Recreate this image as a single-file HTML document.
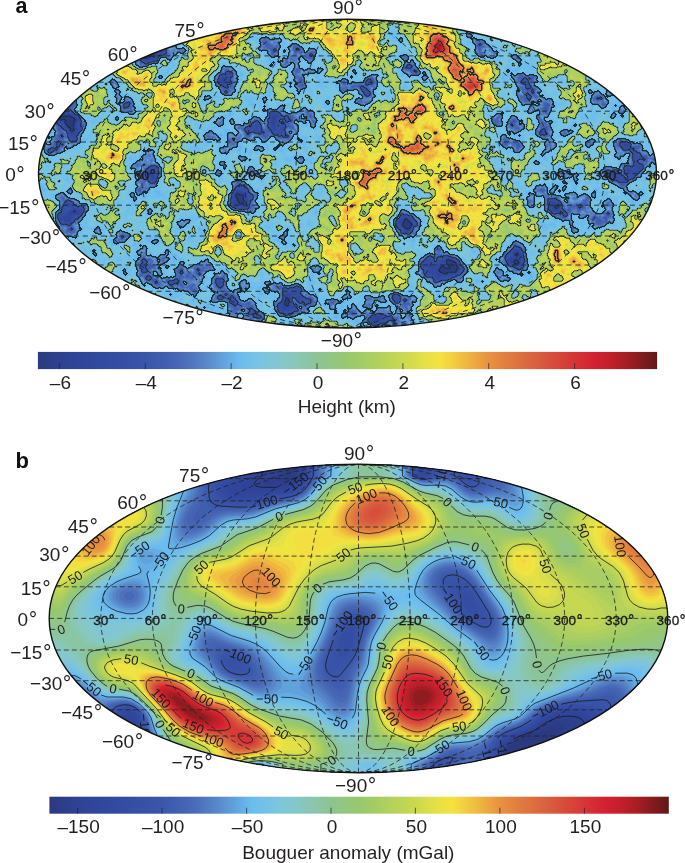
<!DOCTYPE html><html><head><meta charset="utf-8"><title>Figure</title>
<style>html,body{margin:0;padding:0;background:#fff;}svg{display:block;}</style></head><body>
<svg width="685" height="863" viewBox="0 0 685 863" font-family='"Liberation Sans", Arial, Helvetica, sans-serif'>
<defs><clipPath id="ca"><path d="M38.5 173.6A309 154.4 0 1 0 656.5 173.6A309 154.4 0 1 0 38.5 173.6Z"/></clipPath><clipPath id="cb"><path d="M49.2 618.4A309.3 154.3 0 1 0 667.8 618.4A309.3 154.3 0 1 0 49.2 618.4Z"/></clipPath></defs>
<filter id="fa" filterUnits="userSpaceOnUse" x="30" y="12" width="636" height="324" color-interpolation-filters="sRGB">
<feGaussianBlur in="SourceGraphic" stdDeviation="1.0" result="f"/>
<feTurbulence type="fractalNoise" baseFrequency="0.065" numOctaves="4" seed="7" result="n0"/>
<feColorMatrix in="n0" type="matrix" values="1 0 0 0 0 1 0 0 0 0 1 0 0 0 0 0 0 0 0 1" result="n"/>
<feComposite in="f" in2="n" operator="arithmetic" k2="1" k3="0.38" k4="-0.19" result="p"/>
<feComponentTransfer in="p" result="col"><feFuncR type="table" tableValues="0.169 0.169 0.169 0.169 0.169 0.169 0.169 0.169 0.169 0.169 0.169 0.169 0.169 0.169 0.169 0.169 0.169 0.169 0.169 0.169 0.169 0.169 0.169 0.169 0.169 0.169 0.169 0.173 0.173 0.176 0.176 0.176 0.18 0.18 0.18 0.18 0.184 0.184 0.184 0.188 0.188 0.188 0.188 0.192 0.192 0.192 0.192 0.196 0.196 0.196 0.2 0.2 0.204 0.204 0.204 0.208 0.208 0.212 0.212 0.212 0.216 0.216 0.22 0.22 0.224 0.224 0.227 0.227 0.235 0.239 0.247 0.251 0.259 0.263 0.271 0.275 0.282 0.29 0.298 0.306 0.314 0.322 0.333 0.341 0.349 0.357 0.365 0.373 0.38 0.384 0.392 0.4 0.404 0.408 0.408 0.412 0.416 0.42 0.424 0.424 0.427 0.431 0.435 0.439 0.443 0.447 0.451 0.455 0.459 0.463 0.467 0.467 0.471 0.475 0.478 0.478 0.482 0.486 0.49 0.494 0.514 0.533 0.545 0.557 0.573 0.592 0.62 0.627 0.635 0.643 0.651 0.659 0.667 0.675 0.682 0.69 0.698 0.706 0.714 0.722 0.733 0.741 0.753 0.761 0.773 0.78 0.792 0.808 0.82 0.831 0.847 0.859 0.871 0.882 0.894 0.902 0.91 0.922 0.929 0.937 0.945 0.953 0.957 0.957 0.953 0.953 0.953 0.949 0.949 0.949 0.949 0.945 0.945 0.945 0.941 0.941 0.941 0.937 0.933 0.933 0.929 0.925 0.922 0.922 0.918 0.914 0.91 0.91 0.906 0.902 0.898 0.894 0.89 0.89 0.886 0.882 0.878 0.875 0.871 0.867 0.863 0.863 0.859 0.855 0.851 0.847 0.847 0.847 0.847 0.843 0.843 0.843 0.843 0.843 0.843 0.839 0.839 0.839 0.839 0.839 0.835 0.835 0.835 0.835 0.835 0.835 0.831 0.831 0.831 0.827 0.82 0.808 0.796 0.784 0.773 0.761 0.749 0.737 0.729 0.714 0.69 0.671 0.647 0.627 0.604 0.584 0.561 0.541 0.518 0.498 0.475 0.455 0.431 0.412 0.388 0.376 0.376"/><feFuncG type="table" tableValues="0.227 0.227 0.227 0.227 0.227 0.227 0.227 0.227 0.227 0.227 0.227 0.227 0.227 0.227 0.227 0.227 0.227 0.227 0.227 0.227 0.227 0.227 0.227 0.227 0.227 0.227 0.231 0.235 0.239 0.243 0.243 0.247 0.251 0.255 0.255 0.259 0.263 0.263 0.267 0.267 0.271 0.271 0.275 0.275 0.278 0.278 0.282 0.282 0.286 0.286 0.29 0.294 0.298 0.298 0.302 0.306 0.306 0.31 0.314 0.314 0.318 0.322 0.322 0.325 0.329 0.329 0.333 0.337 0.345 0.353 0.361 0.369 0.376 0.384 0.392 0.4 0.408 0.42 0.435 0.451 0.467 0.482 0.502 0.518 0.537 0.561 0.58 0.604 0.627 0.647 0.671 0.694 0.702 0.71 0.718 0.725 0.733 0.737 0.741 0.741 0.745 0.745 0.749 0.749 0.753 0.753 0.753 0.757 0.757 0.761 0.761 0.765 0.765 0.765 0.765 0.769 0.769 0.773 0.773 0.773 0.78 0.784 0.773 0.773 0.776 0.784 0.792 0.796 0.796 0.8 0.804 0.804 0.808 0.812 0.812 0.816 0.82 0.82 0.824 0.827 0.831 0.831 0.835 0.839 0.843 0.847 0.851 0.855 0.859 0.863 0.867 0.871 0.875 0.878 0.882 0.886 0.886 0.89 0.894 0.894 0.898 0.902 0.898 0.886 0.875 0.863 0.855 0.843 0.831 0.82 0.812 0.8 0.788 0.78 0.769 0.757 0.745 0.729 0.714 0.694 0.678 0.663 0.643 0.627 0.612 0.592 0.576 0.561 0.549 0.541 0.529 0.522 0.51 0.502 0.49 0.478 0.471 0.459 0.451 0.439 0.427 0.42 0.408 0.4 0.388 0.38 0.369 0.357 0.345 0.337 0.325 0.314 0.306 0.294 0.282 0.271 0.263 0.251 0.239 0.231 0.22 0.208 0.196 0.188 0.176 0.165 0.157 0.145 0.133 0.125 0.125 0.125 0.125 0.125 0.125 0.125 0.125 0.125 0.125 0.125 0.122 0.122 0.118 0.118 0.114 0.114 0.11 0.11 0.106 0.106 0.102 0.102 0.098 0.098 0.094 0.094 0.094"/><feFuncB type="table" tableValues="0.494 0.494 0.494 0.494 0.494 0.494 0.494 0.494 0.494 0.494 0.494 0.494 0.494 0.494 0.494 0.494 0.494 0.494 0.494 0.494 0.494 0.494 0.494 0.494 0.494 0.498 0.506 0.518 0.525 0.533 0.545 0.553 0.561 0.573 0.576 0.58 0.584 0.588 0.588 0.592 0.596 0.6 0.604 0.608 0.612 0.616 0.62 0.624 0.627 0.627 0.631 0.631 0.635 0.635 0.639 0.643 0.643 0.647 0.647 0.651 0.651 0.655 0.655 0.659 0.659 0.663 0.663 0.667 0.675 0.678 0.682 0.686 0.694 0.698 0.702 0.706 0.714 0.722 0.729 0.741 0.749 0.757 0.769 0.78 0.792 0.808 0.827 0.843 0.859 0.875 0.89 0.91 0.918 0.922 0.929 0.933 0.937 0.941 0.937 0.933 0.929 0.925 0.925 0.922 0.918 0.914 0.914 0.91 0.906 0.902 0.898 0.894 0.89 0.882 0.878 0.875 0.867 0.863 0.855 0.847 0.804 0.737 0.643 0.561 0.498 0.435 0.408 0.404 0.4 0.396 0.392 0.388 0.384 0.376 0.373 0.369 0.365 0.361 0.353 0.349 0.345 0.337 0.333 0.325 0.322 0.314 0.31 0.306 0.302 0.298 0.29 0.286 0.282 0.278 0.275 0.271 0.267 0.263 0.263 0.259 0.255 0.251 0.251 0.251 0.251 0.251 0.251 0.251 0.251 0.251 0.251 0.251 0.251 0.251 0.251 0.251 0.251 0.251 0.251 0.251 0.251 0.251 0.251 0.251 0.251 0.251 0.251 0.251 0.251 0.251 0.251 0.251 0.251 0.251 0.251 0.251 0.251 0.251 0.251 0.251 0.251 0.251 0.251 0.251 0.251 0.251 0.247 0.247 0.243 0.239 0.239 0.235 0.231 0.231 0.227 0.224 0.224 0.22 0.216 0.216 0.212 0.208 0.208 0.204 0.2 0.2 0.196 0.192 0.192 0.188 0.184 0.18 0.176 0.176 0.173 0.169 0.165 0.161 0.157 0.157 0.153 0.149 0.145 0.141 0.137 0.133 0.129 0.125 0.122 0.118 0.114 0.11 0.106 0.102 0.098 0.094 0.094"/></feComponentTransfer>
<feComponentTransfer in="p" result="q"><feFuncR type="discrete" tableValues="0 0 0 0 0 0 0 0 0 0 0 0 0 0 0 0 .1 .1 .1 .1 .1 .1 .1 .1 .1 .1 .1 .1 .1 .1 .1 .1 .1 .2 .2 .2 .2 .2 .2 .2 .2 .2 .2 .2 .2 .4 .4 .4 .4 .4 .4 .4 .4 .4 .4 .4 .4 .4 .4 .4 .4 .5 .5 .5 .5 .5 .5 .5 .5 .5 .5 .5 .5 .6 .6 .6 .6 .6 .6 .6 .6 .6 .6 .6 .6 .6 .6 .6 .6 .6 .6 .6 .6 .8 .8 .8 .8 .8 .8 .8 .8 .8 .8 .8 .8 .8 .8 .8 .8 .8 .8 .9 .9 .9 .9 .9 .9 .9 .9 .9 .9 .9 .9 .9 .9 .9 .9 .9"/></feComponentTransfer>
<feConvolveMatrix in="q" order="3" kernelMatrix="0 -1 0 -1 4 -1 0 -1 0" preserveAlpha="true" result="e1"/>
<feConvolveMatrix in="q" order="3" kernelMatrix="0 1 0 1 -4 1 0 1 0" preserveAlpha="true" result="e2"/>
<feComposite in="e1" in2="e2" operator="arithmetic" k2="1" k3="0.35" result="e"/>
<feColorMatrix in="e" type="matrix" values="0 0 0 0 0.1 0 0 0 0 0.16 0 0 0 0 0.16 6 0 0 0 0" result="ln0"/>
<feGaussianBlur in="ln0" stdDeviation="0.4" result="ln"/>
<feComposite in="ln" in2="col" operator="over"/>
</filter>
<g clip-path="url(#ca)"><g filter="url(#fa)">
<rect x="30" y="12" width="636" height="324" fill="#020202"/>
<path d="M34.5 15.2l626 0 0 316-626 0 0-316z" fill="#060606" fill-rule="evenodd"/>
<path d="M34.5 15.2l626 0 0 316-626 0 0-316z" fill="#0a0a0a" fill-rule="evenodd"/>
<path d="M34.5 15.2l626 0 0 316-626 0 0-316z" fill="#0e0e0e" fill-rule="evenodd"/>
<path d="M34.5 15.2l626 0 0 316-626 0 0-316z" fill="#121212" fill-rule="evenodd"/>
<path d="M34.5 15.2l626 0 0 316-626 0 0-316z" fill="#161616" fill-rule="evenodd"/>
<path d="M34.5 15.2l626 0 0 316-626 0 0-316z" fill="#1a1a1a" fill-rule="evenodd"/>
<path d="M34.5 15.2l626 0 0 316-626 0 0-316z" fill="#1e1e1e" fill-rule="evenodd"/>
<path d="M34.5 15.2l626 0 0 316-626 0 0-316z" fill="#222222" fill-rule="evenodd"/>
<path d="M34.5 15.2l626 0 0 316-626 0 0-316zM142.5 39l-2 .5-1 1.7 1 2.1 4 2.4 2 .4 3-.9 .7-2-1.2-2-4-2-2.5-.2z" fill="#262626" fill-rule="evenodd"/>
<path d="M34.5 15.2l626 0 0 316-626 0 0-316zM140.5 37.1l-2 .4-2.2 1.7 .1 2 3.4 4 3.3 2 3.4 .9 4-.3 2-1.7 .4-2.9-1.1-2-2.4-2-4.9-1.7-4-.4z" fill="#2a2a2a" fill-rule="evenodd"/>
<path d="M34.5 15.2l626 0 0 316-626 0 0-316zM134.5 37.1l-.9 2.1 1.9 4 3 2.8 4 2.4 4 1.3 4 0 2-.6 2.1-1.9 .4-4-1-2-3.5-2.8-8-2.4-4-.1-4 1.2z" fill="#2e2e2e" fill-rule="evenodd"/>
<path d="M34.5 15.2l626 0 0 316-626 0 0-316zM134.5 35l-3.1 2.2 .9 4 3.3 4 4.9 3.5 6 2.3 4 .3 4-1.3 2-2.2 .7-2.6-1.4-4-5-4-8.3-2.2-8 0zM290.5 305l0 .9 .5-.7-.5-.2zM442.5 266.8l-2.9 2.4 .7 2 4.2 .9 3-.9 1.1-2-1.6-2-4.5-.4z" fill="#323232" fill-rule="evenodd"/>
<path d="M34.5 15.2l626 0 0 316-626 0 0-316zM58.5 110.8l-.1 6.4 2.1 5.9 4 4.6 2 .7 2-.2 1.3-1 .7-2.6-4-9.2-4-5.1-2-.9-2 1.4zM130.5 34.7l-1.4 2.5 1.5 4 3.9 4.5 6 4.1 6 2.3 4 .4 4-.7 3.4-2.6 .8-2-.2-4-2.7-4-2.8-2-5.1-2-7.4-1.3-6-.2-4 1zM288.5 302.2l-2 1.9 0 3.2 2 1.9 2 .4 2.4-.4 1.6-1.3 1-2.7-.8-2-2.2-1.3-4 .3zM440.5 264.8l-3.5 2.4-.8 2 .3 2 2 2 4 1.1 4-.2 2.7-.9 2.3-2 .5-2-.8-2-2.3-2-4.4-1-4 .6z" fill="#363636" fill-rule="evenodd"/>
<path d="M34.5 15.2l626 0 0 316-626 0 0-316zM58.5 106l-2 2.4-.5 4.8 .5 4.3 2 6.4 2 3.7 3.6 3.6 2.4 .8 4-.5 2.7-2.3 .7-2-.8-4-8.6-14.2-4-3-2 0zM130.5 32.8l-2 .5-1.5 1.9 .9 4 4.5 6 6.1 4.6 8 3.4 6 .5 4-1.1 3.3-3.4 .6-2-.4-4-2.5-4-2.6-2-4.4-2-8-1.8-12-.6zM286.5 301.1l-2 2.1-.5 2 .3 2 2.2 2.6 4 1.4 2-.3 4-2.5 1.2-3.2-.5-2-1.8-2-4.9-1.3-4 1.2zM440.5 262.9l-4 2-2 2.3-.4 4 2.4 2.9 4 1.5 6 .1 4-1.2 2.1-1.3 1.5-2 .3-2-.6-2-3.3-3.2-4-1.4-6 .3z" fill="#3a3a3a" fill-rule="evenodd"/>
<path d="M34.5 15.2l626 0 0 316-626 0 0-316zM56.5 104.2l-1.5 3-.4 6 1.4 8 2.5 6.8 2 3.2 4 3.1 4 .4 4-1.4 2.6-2.1 1.5-4-2.3-6-9.8-14.8-4-2.9-2-.2-2 .9zM126.5 31.9l-1.7 1.3-.1 2 2.8 6 5 5.4 6 4.3 8 3.3 6 .7 4-.7 4.1-3 1.4-4-.5-4-2.5-4-2.5-2.1-4-2-8-2.1-12-1.4-6 .3zM288.5 298.7l-4.6 2.5-1.3 2 0 4 1.2 2 2.7 2.1 4 .9 4.7-1 2.7-2 1.2-2 .4-2-1-3.3-4-2.9-6-.3zM442.5 261.1l-6.5 2.1-3.5 4-.3 4 2.3 3.5 4 1.9 6 .6 6-1.1 4.5-2.9 1.4-4-1.9-4.1-2.1-1.9-3.9-1.7-6-.4zM66.5 211.2l-2 .6-.9 1.4-.6 4 1.5 4 2 1.4 2 .4 3.1-1.8 .7-2-.3-2-2.3-4-3.2-2z" fill="#3e3e3e" fill-rule="evenodd"/>
<path d="M34.5 15.2l87.6 0 0 18 4 8 5.6 6 6.8 4.6 8 3.3 6 .9 5.3-.8 3.1-2 2.2-4-.2-6-2.4-4-5.8-4-6.2-2-11.8-2-1.6-2 0-14 525.4 0 0 316-626 0 0-316zM56.5 101.6l-1.6 1.6-.9 2-.6 6 1.1 9.4 2.8 8.6 2.3 4 2.9 2.8 4 1.1 6-1.5 3.6-2.4 1.7-2 .8-2-.3-4-9.8-15.7-4-5.2-4-2.7-4 0zM242.5 193.2l-1.9 2 .1 2 1.8 2 2 .1 1.8-2.1-.2-2-1.6-1.8-2-.2zM290.5 297.2l-4 .7-2.7 1.3-1.9 2-1.1 4 1.3 4 2 2 6.4 2 4-.6 2.9-1.4 2.1-2 1.6-4-1-4-1.9-2-3.7-1.6-4-.4zM438.5 260.6l-4.9 2.6-2.8 4-.3 4 .7 2 3.3 3.3 6 1.7 6 0 6-1.5 4.6-3.5 .8-2-.3-4-3.1-4.2-4-2.2-4-.9-8 .7zM64.5 208.1l-2 1.5-1.3 3.6-.1 4 .9 4 1.2 2 3 2 4.5 0 1.8-.9 2-2.4 .1-4.7-4.1-6.6-4-2.5-2 0z" fill="#424242" fill-rule="evenodd"/>
<path d="M34.5 15.2l83.9 0 .2 16 7.7 12 6.6 6 6.5 4 7.1 2.8 8 1.1 6-1.6 2.5-2.3 1.7-4-.5-6-2.3-4-5.3-4-5.6-2-10.1-2-1.3-2 0-14 520.9 0 0 316-424.5 0 0-12-1.5-.5-.4 12.5-199.6 0 0-316zM54.5 100.8l-1.8 4.4-.3 8 1.6 10 2.6 8 2.2 4 3.7 3.2 4 .8 6-1.6 4-2.4 3.5-4 .7-2-.6-4-11.6-17.9-4-4.9-2-1.5-4-1.5-2 .2-2 1.2zM242.5 190.5l-2 .8-1.6 1.9-.5 4 2.1 3.2 2 1.1 2 .1 2-.7 1.7-1.7 .5-4-2.2-3.6-4-1.1zM286.5 296.6l-4.9 2.6-2.1 4 .3 4 2.6 4 3.6 2 4.5 .8 5-.8 3.7-2 1.9-2 1.5-4-.7-4-1.4-2-3.1-2-2.9-.8-8 .2zM440.5 258.8l-6.5 2.4-3.9 4-1.1 6 1.7 4 3.8 2.7 8 1.5 8-.9 3.9-1.3 2.9-2 1.5-2 .8-4-1.1-3.3-2-2.8-2.3-1.9-4.6-2-5.1-.7-4 .3zM62.5 206.3l-2 2.8-.8 4.1 .2 6 1.2 4 1.4 2 3.6 2 2.4 .3 4-.8 2.5-1.5 1.5-2 .5-4-1.3-4-3.2-4.9-4-3.7-4-1.1-2 .8z" fill="#464646" fill-rule="evenodd"/>
<path d="M34.5 15.2l81.2 0 .3 16 9 12 6.5 6 7 4.4 8 3.3 8 1.3 6-1.1 4-3.5 1.6-4.4-.5-6-2.2-4-5.1-4-5-2-9.1-2-1.2-2 0-14 517.5 0 0 316-418.6 0 .5-18-1.9-4.1-2-1.2-2 0-2 .9-2 2.1-5.8 8.3 0 12-192.2 0 0-316zM54.5 98.5l-2 2.6-.5 2.1-.4 10 1.4 10 3.5 11.4 2 3.2 4 2.9 4 .5 6-1.8 4-2.2 4.3-4 1.8-4-.8-4-13.3-19.9-3.5-4.1-2.5-1.9-4-1.5-4 .7zM122.5 102.4l0 1.9 2 1.2 1.3-.3 1.2-2-2.5-1.9-2 1.1zM144.5 172.5l0 2.1 2-1.4-2-.7zM240.5 189l-2 1.6-1.5 2.6-.2 4 .8 2 1.6 2 3.3 1.9 4-.3 2.4-1.6 1.2-2 .5-2-.7-4-1.4-2.4-2-1.6-4-.7-2 .5zM268.5 124l-2 1.2-.4 2 2.4 1.7 4 .1 3.7-1.8 .1-2-1.8-1.2-2-.7-4 .7zM288.5 295.1l-6 1.7-2.9 2.4-1.6 4 .4 4 .9 2 3.2 3.2 4 1.8 6 .4 5.3-1.4 3-2 2.7-4 .5-4-.4-2-1.1-2.1-4-2.9-4-1-6-.1zM408.5 222.3l-.7 .9 .7 2.2 1.1-2.2-1.1-.9zM436.5 258.6l-6 3.8-2.6 4.8 .1 6 2.8 4 5.7 2.5 10 .5 8-1.8 4.7-3.2 1.3-2.1 .5-3.9-1.4-4-3.3-4-3.8-2.3-6-1.4-6 .2-4 .9zM516.5 254.9l-4 2-2 2.3-1.5 4 .1 2 1.4 2.2 2 .5 3.1-.7 2.6-2 1.4-2 .9-2.2 0-3.8-1.8-2-2.2-.3zM632.5 152.9l-3.1 2.3-1.6 4 1 4 1.7 1.2 2 .2 4-2.1 2-2.6 .9-2.7-.1-2-1.5-2-3.3-.7-2 .4zM62.5 203.7l-2 1.8-2 6.6 .1 7.1 1.9 6 2 2.2 4 1.7 4-.1 4-1.2 3.2-2.6 1-2 .1-4-1.5-4-2.8-4.7-4-4.4-4-2.5-4 .1z" fill="#4a4a4a" fill-rule="evenodd"/>
<path d="M34.5 15.2l78.8 0 .4 16 2.8 2.5 9.1 11.5 7.3 6 7.6 4.3 8 2.8 8 1 6-1.6 2.7-2.5 1.9-4 .3-6-2.7-6-4.2-3.7-5.1-2.3-8.3-2-1.1-2 0-14 514.5 0 0 316-415.9 0 .5-16-.6-5.6-2.6-4.4-3.4-1.9-2-.1-4.4 2-5.9 10-3.9 4 0 12-187.8 0 0-316zM54.5 96.4l-2.7 2.8-.9 4-.2 6 1 12 2.8 12.1 2.9 5.9 3.1 2.9 4 1 6-1.2 6-3 4.5-3.7 2.8-4 .4-4-1.9-4-15.8-22.2-6-4.1-4-.8-2 .3zM124.5 99.2l-2 .2-2 1.5-.7 2.3 .7 2.5 2 1.7 2 .3 2-.3 2-1.4 1.1-2.8-1.1-2.1-4-1.9zM144.5 166.1l-2.6 3.1-1.3 6 1.3 4 2.6 1.8 2-.4 2-2 1.3-5.4-1.3-5.2-2-2-2 .1zM224.5 75l-2 .3-2 1.8-.2 2.1 1.6 2 2.6 .6 2.7-.6 1.7-2-.4-2.2-2-1.6-2-.4zM240.5 187.2l-2 1.1-2.3 2.9-.9 4 .8 4 2.4 3.1 4 2.1 4-.1 2-.8 2-1.8 1.3-2.5 .3-4-1.3-4-2.3-2.7-2-1.2-4-.6-2 .5zM272.5 46.8l-1.2 2.4 1.6 2 1.6 .7 6 .6 2.6-1.3-.3-2-2.4-2-3.9-1-4 .6zM284.5 294.8l-5.1 2.4-2.5 4 .2 6 2.4 4 5 3.1 6 1.1 6-.9 5.8-3.3 2.5-4 .7-4-1-4-1.6-2-3.5-2-4.9-1-10 .6zM406.5 218.6l-2 2.6 0 4 2 3.1 2 1.3 2-.1 2.2-2.3 .4-2-.6-3.6-2-2.7-2-.7-2 .4zM438.5 256.9l-6.2 2.3-2.6 2-2.5 4-1 6 1.2 4 1.4 2 5.7 3.2 10 .9 10-1.7 4-2 2-1.9 1.9-4.5-.6-4-2.1-4-3.2-3.3-4-2.2-4-1.1-10 .3zM514.5 252.4l-5.4 4.8-2.8 6 .2 4.3 1.2 1.7 2.8 1.4 4-.2 4-2 2.8-3.2 1.8-4 .5-4-1.5-4-3.6-1.7-4 .9zM558.5 205.6l-1.1 1.6 1.1 3.6 2 1.5 2 .3 1.7-1.4-.4-2-1.3-2-2-1.3-2-.3zM630.5 150.8l-3.4 2.4-1.5 2-1.6 6 .4 4 1 2 2.1 2 3 .7 4-1.6 4-3.6 3.2-5.5 .8-4-2-3.9-2-1-4-.5-4 1zM60.5 202.7l-2.3 4.5-.8 8 .9 8 1.8 4 2.4 2.2 4 1.2 6-.4 4-1.6 3.4-3.4 .8-4-1-4-3.1-6-4.1-5.2-4-3.3-4-1.4-2 .2-2 1.2zM272.5 119.2l-6 .9-5 3.1-2.2 4 .4 2 1.7 2 5.1 1.9 6 .1 6-1.4 4.4-2.6 1.4-2 .1-2-1.1-2-4.8-3-6-1z" fill="#4e4e4e" fill-rule="evenodd"/>
<path d="M34.5 15.2l76.7 0 .3 16 4.8 4 8 10 7.2 6 9 5.1 8 2.9 8 1.2 6-1.1 4-3.5 2-4.6 .2-6-2.6-6-3.6-3.4-5.2-2.6-7.5-2-1.1-2 0-14 511.8 0 0 316-261.1 0 0-12 .8-2-1.7-1.5-7.1 1.5-5.4 2 0 12-139.4 0 .6-18-.9-6-1.8-3.7-2-2-6-2-4 .4-2.2 1.3-1.8 2.2-5.4 11.8-5.1 4 0 12-183.5 0 0-220.2 14 0 2 7.4 2 12 2 6.7 2.1 4.1 3.9 3.2 6 .4 8.8-3.6 7.6-6 1.6-2.1 1.4-3.9-.1-2-2-4-7.9-10-7.4-11.6-6-5.2-4-1.5-4-.4-2 .7-1.5 2-2.5 5.8-14 0 0-87.8zM120.5 98.6l-2 2.6-.3 2 .3 2 2 2.8 4 1.3 5.2-2.1 1.5-2 .2-2-.7-2-2.1-2-4.1-1.4-4 .8zM144.5 162.9l-2 1.4-2 2.9-2 8 .5 4 1.5 3.1 2 1.6 2 .4 3.2-1.1 2-2 1.7-4 .3-4-.6-4-1.7-4-2.9-2.4-2 .1zM224.5 73l-2 .2-3.1 2-1.2 2-.1 2 .7 2 1.7 1.6 2 .8 4 .1 2-.6 2.3-1.9 .8-2-.2-2-2.9-3.2-4-1zM242.5 185.1l-4 1.3-2.8 2.8-1.6 4 .1 4 1.8 4 2.5 2.5 4 1.9 4 .1 4-1.9 2-2.6 1-4-.4-4-1.7-4-1.9-2-3-1.6-4-.5zM270.5 44.4l-1.6 .8-1.4 2-.2 2 1.2 2.4 4 2.6 6 1.6 6 .4 5.2-1 1.3-2-2.2-4-6-4-6.3-1.5-6 .7zM404.5 217.2l-2 4 0 3.1 1 2.9 3 3.8 2 1 2 .2 2-1 2-3.4 .4-2.6-.4-3-1.4-3-2.6-2.7-2-.7-2 .2-2 1.2zM434.5 256.8l-6 3.8-1.9 2.6-1.4 4 0 6 1.3 3.2 2.6 2.8 3.4 1.7 4 .9 12 0 9.6-2.6 4.5-4 1.2-4-.7-4-2.6-4.8-4-3.9-4-2-6-1.2-6 .2-6 1.3zM480.5 41.4l-1.9 1.8 1.9 1.2 2-.6 0-1-2-1.4zM518.5 249.1l-6 1.9-4 3.8-2 3-2.4 7.4 .6 4 1.8 2.2 4 1.3 6-.9 4-2.6 3-4 2.1-6-.5-6-2.6-3.1-4-1zM554.5 198.8l-2.2 2.4-.3 4 1.9 6 2.6 3.7 4 2.5 4 .6 4.5-.8 2.6-2 .4-2-.5-2-2.4-4-3.7-4-5.9-4-3-.7-2 .3zM630.5 148.6l-4 2.1-2.5 2.5-2.1 4-1.1 6 .3 4 1.4 4.1 2 2.6 4 1.7 4-1.6 6-5.8 4-5.9 2-7.1-1.1-4-2.9-2.4-4-.9-6 .7zM60.5 200.4l-2.2 2.8-1.7 8 .2 10 1.7 6 2 2.7 2 1.3 4 1 6-.4 6-2.5 2.3-2.1 1.7-4-.5-4-3.5-7.2-5.1-6.8-4.9-4.2-4-1.5-4 .9zM146.5 259l-2 .7-1.3 1.5-.8 2 .4 4 3.5 4 4.9 2 21.3 4.7 18-.2 14 2.1 4.6-.6-.4-2-2.1-2-3.9-2-7.4-2-6.8-.4-14 .6-8-1.1-8-4.2-8-5.8-4-1.3zM268.5 116.9l-6.7 2.3-2.9 2-3.5 4-1.3 4 .6 2 1.9 2 3.9 1.9 4 .8 10-.2 9.2-2.5 5.3-4 1-2-.8-4-4.5-4-8.2-2.5-8 .2zM288.5 293.1l-8 1.8-3.3 2.3-1.3 2-.8 4 1.6 6 3.7 4 6.1 2.4 8 .1 6.8-2.5 3.9-4 1.5-4 .2-4-1.7-4-2.7-2.2-4-1.3-10-.6z" fill="#525252" fill-rule="evenodd"/>
<path d="M34.5 15.2l74.6 0 .4 16 5 3.7 10.6 12.3 8.1 6 9.3 4.8 8 2.6 8 .9 6-1.7 2.7-2.6 2.6-6 .2-6-2.5-6-3-3-5.3-3-6.9-2-1-2 0-14 509.2 0 0 316-254.5 0 .7-18-2.2-2.9-2-.7-4 .7-10 3.8-8 1.6-3.2 1.5 0 14-128.9 0 .7-20-1.7-8-2.9-3.7-2-1.3-4-1.5-6-.9-4 .3-2 1.3-4.9 15.8-4.1 4-4.9 2 0 12-178.1 0 0-210.5 14 0 2 4 2 10.2 2 5.8 2 3.3 4 2.6 4 .2 4-.9 8-3.9 8.2-6.8 1.8-2.7 1-3.3-.1-2-2.1-4-8.2-10-8.6-13.3-4-3.7-4-2.1-6-1.4-2 0-4 1.9-14 0 0-79.4zM120.5 97l-2.5 2.2-1.1 4 1.1 4 1.9 2 2.6 1.1 4-.1 2.7-1 2.4-2 1.2-2 .2-2-2.4-4-4.1-2.2-4-.5-2 .5zM144.5 160.5l-3.4 2.7-2.4 4-1.6 6-.3 4 1.7 6.7 2 2.1 4 1.1 4-1.4 2-1.9 2-4 .8-4.6-.5-6-2.3-5.9-2-2.2-2-.9-2 .3zM220.5 72.4l-2 1.5-1.9 3.3 .5 4 1.3 2 2.1 1.3 4 1 4-.6 3-1.7 2.2-4-1.2-4.2-2-1.9-4-1.5-6 .8zM238.5 184.7l-3.1 2.5-2.1 4-.5 4 1.7 5.5 4 4.2 4 1.8 4 .2 4-1.4 2.4-2.3 1.6-4 0-6-1.4-4-2.6-3.3-4-2-4-.3-4 1.1zM268.5 43.1l-2.6 2.1-1.2 4 2.1 4 3.7 2.4 8 2.4 12 1.9 6-.5 2-2.2 0-2-2.5-4-8.6-6-4.9-2-6-1.1-4 .1-4 .9zM358.5 306.8l-.9 .4-1 2 2.1 2 5.8 1.4 2-.2 1.1-1.2-1.4-2-3.1-2-4.6-.4zM360.5 83.1l-1.6 2.1 .1 2 1.5 1.4 2-.3 1.1-1.1 .4-2-1.5-2.2-2 .1zM404.5 214.7l-2.3 2.5-1.3 4 .9 6 2.5 4 2.2 1.9 4 1.2 2-.6 2.4-2.5 1.3-4-.1-4-1.3-4-2.3-3.2-2-1.5-4-.6-2 .8zM436.5 255.1l-4 1.2-4 2.4-3.3 4.5-1.2 4-.3 4 .8 4.2 2.4 3.8 3.1 2 4.5 1.3 10 .5 11.6-1.8 4.4-2 2.3-2 2-4 .1-4-2.5-6-3.9-4.5-4-2.5-6-1.7-6-.2-6 .8zM476.5 39.1l-1.9 2.1 .3 2 1.2 2 2.4 1.8 4 .8 2.2-.6 1.8-2 .2-2-2.2-3-4-1.5-4 .4zM518.5 247.1l-4 .8-4 2.4-4 4.6-2.4 4.3-1.8 6 .2 3.7 1.1 2.3 2.9 2.4 6 .8 5-1.2 5-3.6 2.9-4.4 2.1-8-1-6-1.5-2-2.5-1.5-4-.6zM520.5 77.8l-.4 1.4 1.4 2 1 .8 2-.3-.5-2.5-1.5-1.5-2 .1zM552.5 194.4l-3.3 2.8-.7 2 .1 4 3.9 10.3 2.8 3.7 3.2 2.2 8 1.5 12-1.4 12 3.2 4 .2 4-1 2.7-2.7 .1-2-.8-1.6-4-2.1-16-.9-4-2.7-8.4-8.7-5.6-4.5-6-2.5-4 .2zM608.5 90.1l-2.6 3.1-.7 4 1.3 3 2 .5 2.6-1.5 1.9-4-.7-4-1.8-1.3-2 .2zM630.5 146.8l-5.3 2.4-3.8 4-2.5 6-.9 6 .3 6 2.2 6 4 5.1 4 1.7 2-.6 2-2.2 10-15.5 2.2-4.5 1.5-6-.6-4-3.1-3.4-6-1.6-6 .6zM60.5 198.3l-2.7 2.9-1.9 8 .1 12 2.1 8 2.4 2.7 6 1.7 6-.4 6-2 2.9-2 2.5-4 .1-4-2.3-6-5.2-8.1-6-6.4-6-2.9-4 .5zM142.5 255.1l-2.2 2.1-1.7 4-.1 6 2 4 6 3.8 24 7.1 24 0 20 5.2 2.1-.1 1.7-2-.6-4-2.3-4-4.6-4-4-2-6.3-2.2-8-1.6-18 .3-6-.8-8-3.5-12-8.3-4-.7-2 .7zM222.5 129.2l-2.3 2 .5 2 3 2 2.8 .5 4-.4 2.3-2.1-1-2-3.3-1.6-6-.4zM266.5 115l-8 3.4-7.6 6.8-2.6 4-.5 2 .7 2 2.2 2 4.8 2 5 1 14-.1 12.1-2.9 3.9-2 3.9-4 .6-2-.6-4-3.3-4-3.2-2-9.4-2.6-6-.3-6 .7zM282.5 292.9l-6 2.6-1.6 1.7-1.3 4 .8 6 2.3 4 2.1 2 5.7 2.6 8 .7 6.4-1.3 3.9-2 2.2-2 2.5-4 1-4-.3-4-2.5-4-3.8-2-5.4-.9-8-.1-6 .7z" fill="#565656" fill-rule="evenodd"/>
<path d="M34.5 15.2l72.5 0 .5 16 5.8 4 10.5 12 8 6 8.7 4.7 10 3.5 8 1.3 6-1.2 4-3.7 2.6-6.6 .2-6-1.2-4-3.6-4.6-5.4-3.4-6.4-2-.9-2 0-14 506.7 0 0 316-250.5 0 .1-16-1.6-6-2-2.3-2-.8-4 .3-12 4.7-6 .7-6-1.2-12-6.7-6-1.1-4 .8-3 1.6-1.4 2 .1 2 1.6 2 3.3 2 11.4 3.6 4.9 2.4 0 12-121.3 0 0-12 .9-10-.9-6-1.6-3.5-4-3.6-14-4.7-3.6-2.2-2.4-2.8-5.4-9.2-4.1-4-7.5-4-13-3.9-6-.6-14 .4-6-.8-8-3.7-12-8.9-4-1.1-4 1.3-2 2-1.9 3.3-1.2 4-.5 4 .6 4 2.3 4 2.6 2 4.5 2 25.6 8 6 .5 14-.9 8 1.1 12 4.4 5.3 2.9 2.7 2.3 2 3.7 .7 4-.2 4-1.2 4-3 4-2.3 1.4-9.1 2.6 0 12-170.9 0 0-204.2 14 0 2 3.2 2 9 2 5 2 2.6 2 1.3 4 .7 8-2.1 9.4-5.5 6.5-6 2.6-6-.1-2-2.1-4-8.6-10-8.9-14-4.1-4-4.7-2.5-10-3.1-16-.4 0-74zM118.5 96.7l-2 2.5-.8 4 1 4 1.8 2.4 4 1.9 4-.1 4-1.7 2.7-2.5 1.1-4-.6-2-3.2-3.4-6-2.3-4 .2-2 1zM144.5 158.3l-3.9 2.9-2.5 4-2.1 6-.8 6 1.3 8.1 2 2.7 4 1.6 4-.4 4-2.3 2.5-3.7 1.6-6-.1-6-2.3-8-3.7-4.5-2-.6-2 .2zM220.5 71l-3.1 2.2-2 4 .2 4 2.9 3.8 4 1.6 4 .2 4-1 3.5-2.6 1.1-2 .3-4-2.3-4-3.1-2-3.5-.9-6 .7zM270.5 41.1l-5.1 2.1-2.5 4 .3 4 3.3 4.2 8 3.4 20 5.2 6-.1 3-2.7 .5-4-1.7-4-7-6-8.3-4-4.5-1.4-6-1-6 .3zM360.5 79.2l-4 2.7-1.8 3.3-.3 2 1.4 4 2.7 1.8 2 .3 2-.2 3.2-1.9 1.5-2 .9-4-1.6-4-3.3-2-2.7 0zM404.5 212.7l-2.9 2.5-1.8 4-.3 4 .9 4 2.1 4 4 3.8 4 1.3 2-.4 2-1.2 2.2-3.5 .8-4-.6-6-2.4-4.9-3.3-3.1-2.7-1.1-4 .6zM406.5 62.2l.1 3 1.9 2.4 1.2-.4 .3-2-1.5-3.2-2 .2zM432.5 255l-4 1.9-2.4 2.3-2.3 4-1.1 4 .3 8 1.5 3.3 2.7 2.7 7.3 2.3 14 .1 10-2.1 4-2.2 2-2.1 1.8-4-.7-6-3.1-5.7-4.2-4.3-5.8-2.9-6-1-8 .3-6 1.4zM476.5 37.2l-3.7 2-.5 2 1.5 4 1.9 2 2.8 1.7 4 .8 3.3-.5 2.6-2 .6-4-2.5-3.8-5.5-2.2-4.5 0zM508.5 124.8l-2.5 2.4-1 4 1.5 4.2 2 1.4 2 .2 3.7-1.8 1.8-2 1.8-4 .1-2-.9-2-2.5-1.3-2-.2-4 1.1zM518.5 71.1l-2 1-2 2.9 0 4.3 2 3.9 10.5 12 5.5 14.6 2 2.6 4 2.6 4 1 4-.7 2-2.2 .6-3.9-.7-4-1.9-3.5-11.2-12.5-6.3-12-2.5-3.4-4-2.7-4 0zM550.5 190.9l-3.4 2.3-1.3 2-.6 2 .3 4 5 12.5 2.2 3.5 3.8 3.4 6 2.1 16 .3 14 2.2 6-.7 3.1-1.3 2.2-2 1.3-4-.6-2.5-2-2.4-4-1.7-14-1.6-4-1.2-4-2.6-10-9.3-4-2.9-6-2.4-6 .3zM608.5 83.1l-2 1.2-2.5 2.9-1.5 2.8-1.2 5.2-.1 4 .9 4 2.4 2.6 2 .5 4-1 4-3.2 2.1-2.9 1.8-6-.3-4-1.7-4-3.9-2.5-4 .4zM630.5 145.2l-6 2.3-4.2 3.7-3.7 8-1.6 10 .5 6 3.4 8 5 6 4.6 2 4-1 2-2.3 4.4-12.7 7.2-14 1.5-6-.3-4-2.8-4-6-2.3-8 .3zM60.5 196.4l-2 1.2-2 3.3-1.4 8.3 .2 14 1.2 5.8 1.1 2.2 2.9 2.6 6 1.2 8-.8 6-2.3 3.4-2.7 1.9-4-.2-4-2.5-6-6.6-9.9-6-6.2-6-2.9-4 .2zM266.5 113l-6 1.9-4 2.1-10 7.7-4 2.2-4 .5-14-1.5-6 .9-2.8 2.4 0 4 3.4 4 7.4 2.7 6 .4 12-.7 20 1.4 12-1 10-2 7.2-2.8 4.5-4 1.4-4-.4-4-2.4-4-4.3-3.2-6-2.3-6-1.1-8-.3-6 .7zM512.5 246.9l-4 3.2-3.8 5.1-2.2 4.3-1.7 5.7-.1 4 1.8 3.6 2 1.6 4 1.4 8-.6 6-3.4 4-5.6 2.3-7 .3-4-.6-4-3-4-3-1.4-4-.5-6 1.6zM238.5 183l-4 3-1.9 3.2-.8 6 .9 4 2.5 4 5.3 3.8 6 1 4-1 3.9-3.8 1.4-4 0-6-1.3-4.6-2.3-3.4-3.7-2.4-6-.8-4 1zM292.5 291.2l-14 1.4-4 2-1.9 2.6-.8 4 1.2 6 2.3 4 5.2 3.9 8 1.9 10-1 5.8-2.8 2.1-2 2.5-4 1.3-6-.6-4-1.1-2-2.4-2-3.6-1.3-10-.7z" fill="#5a5a5a" fill-rule="evenodd"/>
<path d="M34.5 15.2l70.4 0 .5 16 6.4 4 10.7 12 7.9 6 10.1 5.5 12 4.1 8 1.1 4-.8 4.7-3.9 2.7-6 .7-8-1.1-4-3-4.2-5.6-3.8-5.9-2-.8-2 0-14 504.3 0 0 316-247.4 0 0-12-1.6-8-2.5-6-2.5-1.9-4-.1-14 5.4-6 .5-6-1.7-12-6.1-6-.9-5.4 .8-4.5 2-2.2 2-.9 2 .3 2 1.5 2 2.8 2 16.4 6 0 12-114.8 0 0-12 1.1-8 0-8-.9-4-3.2-4-4-2-10.2-3.4-4-2.2-4-3.9-8-10.2-6.8-4.3-11.2-4.3-8-2-18 .1-6-.9-8-4-12-9.4-4-1.4-4 .7-2 1.3-3.1 3.9-2.4 6-1 6 .1 4 1.4 4 3 3.1 6 2.7 28 8.9 6 .4 14-.9 8 1.1 11 4.7 3 2 3.8 4 1.9 6-1.2 6-2.5 3-4 2.1-13 2.9 0 12-163 0 0-198.5 14 0 2 2.8 2 8 2 4 4 2.8 4 .3 8-2.3 10-6.1 7.4-7 2.7-6-.2-2-2.2-4-8.9-10-8.8-14.3-4-4.3-4-2.4-10-4.2-4-3.8-14 0 0-69zM58.5 38.5l-2.4 2.7 .6 6 1.8 2.2 2 .8 4-.5 2-1.7 1-2.8-.9-4-2.1-2-2-.7-4 0zM120.5 94.5l-4 2.4-1.2 2.3-.4 6 1.6 4 4 2.9 4 .5 4-.8 4-2.2 2.2-2.4 .8-2-.5-4-1.4-2-2.2-2-4-2-6.9-.7zM144.5 156.4l-4 2.7-2.8 4.1-2.4 6-1.5 8 .3 8 1.8 4 2.6 2.2 4 .8 6-1.4 4-3.1 2.4-4.5 1.1-6-1-10-2.5-6.6-4-4-4-.2zM224.5 69l-4 .8-4 2.7-2.3 4.7 .2 4 2.1 3.7 4 2.5 4 .7 6-.7 3.9-2.2 1.6-2 1.3-4-.8-4-4-4.3-4-1.5-4-.4zM266.5 41l-4 3.2-1.6 5 1.2 4 4.2 4 32.2 11.2 4 0 2-.8 2-2 1.4-4.4-1-6-2.7-4-5-4-8.3-4-8.4-2.6-8-.9-8 1.3zM360.5 77l-4 1.8-2.5 2.4-2.2 4-.5 4 1.2 3.5 2 2 6 1.6 4-.9 3.2-2.2 2.5-4 .5-4-1.2-4-1.5-2-3.5-2.1-4-.1zM406.5 55.2l-2 .5-1.6 3.5 .2 6 1.4 3.4 2 2.4 4 1.9 2 0 1.8-1.7 .1-2-1.1-4-2.8-6-2-2.7-2-1.3zM436.5 252.9l-8 2.3-2.6 2-2.7 4-1.7 6-.2 6 1.2 4.7 2.3 3.3 3.4 2 4.3 1 12 .4 12-1.4 5.3-2 2.8-2 2.6-4 .3-6-2.6-6-4.4-5.5-4-2.9-6-2.1-6-.5-8 .7zM472.5 36.9l-2 2.3 .4 4 1.6 2.8 3.6 3.2 4.4 1.8 4 .3 4-1.3 2-2.1 .8-2.7-.8-3.6-1.7-2.4-2.3-1.5-8-1.8-6 1zM510.5 120.7l-4 1.9-2 1.8-2.2 4.8 .1 4 1.4 4 2.7 3.1 2 .8 4-.5 4.8-3.4 4.3-6 2.2-6-.3-4-1-.9-6-.7-6 1.1zM520.5 67.1l-4 .8-2.3 1.3-2.5 4-.4 4 2.1 6 8 10 3.4 6 1.6 6 1.1 10 1.1 2 5.9 2.7 8 2.4 6 .1 2-1.1 1.6-2.1 1.2-4-.1-6-2-6-2.7-4.2-10.3-11.8-9.7-15.8-4-3.3-4-1zM612.5 77l-4 1.1-4 2.8-2.9 4.3-2.1 6-.9 6 .5 6 1.5 4 1.9 2 2 .8 4-.4 6-3.5 4.4-4.9 2.7-6 .6-8-1.7-5.9-2-2.6-2-1.2-4-.5zM626.5 144.7l-6 3.6-3.6 4.9-4 12-.9 10 2.6 8 5.9 9 4 2.7 6 .7 4-1.5 2.5-2.9 3.3-14 6.4-14 2.4-10-1-4-1.3-2-4.3-2.7-8-1.2-8 1.4zM636.5 42.8l-2 1.9-1.3 2.5-.7 6 2 4 4 .7 2-.9 2-2.3 1.2-3.5 .4-4-1.6-4.5-2-.9-4 1zM60.5 194.5l-2 1-2 2.4-1.8 7.3-.2 18 2 9.2 2 2.2 2 1 6 .8 8-.8 7.1-2.4 4.6-4 1.5-4-.5-4-2.8-6-5.9-9-6-7-6-4-6-.7zM266.5 111.2l-8 2.4-14 8.8-4 1.5-18 0-6 1.2-3.1 2.1-.9 1.5 0 4.5 2.5 4 5.9 4 9.6 2.5 10 .6 26-1.1 18-2.2 12-3.5 5.1-4.3 1.8-4 .1-6-1.6-4-3.7-4-5.7-2.8-8-1.6-10-.4-8 .8zM404.5 210.8l-3.3 2.4-2.2 4-.8 4 .9 6 1.9 4 3.5 4.1 4 2.3 4 .3 3.9-2.7 1.8-4 .5-6-.7-4-1.6-4-3.9-4.8-4-2-4 .4zM512.5 245.1l-4 2.9-4.1 5.2-4 8-1.4 6 .5 4 1.1 2 3.9 3 4 1 8-.5 4-1.6 2.7-1.9 4.3-6 2.9-10-.3-6-1.6-3.5-2-1.9-6-2-4 .1-4 1.2zM550.5 187.1l-4 1.7-2.7 2.4-1.6 4 .2 4 4.1 10 4 7.7 2 2.6 4 3.1 8 2 12 .4 18 1.9 7.4-1.7 4.6-4 1.3-6-1.3-3.5-2-1.9-4-1.5-12-1.6-6-1.5-6-3.8-8-7.5-6-4.3-6-2.4-6-.1zM240.5 180.8l-5.2 2.4-3.3 4-1.4 6 1 6 2.9 4.6 4.3 3.4 5.7 1.8 6-.7 4-2.8 2.1-4.3 .6-6-.9-6-1.9-4-3.9-3.4-4-1.2-6 .2zM278.5 291.1l-6.3 2.1-1.7 2-.8 4 1 6 1.8 4 3.3 4 2.7 1.8 8 2.4 10-.3 8-3 4.8-4.9 1.9-4 .9-6-.9-4-2.7-3-4-1.4-4-.4-22 .7z" fill="#5e5e5e" fill-rule="evenodd"/>
<path d="M34.5 15.2l68.3 0 0 14 .5 2 7.2 4.1 12.9 13.9 8.8 6 10.3 5.1 10 3.4 8 1.4 4-.5 4.8-3.4 3.3-6 1.4-8-1.1-6-2.6-4-5.6-4-5.4-2-.7-2 0-14 491.9 0 0 14 10 0 0 121.9-10 0-1.8-3.9-1.8-2-6.4-2.7-10-.2-8 2.3-4 3-3.8 5.6-4.8 14-1.2 8 .7 4 2.3 6 4.3 8 2.5 3.1 2 1.4 4 1.1 6-.1 4-1 3.5-2.5 1.3-2 1.2-4 1.6-12 8.4-22.2 10 0 0 176.2-244.7 0 0-12-4.2-14-1.1-2.4-2-1.9-2-.5-4 .4-12 4.8-6 1.2-6-1.1-14-6.5-6-.9-6 .8-5.7 2.1-3.1 2-1.6 2-.5 2 1.8 4 2.6 2 16 6 0 12-108.7 0 0-12 2.8-20-.6-4-1.8-2-3.2-1.4-12-3-6-2.9-4-3.6-8-9.3-4-2.9-5.7-2.9-10.3-4-8-2.2-18 .1-6-1-8-4.3-12-9.9-6-1.7-4 1.2-2.3 1.8-2.9 4-2.4 6-1.5 6-.4 6 .6 4 2.9 4.5 4 2.1 16 4.1 18 6.4 6 .5 14-1 8 1.3 9 4.1 3 2.2 3.2 3.8 1.4 6-1.2 4-1.8 2-5.6 2.7-15.6 3.3 0 12-156.4 0 0-192.9 14 0 2 2.5 2 6.8 2 3.1 4 1.8 4 0 4-1 6-2.7 10-6.7 7-6.9 2.5-6-.1-2-2.1-4-10.9-12-7-12-3.4-4.5-4-2.9-10.1-4.6-2.1-2-1.8-4-2-2.2-14 0 0-63.8zM56.5 36.4l-2 1.9-.8 4.9 .8 5.6 1.4 2.4 2.6 1.8 4 .5 4-1 1.8-1.3 1.4-2 .8-4-.9-4-1.2-2-2.7-2-3.2-1-6 .2zM116.5 95.1l-2.4 4.1-.3 6 1.4 4 3.3 3.2 4 1.2 6-.8 4-1.9 3.5-3.7 .8-4-.6-2-1.7-2.5-4-3.1-4-1.6-4-.7-4 .7-2 1.1zM144.5 154.6l-4 2.5-3.1 4.1-2.8 6-2 8-.6 8 .8 6 1.7 3.3 4 2.1 8-.6 5.4-2.8 3.2-4 1.8-6 0-10-2.6-10-3.8-5.4-2-1.2-4 0zM220.5 68.7l-4 2.3-2.8 4.2-.5 6 2 4 3.3 2.6 6 1.5 6-.5 4-1.7 2.1-1.9 2-4 .2-4-1.6-4-2.7-2.7-4-1.8-6-.7-4 .7zM270.5 39l-6.8 2.2-3.5 4-.7 6 1.9 4 2.1 2 5 2.6 15.6 5.4 16.4 7.4 4 .1 4-2.5 2.2-5 .1-6-2.1-6-3.4-4-6.2-4-10-4-8.6-2-10-.2zM360.5 75.2l-4 1.5-4 3.3-3.1 5.2-1 4 .6 4 1.5 2.3 4 2.5 4 .8 6-.8 4-2.3 3.3-4.5 1.1-4-.3-4-2.1-4.2-4-3-6-.8zM402.5 52.8l-1.7 4.4-.4 4 .4 4 1.7 4.5 3.1 3.5 2.9 1.7 4 .9 3.9-.6 1.1-2-.7-4-6.3-13.4-4-4.2-2-.3-2 1.5zM430.5 252.9l-4 1.7-2.7 2.6-3.1 8-.7 6 .7 6 1.8 4 2 1.8 4 1.6 6 .8 18-.6 10-2.6 4-2.9 1.5-2.1 1.1-4-1-6-3.6-6.5-6-5.9-6-2.7-6-.8-8 .2-8 1.4zM472.5 35.2l-3.1 2-.6 4 1.7 4.3 4 4.1 4 2.1 6 1.1 4-.7 2-.9 1.8-2 .7-2-.1-4-2-4-2.4-1.9-6.5-2.1-9.5 0zM516.5 64.7l-4 2-2 2.2-1.4 4.3 0 4 1 4 2.1 4 7.4 10 2.1 4 1.1 4 .1 4-1.1 4-1.3 2-2.8 2-9.2 3.6-4 2.3-2 2.1-2 4-.3 6 1.9 6 2.4 3.4 4 2.1 4-.5 5-3 11-13.1 2-1.4 2-.6 4 .2 12 3.7 3.3-.8 2.7-3.1 2-6.9 0-8-2.4-8-3.6-5.6-10.7-12.4-9.3-15.4-2.3-2.6-3.7-2.4-4-.7-4 .6zM636.5 36.8l-4.3 2.4-1.9 2-2.1 4-1.6 6-2.5 16-1.6 1.3-10 3.2-6 3-4 3.6-2.8 4.9-2.4 8-.7 10 1.9 8 2 2.6 2 1.3 4 .2 6-2.7 6-5.1 4-5.4 2.2-4.9 1.2-6 .6-18 1.8-2 14.2-4.9 2-1.6 2-3 1.9-10.5-.5-12-1.4-1.6-2-.3-8 1.5zM60.5 192.8l-2 .6-2 1.8-1.7 4-.7 4-.2 22 .6 6 1.7 4 4.3 2.3 8 .3 10-1.7 6-2.6 4.1-4.3 1-4-.8-4-3.1-6-7.2-10.8-6-6.9-6-3.8-6-.9zM268.5 109.1l-6 1.2-6 2.1-12 7.2-4 1.6-6 .9-14 .3-6 1.4-4 3-1 2.4 1.2 6 3.8 4.8 6 3.6 12 3.5 10 1 50-6.2 8-2.6 4.5-4.1 2.3-6 .1-6-1.7-6-3.2-4-4-2.4-8-1.9-10-.5-12 .7zM404.5 209.1l-4 2.6-2.2 3.5-1.3 6 .9 6 2.6 5.4 4 4.3 6 2.9 4-.5 2.6-2.1 2.4-6 .3-6-1.3-5.9-2-4.1-4-4.5-4-1.9-4 .3zM514.5 242.7l-4 1.7-4.9 4.8-4.8 8-2.9 8-.5 4 1.1 4 4 3.7 4 1.3 8 .2 4-.9 4-1.9 2.7-2.4 2.8-4 2.9-8 .9-6-.2-4-1.1-3.3-2-2.5-6-2.8-8 .1zM546.5 184.7l-3.9 2.5-2.1 2.4-1.4 3.6 .2 4 9.2 19.2 3.5 4.8 2.5 2.1 8 2.6 32 2.4 8-1.7 4-2.6 2.2-2.8 1.5-4 .2-4-1.3-4-2.3-2-4.3-1.4-14-1.8-6-2-4.2-2.8-11.8-10.5-8-4.3-6-1-6 1.3zM240.5 179.1l-6 2.6-3 3.5-1.8 6 .9 8 3.9 5.9 4 2.9 6 2 4 0 3.3-.8 3-2 1.7-2.2 1.4-3.8 .5-8-1.2-6-2.7-4.8-4-2.6-4-1-6 .3zM300.5 289.2l-28 .6-5.3 1.4-1.2 2 .8 6 2.9 8 2.6 4 1.9 2 4.3 2.6 10 2.3 10.3-.9 5.5-2 3-2 3.5-4 2.1-4 1.5-6-.3-4-1.6-3.2-2-1.7-4-1-6-.1z" fill="#626262" fill-rule="evenodd"/>
<path d="M34.5 15.2l66 0 0 14 .6 2 7.7 4 13.2 14 8.7 6 11.8 5.9 12 4.1 8 1.1 4.2-1.1 4.2-4 2.9-6 1.5-8-1-6-2.5-4-5.2-4-5-2-.7-2 0-14 482.1 0-.4 16-10.1 3.2-4.4 2.8-3.5 6-3.5 12-2.8 6-3.9 4-9.9 6.6-4.5 5.4-2.7 6-1.9 8-.8 8 .3 6 1.7 6 1.9 3 2 1.6 4 .9 6-2.1 8-6.2 6.1-7.2 3.7-8 3.6-14 2.6-3.6 4-2.7 8.6-3.7 3.4-3.5 10 0 0 81.1-10 0-4-3.6-2-1-10-1.5-6 .4-6 1.6-4 2.3-2.2 2.2-2.7 4-2.6 6-4.3 12-1.2 6 .9 6 6.7 18 .3 2-.9 1.4-16-.1-10-2-5.9-3.3-14.1-12.1-6-3.4-6-2-6 .5-6.6 3-4.2 4-1.2 2.3-.6 3.7 1.6 6 9.9 18 3.1 4.6 4 3.2 8 2.3 24 2.1 8 .2 6-.9 6-2.8 4.2-4.7 2.5-8 .3-10 19-2.4 4.6-1.6 2.7-2 1.3-2 1.2-4 1.9-16 6.3-15.3 10 0 0 171.3-242.2 0 0-12-2.4-4-3.4-13.5-2-2.9-2-1-4 .2-14 5.5-6 1.2-6-1.3-14-6.1-6-.8-8 1.2-8 3.1-3.4 2.4-1.2 2-.2 2 2.2 4 2.4 2 3.8 2 11.7 4 0 12-102.9 0 0-12 3.2-12 2.4-4.1 2-.8 2 1 8.1 9.9 5.9 3.4 10 2 10-.7 8-3 4.4-3.7 2.9-4 3.4-8 0-4-1.3-4-1.4-2-4-1.9-20 1.3-14-.6-6-1.7-6-4-2-.4-2 .5-8.1 4.8-5.9 .7-6-.9-4-1.4-4-2.5-11.8-11.9-6.7-4-15.5-6.3-6-1.8-6-.4-12 .5-6-1-8-4.7-12-10.4-6-2-4 .7-2.5 1.4-3.5 3.8-2.2 4.2-2.6 8-1.9 10 0 6 1.5 4 3.2 2.4 20 3.8 20 7.3 6 .5 16-.9 8 2 6 3.5 4 4.3 1.4 5.1-1.6 4-2.4 2-4.8 2-17.7 4 0 12-150.9 0 0-187.1 14 0 2 2.4 2 5.3 2 1.9 4 1 6-.9 8-3.5 12-8.4 6.5-6.7 2.5-6-.9-4-12.7-14-9.4-16.2-4-3.5-10-4.8-3.7-3.5-2.3-7.4-2-3.2-14 0 0-57.4zM54.5 34.6l-2.1 2.6-.4 6 .5 6 2 4.8 4 1.9 4 .3 5.3-1 2.7-1.6 1.6-2.4 .9-4-.5-4.7-2-4.1-2-1.8-4-1.7-6-.8-4 .5zM90.5 70.3l-2 1.6-.3 1.3 .8 2 3.5 1.9 2-.4 1.4-1.5-.1-2-1.5-2-3.8-.9zM118.5 92.7l-3.8 2.5-1.7 4-.2 6 2.5 6 3.2 2.4 6 .9 5.8-1.3 4.2-2.5 2-2.2 1.4-3.3 .1-2-1.8-4-3.7-3.4-4-2-6-1.4-4 .3zM144.5 152.9l-4 2.4-4 5.1-3 6.8-2.1 8-1.1 8 .2 8.1 2 4.7 4 1.7 8-.8 8-3.3 3.8-4.4 1.8-6 0-12-1.2-6-2.1-6-2.3-3.7-2-1.8-2-.9-4 .1zM222.5 67.1l-5.3 2.1-3.6 4-1.6 6 1.8 6 2.7 2.7 6 2.3 6 .2 6-1.5 4-3.5 1.7-4.2 .2-4-1.4-4-2.5-2.9-4-2.2-4-1-6 0zM266.5 38.9l-4.8 2.3-3.2 4.6-.6 5.4 1.4 4 1.6 2 5.6 3.3 18 6.7 18 10.2 4 .4 4-2.8 1.9-3.8 .9-4-.2-8-2-6-4.6-5.4-8.3-4.6-12.5-4-11.2-1.2-8 .9zM356.5 75l-5.6 4.2-2.9 4-2.4 6 .4 6 2.5 3 4 1.9 6 1 6-.8 5.6-3.1 3.1-4 1.7-6-.8-6-2.7-4-4.9-3-4-.7-6 1.5zM402.5 48.7l-2.7 4.5-1.1 6 .2 6 2.2 6 3.4 3.6 4.9 2.4 5.1 .9 5.2-.9 1-2-.3-2-9.9-20.2-4-4.4-2-.6-2 .7zM432.5 251.1l-4 .7-4 1.9-2 2.2-2 4.5-1.4 6.8-.1 8 1.4 6 2.1 2.7 4 1.7 6 .7 20-.6 10-2.2 4-2.1 2.2-2.2 1.7-4-.3-6-4-8-5.6-6.2-4-2.5-6-1.9-8-.4-10 .9zM470.5 34.5l-1.6 .7-1.4 2-.1 4 2.8 6 4.3 3.8 4.9 2.2 5.1 .9 6-.7 3.1-2.2 1.4-4-.3-4-1.9-4-2.2-2-4.1-1.9-4-.8-8-.6-4 .6zM514.5 62.4l-4 2.2-2.1 2.6-1.2 4 .1 6 2.7 8 8.9 14 1 6-1.2 4-2.2 2.7-12 6.6-4.4 4.7-1.5 4-.4 4 .4 4 1.9 5.7 2 3.3 4 3.3 2 .6 4-.3 6-3.6 10-10 2-1.4 4-1 6 1.9 8 5.6 2 .8 2-.2 2-1.8 2-3.6 2.9-11.3-.1-10-2.8-10-4-6.5-11.4-13.5-8.6-14.4-4-4.8-2-1.4-4-1.2-8 1zM60.5 191l-2 .4-2.4 1.8-1.6 2.9-1 5.1-.4 26 .4 6 1 3.8 2 1.7 2 .5 8 .1 10-1.2 8.7-2.9 3.3-2.3 2.6-3.7 .5-4-2.1-6-9-13.7-6.7-8.3-3.3-2.9-4-2.2-6-1.1zM272.5 107l-10 1.5-6 1.8-14 7.8-4 1.4-20 1.6-6 1.5-3.8 2.6-1.2 2-.5 4 1.2 4 4.3 5.9 6 4.1 12 4.5 12 2 6-.3 22-4.1 26-3.2 6-1.7 4-2.8 3.4-6.4 1.1-8-1.2-10-3.3-5.6-4-2.3-6-1.2-24 .9zM406.5 207.1l-5.5 2.1-3.2 4-1.8 6 .2 6 2.3 6.3 4.4 5.7 5.6 3.7 4 1 2-.3 3.5-2.4 1.9-4 1.1-8-.9-6-2.4-6-3.2-4.3-4-3-4-.8zM514.5 241.1l-6 2.9-4 4.6-5 8.6-3 8-.7 4 .7 4 3.5 4 4.5 1.9 10 .6 8-2.4 2.8-2.1 3.1-4 3.2-8 1.4-10-.5-4.2-2-3.8-2.5-2-3.5-1.5-6-.9-4 .3zM242.5 177l-7.2 2.2-4.4 4-2.2 6 .4 8 2.7 6 4.7 4.6 6 2.7 8 .4 4.2-1.7 2.1-2 1.7-3.5 1.1-8.5-.7-8-1.4-4-3.4-4-5.6-2.1-6-.1z" fill="#666666" fill-rule="evenodd"/>
<path d="M48.5 15.2l49.5 0 0 14 .7 2 5.2 2 4.6 3 12.1 13 8.6 6 11.3 5.8 14 5.2 8 1.4 4-.7 4.5-3.7 4-8 1.6-8-.8-6-2.4-4-4.9-4-4.7-2-.7-2 0-14 469.3 0 0 14-.8 2-5.1 2-2.3 2-2.2 4-3.6 12-2.8 6-3.2 4-11.7 10-3.5 6-2.4 8-1.4 8-.6 8 .6 8 2.3 6 2.8 3.1 4 1.6 6-1.4 8-5.6 9.3-9.7 3.8-6 6.1-14 2.8-3.5 6-2.5 2.1 0 3.9 1.8 10 0 0 65.3-10 0-6-3.5-10-1.4-10 .8-4 1.3-4 2.5-2.8 3.2-2.2 4-9.1 22-.4 6 4.2 14-1 4-2.7 1.6-8 .5-7.4-2.1-22.6-17.2-8-4.3-4-.9-6 1.5-8.3 4.9-3.9 4-1.7 6 .7 4 1.8 4 13.2 22 4.2 4.3 6 2.4 8 1.1 24 1.9 10-.9 6-2.4 4-3.4 3.1-5 3-8 2.8-4 5.1-2.4 12-3.1 4.6-2.5 1.5-2 1.2-4 1.8-18 4.9-12.1 10 0 0 168.1-239.8 0 0-12-2.2-2.3-1.7-3.7-2.9-14-1.4-2.8-1.8-1.2-2.2-.3-4 .8-14 5.8-6 1.1-6-1.3-14-5.8-6-.7-8 1.2-10.5 3.2-4 2-2 2-.6 2 1.4 4 4 4 3.7 2.1 11.3 3.9 0 12-63.1 0 0-12 9.8-1.2 7.2-2.8 6.7-6 5.9-8 .8-4-.8-4-1.8-4.2-3.3-3.8-2.7-.8-2 .2-10 2.3-8 .8-12.1-.5-7.9-2.6-8-7.4-2-.6-4 1.5-8 5.9-4 1.1-6-.4-6-2.7-11.5-10.8-8.5-5.1-22-8.9-6-.5-12 .7-6-1.1-6-3.4-14-12.6-4-1.9-4-.4-4 .8-3.5 2.4-2.5 3.2-2.3 4.8-3.3 10-3.4 14-1.4 10 .7 4 1.7 .8 12-2 10 .1 8 1.9 14 5.8 6 1.7 18-.8 6 .9 7.2 3.6 3.7 4 .9 4-2.1 4-5.7 2.8-20.7 5.2 0 12-145.3 0 0-77.5 14 0 2-1.5 2-7.5 2-2.3 22-2.8 8.9-2.4 6.1-4 1.4-2 1-4-.7-4-2.1-4-16.6-23-4-3.5-4-2.1-4-1.2-4 0-2 .8-2 2.3-1.3 4.7-1 34-1.2 8-2.5 1.1-14 0 0-89.3 14 0 4 4.9 2 .8 6-.2 6-1.7 8-4.1 12-9.1 5.9-6.4 2.6-6-.5-3.2-1.6-2.8-12.4-12.7-10-17.6-4-3.1-8-3.7-4-3-2.5-5.9-1.5-11.1-1.9-2.9-14.1-.1 0-33.9 14 0 0-14zM52.5 32.2l-1.8 1-.2 2 .5 16 1.3 6 2.2 1.1 8 .3 6-.5 4-1.5 2.2-3.4 .6-6-.9-6-2.1-4-2.5-2-5.3-1.8-12-1.2zM86.5 66.3l-2 1.2-1.1 3.7 .8 4 1.3 2 2.9 2 4.1 .9 4-.4 2-1.3 1.1-3.2-.3-2-2.3-4-4.5-2.7-6-.2zM116.5 92.1l-3.4 3.1-1.4 6 1.1 8 2.9 4 4.8 2.1 6-.1 6-2 4.8-4 1.2-2 .6-4-1.6-4-3-3-4-2.5-6-2-4-.3-4 .7zM146.5 151l-4 1.3-5.2 4.9-3.4 6-2.8 8-2.7 14-.4 10 .8 4 1.7 2.2 2 .7 8-1.5 12-4.1 3.9-3.3 2.1-4.1 1.1-5.9 0-8-2.7-14-2.4-5.4-2-2.5-2-1.5-4-.8zM186.5 218.6l-2 .9-1.2 1.7 .3 4 2.9 3.8 4 .9 2-1.2 .9-1.5 .6-4-1-2-2.3-2-4.2-.6zM220.5 66.6l-4 1.9-2 1.8-2.8 4.9-.5 6 1.3 4 1.4 2 4.6 3.1 6 1.3 7.9-.4 4.8-2 3.3-4 1.3-4-.2-6-1.9-4-3.2-2.7-4-1.7-6-.8-6 .6zM274.5 37.2l-10 1.4-4 2.2-2 2.1-1.8 4.3-.3 4 2.1 5.9 2.2 2.1 3.7 2 14.1 5 6.2 3 8.3 6 11.5 10.6 4 2.2 2-1 2-3.3 1.4-4.5 1.8-10-.6-10-3-8-3.6-3.9-3-2.1-9-3.9-12-3.2-10-.9zM358.5 72.7l-5.2 2.5-4.6 4-3 4-3 6-1.1 4 .6 4 1.5 2 3.3 2 9.5 2.1 8-.8 6.5-3.3 4.4-6 1.2-4 .3-4-.8-4-2.3-4-3.3-2.8-4-1.8-4-.6-4 .7zM404.5 45.2l-2 .2-2 1.5-2.6 6.3-.9 10 1.9 8 3.6 4.3 6 3 8 1.5 6.1-.8 1.3-2-1.2-4-12.2-22.6-2-2.8-4-2.6zM442.5 249.2l-16 1.2-2.4 .8-2.3 2-2.5 6-1.7 12 .7 10 2.2 4.1 4 1.6 4 .3 26-.9 10-2.2 4-2.3 2.3-2.6 1.4-4-.7-6-2.9-6-4.4-6-4.5-4-5.2-2.7-6-1.2-6-.1zM470.5 33.1l-4 2-.7 4.1 1.9 6 4.8 5.7 6 3.1 6 1.4 6.4-.2 4.3-2 1.7-4 0-4-1.1-4-3-4-3.6-2-4.7-1.2-6-.8-8-.1zM516.5 59.2l-6 2-2.8 2-2 4-.4 4 1.3 10 1.9 4.7 7.8 13.3 .7 6-1.9 4-2.1 2-10.5 6.3-4 4.6-1.8 5.1-.2 4 2 10 2 4.1 4 4.7 4 2 2 .1 6-2.4 12-10.2 2-1.2 4-.6 3.7 1.5 2.3 1.8 8 9.4 2 1.3 2 .1 2-1.3 2.9-5.3 3.1-8.9 1.6-7.1 .2-12-2.8-12-5-9-12.5-15-11.5-18.7-2-1.8-4-1.8-8 .3zM304.5 99.1l-15.6 4.1-30.4 4.5-6 2.2-10 5.8-6 2.2-18 1.7-7.5 1.6-3.6 2-2.5 4-.2 4 1.2 4 3.8 6 6.8 5.5 12 5.5 12 3 10-.1 24-5.8 24-2.3 6-1.2 4.3-2.6 1.7-2 2-4.5 1.5-9.5 .8-18-.8-6-1.5-3.1-2-1.7-2-.4-4 1.1zM402.5 206.4l-4 3.1-2.9 5.7-.8 6 1.5 8 3.3 6 4.9 4.9 6 3.3 6 .3 2.8-2.5 2.1-6 .6-8-1.5-8.1-4-7.6-4-4-4-1.8-6 .7zM510.5 240.8l-5.1 4.4-5.1 8-4.6 10-1.5 8 1.3 4 1.7 2 3.3 2 8 1.8 8-.4 4-.9 4-1.9 4.3-4.6 2.7-6 1.7-6 .9-6-.2-6-1.4-3.7-1.9-2.3-4.1-2.3-8-1.5-4 .2-4 1.2zM242.5 174.9l-8 2.5-4.4 3.8-1.9 4-.7 4 .6 8 2.6 6 3.6 4 2.9 2 7.3 2.7 8-.2 4.7-2.5 2.8-6 .9-10-1.1-10-1.7-4-3.6-3.1-6-1.5-6 .3zM286.5 230.9l-2 1.7-.9 2.6 .5 4 1.2 2 2.4 2 2.8 .8 4.3-.8 2.1-2 .9-2 .2-4-.9-2-2.1-2-2.5-.9-6 .6zM260.9 309.2l1.6-1.2 2 .1 8 6.5 4 2.1 6 1.7 7.8 .8 0 12-33.7 0 0-12 1.9-6.1 2.4-3.9z" fill="#6a6a6a" fill-rule="evenodd"/>
<path d="M57 15.2l37.9 0 0 14 .8 2 6.2 2 4.6 2.7 12.5 13.3 11.5 7.6 16 7.5 10 3.5 6 1.1 4-.4 2-1 4-4.2 3.7-8.1 1.7-8-.6-6-2.2-4-4.6-3.9-4.5-2.1-.6-2 0-14 455 0-.1 16-5.8 20-4 6.4-12 11.4-4 9.1-2.3 11.1-1.2 12 .2 8 1.3 6 2.3 4 3.7 3.1 4 1 4-.7 8-5.3 10.4-10.1 5-6 6.6-11 4-4.8 4-1.6 2 .2 4 2.4 10 0 0 55.7-10 0-6.9-2.9-11.1-1.1-10 .7-6 2.3-2.5 2.1-2.8 4-13.3 28-.7 4 1.9 10-.6 3.4-2 1.3-2 .3-4-.8-4-2.1-22.3-16.1-4.3-4-2.6-4-.2-6 5.4-18.8 2.9-13.2-.2-10-2.2-10-2.2-6-3.4-6-13.1-16-11.8-19.9-4-3.9-6-1.5-8 1.2-7.4 2.1-2.6 2-.8 2-.2 8 1.6 10 2.3 6 5.6 10 1.5 6-1.4 4-1.7 2-10.9 7.3-3.7 4.7-1.8 6 .2 8 2.1 8 3.2 6.2 4 4.8 4 2.6 2 .4 4-1 12-10 4-2.2 4 .2 2 1.2 3.3 3.8 6.2 12 .7 4-.4 2-2.6 4-9.8 8-3.4 3.8-1.5 4.2 .1 4 2.3 6 8.5 12 8.1 14 4.5 4 6.1 2 23.9 2.5 10 .4 8-.9 8-3.4 4.7-4.6 5.3-10.4 3.1-3.6 4.9-2.7 12-3.5 3.5-1.8 1.9-2 1.6-6 .9-16 1.6-6 2.5-5.4 10 0 0 165.4-237.4 0 0-12-2.6-2-2.3-4-1.3-6-1.2-12-1.2-3.5-2-.4-4 .8-16 6.8-6 1.7-6-.6-14-5.6-6-1.2-8 .7-22 4.6-2-.4-2-1.5-8-12.8-4-2.7-16 5-8 .8-8-.5-4.9-1.2-3.8-2-7.3-8.3-2-1.6-2-.5-4 1.4-10 7.5-4 1-4-.3-6-2.8-9.3-8.4-5.7-4-25-11.4-6-1.2-16 .8-6-2-5.6-4.2-8.4-8.7-4-3.2-4-1.9-6-1-6 1.7-3.1 3.1-2.2 4-10.7 31.6-10.5 20.4-1.1 6 1.6 3.9 4 1.4 5.5-1.3 4.5-3.5 5.1-6.5 4.5-4 6.4-2.5 8-.5 8 1.8 14 6.2 6 1.9 6 .3 12-1 6 1.2 4 2.1 2.5 2.5 1.2 4-1.7 2.8-6.2 3.2-23.2 6 0 12-138.6 0 0-72.9 14 0 2-.8 4-9.5 2.3-2.8 5.2-2 18.5-2.8 8-2.2 6-4.1 2.3-4.9-.6-4-2-4-19-26-6.7-5.3-6-2.2-4-.4-4 1.7-2 5.6-.8 30.6-1.2 9-2 1.5-14 0 0-74.8 16-.2 12-2.8 8-3.2 8-5.2 10-8.3 5.3-6 2.6-6-.6-4-1.3-2-10-9.3-4-4.8-6.7-13.9-2.7-4-4.6-3.2-8-3.7-3.5-3.1-1.7-4-.7-4 .3-8 1.6-2.6 4-1.3 10-.2 8 .9 1.4 1.2 2.9 12 1.7 3 2 1.8 6 1.9 6 0 4-1.7 1.4-3-1-6-2.4-3.7-2-1.7-6-2.7-9.2-1.9-2.3-2-2.6-18-1.5-4-1.7-2-4.7-2.2-10.3-1.8-1.2-2 0-14zM116.5 90.8l-2 .7-2 1.9-1.6 5.8 .3 8 1.3 4 1.4 2 4.6 2.6 6 .5 6-1.3 6.5-3.8 2.7-4 .5-4-1.6-4-1.6-2-4.5-3.4-6-2.4-6-1-4 .4zM142.5 150.8l-4 3.1-4 5.6-3.3 7.7-2.8 10-2.8 14-.9 10 1.1 6 .7 1.3 2 .9 26-10.9 3.8-3.3 1.8-4 .9-6-.2-10-1.6-10-2.5-8-2.2-4-4-3.2-4-.6-4 1.4zM182.5 216.1l-2 1.8-1.1 3.3 1.7 6 3.1 4 2.3 1.7 4 .6 2-.8 2.8-3.5 1.2-4-.1-2-1.8-4-2.3-2-3.8-1.6-4-.1-2 .6zM224.5 65.1l-4 .6-3.6 1.5-4.2 4-2.4 6-.1 4 1.1 4 3.2 4.1 6 2.8 8 .8 8-1.3 3.5-2.4 2.5-4.4 1.1-5.6-1.1-6.6-2.3-3.4-3.7-2.3-6-1.6-6-.2zM266.5 37.2l-5.6 2-4 4-1.6 4-.4 4 1.4 6 4.5 4 17.7 6.5 8.9 5.5 4.2 4 4.3 6 1.5 4 .3 4-1.6 4-2 2-7.6 3.8-8 1.9-22 3.3-6 2.3-8 4.8-6 2.7-6 1.2-18.9 2-5.1 1.9-2.5 2.1-1.7 4 .2 4 2 6 4 5.8 4 3.7 8 5.1 8 4.1 8 2.7 10 1.7 8-.1 16-6.7 6-1.6 10-1.3 16-.3 6-1.4 4-3 2-3.6 4.5-27.1 2.8-6 4.7-5.2 6-3.7 18 4.6 8 .5 6-.9 6-2.5 3.3-2.8 2.7-3.8 1.6-4.2 .6-8-2.6-6-3.6-3.4-4-2-4-1-4 .1-6 2-6 4.3-14 17.5-2 1.5-2 .2-2-.7-6-4.8-3.1-5.7-1.2-6-1.3-20-2.4-7.2-3.7-4.8-8.3-4.9-14-4.3-12-1.5-10 .7zM402.5 42.5l-2 .9-2 2.6-2.5 9.2-.5 10 .7 4 1.7 4 4.1 4 6.5 2.8 10 1.7 6.2-.5 2.2-2-.1-2-8.6-14-7.7-14.9-4-4.7-4-1.1zM466.5 32.8l-2 2.4 .5 6 2.6 6 4.9 5 6 2.9 8 1.7 8-.1 3.5-1.5 1.3-4-.6-6-1.2-4-3-4.3-4-2.2-6-1.5-12-1.1-6 .7zM510.5 239.1l-3.3 2.1-2.7 3-5.4 9-5.5 12-1.1 4 0 4 2 4.1 2.3 1.9 3.7 1.6 8 1.3 10-.5 4-1.1 4-2.3 4-5.3 3.8-11.7 .9-6-.1-6-1.1-4-1.3-2-4.2-2.9-10-2.3-4 .1-4 1zM246.5 171.2l-6 1.1-6 2.2-5.6 4.7-2.3 6 .2 10 2.9 8 6 6 6.8 3.1 6 1 4-.2 4-1.2 2-1.5 2.5-5.2 1.2-12-.6-14-1.3-4-3.8-3.5-4-.9-6 .4zM284.5 227.1l-3.4 2.1-1.3 4 .7 5.2 2 4 3.1 2.8 2.9 1.1 4 .3 4.7-1.4 2.2-2 1.9-4 .4-4-1.2-5-2-2.1-4-1.5-6-.2-4 .7zM402.5 204.6l-4 2.7-3.6 5.9-1.2 6 .4 6 2.9 8 5.5 6.8 6 4.3 7.6 2.9 2.8 2-2.4 22 .4 16 1.6 1.5 2 .2 34-1.7 10-1.7 6-3 2-2.4 1.3-2.9-.2-6-2.5-6-5.6-8-7-6.1-6-2.3-6-.7-16 .2-8-1.3-1-1.8 1.4-10 .1-8-.9-6-2.2-6-3.4-5.4-4-3.9-4-1.8-6 .5zM320 307.2l2.5-1.4 4-.1 6.3 5.5 5.7 3.8 11.4 4.2 0 12-52.4 0 0-12 7-1.7 5.1-2.3 10.4-8zM261.5 313.2l3-1.4 11.1 5.4 8.1 2 0 12-25.4 0 0-12 3.2-6z" fill="#6e6e6e" fill-rule="evenodd"/>
<path d="M64 15.2l26.9 0 0 14 .9 2 7.7 2 5 2.5 4.2 3.5 8.7 10 12.2 8 20.9 9.5 8 2.7 6 .9 4-1.1 4.1-4 4.1-8 2.5-10-.4-6-2-4-4.3-3.8-4.3-2.2-.5-2 0-14 444.6 0 .1 16 1.6 6-.6 6-1.9 6-2.3 4-12.2 12-3 6-2.6 12-2.2 18-.2 10 1.5 7.1 2 3.5 4 3.4 6 1.8 4-.6 4-2.3 4-3.7 14.8-15.2 9.2-11.4 4-3.4 4-.5 4 2 10 0 0 48.3-10 0-8-2.5-12-1-10 .4-6 1.9-4 4.3-6 13.9-4 7.3-10 13.9-2 2.1-2 .9-6-.9-6-2.9-6-4.4-4.5-6-1.2-6 .4-6 5.6-28-1.7-12-3.3-10-3-6-4.1-6-12.2-14.8-12-20.9-4-3.4-4-1-16 2.1-4-.8-2-2.8-4.2-12.4-3.8-3.9-4-1.6-19.2-2.5-2.8-1.5-2 .4-3.5 3.1 0 4 1.5 6 1.9 4 5.9 6 8.2 3.5 16 3 2 1.1 1.7 2.4 4.1 20 6.3 14 1.2 6-1.9 4-11.4 8.3-3.9 5.7-1 4-.3 6 2.1 12 3.1 7.2 6 9 4 3.9 4 1.7 4-.9 8-9.4 4-3.2 2-.5 2 .4 3.5 3.8 2 6-.7 6-2.7 4-9.1 8-1.2 4 .1 4 2.9 8 11.2 14.2 8 14.2 4 4.1 4 1.8 6 1.2 26 2.5 12-.5 6-1.5 4-1.8 4.9-4.2 6-10 3.3-4 5.8-3.3 14-4.5 2.7-2.2 1.1-2 .7-4 .5-18 2.7-8 .3-.7 10 0 0 162.7-234.9 0 0-12-3.1-1.8-2-2.2-2-6-.5-10 1.8-6 2.9-2 5.8-1.4 30-2.1 10-1.9 4-2.2 2.2-2.4 1.5-4-.2-4-2.3-6-5.2-8-5.5-6-4.5-3.3-8-2.5-18-.5-6-2-2-3.7-.7-16-2.9-10-2.4-4.4-4-4.9-4-2.8-4-1-6 1.6-4 3.6-2.2 3.9-1.2 4-.4 8 2.1 8 3.5 6 6.2 6.1 8.9 5.9 2.5 4 .2 6-1.9 22-1.2 4-2.5 2.9-20 9.6-4 1-4-.2-16-5.8-6-1-6 .4-16 2.9-6-.2-4-1.9-10-13.2-2-1.5-2-.5-2 .5-8.4 5-5.6 1.9-8 .9-8-.7-4-1.2-4-2.4-8-10.2-4-1.8-4 1.2-10.8 8.3-3.2 1.1-4-.1-6-2.9-9.6-8.1-4.4-2.8-28-13.4-6-.8-12 1.4-6-1.3-6-4.1-8-8.9-6-5.1-8-3.6-12-2.9-2 .6-6 24.2-6 16-4 7.4-10.5 15.3-2.9 6-1.6 8 1 6.1 2.3 1.9 3.7 .6 6.7-.6 7.4-2 5.6-4 6.9-10 3.4-3.3 4-2.2 6-1.3 4 .1 6 1.5 16 7.8 4 1.2 6 .5 12-.7 4 .8 2.7 1.6 1.5 2 .1 2-1.4 2-3.7 2-25.2 6.8-22.4 1.2 0 12-111.6 0 0-69 16-.5 2-2.8 4.5-9.7 3.5-3.1 6-1.9 18-2.7 8-2.2 6.3-4.1 2.3-4 .1-2-1.5-4-25.2-32.6-4-3.2-4-2.1-6-1.8-4-.5-2 .3-1.9 1.9-.8 4-.6 30-.7 8.1-2 2.4-14 0 0-56.7 14 0 2-2.9 2-6.6 2-2.1 16-7 8-5.4 14-12.3 4-5.5 1.4-4-.4-4-1.2-2-11.3-10-4.5-5.7-6-14.5-2-3.3-3.4-2.5-10.6-4.8-2-2-1.7-3.2-.7-6 .9-4 1.5-2 2-1 6-.6 6 1.1 3.5 2.5 5.4 12 3.1 2.6 6 1.6 10 .1 4-1.8 1.3-2.5-.4-6-2.9-6.3-4-3.6-10-4.4-4.3-3.7-1.7-4-2.5-12-1.6-4-3.9-2.6-7-1.4-1.5-2 0-14zM112.5 90.8l-2.2 4.4-.3 10 1.2 6 3 4 6.3 2 8-.7 7.6-3.3 3.8-4 1.4-4-.5-4-2.5-4-3.8-3.1-6-2.9-6-1.5-6-.3-4 1.4zM144.5 148.4l-6 3.9-5 6.9-4.1 10-4 14-3.1 14-1.6 18 .6 6 1.2 2.5 2 1.6 2 .1 6.5-10.2 5.8-6 5.7-3.6 14-5.6 2-2.1 1.3-2.7 .8-6-.5-12-1.8-12-2.2-8-1.9-4-3.7-4.1-4-1.3-4 .6zM180.5 213l-3.2 2.2-.9 2-.2 4 1.9 6 4.4 6.1 4 3 4 .6 2-.9 4-4.8 1.4-4 .3-4-1.5-4-2.2-2.7-4-2.5-6-1.4-4 .4zM220.5 64.8l-6 3-2.9 3.4-1.7 4-.7 4 .4 4 2.9 5.9 6 3.6 8 1.4 8-.1 6-2.4 3-4.4 1.5-6-.3-8-1.9-4-2.3-2-6-2.3-8-.8-6 .7zM264.5 36.9l-5.4 2.3-3.6 4-2.1 8 1.1 6.8 4 4 18 6.3 5.5 2.9 4.9 4 3.2 4 2.6 6 .3 4-1.3 4-3.2 3.5-4.4 2.5-9.6 2.6-22 3.4-4 1.7-10 6.2-4 1.6-28 3.9-4.3 2.6-1.4 2-1 4 .3 4 2.1 6 2.3 4.2 4 4.9 12 9.8 14.7 9.1 .7 2-7.4 7.3-2.5 4.7-1 8 1.2 10 2.5 6 5.6 6 6.2 3.4 8 1.7 6 0 3.9-1.1 2.1-1.8 1.2-2.2 1.1-6 2.2-24 2.8-14 1.8-4 1.7-2 5.2-3.2 6-1.7 8-.7 14 .8 4-.5 4-1.8 3-2.9 2-4 3.2-24 2.5-6 3.3-4 4-2.8 6-1.8 22 .8 10-2.1 4-2.3 4-4 2.9-5.8 1.3-6-.3-6-3.6-6-6.3-4.2-8-1.6-6 1.3-5 2.5-5.2 4-9.8 9.4-4 1.5-4-.7-4-3.2-2-3.4-4.9-25.6-2.9-6-4-4-7.8-4-14.4-4-12-1.3-12 1zM400.5 40.3l-2 1.7-2 4-2.2 11.2-.3 10 .7 4 1.8 3.6 2.4 2.4 3.4 2 8.2 2.6 12 1.6 4-.4 2-1.1 1.2-2.7-.5-2-9.9-14-8.8-17.1-4-4.8-4-1.4-2 .4zM512.5 236.8l-5.4 2.4-3.5 4-6.8 12-5.5 12-1.1 6 1.2 4 3.1 2.8 4 1.8 12 1.5 12-1.3 6-3.5 2.4-3.3 2.4-6 2-8 1.1-8-.3-6-1.5-4-4.1-3.6-4-1.5-8-1.5-6 .2zM286.5 223.1l-6 1-2.3 1.1-1.6 2-.2 6 2.5 8 2.8 4 4.8 2.6 6 .7 6.1-1.3 3.9-3.8 1.6-4.2 .8-6-.8-6-1.6-2.1-4-1.7-12-.3zM318 311.2l4.5-1.5 4 .6 8.8 4.9 10.7 4 0 12-45 0 0-12 7.5-2.4 9.5-5.6zM263.6 315.2l2.9-.4 13.6 4.4 0 12-19.9 0 0-12 2.3-3.4 1.1-.6z" fill="#727272" fill-rule="evenodd"/>
<path d="M74.1 15.2l9.3 0 0 14 1.2 2 11.8 2 5.3 2 5.4 4 9.4 10.7 7.8 5.3 22.2 10.8 12 4.6 6 1.1 4-.8 2-1.3 3.5-4.4 4.6-10 1.9-8-.2-6-1.7-4-4.1-3.8-4-2.2-.5-16 290.7 0 .3 18 1.8 8 2.5 6 3.2 4.2 5.4 3.8 6.6 2.5 12 3 4.4 2.5 2.4 4 4.3 18 5.3 14 .1 4-.9 2-1.8 2-9.8 7.2-2.2 2.8-1.7 4-.9 6 .3 8 1.6 8 2 6 8.9 16.5 12 14.7 7.5 14.8 12.5 13.7 9.3 16.3 2.7 3 4 2.1 4 1 28 3.1 14-.6 10-3 6-4.7 7.1-10.9 2.9-3 5.4-3 12.6-3.6 4.2-2.4 1.1-2 .6-4 0-18 2.1-7.8 10 0 0 159.8-232.3 0 0-12-3.7-1.7-2.5-2.3-2.3-6 0-10 2.8-5.3 4-2.3 6-1.3 30-1.9 8-1.2 4-1.8 2.6-2.2 2.2-4 .1-4-4-8-5.6-8-5.3-6-6-4.6-8-2.4-18-1-4.2-2-2.1-4-1.8-16-3.4-10-2.5-4.2-4-4.8-4-2.9-4-1.1-6 1.5-4 3.2-1.7 2.3-2.9 8-.2 8 1.9 8 3.3 6 5.6 6.1 7.5 5.9 3.3 4 1.3 8-1.1 14-1.3 6-2.3 4-5.3 4-10.1 5.1-6 2.2-6 .2-16-5.6-6-.9-20 2.7-6-.3-3.5-1.4-2.5-1.9-10-13.2-2-1.4-2-.3-2 .7-7.6 6.1-4.4 2.1-8 1.8-8-.4-5-1.5-3.3-2-3.6-4-6.1-8.9-4-1.3-5.7 2.2-10.3 8-4 .9-4-.8-16-11.1-18-8.5-14-8.3-4-.3-12 2.3-6-1.3-6-4.7-10-11.6-12.1-8.6-1.6-2-.7-2 .5-4 4-6 5.9-3.5 14-4 2-2.4 .5-2.1-1.6-22-3.4-18-3.5-8.4-2-2.3-4-2-4-.1-4 1.5-4 2.8-4 4.7-4.8 9.8-5.9 18-2.8 10-3.5 18-2.1 6-2.9 4.4-4 2.5-2 .1-4-1.4-4-2.6-6-5.8-18-23.7-6-4.2-13.4-5.3-1.8-2-.5-2 .5-6 1.2-3.2 2-2.5 18-9.7 12-9.9 6-5.6 4.2-5.1 2.1-4 .9-4-1.4-4-11.8-9.8-5.1-6.2-2.9-6-4-14.2-2.7-1.8-9.3-2.7-4.6-3.3-1.7-4 .1-4 .8-2 2.1-2 3.3-.9 6 1.1 4.1 3.8 3.9 10.8 1 1.2 3 1.1 9.5 .9 10.5-.1 4-1.2 1.3-2.7-.7-8-1.3-4-2.3-4-4.7-4-10.3-5.5-3.5-4.5-1.9-6-2-12-.6-.9-2.9-1.1-1.5-2 0-14zM112.5 88.4l-2 1-1 1.8-.7 8 1.1 12 2.6 4.4 6 2.3 8-.2 8-2.5 5.3-4 2.3-4 .4-4-1.5-4-3.5-4-5-3.2-6-2.3-8-1.5-6 .2zM174.5 210.3l-2.1 2.9-.1 4 1.3 6 1.7 4 3.7 6 5.5 5.9 4 1.9 2-.2 4-3.2 4-6.9 1.3-5.5-1.3-6-4-4.9-6-3.2-8-1.6-6 .8zM226.5 63.2l-8 1.3-4 2.2-2.6 2.5-2.2 4-1.2 4 .1 6 1.2 4 2.7 3.6 2 1.4 6 2.2 12 1.4 8-1 3.6-3.6 1.9-6 .8-10-1-6-1.5-2-3.8-2.1-6-1.4-8-.5zM274.5 35.2l-12 1.5-6 3.4-2.3 3.1-1.9 6-.5 6 .5 4 1.1 2 2.7 2 18.4 5.7 4.7 2.3 5.2 4 3.1 4 2.1 6-.1 4-1.9 4-4.8 4-6.3 2.4-8 1.5-16 1.4-4 1.2-10.9 7.5-5.1 2.2-8 1.6-16 1.1-5.4 1.1-2.6 1.4-2 2.2-1.4 4.4 1.2 8 3.5 8 17.4 22 3.3 5.6 1.6 22.4 1.2 6 2.4 6 3.1 4 5.7 4.4 6 2.5 6 1.3 10 .3 2.1-.5 2.4-2 1-4 1-16 1.5-8.9 9.1-19.1 2.9-3.8 3.5-2.2 4.5-1.3 6-.4 14 1.4 4-.7 4-2 4-4.1 2.4-4.9 1.7-22 1.9-5.5 3.2-4.5 4.8-3.5 4-1.5 6-.7 18-.2 10-2.8 4-2.6 4-4.6 2.8-6.1 1.4-6 .1-6-1.5-4-1.6-2-7.2-4.9-8-2.1-4 .2-6 1.8-5.4 3-12.6 9.6-4 .7-2-.4-4-2.8-2-3.3-6-23.8-2-4-3.5-4-7-4-9.5-3-12-2.4-10-.6zM398.5 38.4l-2 2.6-1.5 4.2-2.1 12-.7 12 1.6 6 4.7 4 10 3.3 16 2.5 4-.5 2-1 1.6-2.3-.8-4-10.9-14-11.9-22.2-2-1.9-4-1.7-4 1zM512.5 235.1l-5.6 2.1-3.7 4-14.6 28-1.4 4 .3 4 1.4 2 3.6 2.4 5 1.6 7 1 16-.3 4-.9 3.6-1.8 2.4-2.4 2-3.6 3-10 1.8-10 .1-8-1.1-4-3.5-4-4.3-1.9-8-1.8-8-.4zM298.5 219.2l-22 1.4-2.3 .6-2.2 2 .4 6 4 12 2.3 4 3.8 3.1 6 1.6 8 0 4-1.2 2.2-1.5 1.8-2.5 2.9-9.5 1.4-12-.6-2-1.7-1.5-8-.5zM476.6 15.2l130.2 0 .1 16 2.7 6-.2 6-1.3 4-2.3 4-11.2 10-2.7 6-5.2 40-.2 8 1.1 6 2.7 4 4.2 3.2 8 3.2 6 .8 2-1.5 5-7.7 6.8-8 18.2-18.4 4-1.9 2 0 4 1.7 10 0 0 41.7-10 0-10-2.2-24-1.9-4-.2-2 .7-2 4-6 17.5-4 6.5-4 4.7-6 4.9-4 1.9-4 .3-6-2.2-5.2-5.1-1.7-4-.8-4 .6-10 4.8-20 0-6-4.5-14-6-12-15.9-20-10.8-20-2.8-4-2.4-2-3.3-1.2-14 2-4-.2-2-.9-2-2.1-4.2-9.6-3.3-4-6.5-2.4-12.1-1.6-1.8-2 0-14zM34.5 189.2l0-1.7 14 0 .9 1.7 1.1 4.5 .3 23.5-.3 6.4-2 4.2-14 0 0-38.6zM103.8 239.2l6.7-1.7 4 2 1.8 3.7 .3 4-2.1 9.1-3.8 8.9-4.2 7-13.6 15-2.7 4-2 6-2.2 12-1.8 4-3.7 3.3-6.5 2.7 0 12-39.5 0 0-65 14 0 3.4-1 2.6-3 4.6-11 1.7-2 3.7-2.2 7.1-1.8 22.9-2.9 9.3-3.1zM140.4 293.2l6.1-.5 6 1.5 18 10 6 2.1 6.8 .9-.7 2-8.2 4-7.9 2.7-8 1.2-18 1-5.4 1.1 0 12-31.4 0 0-12 14.5-4 4.3-1.9 2.2-2.1 7.8-13 3.4-3 4.5-2zM318.3 313.2l6.2-.7 17.6 6.7 0 12-38.1 0 0-12 14.3-6zM265.3 317.2l3.2-.1 8.1 2.1 0 12-14.1 0 0-12 2.8-2z" fill="#767676" fill-rule="evenodd"/>
<path d="M172.3 15.2l285.7 0 .2 16 4.3 12.1 3 5.9 3.6 4 5.4 3.3 15 4.7 4.3 2 3.6 4 2.2 6 2.9 13.1 3.4 10.9 .5 4-1.9 4.1-10.2 7.9-2.7 4-1.1 3.9-.5 8.1 .7 8 1.6 8 2.8 8 7.4 15.7 4 6.8 14 19.5 12 11.3 4 4.7 8 15.2 2 2.5 4 2.3 4 1 24 3 12 .4 12-1.5 6-2 4.8-2.9 3.7-4 6.9-10 4.6-3.5 6-2.3 14-3.3 1.2-.9 .8-3.3 10 0 0 129.3-229.3 0 0-12-4.7-1.7-3.1-2.3-2.5-6 0-8 1.3-4 2.3-2.7 4-2.2 8-1.6 36-1.7 5.7-1.8 6.3-3.7 26 2 10-.2 6-1.1 4.5-3 3.5-7.4 3.5-16.6 .5-12-2-5.2-4-2.9-16-3.6-4-.1-4 .7-2.1 1.1-3.6 4-14.3 26.2-4 5-2 .7-2-.8-2-1.9-12.5-15.2-7.5-5.9-8-2.4-16-.9-2.5-.8-2.6-2-1.9-4-2.6-16-3.9-10-6.5-8.9-4-3-4-1.3-6 1.6-4 3-2.2 2.6-3.2 8-.5 10 1.9 8 3.1 6 4.9 5.9 9 8.1 2.5 4 1.1 6-.6 11.6-1.5 6.4-2.5 4.4-4.2 3.6-9.8 5.3-6 2.1-4 .4-4-.6-12-4.4-6-1.3-6 .2-16 2.2-6-.8-6-4.1-10-13.5-2-1.4-2-.4-2 .9-7.2 7.4-4.8 2.9-8 2.1-8-.5-4-1.3-4.5-3.2-7.5-12.1-2-1.9-2-.8-6 1.2-10 7.7-3.5 1.9-2.5 .6-4-.7-15.2-9.9-20.5-10-5.4-4-3.4-4-.5-2 .4-2 4.6-8.8 2.4-7.2 .2-4-1-4-2.5-4-4.8-4-18.3-7.2-4-4.1-3.7-10.7-4.7-26-2.7-10-3.7-6-5.2-2.4-4 .2-6 2.7-4 3.5-4.3 6-3.6 8-7.3 20-5.3 22-3.5 8-2 2.2-4 2.1-4-.1-4-1.7-8-7.4-12-17.1-3.5-4-4.5-3.4-12-6.2-2.1-2.4-.6-2 .4-4 2.4-4 15.9-9.5 6-4.8 14.5-13.7 4.3-6 1.7-4 .3-4-.8-2.1-1.7-1.9-10.3-7.2-6.1-6.8-3.3-8-.5-8 1.9-3.1 4-1.1 12-.2 8 1 1.7 1.4 .8 2 2 22 .9 2 2 2 4.6 1.5 10-.1 5.6-1.4 4.4-2 2.9-2 3.1-4 1.1-6-2.8-6-6.3-5-8-3.3-16.2-3.7-1.8-2.8-3.1-13.2-2.9-5.6-4-3.6-10-5.7-4-5.1-2-8 .1-4 .7-2 1.2-1.1 4-.8 6 .6 4.7 1.3 6.2 4 8.4 10 6.7 5 16 8.2 18 7.8 8 2.7 4 .2 4-1.7 4.8-6.2 4.4-10 2.3-10-.1-4-1.6-4-3.8-3.9-3.7-2.1-.5-16zM266.5 35.1l-7.7 2.1-4.7 4-2.6 6-2.5 14-1.2 2-3.3 .4-16-1.3-8 .7-4 1.4-4 2.8-3.8 6-1 4-.1 6 1 4 2.4 4 3.5 2.5 4 1.4 22.2 4.1 1.8 2-1.9 4-4.1 4-8 3.5-8 1.2-16 .3-6 1.5-2 1.5-2 3.5-.5 6.5 3.3 10 10.3 18 4.4 12 6.5 8.5 1.7 3.5 4.7 20 1.8 4 2.9 4 4.9 4.1 6 3 20 4.4 4 2.2 4 6.8 7.6 17.5 3.9 4 6.5 2 12 .2 4-1.2 3.3-3 12-34 2.7-3.9 6-5.4 1.2-2.7-1.2-1.8-2-.4-2 .7-7.4 7.5-3 2-8.3 4-6 2-11.3 1.7-14-.9-4-2.2-2.1-6.6-.1-12 2.4-10 2.3-4 10.4-14 5.1-4 6-1 12 1.5 4 0 4-1.3 4-2.7 4.2-4.5 3.3-6 .7-4 .2-18 1.2-4 2.4-4.2 4-3.7 6-2.5 24-1.7 6-1.6 6-3.1 4-3.9 3.1-5.3 3.3-10 1.2-8-.5-2-1.8-2-5.8-4-7.5-3.1-8-1.1-4 .6-6 2.2-14 9-4 1.2-2-.2-4-2.3-2-2.8-2-4.9-5.3-18.6-2.7-4.5-3.9-3.5-9.1-4-15-3.5-10-1-12 .4zM398.5 35.1l-2.6 2.1-2.5 8-3.8 26 0 4 1.1 2 2.8 2 5.1 2 17.8 4 10.1 1.3 5.4-1.3 1.8-2 .6-2-1.2-4-12.6-15.4-10-20.1-2-2.9-4-3.1-4-.9-2 .3zM548.5 302l-2 3.2 1.2 4 2.7 2 2.1 .5 4-.6 1.4-1.9 .1-2-1.5-3.1-4-2.6-4 .5zM482 15.2l120.5 0 .1 16 2.2 6-.2 6-2 4-1.9 2-8.2 4.2-2.4 1.8-1.1 2-.7 4-.3 18-1.3 12-2.2 14.5-3.7 15.5-.1 2 1.5 2 5.5 4 12.8 7.3 2 2.4 .7 2.3-.7 8-2.3 6-3.7 5.6-6 5.4-6 2.7-4 .3-4.8-2-3.5-4-1.8-6 .2-8 1.9-8.1 6.6-17.9-4.6-6.8-11.8-21.2-16.2-20.1-12-23.6-2-2.7-4-2.5-4 .2-10 2.3-6-.7-2-1.5-5.1-9.4-2.9-2.9-4-1.6-10.4-1.5-2.1-2 0-14zM249.9 67.2l.6-1 2-.5 12 1.5 8 2.3 7 3.7 4.3 4 2.3 4 .8 6-1.4 4-5 4.7-8 2.9-12 1.2-12-1.1-2.1-1.7 0-2 3.5-28zM60 71.2l2.5-1.4 2 0 3.2 1.4 2.8 4-.1 4-1.9 1.4-2 .2-4.9-1.6-1.9-2-.7-2 0-2 1-2zM644.3 99.2l2.2-.1 4 1.5 10 0 0 35.8-10 0-23-3.2-7-1.9-2.4-2.1-.4-2 1.3-4 5.8-8 11.7-11.3 4-3.1 3.8-1.6zM650.4 175.2l10.1-.2 0 24.1-10 0-1.1-15.9 1-8zM34.5 199.2l14-.2 1.4 14.2-1.4 9.8-14 0 0-23.8zM152.4 211.2l4.1-.4 4 .4 3.7 2 1.8 2 7.2 14 7.9 12 .9 4-1.9 2-5.6 1.7-4-.6-2.4-1.1-4.4-4-9.2-11.9-8.3-8.1-1.6-4 1.3-4 2.6-2.4 3.9-1.6zM72.7 247.2l15.8-.9 14 1.6 2.7 1.3 1.4 2 .4 4-1 4-1.7 4-3.8 5.4-4 3.5-4 1.8-4 .6-4-.4-18-5.4-4-2.1-2-3.1-.3-4.3 .8-4 1.5-2.9 2-2 2-1.3 6.2-1.8zM34.5 271.2l15.9 0 2.9 2 2 4 3.4 10 3.8 2.8 10 3.8 3.3 3.4 1.4 4 0 4-1.3 4-1.6 2-2.6 2-4.8 2-8.4 1.2-2.2-1.2-2.9-16-2.9-3.9-16-.3 0-23.8zM143.4 295.2l7.1 .6 7.1 3.4 5.5 4 3.8 4 .8 2-.5 2-2.7 2.1-8 2.1-16 .7-8.7-.9-1.4-2 0-2 2.5-8 2.9-4 2.4-2 5.2-2zM318 315.2l6.5-.4 13.5 4.4 0 12-31.1 0 0-12 11.1-4zM119.5 319.2l2.1 0 0 12-2.1 0 0-12zM266.1 319.2l5.8 0 0 12-5.8 0 0-12z" fill="#7a7a7a" fill-rule="evenodd"/>
<path d="M174.7 15.2l281.4 0 .2 16 2.2 3.4 6 14.8 3.2 3.8 4.8 3.3 16 5.6 4 2.1 3.1 3 2.9 6.7 4.7 21.3 .2 6-2.8 4-6.1 4.3-3.7 3.7-1.8 4-.8 6 .5 10 1.4 10 2.4 8.7 4 10.3 5.9 13 4.1 6.6 11.9 15.4 12.1 9.5 4 4.1 4.1 6.4 5.9 12.9 2 1.5 4 1.3 26 3.3 10 .6 12-.9 8-1.7 6.3-3 4.5-4 7.2-10.2 4-3.4 4-1.9 6-1.5 6-.5 3.9 1.5 2.1 3.6 10 0 0 116.4-225.6 0 0-12-6.4-1.7-3.6-2.3-1.5-2-1.4-4 .3-8 1.8-4 1.9-2 4.5-2.3 8-1.6 18-.6 20 1 4-.8 6-3 4-1.1 32-.2 7.3-1.4 2.6-2 1.3-2 2.3-8 3.5-20 .4-6-.6-6-2.4-4-4.6-2-17.8-3.5-4-.2-4 1.2-4.3 4.5-7.7 15.2-6 10.1-4 4.1-2 .7-2-.4-4-3.3-12-13.3-6-4.5-6-1.9-16-1-4-1.5-2-1.8-2-4.4-3.2-16-3.2-8-3.6-6-4-5-6-4.5-4-.1-4 1.7-4 2.8-2.7 3.1-3.6 8-.8 10 1.3 8 3.5 8 4.3 5.5 8.7 8.5 3.3 5.2 1.3 8.8-1.2 10-2.7 6-3.9 4-9.5 5.5-8 2.4-6-.6-12-4.1-6-1.2-20 2.2-4-.1-4-1.1-6-4.8-10-14.1-4-2.2-2 .7-5.4 7.4-4.6 4.4-6 2.9-8 .8-6-1.3-4.7-2.8-3.2-4-4.8-10-3.3-3.2-4-.2-4 1.4-12 8.7-3.2 1.3-2.8 .1-4-1.4-12-7.4-19.4-9.3-6.9-6-1.6-4 .7-4 4.9-14 0-6-1.5-4-2.2-3.1-4-3.7-16-8.2-6-5.9-2.7-5.1-2-6-7.6-34-1.7-3.6-2-2.4-4-1.9-4-.2-6 2-6 4.5-4.3 5.6-4 8-8 20-5.6 22-4.1 8-2.2 2-3.8 1.5-4-.4-4-2-8-8.2-12-17.7-4-3.4-9.9-5.8-3.3-4 .2-4 3-3.9 14-8.9 18.1-17.2 4.9-6 3.7-8 .1-4-1.1-2-11.7-6.8-4-3.5-3-3.7-2.1-4-1.1-4 .2-6.2 2-2.9 4-1.5 10-.4 6 1.4 2 1.6 1.7 4 1.4 20 .9 2 2 1.6 4 .9 12-.3 10-3 4-2.8 2.2-2.4 1.8-4 .3-4-2.7-6-5.6-4.8-6-2.9-15-4.3-3.6-2-2.3-4-3.1-11.7-2-4.4-4-4.2-10-5.8-3.5-3.9-2.1-6 0-4 .8-2 2.8-1.9 2-.3 4.4 .2 5.6 1.9 5 4.1 7 8.9 6 4.3 40 18.6 6 1.6 4-.4 4-2.8 4.1-6.2 5-12 1.8-8 0-4-1.3-4-3.6-4-3.4-2-.4-16zM394.5 32.8l-1.5 4.4-4.5 27.6-2 4.6-2 1.3-16-4.5-8-.1-9.5 3.1-12.5 7-4 .7-2-.5-2-1.2-3.1-4-6.6-20-2.3-4.2-3.6-3.8-6.4-3.3-10-3-12-2.2-12-.6-12.3 1.1-5.3 2-2.4 1.9-3.6 6.1-3.6 12-2.8 3.2-4 1-14 0-8 1.3-6 3.3-3.8 5.2-1.9 6-.2 6 1.5 6 2.4 3.5 6 3.3 16 3.9 2.8 1.3 1.3 2-.4 2-1.4 2-2.6 2-4.9 2-10.8 1.3-18-.7-4 1.9-2.8 3.5-1.8 6 .4 4 12.1 26 2.6 14 2.4 4 7.1 5.7 4 4.7 2 4.9 3.4 12.7 4.6 8 4.4 4 5.6 3.2 18 5.4 5.4 3.4 5.5 8 7.2 16 3.9 3.7 6 1.6 12 .7 6-.4 3.5-1.6 2.5-3.8 4.5-14.2 5.5-11.5 4.3-6.5 8-8 3-4 .7-4-2.7-4-5.3-2.5-6-.2-4 2.1-9.8 10.6-6.2 4.4-10 3.7-10 .5-6-1.2-4-2.8-2-4.1-.8-6.5 1.2-8 2.7-6 2.9-3.6 12-11.5 6-2.3 14 1.7 4-.6 6-4 6-6.7 3.5-5 1.6-4 .5-4-.8-16 1.9-6 3.1-4 4.2-2.8 4-1.3 22-1.9 6-1.6 6-2.9 6-6 6.9-15.5 3.1-4.2 2-.6 4 .3 30 5.2 5.8-.7 2.5-2 1.3-4-1.2-4-10.4-11.3-3.4-4.7-10.6-21.7-2-2.9-2-1.9-4-2-6-.8-2 .9zM548.5 297.2l-4 1.5-1.7 2.5-.4 6 1.9 4 2.6 2 5.6 1.7 4 .2 4-.9 1.3-1 .8-4-2.2-6-1.9-2.3-4-2.7-6-1zM488.8 15.2l41.2 0 .5 15.9 4 1.1 10-1.3 .9-1.7 0-14 53.5 0 .5 20-.9 4.9-2 2.3-2 1.1-10 2.1-2.7 1.6-1.3 2 0 4.9 4.6 15.1 .7 12-1.3 12-2 9.6-2 5.1-2 2.2-2 .1-4-3.7-8.8-13.3-15.2-18.3-4.4-7.7-7.6-18.1-4-7.1-2-1.5-2-.1-10 4.1-4 1-4-.4-2-1.2-5.6-8.7-2.4-2-9.4-2-2.3-2 0-14zM254.4 69.2l4.1-.9 8 .8 6.6 2.1 5.4 3.2 4.4 4.8 1.4 4-.1 4-1.8 4-5 4-8.9 2.6-10 0-4-.9-2.8-1.7-1.3-2-.7-4 .5-10 1.2-6 1.1-2.4 1.9-1.6zM642.5 103.2l4-.5 4 1.4 10 0 0 30.4-10 0-18-2.2-8-2.5-2.5-2.6-.3-2 1.4-4 4.3-6 9.1-8.5 6-3.5zM580.9 135.2l1.6-.7 4 0 6 2.2 3.8 2.5 1.7 2 1.4 4-.7 6-3.3 6-4.9 4.5-6 2.4-4-.2-2-.9-3.2-3.8-1.3-4 0-6 1.5-6 3-5.8 2.4-2.2zM155 221.2l1.5-1.6 4 .8 6 5.8 4 5.1 4.7 7.9 .5 4-1.2 1.3-2 .6-2-.4-4-3.1-10.1-16.4-1.4-4zM70.5 251.2l8-1.5 10 1.4 3.4 2.1 1.5 2 .2 4-1 2-2.1 1.9-4 1.5-6 .3-8-1.5-4.3-2.2-1.5-2-.5-2 .2-2 1.3-2 2.8-2zM140.8 299.2l5.7-1.5 6 1.6 4 2.5 3.5 3.4 1.2 4-1.3 2-5.4 2.2-8 .7-8-1.1-2.4-1.8-.7-4 1.5-4 3.9-4zM316.3 317.2l4.2-.8 4 .3 9.1 2.5 0 12-23.6 0 0-12 6.3-2z" fill="#7e7e7e" fill-rule="evenodd"/>
<path d="M177.1 15.2l208.9 0 0 14 .6 2 2.9 2 .9 2 .1 8-1.1 10-1.9 8-1.9 4-3.1 2.1-14-2.4-8 0-8 2.3-14 6.7-4 .1-4-2.5-1.7-2.3-7.3-20-3-4.5-4-3.3-8-3.2-12.3-3-9.7-1.3-12-.3-12 1.3-6 2.8-4 5.5-4.4 12-3.6 3.7-4 1-16 1.1-6 1.5-6 4.3-2.8 4.4-1.8 6-.3 6 1 6 1.9 3.8 4 3.2 17 5 2.2 2 .1 2-1.4 2-3.5 2-6.4 1.4-8-.1-12-2.2-4 .3-4.6 2.6-4.2 6-2.5 6 0 4 7.3 12.1 4.8 9.9 1.6 6 1.5 14 2.6 4 9.5 5.9 4 3.6 2.5 4.5 4.7 14 2.1 4 3.3 4 7.4 5.1 18 6.5 6 4.4 6 8.9 6 15 2 2.9 2.3 1.2 3.7 .6 24 1.6 4-1 1.6-3.2 3.7-14 4.6-10 5.2-8 10.9-11.6 2.8-4.4 .7-4-.5-2-3-4.2-8-4.6-10-2.9-2 .1-2 1.3-6.1 10.3-4.9 6-5.3 4-5.7 2.5-8 1.1-7.1-1.6-2.8-2-1.3-2-1.5-6 .7-6 3.1-6 4.9-4.9 8-5.6 4-1.9 4-.5 14 3.6 2-.1 2-1.1 2-2.3 12.5-17.2 3.5-6 .9-6-1.3-10 .1-6 1.2-4 3-4 4.1-2.6 4-1.3 20-2 6-1.5 6-2.7 6.4-5.9 7.6-15.4 2-2.8 2-1.4 4-.9 6 .3 26 4.4 4-.4 2-1 2.5-2.8 .8-4-1.3-4-14-15.2-5-8.8-7-16.1-2-2.8-4.3-3.1-.4-16 50.6 0 .2 16 3.1 4 3.7 10 3.3 6 3.8 3.9 4 2.4 18 7 4.8 4.7 3.3 10 2.5 18-1.1 4-1.5 1.9-8.1 6.1-1.9 2-1.9 4-.6 6 .8 10 2.9 18 6.8 19.3 6 13 11.8 15.7 4.7 4 9.5 6 6 5.9 2.6 4.1 2.4 6 1.4 10-2.4 .6-8-.7-20-3.7-4 .6-2 1.3-3.1 3.9-6.9 14.7-6 10-4 3.9-2 .7-2-.3-4-2.8-12-12.7-6-4.4-6-1.9-16-1.1-4-2.1-2.5-4-3.8-16-5.1-12-8.6-12.2-2-1.9-4-1-4 1.3-4 2.5-6 6.2-3.2 7.1-1.1 8 .8 10 2.7 8 4.8 7.1 10.2 10.9 3 6 .7 8-1.4 8-2.5 4.9-4 4-8 4.7-8 2.4-6-.5-12-4-6-1.1-18 2.1-6-.1-4-1.4-3.8-3-12.2-17.4-4-3.2-2-.3-2 1.9-2.9 7-2.4 4-4.2 4-6.5 2.8-8 .1-4-1.2-4.9-3.7-3.5-6-3.6-10.1-2-2-4-.4-4 1.1-6 3.3-8 6.2-4 1.6-2 .1-4-1.3-11.8-6.5-14.2-6.2-8.4-5.8-2.8-4-.5-2 .4-4 3.3-10 1.2-6-.2-4-1.3-4-2.7-4-3-3.1-16-9.9-6.6-7-3.4-6.2-2-5.5-7.9-34.3-2.9-4-5.2-1.9-6 .6-6 3-5.1 4.3-4.4 6-12.8 28-4.9 20-1.6 4-2.6 4-2.6 2.1-4 1.1-6-2-4-3.4-4-4.8-10.7-17-3.3-3.2-9.8-6.8-1.5-2-.4-2 .6-2 3.7-4 11.4-8 17.6-18 4.8-6 5.6-11.6 2-1.9 18-1.4 10.6-3.1 3.4-2.1 3.7-3.9 1.7-4 .1-4-2.6-6-4.9-4.5-8-4.1-14-4.5-4-2.9-1.9-4-3.1-12-1.7-4-3.3-3.7-8-4.3-4.8-4-2.4-6 .5-4 2.3-2 2.4-.5 6 1 5 3.5 7 9.7 4 3.1 44 20.2 6 1.9 4-.2 4-2.6 4.2-6.1 5.4-12 2.7-10 .2-4-1-4-3.3-4-3.2-2-.4-16zM554 15.2l41.7 0 0 16-1.7 4-3.5 2.9-12 4.1-2 1.7-1.5 3.3 .4 6 6.5 16 1.7 10-.6 10-1.8 8-2.7 5.4-2 .8-4-2.4-22-26.5-6.2-11.3-4.7-14-1-8 1.7-4 2.9-2 10.4-4 .4-16zM506.9 33.2l1.6-1.9 8 1.4 3.4 2.5-.1 2-3.3 2.9-4 .6-2-.9-2-2.4-1.6-4.2zM256.5 71.2l4-1 6 .4 6 1.9 4.5 2.7 3.6 4 1.4 4-.3 4-2.4 4-4.8 3.2-8 1.9-8-.8-4-2.1-2.4-4.2-.3-8 1.3-6 1.4-2.4 2-1.6zM84.6 91.2l5.9-1.7 6 .1 4 1 3.2 2.6 1.6 4 .8 6-.2 8-1.4 5.3-2 1.2-6-1.2-6-3.4-4.3-3.9-3.7-6-.9-4 .2-4 .8-2 2-2zM640.1 107.2l4.4-1.4 2 .1 4 1.6 10 0 0 24.9-14-.1-10-1-7.7-2.1-2.6-2-.9-2 .1-2 3.1-6 6-6.2 5.6-3.8zM583.3 141.2l3.2-.7 4 1.1 2.3 1.6 2 4-.3 4-2 3.3-4 3.2-4 1-4.1-1.5-1.9-3.2-.5-2.8 1.5-6 1.2-2 2.6-2zM633.1 213.2l5.4-1.3 6 .2 2 1 1.6 2.1 2.4 7.8 10 0 0 108.2-82.6 0 0-12-9.2-2-4-12-3.9-6-6.2-4-6.1-1.4-6 .4-1.7 1-1.1 2-.6 8 1.5 6 1.9 2.4 4 2.1 19.7 3.5 0 12-84.2 0 0-12-5.5-.5-18.5 .5 0 12-16.6 0 0-12-6.9-.7-4.7-1.3-3.4-2-2.7-4-.8-6 1.6-6 3.8-4 6.2-2.3 10-1.2 14 0 10 1.3 10 2.7 4-1 8-5.1 6-1.4 10-.5 22 .5 4-.7 2-1.6 1.7-4.7 4.6-30 .6-16 1.1-.9 16 .9 24 2.8 12-.5 10-1.6 6-2 4.7-2.7 4-4 7.3-9.9 6.6-4.1zM146.5 301.2l2 .2 4 1.9 1.9 1.9 .7 2-.7 2-3.9 1.9-4 .3-2-.3-3.4-1.9-.8-2 .4-2 1.8-2.4 4-1.6zM314.1 319.2l6.4-1 7.7 1 0 12-14.1 0 0-12z" fill="#818181" fill-rule="evenodd"/>
<path d="M179.6 15.2l200.4 0 0 14 .8 2 5.7 2.6 2 3.4 .4 8-1.9 12-2.5 5.4-2 1.7-2 .5-14-1.3-6 .3-8 2.2-12 5.2-4 .6-2-.5-2-1.2-2.5-2.9-8-20-2.9-4-2.5-2-8.1-3.4-12-2.9-12-1.6-12-.2-12 1.1-3.5 1-3.6 2-3.1 4-4.9 12-3.7 4-5.2 1.7-18.7 2.3-5.3 2.6-4 4.1-2.5 5.3-1.2 6 .1 8 1.6 6.3 2 2.8 2 1.4 14 4.2 2.1 1.3 .4 2-2.5 2.2-6 1.3-6-.5-12-3.2-6 .9-4 2.6-4 4.7-7.8 12-.8 2 .2 2 10.4 9.8 4.8 8.2 2.1 8 .6 14 1.6 4 4.9 4 10 4.9 3.3 3.1 2.7 4.5 5.1 13.5 4.9 6.6 8 5.4 15.3 6 3.5 2 5.8 6 4.6 8 3.3 10 0 4-.9 2-11.6 6.1-10 7.3-4 1.8-6-.9-23.1-10.3-6.9-4-4.1-4-1.2-2-.6-4 4.3-18-.1-4-1.2-4-2.3-4-3.7-4-16.5-12-4.6-5.2-4-6.1-4.1-10.7-6.1-30-1.8-3.6-2-1.5-6-.9-8 2-6 3.7-6.2 6.3-3.6 6-12.8 26-3.3 16-2 6-2.7 4-3.4 2.4-2 .5-4-.6-6-4.3-4.7-6-9-16-9.1-8-1.7-2-.5-2 2.2-4 10.8-9 18.9-21 9.1-14 4-2.3 16-2.1 8-2.2 6-3.5 4.2-5.9 .8-4-.6-4-2.2-4-2.2-2.5-8-5.3-17.1-6.2-4.4-4-1.6-4-3.5-18-1.1-2 1.7-.5 16 4.9 38 17.6 4 .7 4-1.1 4-3.8 4-6.9 5.5-12.9 2.3-8 .2-4-.7-4-2.9-4-2.9-2-.4-16zM407.4 15.2l45.4 0 .3 16 3.5 4 4.8 12 3.1 5.3 4 3.7 4 2.3 16.9 6.7 2.6 2 2.5 3.2 2 4.8 1.7 8 .8 8-.5 6-2.2 4-10.2 8-1.6 2.4-1.2 3.6 0 4 2.7 20 2.5 12.8 8 23.3 6 12.1 5.5 7.8 4.5 4.9 15.8 9.1 4.2 3.8 4 6.4 1.2 3.8 .1 4-1.3 2.6-2 1.1-4 .4-8-1.2-12-3.2-4 0-2 .9-4 5.1-6 14.3-6 10.3-4 3.8-2 .7-2-.2-4-2.5-12-12.2-6-4.5-6-1.7-14-.8-2.8-.9-2.7-2-2.5-4.7-4.7-17.3-4.6-10-8.7-15.8-2-1.8-4 .2-8 5.2-7.5 8.2-3.1 8-.9 8 .8 10 2.5 8 4.2 6.7 10.2 11.3 3.3 6 .9 6-.4 5.8-1.2 4.2-2.3 4-4.2 4-4.3 2.7-6 2.6-4 .8-6-.5-12-3.9-6-1-18 2.3-6-.3-4-1.7-5.1-5-8.9-14.4-5.7-7.6-1.5-6 1.4-10 4.1-10 6.4-10 12.7-14 2.6-6-.2-4-2.1-4-3.7-3.6-10-6.7-3.2-3.7-.6-2 .2-4 1.5-4 10.7-16 1.6-4 .2-4-1.8-12 .8-6 2.6-3.8 4-2.5 6-1.6 18-2.1 6-1.9 6-3.2 6-6.1 8-15.5 4-3.2 4-.9 8 .3 24 4.1 5.3-1.6 3-4 .5-4-1.3-4-11.5-11.5-4-5.1-5.1-9.4-6.9-16.6-2.9-3.4-.2-16zM558.9 15.2l33.6 0-.1 16-1.9 2.2-4 2.4-12 3.8-2.1 1.6-1.6 4 .1 4 1.3 6 7.1 16 1.8 8-.6 10-2 5.8-2 1.9-2-.1-4-3-18-20-6-10.6-3.2-10-.9-8 .9-4 1.2-1.7 2.7-2.3 8.8-4 2.7-2 .2-16zM92.3 39.2l4.9 0 3.3 1.7 2 2 4.2 8.3 .6 2-.8 1.8-10-3.5-4-3-2-3.1-.4-2.2 .2-2 2-2zM257.9 73.2l4.6-1.3 4 .3 4 1.1 4 2.1 2.1 1.8 2.6 4 .4 4-1.8 4-5.3 3.9-6 1.3-6-.7-4-2.2-2.4-4.3-.4-6 .9-4 3.3-4zM89.4 91.2l5.1-.4 4 .6 3.1 1.8 1.6 2 1.4 4 .5 6-.8 6-1.8 3.3-4 1-4-1.3-6-4-3.9-5-1.7-6 .8-4 2.8-2.9 2.9-1.1zM642.3 109.2l4.2-.2 4 2.1 10 0 0 18.9-20 .2-5.4-1-4.6-2.1-1.5-1.9-.3-2 1.3-4 5.3-6 7-4zM284.8 183.2l3.7-1.3 4-.4 4.8 1.7 3.3 4 .2 6-2.8 6-3.9 4-3.6 2.2-4 1.4-6 .3-4-1.3-2-1.7-1.7-2.9-.3-4.8 1.9-5.2 2.1-2.6 4-3.2 4.3-2.2zM632.6 215.2l5.9-1.6 6 .9 2 1.8 1.4 2.9 2.6 13.1 10 0 0 98.9-74.2 0 0-12-12.5-4-3.3-3.4-5-10.6-3-4-6-3.8-14-4.4-2-1.4-1.3-2.4-.7-6 .5-8 4.6-30 .9-2.1 2-1.8 4-1 10 .2 24 2.8 14-1.2 10-2.1 6-2.6 3.1-2.2 9.4-12 5.6-4zM275.8 257.2l4.7-1.3 10-.3 8 1 6 2.3 2 2.3 .6 4-.7 4-1.6 4-4.3 4.9-6 2.8-6 .5-6-1.8-4.9-4.4-2.7-6-1-8 .4-2 1.5-2zM500.4 289.2l8.1-.4 12 .7 9.1 1.7 3.7 2 2 4 1.8 12 1.4 4.2 1.5 1.8 2.5 1.4 11.5 2.6 0 12-59.2 0 0-12-6.3-1.2-8-2.6-20 3-14 .4-10-.6-4.4-1-4.2-2-1.9-2-1.7-4 .1-6 1.6-4 4.5-3.9 4-1.5 14-1.4 13.6 .8 7.3 2 9.1 5.3 2 .3 2-.8 8-7.6 4-1.9 5.9-1.3z" fill="#858585" fill-rule="evenodd"/>
<path d="M182.2 15.2l192.4 0 0 14 1.1 2 6.6 2 2.2 1.5 2.5 4.5 .5 6-1 7.8-2 5.7-2 2.5-4 1.6-14-.5-6 .7-20 6.5-4-.9-3.4-3.4-8.5-20-3.7-4-3.4-2-11-3.3-14.8-2.7-13.2-.6-14 .6-6 1.3-4.7 2.7-2.8 4-4.5 10.6-4 4.3-4 1.5-20 3.1-4.8 2.5-3.9 4-2.7 6-1.2 6-.3 8 .8 12-1.9 1.3-8.9 2.7-5.1 3.6-10 12.2-8.6 8.2-3 6 1 2 8.6 1.1 6 2.4 3.2 2.5 2.8 3.3 2.4 4.7 1 4 .5 16 .8 4 1.3 2.5 4 3 10 3.9 4.4 2.6 3.6 4.1 5.9 13.9 4.2 6 7.9 5.9 18 8.1 4.6 4 4.2 6 4.3 10 .4 4-1.5 3.9-18 12.6-4 2-6-.5-22-8.7-8-4.9-3.5-4.4-.6-6 3.7-16 0-4-1-4-2.1-4-3.3-4-16.6-14-6.6-8.1-4-6.2-3.6-9.7-2.1-10-1.5-12 .3-12-1.1-1.3-10 .6-8 2.2-8 4.7-6 5.8-4 6-8 16-6.4 10-1.2 4-2.7 16-1.8 4-4.1 4-3.8 .8-2-.4-6-4.4-4.4-6-7.4-16-6.6-8-.5-2 2.1-4 6.8-7.4 7.4-10.6 10.9-12 9.7-13.3 4-1.9 16-2.7 8-2.3 6-3.8 3.8-6 .6-4-.6-4-2.1-4-3.7-3.9-8-4.8-14.5-5.3-3.4-2-1.8-2-1.9-4-1.2-6-.2-6 1-2.8 2-1.2 2-.2 6 1.1 21.4 9.1 18.6 9.6 4 .8 4-.8 4-3.6 4-6.7 6.8-15.3 2.4-8 .4-4-.5-4-2.4-4-2.6-2-.4-16zM410 15.2l41.4 0 .3 16 3.9 4 4.9 12.2 3.4 5.8 6.6 5.3 18 7.4 5.1 5.3 2.4 6 1.1 6 .3 6-.6 6-2.3 4.1-12.3 9.9-2.5 6 .2 4 2.6 10.1 4.8 25.9 9.2 27.5 3.1 6.5 4.9 7.8 6 6.5 14 5.8 6 3.9 4.1 6 .9 6-.8 2-2.2 1.6-4 .6-8-1.5-12-4.7-4 .3-4 4.5-6.5 17.2-4.2 8-5.3 5.8-4 .6-4-2.3-12-12-6-4.5-6-1.5-12-.5-4-1.2-2-1.4-3-5-5.5-18-7.4-16-2.9-12-1.2-2.2-2-1.2-4 .4-8 5.7-10 10.8-3.1 6.5-1.6 10 .4 10 2.6 10 5 8 10.3 12 2.4 5 .9 5-.2 4-.9 4-2 4-3.8 4-4 2.7-6 2.7-4 .8-6-.6-16-4.5-6 .2-14 2.2-6-.5-5.2-3-4.7-6-10.5-18-1.6-4-.7-4 1.1-8 3.6-8.7 7.6-11.3 10.9-12 2.5-4 1.3-4-.2-4-2.1-4.5-4-4.5-8.5-7-2.7-4-.4-2 .4-4 1.7-4 9.8-14 1.8-4 .4-4-2.4-12 1.3-6 2.6-2.6 4-1.8 20-3.1 6-2 6-3.1 4-3.3 3.2-4.1 7.1-14 1.7-2.1 4-2.6 6-.9 6 .3 18 3.8 6 .5 4-1.4 2-1.9 1.9-3.7 .4-4-1.3-4-3.3-4-10.8-10-4.2-6-3.1-6-8-20-.1-16zM362.5 247.1l0 .6 0-.6zM563.2 15.2l25.9 0-.2 16-6.4 3.1-14.9 2.9-1.6 2 .4 6 2.3 10 7.7 18 1.6 6 0 4-.9 4-.6 1.5-2 1.4-2-.3-4-2.9-14-14.4-5.5-9.3-3.1-10 .2-8 2.2-4 4.2-2.7 8-2.4 2-1.3 .7-3.6 0-16zM94.8 43.2l1.7-.6 2 .6 1.5 2 .2 2-1.7 .7-2.1-.7-1.7-2 .1-2zM259.3 75.2l3.2-1.2 4 0 4 1.1 3.3 2.1 1.9 2 1.4 4-.6 3.1-2 2.9-4 2.3-4 .8-4-.4-4-2.2-2-3.2-.6-5.3 1.4-4 2-2zM88.3 93.2l4.2-1 4 .2 4 1.8 2 2.6 1.3 4.4 0 6-1.2 4-2.1 2.1-4 .2-4-1.6-4-3.2-2.7-3.5-1.4-4 .1-3.1 1.3-2.9 2.5-2zM212.2 103.2l6.3 0-.5 2-1.5 .1-4.3-2.1zM639.9 113.2l4.6-1.2 2 .4 4 2.9 10 0 0 11.7-10 0-4 1.2-4 .2-6-1.1-2-1.2-2-2.6 0-2.3 2.3-4 5.1-4zM286.1 189.2l2.4 .3 2.4 1.7 .9 2-.7 4-2.6 3.2-4 2-4 .1-2-.9-1.9-2.4-.2-2 1.7-4 4.4-3.2 3.6-.8zM632.4 217.2l6.1-1.8 4 .6 2 1.1 2 2.9 1 3.2 1.6 14 1.4 4.4 10 0 0 89.6-68.4 0 0-12-12.4-4-3.8-2-3.4-3.7-5.2-10.3-3.2-4-5.6-3.4-12.4-4.6-4.2-4-1.4-4.4-.3-7.6 2.1-16 2.2-11 1.3-3 2.1-2 4.6-1.5 8 0 18 2.7 6 .2 16-1.7 10-2.2 8-4.1 3.3-3.4 5.6-8 5-4zM283.9 257.2l10.6 .1 5.9 1.9 2.7 2 1.7 4-.2 4-1.5 4-3.4 4-5.2 2.7-6 .5-4.4-1.2-4.9-4-2.7-6-.3-6 2.3-4 5.4-2zM497.8 291.2l8.7-1.2 10 .4 8 1.6 5.7 3.2 3 6 2.6 14 2.7 2.9 4 1.1 0 12-36.5 0 0-12-11.5-1.4-6.8-2.6-2.2-2-1.9-4 1.5-6 2.2-4 3.3-4 2.6-2 4.6-2zM448.1 293.2l12.4 .9 8.6 3.1 2.8 2 3.5 4 1.9 4 .1 2-.8 2-4.1 3.6-4 1.4-16 1.9-10 0-7.7-.9-5.2-2-2.3-2-1.8-4-.2-4 1.1-4 2.1-3 4-2.6 4-1.3 11.6-1.1z" fill="#898989" fill-rule="evenodd"/>
<path d="M184.9 15.2l184.1 0 0 14 1.5 2 10 2.8 3.7 3.2 1.7 6-.2 6-1.2 5-1.5 3-2.5 2.5-2 .9-18 .9-18 5.4-4 .5-4-1.6-2-2-2.6-4.6-5.5-14-3.2-4-4.7-2.8-16-4.1-16-2-22 .4-6 1-3.9 1.5-3.8 4-4.4 10-3.9 5.1-6 2.5-18 3-4 1.8-4.4 3.6-2.5 4-1.4 4-2.5 20-2.1 4-11.1 6.4-12 13.4-10.9 8.2-6.5 6-16.6 7.9-9.7 8.1-4.4 6-7.9 14.9-8.9 11.1-1.2 4-1 14-2.1 6-2.8 3.2-2 1.1-4.7-.3-5.3-4-3.8-6-2.1-6-3.8-16 .5-6 4.8-12 3.7-6 10.6-12 9.2-12 4.9-2.4 18-3.4 8-2.9 4-3 1.9-2.3 2-6-.1-4-1.3-4-4.9-6-7.6-4.8-16-6.2-4-3-2.2-4-.9-4-.1-4 1-4 2.2-1.8 2-.4 6 1 21.5 9.2 16.5 9.4 6 .8 4-1.9 3.6-4.3 3.3-6 6.4-14 3.4-10 .2-8-1.9-4-2.3-2-.3-2 0-14zM412.1 15.2l37.9 0 .4 16 2.6 2 2.7 4 4.7 12 2.3 4 3.8 3.9 3.3 2.1 16.7 6.8 4 3 2 2.5 1.8 3.7 1.4 6 .4 6-.8 6-2.8 5-10 7-4 4-2.9 6 .3 6 4.6 11.1 4.7 22.9 8.9 30 3.2 8 9.2 17.7 2 .6 8-1.2 8 1.6 6 4.2 2 3.1 .8 4-.8 2.2-3.4 1.8-4.6-.2-4-1.2-7.5-4.6-6.5-7.4-4 3.6-2 3.2-7.2 22.6-2.8 6.2-2.5 3.8-3.5 3.5-4 .8-4-2.1-12-12.1-6-4.5-4-1.1-14-.6-4-1.6-2-1.8-2-3.6-4.7-14.9-7.3-18-.9-6 .1-10-1.2-2-2-1.2-6-.3-4 1.5-4 3.1-11.8 12.9-4.4 8-1.6 8 .2 14 2.2 10 4.8 8 10.2 12 2.9 6 .5 8-1.1 4-1.9 3.3-4 3.9-4 2.5-8 2.5-6-.6-16-4.4-4 0-14 2.6-8-.6-5-3.2-4.4-6-9.3-18-1.7-8 1-6 3.5-8 6.7-10 12.1-14 2.3-4 1.1-4-.1-4-1.5-4-2.8-4-10-10-1.2-2-.8-4 .9-4 2-4 9.6-12 2.4-4 .4-6-2.4-10 1-4 2.2-2.1 4-1.5 18-3.7 6-2.5 6-3.6 6-6.6 8-15.4 4-3.4 6-1.5 6 .1 24 4.7 4-1 2-1.4 2-2.5 1.4-3.6 .3-4-1.7-4.8-2.7-3.2-9.3-7.7-3.8-4.3-3.9-6-2.8-6-5.9-18 0-16zM358.5 242.6l-2.4 2.6-.4 2 1.3 4 1.7 2 3.8 1.7 4-1.5 2.6-4.2-.6-4.4-1.4-1.6-2.6-1.4-4-.1-2 .9zM567.8 15.2l17.4 0-.4 16-4.3 1.4-6 .5-4-.6-2.5-1.3-.2-16zM553.3 43.2l3.2-.7 2 .5 2 1.6 2 3.5 9.5 27.1 .3 4-1.8 1.6-4-1.8-8-6.9-4-4.6-2.5-4.3-2.2-6-.8-6 1.5-5.6 2.8-2.4zM261 77.2l3.5-1.2 2 .1 3.5 1.1 2.5 1.9 1.7 4.1-1.6 4-3.1 2-3 .6-3.7-.6-2.3-1.6-1.5-2.4-.5-4 2.5-4zM88.3 95.2l2.2-1.1 4-.5 4 1.1 2 1.6 1.6 2.9 .8 4-.4 4.1-2 3.6-2 1-4-.5-6-4.3-2-3.3-.7-2.6 .7-3.9 1.8-2.1zM640 117.2l2.5-1.1 4 .9 1.6 2.2 .5 2-.5 2-1.6 1.6-2 .7-4-.2-2-1-1.1-1.1-.4-2 .9-2 2.1-2zM173.6 141.2l4.9 .2 3.9 1.8 2.3 2 2.7 4 1.8 8 0 16 1.1 4 1.5 2 3.2 2 13.5 3.9 4 2.5 4 4.9 5.8 12.7 4.2 5.4 8 5.5 16 7.6 4.2 3.5 4.2 6 2.8 6 1.1 4-.1 4-1 2-4.4 4-12.8 8.8-4 1.3-4-.3-18-5.9-8-4-4-3.4-1.8-2.5-.9-6 3.6-18-.3-4-1.3-4-4-6-13-12-12.3-15.4-4-6.1-2-5.1-2.5-11.4-.4-10 .9-3.9 1.4-2.1 3.7-2zM632.6 219.2l3.9-1.5 4-.1 2 .8 2.5 2.8 1.8 8-.2 8-1.2 8 0 2 1.1 1.6 2 .7 12-.1 0 81.8-63 0 0-12-15-5.3-4-2.1-4-4.3-5.2-10.3-3.4-4-5.4-3.1-12-4.4-3.4-2.5-1.5-2-1.8-6-.2-6 1.4-12 2.1-10 1.4-3.7 1.9-2.3 2.1-1.3 4-1 8 .1 20 3 16-1.7 14-2.7 4-1.6 4.2-2.8 7.8-10.5 4.1-3.5zM282.9 259.2l3.6-.8 6 0 4 1 4 2.3 2 3 .5 2.5-.6 4-2.5 4-3.4 2.6-6 1.7-4-.6-4-2.1-3.1-3.6-1.6-6 .7-4.1 2-2.6 2.4-1.3zM505.7 291.2l6.8 .1 8 1.3 4 1.5 4 3.1 2.2 4 1.3 6 .1 6-1.4 4-2.2 1-4 .5-20-.4-10-1.9-2.9-1.2-2.4-2-1.2-2-.7-4 .8-4 2.4-4.6 3.2-3.4 2.8-1.8 9.2-2.2zM436.9 295.2l7.6-1 8 0 7.5 1 4.5 1.5 4.1 2.5 3.4 4 1.4 4-.9 4-1.6 2-3.5 2-10.5 2-16.4 .2-9.2-2.2-2.6-2-1.3-2-1-4 .5-4 1.6-3 2-2.1 6.4-2.9z" fill="#8d8d8d" fill-rule="evenodd"/>
<path d="M187.8 15.2l174.2 0 0 14 2.3 2 11.1 2 5.1 2.6 2 2.1 1.4 3.3 .2 8-2.2 6-1.7 2-3.7 1.8-16 1.3-18 4.8-4 .1-3.8-2-2.2-2.7-8-18.1-3.3-3.2-4.3-2-18.6-4-13.8-1.5-22 .5-10 1.9-3.9 3.1-5.6 12-4.5 4.8-6 2.2-16 2.7-4 1.6-3.9 2.7-3.1 4-1.7 4-3.3 18.6-2 4.5-12 8-12 13-12.3 7.9-9.3 8-12.4 7.5-8 7.1-4.2 5.4-9.8 16.8-4 3.8-8.7 5.4-.6 2 2 8 .5 6-.3 4-1.4 4-3.5 3.7-4 .4-2-.9-3.5-3.2-2.5-4-1.8-8 .3-4 1.5-3.6 2-2 4.4-2.4 1.2-2-6-6-2.1-4 .1-6 2.4-6 20-24.8 6-2.9 18-3.3 8-2.8 5.2-4.2 2.4-6-.5-8-1.9-4-3.6-4-7.6-4.9-16-6.3-4.2-2.8-1.5-2-1.5-4-.4-4 1.1-4 2.3-2 2.2-.4 6 1 17.4 7.4 18.6 11.4 6 .9 4-1.7 4-4.7 3.2-5.9 8.3-18 2.6-8 .6-8-1.3-4-1.9-2-.2-16zM413.9 15.2l34.8 0 .4 16 2.8 2 2.6 3.5 5 12.5 3 5.3 6 5 18.1 7.7 3.9 3.4 2.6 4.6 1.5 6 .2 6-.6 4-1.8 4-3.9 3.8-6.8 4.2-4.8 4-10.4 13.2-6.3 2.8-2.7 2 1 2 10-.5 4 1.2 4 4 2 4.3 13.4 55 4.8 16 0 10-3.7 22-2.5 7.1-2.9 4.9-3.1 3.2-4 .9-6-3.7-10-10.6-6-4.5-4-.9-12-.1-6-2.3-2-2.4-2-4.4-10.2-29.2-.2-6 2-12-1-2-3.4-2-5.2-.7-5.2 .7-4.6 2-2.7 2-12.3 14-4.7 8-1.7 8 0 16 1.8 10 4.6 8 10.3 12 3.1 6 .7 4-.2 4-2.6 6-2.5 2.7-4 2.8-8 2.5-6-.6-16-4.4-4 .2-14 3-6-.2-4-1.6-2-1.7-4.8-6.7-8.2-18-.9-8 1.5-6 4.3-8 5.6-8 10.3-12 4.1-8 .5-4-1.5-6-2.9-4.5-8.7-9.5-2-4-.2-2 .8-4 2.1-4.1 4-4.9 9.1-9 2.4-4 .6-4-1.1-8 .4-2 2.6-2.7 16-6.2 8-4.4 4-2.9 4.8-5.8 7.2-14.7 2.8-3.3 3.2-2 6-1.2 6 .2 18 4.5 6 .4 4.4-1.9 1.9-2 2.1-4 .7-6-2.4-6-14.7-12.9-4-5.5-3.8-7.6-4.5-16-.3-18zM360.5 238.7l-4 1.5-3.1 3-.8 2 .1 4 2.1 4 3.7 3.7 4 1.7 2-.1 4-2.2 2.5-3.1 1.7-4 .1-4-.9-2-3.4-3.1-4-1.4-4 0zM576.1 15.2l1.3 0 0 14-.9 .3-.4-14.3zM554.3 53.2l2.2-1.6 2 2.1 1.7 7.5-1.7 1.7-2-1.5-2-3.8-.2-4.4zM264.5 79.2l2.4 0 2.8 2 .5 2-1.7 2.5-2 .6-2-.4-2-2.1-.1-2.6 2.1-2zM93.8 95.2l4.7 1.4 2 2.3 .8 2.3-.4 6-2.4 2.7-2 .4-4-1.4-2.2-1.7-2.5-4-.4-2 1.1-3.6 2-1.6 3.3-.8zM172 147.2l2.5-1.5 2-.2 4 1.2 2.7 2.5 2.1 4 .8 6-.3 6-1.3 8.6-2 4.1-2 .3-4-2.4-4.1-6.6-1.9-6.3-.8-7.7 .8-5.8 1.5-2.2zM190.4 187.2l4.1-1.3 8 .2 6 1.6 4 2.6 4 5.5 5.6 11.4 3.5 4 6.9 4.8 14.7 7.2 6.8 6 3.5 6 2.1 6 .1 4-2.2 4-13 9.8-6 1.8-6-.8-12-3.4-6-2.5-4.6-2.9-3.5-4-1.1-4 .2-4 3-14-.5-8-3.5-7.1-10.3-10.9-2.9-4-1.5-4-.2-2 .8-2zM518.5 215.2l4-.6 4 1.4 3 3.2 .7 2-.4 2-3.3 1.4-6-1.8-3.2-3.6-.2-2 1.4-2zM633.4 221.2l3.1-1.3 4 .2 2 1.2 2 3.9 .4 6-.6 4-1.8 4.3-4.9 7.7-.2 2 1.2 4 1.9 2.1 4 1.8 6-1.1 10 0 0 75.2-57 0 0-12-5-2.4-14-4.8-4-2.2-4-4.4-4.8-10.2-3.2-3.9-4-2.3-14-4.7-4-2.9-1.6-2.2-1.5-4-.6-6 .9-10 2.1-10 3-6 2.8-2 2.9-.9 8-.1 14 2.8 6 .5 24-3.2 10-2.2 6-3.3 8-11.2 2.9-2.4zM282.9 261.2l3.6-1.3 4-.3 4 .7 4 2.2 2 2.5 .7 2.2-.5 4-1 2-3.2 3.2-4 1.7-4 .1-4-1.5-3.5-3.5-1.5-4 .3-4 1-2 2.1-2zM501.4 293.2l5.1-.8 8 .3 6 1.5 5 3 2.8 4 1.2 4 .2 6-1.7 4-5.5 2.2-14 .3-10-1.3-3.5-1.2-2.8-2-1.5-2-.9-4 1.5-6 3.2-4.3 2.2-1.7 4.7-2zM442.4 295.2l12.1 .1 6 1.3 4 1.8 3.4 2.8 2.3 4 .3 4-.9 2-1.9 2-4.2 2-9 1.5-14 .1-8-2-2.3-1.6-2.3-4-.2-4 .8-2.6 2.5-3.4 3.1-2 8.3-2z" fill="#919191" fill-rule="evenodd"/>
<path d="M190.8 15.2l156.8 0 0 14 4.5 2 16.4 1.4 8.5 2.6 2.7 2 2.4 4 .6 4-.4 4-1.8 4.5-2 2.1-2.7 1.4-15.3 1.9-16 3.9-4 .4-4-1.4-2-1.9-2.8-4.9-5.2-13-2.5-3-3.5-2.1-18.2-3.9-21.8-2.4-20 1-8.7 1.4-3.2 2-1.5 2-4.6 10.4-4 4.8-6 2.7-18 3.6-4 1.8-3.5 2.7-3.6 6-3.8 18-1.1 3.1-2 2.9-12 7.8-8 9.2-4 3.4-15.4 7.6-6.8 8-13.8 10.9-8 8.8-8 13.4-4 4.8-4 2.7-4 1.1-4-.3-4-1.6-4-2.8-2.4-3-.9-4 .6-4 3.4-6 15.3-18.8 4-2.8 4-1.4 20-3.4 8-2.3 4-2.9 1.6-4.4-.1-10-1.2-4-2.4-4-7.9-6.1-18-7.3-4.3-2.6-1.8-2-1.5-4-.1-4 .6-2 3.1-2.5 4 0 4 1 17 7.5 17 11.6 6 1 4-1.4 3.2-3.2 2.8-4.7 11-23.3 2.1-6 1.4-10-2.2-8 0-14zM415.7 15.2l31.6 0 .4 16 3.1 2 3.1 4 5.5 14 2.4 4 2.7 2.9 4 2.5 14 5.5 4 2.3 4 4.1 2.2 4.7 .8 4 0 6-1 4.2-2.4 3.8-14.2 10-9.4 8.7-4 2.4-11.5 4.9-2 2-.9 2 .2 2 1.3 2 4.9 2.9 4 1 10 .4 4 1.5 2 1.8 2.4 4.4 8.1 32 2.8 24 4.5 18 .4 14-2 12-2.2 5.7-2 3-2 2-4 1.2-2-.7-4-2.9-10-11.3-4-3.3-4-1.4-14 .1-5.3-2.4-2.7-3.6-2-4.9-8.4-25.5 .4-6 3.7-10 .3-4.4-2-2.3-4-1.6-8-.6-6 .9-4 1.5-4 2.7-10 11.5-6.8 10.3-1.9 8-.1 22 1 8 2.3 4 11.1 12 4 6 1.4 4 .3 4-2 6-5.3 5-4 1.9-4 .8-6-.6-12-4.2-4-.6-4 .4-12 3.5-8 0-4.3-2.2-4.8-6-6.9-16-1.6-8 1.1-6 2.7-6 6.6-10 11.3-14 3.2-6 1-4-.1-4-2.2-6-9.5-12-2-4-.1-4 1.5-4 4.9-6 12.7-10 3.8-4 2-4 2.5-8 3.1-4 15.1-11.1 4-4.2 2.9-4.7 5.2-12 3.9-5 6-2.7 6-.4 8 1.3 14 4.1 4 .3 4-1.1 2-1.5 2.3-3 1.6-4 .5-6-2.2-6-16.2-14-4-5.7-3.1-6.3-3.8-14 .1-20zM358.5 236.6l-4 1.7-3.3 2.9-1.7 4 .4 4 2.6 5.1 4 4.5 4 2.8 4 .8 4-1.8 4.8-5.4 2.8-6 .5-6-.9-2-2-2-4.2-2-5-1.1-6 .5zM92.8 97.2l3.7 .2 2.2 1.8 1.4 4-1.6 4.3-2 .8-2-.3-4-2.9-1.2-3.9 1.2-2.7 2.3-1.3zM175.6 151.2l2.9 .2 2 1.8 1.5 4 .2 4-.8 4-.9 2.3-2 1.5-2-.7-2-2.6-1.8-6.5 .8-6 2.1-2zM94.9 185.2l3.6-.9 2 .5 2 1.4 2 3.5 .7 5.5-.7 3.7-2 2.8-2 1.1-2 0-2.8-1.6-1.8-2-1.8-4-.1-6 .8-2 2.1-2zM201.7 189.2l4.8 .5 4 1.9 4 4.2 4.8 9.4 4.6 6 6.6 4.8 17.3 9.2 5.3 6 3.2 8-.3 6-3 4-8.5 6.5-4 2-4 .6-10-1.4-12-4.1-4-2.8-2.5-2.8-1.4-6 3.1-16-.1-8-2.2-6-9.9-12-1.9-4-.1-2 1-2 2-1.3 3.2-.7zM635.3 223.2l3.2-.5 2 .9 1.1 1.6 .9 4-2 6.2-6.1 5.8-2.4 4 .1 6 2.4 5.8 4 3.8 6 2.2 16-.4 0 68.6-49.1 0 0-12-4.9-2.9-18-5.9-6-3.2-4-5.4-3-8.6-2.3-4-3.5-2-13.2-2.9-6-2.4-4-3.8-1.9-4.9-.3-10 2.1-12 2.1-5.1 4-3.6 4-1.1 6 .1 14 3.2 6 .6 36-5.5 6.6-2.6 1.9-2 5.5-9.9 2.8-2.1zM586.5 274.8l-1 .4-1 2.4 2 1.8 2.6-.2 1.1-2-1.6-2-2.1-.4zM288.2 261.2l4.3 .2 4 1.7 2 2.1 .8 2-.3 4-1.1 2-2 2-3.4 1.6-2 .3-4-.8-2-1.2-2.9-3.9-.4-4 1.3-3 2-1.8 3.7-1.2zM500.1 295.2l4.4-1.3 6-.3 6 .9 6 2.7 3.5 4 1.4 4 .2 4-1.3 4-3.8 2.5-10 1.2-12-1.1-5.6-2.6-2.6-4 .4-6 2.2-4 5.2-4zM437.1 297.2l11.4-1.3 6 .5 6 1.6 4 2.4 2.5 2.8 1.3 4-.3 2-.9 2-2.3 2-6.3 2.2-14 1-10-1.6-2.8-1.6-1.7-2-.9-2-.1-4 1.5-3.6 2-2.1 4.6-2.3z" fill="#959595" fill-rule="evenodd"/>
<path d="M194 15.2l72 0 0 14-5.4 2-8.1 .8-4 1.4-3 3.8-4.2 10-4.8 5.1-6 2.3-16 3.1-7.1 3.5-4.4 6-4.5 18.7-3 5.3-12.9 8-8.1 9.5-4 3-6 2.2-4-.1-2.4-2.6-2.9-12-3.6-6-7.1-4.6-18.7-7.4-3.5-2-3.2-4-.7-4 .5-2 1.6-2.1 4-.9 10.3 3 11.8 6 11.9 10.4 4 2 6 .9 4-1.1 2-1.4 4-6.1 12.5-26.7 2.2-6 1.5-10-.7-8 0-14zM290 15.2l48 0 0 14 .9 2 25.6 1.6 9.6 2.4 3.2 2 2.9 4 .7 4-.5 4-2.2 4-2.7 2-3 1-12 1.7-16 3.4-6-.6-4-3.8-6.3-15.7-3.5-4-6.1-2-26.3-4-2.3-2 0-14zM417.4 15.2l28.6 0 .4 16 3.3 2 3.4 4 7.4 18 2 2.5 4 3 14 5.5 5.4 3 3.8 4 1.9 4 .9 4-.3 6-1.3 4-2.4 3.3-13.1 8.7-10.9 8.3-4 2-11 3.7-3 1.7-2.3 2.3-1.6 4 1.3 4 4.4 4 6.2 2.6 14 2.5 4 2.7 2.5 4.2 2.4 8 4.6 22 0 24 6 16 1.8 8 .4 10-1.3 8-2.4 5.6-2 2.4-2 1.2-2 .2-2-.6-4-2.9-10-12.3-4-3.1-4-1-12 .9-4-.8-2-1.2-3.4-4.4-2.6-6.1-5.5-15.9-1.1-6 .9-6 6.8-12 .5-4-3.6-3-6-1.6-8-.3-8 .9-6 2.2-5.1 3.8-10.9 13.5-4.1 6.5-2.3 8-.5 20-1 6-1.1 2-3 1.4-12-.9-6 .9-5.5 2.6-3.5 4-.9 6 2.3 6 5.6 7.3 9.2 8.7-4.8 4-6.4 3.1-6 1.6-6-.4-4-2.3-4.3-6-5.3-14-1.3-8 .9-4.9 2.2-5.1 7.7-12 10.5-14 2.9-6 1-4-.1-4-2.1-6-8.5-12-2-4-.1-4 1.8-4 6.7-6.7 15.2-9.3 4.4-4 2.1-4 3.2-10 2.9-4 8.2-7.5 3.8-4.5 6.9-16 2.5-4 2.8-2.6 6-2.2 6-.2 8 1.7 12 4.1 6 .5 3.2-1.3 2.4-2 3.2-6 .9-8-2-6-3.8-4-7.9-5.4-5.1-4.6-4.3-6-3.8-8-2.6-12 .7-6 0-14zM92 101.2l2.5-1.7 2 .8 1.3 2.9-.8 2-3.2 0-1.8-2 0-2zM135.3 125.2l8.7 0 2 2-2.4 4-15.1 15.6-11 16.4-5 3.5-4 .8-6-1.6-3.8-2.7-2.3-4 .5-6 2.3-4 13.3-16.6 3.9-3.4 4.1-1.8 14.8-2.2zM96.2 191.2l2.3-.9 2 1.1 1.2 3.8-1.2 3.3-2 .6-2.4-1.9-.7-4 .8-2zM202.7 193.2l3.8-.2 4 1.9 2.2 2.3 4.4 8 4.7 6 6.7 4.8 16 8.6 4.9 4.6 2.4 4 1.3 4-.1 6-2.5 4-6 5.1-4 2.4-4 1.2-8-.1-12-3.3-4-2.4-2.8-2.9-1.5-4-.1-4 2.9-14 .3-8-2.6-8-6.3-8-2-4 .1-2 2.2-2zM554.7 243.2l3.8-.6 6 .5 12 3.5 6 .8 22-4.1 12-.7 5.6 .6 2.9 2 4.9 14 4.6 5.7 6 3.1 10 3 10 0 0 60.2-34.5 0 0-12 2.5-3 6.4-3 1.6-1.8-1.9-2.2-7.1-2-7-.8-16 1-9.3-.2-6.7-2-2.6-2-1.5-2-.8-4 .9-2.7 2-1.5 6-.5 12 3.2 4 .1 2-.9 1.7-3.7-.5-6-3.4-6-4.8-4-11-6.4-6-2.1-4.4 .5-3.6 3.1-4.8 8.9-2.1 2-3.1 1.3-10 0-4-.9-4.3-2.4-3.2-4-1.3-4 .2-12 2.6-10.1 2.7-3.9 3.5-2zM381.9 247.2l2.6-.8 6 4 5.9 6.8 2.7 6-.1 6-2.2 4-4.3 3.3-4 1.5-4 .3-6-1.3-7.9-3.8-5.3-4 7.2-7.5 9.4-14.5zM287.3 263.2l5.2-.1 4 2.8 1 3.3-.4 2-2.6 3.1-2 1-4 .2-4-2.5-1.5-3.8 .2-2 1.3-2.3 2.8-1.7zM504.9 295.2l5.6-.3 4 .6 4 1.4 3.4 2.3 2.8 4 .8 4-.7 4-1.5 2-4.8 2.1-10 .7-6.1-.8-5.9-2.9-2-3.1-.4-2 1.6-6 4-4 5.2-2zM441.6 297.2l10.9-.1 7.4 2.1 4.8 4 1.4 4-.3 2-1.2 2-2.7 2-6.9 2-12.5 .4-8-1.9-3.1-2.5-1-2-.1-4 .8-2 4-4 6.5-2z" fill="#999999" fill-rule="evenodd"/>
<path d="M197.6 15.2l54.8 0 0 14-1.9 2-4.7 2-5.3 13-4.5 5-5.5 2.4-18 3.7-4 1.7-3.2 2.2-3.7 6-3.8 16-1.3 3.5-2 2.7-4 2.6-10 4.3-6.6 8.9-3.4 2.9-4 1.6-3.6-.5-2.1-2-.9-2-2.7-12 1.3-2 10 .5 4-.5 2-.8 2.9-3.2 7.1-17.7 7.4-14.3 2.3-6 3.3-18 .1-16zM295.5 15.2l37.3 0 .2 16 3.5 1.4 24 .6 10.3 2 4 2 3.4 4 .8 4-.8 4-3.3 4-4.4 1.8-24 4.4-6-.2-3.2-2-2.8-3.9-4.5-14.1-1.5-2.6-4-1.8-27.3-3.6-1.7-2 0-14zM419 15.2l25.6 0 .5 16 3.5 2 3.6 4 6.1 16 2.2 3.9 6 4.8 17.7 7.3 4.3 4 2 4 .9 4-.5 6-1.7 4-2.7 3.2-24 15.2-18 5.6-4.3 4-2.2 6 1.2 4 5.3 5.3 8 3.7 14 3.6 4 2.9 2.7 4.5 2.4 10 1.7 14-1.7 18 .2 8 1.7 6 7 12.7 2 5.3 1.4 10-1.1 8-1.9 4-2.1 2-2.3 .6-2-.5-4-3.3-8-11.5-4-3.9-4-1.3-14 2-4-1.1-2-1.4-2.6-3.6-3.4-7.6-4-12.4-.7-6 .7-4 2-4.1 4-4.9 7.4-7 .5-2-1.1-2-4.8-2.9-8-1.8-12 0-10 1.4-6 2.2-4.3 3.1-15.2 20-2.8 8-.6 20-1 4-1.3 2-4.5 2-10.3 .3-8 1.6-4.6 2.1-3.7 4-1.1 4 .9 6 3.3 6 7.4 10 1.3 4-.7 2-2.1 2-4.2 2-4.5 .8-4-.6-4-2.8-3.2-5.4-3.3-10-1.2-8 1.8-8 18.6-30 2.7-6 1-4-.1-4-2-6-7.8-12-1.9-4-.2-2 1.2-4 2.4-3.3 4-3.4 6-3.6 12.2-5.7 5.2-4 2.1-4 3.2-12 2.4-4 8.2-10 6.7-17.5 4-5.3 6-2.8 6-.3 8 1.7 14 5.3 4 .5 4-1.3 2-1.6 2-2.7 2-4.7 1.1-9.3-1.8-6-3.5-4-9.8-6.4-4.1-3.6-4.6-6-3.8-8-2.3-10 1.3-8 0-14zM121.8 69.2l2.7-1.1 4 .4 12.1 4.7 8.5 6 3 4 1.6 4-1.2 1.2-6-1.1-17.8-6.1-4-2-2.4-2-1.8-4 .1-2 1.2-2zM128.9 127.2l7.4 0 2.2 .8 1.4 1.2-.4 2-11.5 14-11.5 16.1-2 1.4-4 1.5-4-.2-4-2-2.5-2.8-.9-4 1.1-4 2.7-4 9.6-12.3 3.8-3.7 4.2-2.3 8.4-1.7zM213.3 209.2l1.2-1.3 10.2 7.3 17.8 9.6 4.6 4.4 2.9 6 0 6-2.1 4-6.8 6-6.6 2.7-8 .1-9.9-2.8-5.1-4-1.8-4-.2-4 3.4-18 .4-12zM553.9 245.2l4.6-1.2 6 .5 6 1.9 8 3.8 4 .6 10.4-3.6 8.8-2 8.8-.5 6 .8 3.5 1.7 2.7 4 3.3 20-.5 2-7-.6-12-2.5-6-2-14-6.7-4-.5-4 2.8-7.1 11.5-2.9 2.9-6 2.2-8-1-3.6-2.1-2.4-3-1.6-5-.3-4 1.9-12.5 2-4.3 3.4-3.2zM382.6 253.2l1.9-1.2 2 0 2 .8 4.7 4.4 3 6 .2 4-1.8 4-2.1 2-4 1.8-4 .3-4-1.1-4.7-3-1.2-2 0-2 1.5-4 6.5-10zM287.9 265.2l4.4 0 2.4 2 .6 2-.4 2-2 2-2.4 .7-2-.3-2.9-2.4-.5-2 .6-2 2.2-2zM628.5 275.2l8 1.8 3.8 2.2 1.9 4-.7 2-3 1.3-4.3-1.3-4-4-1.8-4 .1-2zM503.3 297.2l7.2-.9 4.4 .9 4.1 2 2.1 2 2 4 0 4-1 2-3.6 2.6-8 1.2-8-1.1-4-2.1-1.9-2.6-.4-2 .6-4 3-4 3.5-2zM438 299.2l8.5-1.4 10 1.4 3.9 2 2 2 1.5 4-.4 2-1.4 2-3.2 2-6.4 1.5-8 .3-8-1.4-3.5-2.4-1.5-4 1.1-4 1.9-2.1 3.5-1.9z" fill="#9d9d9d" fill-rule="evenodd"/>
<path d="M201.8 15.2l40.2 0 0 14 .8 4-.9 6-3.4 7.8-4.8 4.2-5.6 2-15.6 3-8 3.6-3.8 5.4-3.7 16-2.5 5.2-4 2.9-6 .7-2-1-.8-1.8 .8-8 4-10.6 6.4-11.4 2.6-6 3.1-16 .9-2 1.9-2 .4-2 0-14zM300.1 15.2l28.2 0-.2 16-3.6 1.4-4 .3-18.8-1.7-1.6-2 0-14zM420.8 15.2l22.3 0 0 14 .6 2 3.9 2 3.8 4 7.8 20 5.3 4.9 14 5.3 6 3.3 4 4.5 1.4 4 .4 4-.7 4-2.1 4-3 2.9-24 13.7-6 1.4-12 1-2 1.5-3.9 5.5-1.9 4-.9 4 1.1 4 5.6 6.2 8 4.5 16 5 3.1 2.3 2.6 4 1.8 10-.9 8-2.6 5.1-5 4.9 3 5.6 1.4 4.4 4.6 22.2 2.3 3.8 5.9 6 3.8 7.7 .6 6.3-.5 4-2.1 4-2 .9-2.5-.9-3.5-3.7-6-12.3-2-3-2-1.3-4-.4-12 3.8-4 .3-4-1.3-4-4.4-4-9.2-2.4-8.5-.4-6 1.3-4 3.5-4.8 4-2.9 8-3.4 12.5-2.9 1.7-2-2.4-2-7.4-4-8.4-3.4-6-1.4-10-.3-16 1.4-8.3 1.7-5.7 2.7-6 6.3-9.7 13-3.5 6-1.5 6-.4 18-.9 3.2-2 2.5-4 1.6-18 1.5-4-.1-2-1.9 .6-4.8 8.4-16 1.8-8-2.2-8-8.2-14-.7-4 .5-2 2.7-4 5.1-3.9 18.9-8.1 5.3-4 2-4 3.5-14 7.5-12 4.9-16 3.2-6 2.7-2.5 4-1.8 8-.3 8 2.2 12 5.6 6 1.8 4-1.9 4.3-7.1 1.6-6 .6-6-.4-4-1.2-4-3.2-4-11.7-7.4-4-3.5-5.1-7.1-3.3-8-1.5-8 .6-4 1.3-2 .3-2 0-14zM336.3 35.2l16.2-1.4 14.4 1.4 5.1 2 2.6 2 2.1 4-.1 4-2.6 4-5.5 2.5-20 3.8-7-.3-3-1.7-1.8-2.3-2.5-6-1-8 .4-2 2.7-2zM123.9 71.2l2.6-1 2 .1 8.9 2.9 6.6 4 2.1 2 1.2 2 0 2-2.8 .9-4-.6-12.8-4.3-2.8-2-1.4-2-.5-2 .9-2zM165.7 97.2l3.9 0 1.8 2-.9 3-2 1.7-2 .3-2-1.1-.7-3.9 1.9-2zM125.8 129.2l6.2 0 2.5 1.4 .3 2.6-2.4 4-15.9 20.9-2 1.5-4 1.4-4-.6-2-1.2-2-2.9-.3-3.1 3.1-6 11.2-14 4-2.5 5.3-1.5zM216.9 215.2l1.6-.6 2 .4 17.1 8.2 5.5 4 3 4 1.5 6-.9 4-2.8 4-5.4 4.5-6 2.4-8 .1-8-2.6-4.5-4.4-1.1-4 .5-6 3.7-16 1.8-4zM334.4 247.2l2.1-1.3 2 1.7 12.3 17.6 .6 4-1.2 2-1.7 1.2-4 1.1-2.7-.3-3.3-1.7-2-2.5-2-4.6-1.6-7.2 0-6 1.5-4zM553.8 247.2l4.7-1.6 8 1.1 5.2 2.5 2.5 2 2.4 4-1 6-5.1 9.8-4 4.6-4 1.9-4 .4-4-.9-4-3.2-2-4.4-.5-6.2 .6-6 1.9-6 3.3-4zM600.9 247.2l9.6-.2 4 1.3 2 1.5 2 3.4 .5 4-1 4-1.5 2-4 2-8 .1-6-2-6.4-4.1-2.8-4 .4-2 1.6-2 3.2-2 6.4-2zM383.8 259.2l2.7-1.4 2 .6 2 1.8 1.5 3-.1 4-1.3 2-2.1 1.3-4 .2-2.6-1.5-1.1-2 .5-4 2.5-4zM288.8 269.2l1.7-.8 .9 .8-.9 1.5-1.7-1.5zM442.5 299.2l8-.1 7 2.1 2.5 2 1.3 2-.1 4-1.6 2-3.1 1.6-6 1.2-8 0-6-1.6-3.1-3.2-.1-4 1.1-2 2.2-2 5.9-2zM503 299.2l3.5-1.2 4-.1 6 1.9 2 1.6 2 3.1 .5 2.7-.5 2.1-2 2.4-4 1.7-6 .4-6-1.4-2.1-1.2-2.1-4 .7-4 4-4z" fill="#a1a1a1" fill-rule="evenodd"/>
<path d="M207 15.2l26.5 0 0 14 1.5 2 4.8 2 .9 4-.8 4-3.1 6-5.8 4-22.5 4.8-7.2 3.2-2.3 4-2.5 14.3-2 5.4-2 2.4-2 1-4-.2-1.9-2.9 .4-6 3.5-8.9 8.3-13.1 2.5-16 1.3-4 1.9-2.4 3.5-1.6 1-2 0-14zM304.9 15.2l18.6 0 0 14-.7 2-6.3 .7-9.8-.7-1.8-2 0-14zM422.6 15.2l18.9 0 0 14 .7 2 4.3 2 4 4 2.8 6 3.6 12 2.1 4 5.5 4.3 16 5.8 4 2.7 2.7 3.2 1.6 4 0 6-1.6 4-3.7 4-7 4.2-16 7.8-4 .8-4-.2-2.1-.6-1.9-1.7-.5-2.3 2.3-18-1.3-8-2.5-3.8-2-1.6-10-5.6-6-4.9-4.4-6.1-3.4-8-1.2-8 .9-4 1.8-2 .4-2 0-14zM346.7 35.2l13.8-.1 8.3 2.1 3.1 2 1.7 2 .8 2-.4 4-3.5 3.7-6 2.1-14 2.6-8-.4-3-2-2.5-4-1.1-4 0-4 .7-2 2.1-2 8-2zM128 73.2l3.8 0 4.7 1.8 3.5 2.2 1.5 2-1 1-2 .3-6.2-1.3-3.8-2-1.4-2 .9-2zM402.3 97.2l6.2-1.7 8 1.1 10.3 4.6 5.4 4 1.6 2 .7 4-4.3 12-.3 4 .8 2 5 6 6.8 5.1 6 2.8 12 4 3.3 2.1 1.6 2 1.5 4-.4 6-2 3.1-4 1.9-4 .1-14-2.7-8-.5-30 3.6-8.5 2.5-5.5 4.7-12.7 17.3-3.6 6-1.4 6 .4 14-.7 3.8-1.2 2.2-2.8 2.1-4 .9-8 .2-4-.8-2-1.7-.3-2.7 6.8-16 1-6-2.3-8-7.6-14-.3-4 .7-2 2-2.6 4.6-3.4 5.4-2.5 14-4.7 4-2.3 2-2.1 2.1-4.4 3.3-14 6.6-13 3.7-17 2.3-4.5 3.8-3.5zM120 133.2l4.5-1.6 4 .2 1.9 1.4-.1 2-3.6 6-10.2 13.1-4 2.6-4-.1-2-1.6-.6-2 1.1-4 7.5-10.7 5.5-5.3zM444.5 187.2l8 .1 6 2.7 4 5.2 1.8 8-.9 8-2.6 4-8 6-6.3 2.3-4-.3-2-1.1-2.7-2.9-3.9-8-2.3-10 .4-4 2.5-4.8 4-3.1 6-2.1zM217.8 219.2l2.7-1.5 6 1.6 10 4.8 6 5.1 2 4-.2 6-2.4 4-5.4 4.9-6 2.3-6 .2-6-1.5-4.6-3.9-1.5-4 .3-6 2.5-10 2.6-6zM560.1 247.2l6.4 1.5 3.7 2.5 1.6 2 1.1 4-1.3 6-4.6 8-4.5 3.4-4 .8-4-1-3.3-3.2-1.4-4-.3-6 1-5.9 2-4.4 4-3.1 3.6-.6zM598.2 251.2l6.3-1.7 6 1.4 2.2 2.3 0 4-1.6 2-2.6 1.3-4 .3-4-1.1-3.3-2.5-1.1-2 .2-2 1.9-2zM337.8 259.2l.7-1.2 2 .3 4 4 1.9 4.9-1.4 2-2.5 .4-3.3-2.4-1.6-4 .2-4zM439.8 301.2l6.7-1.1 8 1.4 2.9 1.7 1.6 2 .4 2-.6 2-2.3 2.1-6 1.8-7.4 .1-4.6-1.2-3.3-2.8-.6-2 1.9-4 3.3-2zM503.5 301.2l5-1.6 6 1.4 2.6 2.2 1 2 .3 2-.7 2-2.3 2-2.9 .9-4 .3-4.8-1.2-2.3-2-.8-2 .9-4 2-2z" fill="#a5a5a5" fill-rule="evenodd"/>
<path d="M218.2 15.2l2.2 0 0 14 6 2 6.1 .7 4.2 1.3 1.8 2 .5 2-1.2 6-3.3 4.5-6.6 3.5-19.4 3.2-6 .1-1.5-1.3-.9-4 .2-6 1.3-6 3.1-4 13.5-4 0-14zM424.6 15.2l15.2 0 0 14 .7 2 6 2.8 4 4.5 2.1 4.7 3.8 14 2.1 3.9 4 3 18 6.4 5.4 4.7 1.7 4-.2 6-1.9 4-3 3-8 4.6-12 5.2-6 .9-4-2-1.2-3.7 .2-18-1.6-6-3.6-4-11.8-5.9-4-3-4.4-5.1-4-8-1.6-6-.2-4 1.3-4 2.5-2 .5-2 0-14zM344.5 37.2l10-1.2 10.1 1.2 4.3 2 2 2 .9 4-.8 2-2 2-4.5 2-12 2.4-8-.2-4-2.7-2.1-5.5 .6-4 1.5-2 4-2zM192.5 67.2l2.2 0 .6 4-.3 4-2.4 6-2.1 1.2-2.5-1.2-.5-4 1.1-4 3.9-6zM405.9 97.2l4.6-.5 6 1.1 7.5 3.4 4.8 4 1.3 2 .7 4-.8 4-4.4 10 .7 4 5.1 6 9.1 7.6 17.7 8.4 1.6 2 .5 2-.5 2-2.2 2-3.1 .8-18-.3-17.6 3.5-22.4 2.8-6 2.6-21.7 30.6-.4 4 1.5 12-1.4 4.8-4 2.6-6-.1-2.3-1.3-.5-4 6-14 .4-4-2.3-6-7.6-14-.9-4 .4-2 2.8-3.7 4-2.6 6-2.3 14-3.5 3.5-1.9 1.8-2 1.6-4 3.7-16 6.3-12 1.1-14 1.4-6 2.6-4.6 2-1.8 3.4-1.6zM119.8 137.2l2.7-1.3 2 .6 .3 .7-1.8 4-4.5 5.7-4 3.2-2-.3 .4-2.6 1.6-3.1 5.3-6.9zM443.9 191.2l6.6 .6 4 2.2 2.7 3.2 1.6 6-1 6-3.7 6-5.3 4-4.3 .9-4-1.7-3.8-5.2-2.2-6-.7-6 .7-3.6 2-3 4-2.6 3.4-.8zM219.7 221.2l2.8-.9 2 .2 7.6 2.7 6.1 4 3 4 .9 4-.9 4-2.7 4-5.2 4-4.8 1.6-6-.1-4.1-1.5-3.7-4-.8-4 .6-6 2-6.9 3.2-5.1zM554.7 251.2l3.8-1.9 4 .2 4 2 2.8 3.7 .4 4-1.9 6-3.3 4.6-4 2.4-4 .1-2-.9-2.8-4.2-.7-4 .3-4 1.2-4.7 2.2-3.3zM439.3 303.2l5.2-1.6 6 .3 4 1.6 1.7 1.7 .6 2-.8 2-3.1 2-4.4 .9-6-.2-2.5-.7-2.6-2-.7-2 .6-2 2-2zM505 303.2l3.5-1.3 4 .9 2.3 2.4 .3 2-1.3 2-1.3 .7-4 .6-2-.5-1.7-.8-1.3-2 .1-2 1.4-2z" fill="#a9a9a9" fill-rule="evenodd"/>
<path d="M427 15.2l10.6 0 0 14 1 2 5.5 2 2.4 1.6 3.6 4.4 2.3 6 3.2 14 2.1 4 4.8 2.6 16 4.8 4 2.5 2 2.1 1.9 4 .1 4.2-2 4.8-4 3.8-8 4.2-10 3.5-4 .3-2.2-.8-1.8-2-1-4-.7-16-1.7-6-2.6-2.7-12-5.1-6-4.1-4-4.7-3.7-7.4-1.5-6-.1-4 1.3-3.5 3.8-2.5 .7-2 0-14zM207.8 33.2l10.7-1.5 14 1.3 4 2.6 .7 1.6-.2 4-2.5 4.6-6 4-10 2.2-12 .5-2.7-1.3-1.3-2-.5-6 1.4-6 1.3-2 3.1-2zM345.3 39.2l9.2-1.8 8 .9 2.5 .9 2.6 2 1.1 2-.1 2-2.1 2.6-6 2.5-8 1.4-6-.4-3.5-2.1-1.6-4 1.2-4 2.7-2zM404.7 99.2l3.8-1.2 6 .5 6.6 2.7 4.8 4 1.8 4-.2 4-1.7 4-4.9 8-.3 2 2.3 4 18.6 18 1.1 2-.9 2-14 6-13.2 3-16 .7-6-1-2-1.5-1.2-5.2 1.3-12 2.4-6 6.7-10 .4-2-1.6-10 .1-6 1.9-6 4.2-4zM369.2 167.2l7.3-.4 4 1 1.3 1.4 .2 4-2.6 6-6.9 8.5-4 3.1-2 .7-2-.2-4-3.7-2.7-4.4-1.8-4-.4-4 .9-2 4-3.3 8.7-2.7zM439.1 197.2l3.4-1.7 4 0 4 1.9 2.6 3.8 .5 4-1 4-2.6 4-3.5 2.3-4.1-.3-2.3-2-2.3-4-1.3-6.6 .9-3.4 1.7-2zM221.5 223.2l3-.6 6 1.7 4.9 2.9 3.2 4 .8 4-1.2 4-3.2 4-4.5 2.8-6 1-4-.9-2-1.1-2.5-3.8-.4-4 1-6 1.9-4.9 3-3.1zM556.1 253.2l2.4-1.2 4 .4 2 1.4 1.9 3.4-.2 4-1.8 4-1.9 2.2-4 1.8-2-.4-2-1.5-1.4-4.1 .6-6 2.4-4zM446.1 303.2l2.4 .2 4.2 1.8 .8 2-1.2 2-5.8 1.5-6.1-1.5-.9-2 .8-2 2.2-1.2 3.6-.8z" fill="#adadad" fill-rule="evenodd"/>
<path d="M431.4 15.2l2.2 0 0 14 2.2 2 6.7 1.8 3.5 2.2 4.3 6 2.2 8 2.3 16 1.7 1.3 14 2.6 6 1.8 4.3 2.3 3.5 4 1 4-.7 4-2.1 3.2-4 3.3-12 4.9-4 .7-4-.7-2-2-1.2-3.4-1.2-20-.2-2-1.3-2-12.1-3.2-6-2.6-4-3.1-4.2-5.1-3.5-8-.7-8 2.1-4 5.1-2 2.1-2 0-14zM211.5 33.2l11-.7 6.6 .7 3.4 1.2 2.8 2.8 .3 2-1 4-3.6 4-6.5 2.7-12 1.4-6-1.3-2-2.4-.7-2.4 .5-6 2.7-4 4.5-2zM347.5 41.2l5-1.7 6 0 4.7 1.7 1.5 2-.4 2-2.4 2-3.4 1.2-8.1 .8-3.9-1.7-1.2-2.3 .3-2 1.9-2zM404.5 101.2l6-1.9 6 1.3 6 3.9 2.4 4.7-.5 4-2.1 4-3.8 4-8 6-2-.8-4-4.3-3.4-6.9-.6-4 .4-4 1.6-3.8 2-2.2zM406.5 129.2l2-1.6 2-.4 16 11.3 4.5 4.7 2.6 4 .4 4-1.4 2-2.5 2-5.6 2.7-12 2.9-12-.3-3.8-1.3-2.2-1.8-1.2-2.2-.7-4 .6-6 1.4-4 3.9-5.8 8-6.2zM364.5 173.2l6-1 3.1 1 1.2 2-.2 2-2.1 3.5-4 3.2-2 .4-2-.6-2-1.8-1.2-2.7-.2-2 .8-2 2.6-2zM442.2 203.2l2.3-.9 2 2.4-.7 2.5-1.3 .9-2.1-.9-.6-2 .4-2zM224 225.2l3 0 4.9 2 2.6 2.2 1.9 3.8-.4 4-1.5 2.6-3.9 3.4-4.1 1.4-4-.2-2-.9-2-2.1-.8-2.2 0-4 .9-4 1.9-3.8 3.5-2.2zM557.6 257.2l.9-.7 2 0 1.6 2.7-1.5 4-2.1 .8-1.4-.8-.8-2 .2-2.4 1.1-1.6z" fill="#b1b1b1" fill-rule="evenodd"/>
<path d="M218.9 33.2l7.6 .6 4.6 1.4 2.1 2 .6 2-1 4-4.2 4-5.7 2-8.4 .8-6-1.4-2-2.1-.9-3.3 .6-4 1.1-2 3.2-2.4 8.4-1.6zM425.7 33.2l4.8-1.5 6 .1 6 1.9 4.5 3.5 3.2 6 1.4 6 .5 8-1.6 5.3-4 1.2-8-1.5-6-3.1-3.9-3.9-3.6-6-2.2-8 .2-4 .8-2 1.9-2zM458 71.2l2.5-1.3 6-.1 7.2 1.4 4.8 2 2.7 2 2.4 4 .3 2-.9 4-3.5 4-7 3.8-8 1.9-4-.7-2.8-3-1.4-6 .1-10 1.6-4zM408.5 101.2l4.9 0 4.7 2 2.3 2 1.6 4-.8 4-1.2 2-3.5 3.1-4 1.6-4-.4-2-1.2-2.4-3.1-1.3-4 .9-6 1.4-2 3.4-2zM404.8 135.2l3.7-1.2 4 0 8 3.4 4.7 3.8 3.1 4 1.2 4-.5 2-4.2 4-8.3 3.1-10 .8-6.9-1.9-3.4-4-.6-4 .7-4 3.2-6 5.3-4zM223.1 229.2l3.4-1 2 .4 2 1.1 2 2.6 .4 2.9-.6 2-3.8 3.6-4 .8-2-.6-1.7-1.8-.6-2 .3-3.9 2.6-4.1z" fill="#b5b5b5" fill-rule="evenodd"/>
<path d="M427.4 33.2l5.1-1.1 6 .7 5.3 2.4 2.7 2.5 2.9 5.5 1.5 8-.3 6-2.1 3.6-4 1.3-6-.9-6-3.1-4-4.1-3.6-6.8-1.4-6 1-5.3 2.9-2.7zM212.8 35.2l7.7-1 7.2 1 3.2 2 .9 2-.1 2-2.7 4-3.7 2-6.8 1.4-6-.5-2.3-.9-1.7-1.7-.9-4.3 2-4 3.2-2zM460.2 73.2l4.3-1.7 4 0 6 1.3 4 2 2.5 2.4 1 2 .3 2-1.2 4-4.3 4-4.3 2-6 1.4-4-.6-3-2.8-1.3-4 .1-8 1.9-4zM409.5 103.2l5 .5 2.4 1.5 1.5 2 .1 4-2 2.8-2 1.3-4 .6-2-.8-2.8-3.9 0-4 .8-2 3-2zM404.6 139.2l5.9-1.7 4 .5 4 1.8 4 3.1 1.8 2.3 1 4-.6 2-4.2 3.5-6 2-6 .5-6-1.7-2.5-2.3-.9-2-.1-4 1.6-4 4-4z" fill="#b9b9b9" fill-rule="evenodd"/>
<path d="M429.5 33.2l5-.5 4 .7 4.1 1.8 4.1 4 2.5 6 .7 6-1.1 6-2.3 2.6-4 .9-6-1.3-4-2.3-4-4.3-3.5-7.6-.6-6 1.7-4 3.4-2zM219.9 35.2l4.6 .5 3.6 1.5 1.4 2 0 2-1 2-2.4 2-5.6 1.8-6-.2-3.2-1.6-1.3-2 .5-4.1 1.7-1.9 2.3-1.1 5.4-.9zM467.1 73.2l5.4 .5 4 1.5 2.4 2 1.6 4-1.6 4-2.1 2-4.3 2.2-4 .9-4-.4-2-1.1-2-3.3-.5-2.3 .1-4 1.9-4 2.5-1.5 2.6-.5zM410.5 107.2l2.2 0 .7 2-.9 1-2-.3 0-2.7zM409.2 141.2l5.3 .4 4 2.3 2.3 3.3 .2 2-1 2-2.6 2-4.9 1.5-4-.1-4-1.6-1.5-1.8-.4-4 2.6-4 4-2z" fill="#bdbdbd" fill-rule="evenodd"/>
<path d="M427.4 35.2l5.1-1.9 4 .2 4.8 1.7 3.2 2.4 2.4 3.6 1.8 6-.1 6-2.1 4.4-4 1.7-4-.3-4-1.6-4-3.3-3.3-4.9-1.9-6 0-4 2.1-4zM216.2 37.2l4.3-.5 3.4 .5 2.8 2 .2 2-1.4 2-3 1.6-6.3 .4-3.2-2-.6-2 .8-2 3-2zM468 75.2l2.8 0 3.7 1.1 3.3 2.9 .4 2-.6 2-1.6 2-3.5 2-6 .4-2-1.1-1.9-3.3 .1-4 1.1-2 4.2-2zM408.3 147.2l2.2-1.3 2 .1 2 1.2 .3 2-2.3 1.6-2 .2-2.5-1.8 .3-2z" fill="#c1c1c1" fill-rule="evenodd"/>
<path d="M429 35.2l3.5-1.1 4 .1 4 1.4 4.3 3.6 2.1 4 .9 6-1.3 5.9-2 2-4 1-4-.8-4-2.3-3.3-3.8-2.7-5.9-.5-4.1 1-4 2-2zM218.3 39.2l2.9 0 1.4 2-2.1 1.2-2 .1-2-1.3 1.8-2zM466.7 79.2l1.8-1.1 4 .2 1.6 .9 .7 2-2.3 2.8-4 .5-2-1.3-.5-2 .7-2z" fill="#c5c5c5" fill-rule="evenodd"/>
<path d="M431 35.2l3.5-.5 4 .8 3.2 1.7 2.8 3 2 5 .3 4-.9 4-1.4 2-4 1.6-4-.6-4-2.4-2.3-2.6-2.2-4-1.2-6 1.4-4 2.8-2z" fill="#c9c9c9" fill-rule="evenodd"/>
<path d="M429.6 37.2l2.9-1.5 4 0 3.8 1.5 2.4 2 2.3 4 .7 4-.5 4-2.7 3.5-2 .8-4-.4-3.3-1.9-2.7-3-1.6-3-1.1-4 .4-4 1.4-2z" fill="#cdcdcd" fill-rule="evenodd"/>
<path d="M431.4 37.2l3.1-.8 4 .8 4.5 4 1.6 6-.9 4-1.7 2-3.5 1-2-.4-4-2.5-1.6-2.1-1.8-4-.3-4 .6-2 2-2z" fill="#d1d1d1" fill-rule="evenodd"/>
<path d="M430.8 39.2l3.7-1.8 4 .9 2 1.5 2 2.8 .7 2.6-.2 4-1.2 2-3.3 1.5-2-.2-4-2.8-2-3.4-.7-3.1 1-4z" fill="#d5d5d5" fill-rule="evenodd"/>
<path d="M432.9 39.2l3.6-.4 4 2.8 1.4 3.6 0 2-1.4 2.8-2 1-2-.1-2-1-2-2.1-1.5-4.6 .3-2 1.6-2z" fill="#d9d9d9" fill-rule="evenodd"/>
<path d="M433.4 41.2l1.1-.8 2 0 2 1.1 1.1 1.7 .6 2-.3 2-1.4 1.5-2 .3-2.6-1.8-1.4-4 .9-2z" fill="#dddddd" fill-rule="evenodd"/>
<path d="M436.3 45.2l.2-.7-.2 .7z" fill="#e1e1e1" fill-rule="evenodd"/>
<radialGradient id="cr"><stop offset="0" stop-color="#000" stop-opacity="1"/><stop offset=".55" stop-color="#000" stop-opacity=".8"/><stop offset="1" stop-color="#000" stop-opacity="0"/></radialGradient>
<radialGradient id="cw"><stop offset="0" stop-color="#fff" stop-opacity="1"/><stop offset=".55" stop-color="#fff" stop-opacity=".8"/><stop offset="1" stop-color="#fff" stop-opacity="0"/></radialGradient>
<ellipse cx="280" cy="122" rx="14" ry="13" fill="url(#cr)" opacity="0.37"/><ellipse cx="369" cy="87" rx="13" ry="12" fill="url(#cr)" opacity="0.37"/><ellipse cx="230" cy="85" rx="15" ry="13" fill="url(#cr)" opacity="0.34"/><ellipse cx="152" cy="170" rx="11" ry="22" fill="url(#cr)" opacity="0.34"/><ellipse cx="241" cy="200" rx="13" ry="15" fill="url(#cr)" opacity="0.37"/><ellipse cx="402" cy="225" rx="12" ry="11" fill="url(#cr)" opacity="0.34"/><ellipse cx="440" cy="266" rx="22" ry="15" fill="url(#cr)" opacity="0.37"/><ellipse cx="515" cy="259" rx="16" ry="12" fill="url(#cr)" opacity="0.31"/><circle cx="632" cy="170" r="10" fill="url(#cr)" opacity="0.34"/><ellipse cx="497" cy="121" rx="9" ry="8" fill="url(#cr)" opacity="0.31"/><circle cx="406" cy="86" r="7" fill="url(#cr)" opacity="0.26"/><ellipse cx="316" cy="271" rx="9" ry="8" fill="url(#cr)" opacity="0.26"/><ellipse cx="292" cy="291" rx="14" ry="9" fill="url(#cr)" opacity="0.34"/><ellipse cx="378" cy="319" rx="16" ry="7" fill="url(#cr)" opacity="0.34"/><ellipse cx="76" cy="122" rx="13" ry="12" fill="url(#cr)" opacity="0.34"/><ellipse cx="70" cy="212" rx="14" ry="16" fill="url(#cr)" opacity="0.34"/><ellipse cx="552" cy="205" rx="11" ry="10" fill="url(#cr)" opacity="0.31"/><circle cx="614" cy="176" r="8" fill="url(#cr)" opacity="0.34"/><ellipse cx="142" cy="61" rx="18" ry="8" fill="url(#cr)" opacity="0.34"/><ellipse cx="520" cy="80" rx="9" ry="7" fill="url(#cr)" opacity="0.26"/><ellipse cx="588" cy="197" rx="10" ry="9" fill="url(#cr)" opacity="0.26"/><circle cx="400" cy="248" r="6" fill="url(#cr)" opacity="0.20"/><circle cx="378.9" cy="237.9" r="4" fill="url(#cr)" opacity="0.18"/><circle cx="310.9" cy="28.4" r="4.8" fill="url(#cw)" opacity="0.21"/><circle cx="456.4" cy="201.7" r="2.6" fill="url(#cw)" opacity="0.19"/><circle cx="295" cy="106.8" r="6" fill="url(#cw)" opacity="0.17"/><circle cx="375.1" cy="260.2" r="4" fill="url(#cr)" opacity="0.14"/><circle cx="454" cy="298" r="6.7" fill="url(#cw)" opacity="0.16"/><circle cx="442.3" cy="191.5" r="4.3" fill="url(#cr)" opacity="0.14"/><circle cx="328.3" cy="102.3" r="4" fill="url(#cr)" opacity="0.18"/><circle cx="400.8" cy="106.7" r="3.9" fill="url(#cw)" opacity="0.17"/><circle cx="163" cy="177.9" r="2.9" fill="url(#cr)" opacity="0.18"/><circle cx="475.9" cy="249.8" r="6" fill="url(#cr)" opacity="0.21"/><circle cx="451.4" cy="124.1" r="5.4" fill="url(#cr)" opacity="0.15"/><circle cx="465.8" cy="220.1" r="6.1" fill="url(#cr)" opacity="0.18"/><circle cx="161.5" cy="66.1" r="3" fill="url(#cr)" opacity="0.12"/><circle cx="459.7" cy="186.3" r="6" fill="url(#cr)" opacity="0.15"/><circle cx="557.1" cy="243.5" r="4.9" fill="url(#cr)" opacity="0.24"/><circle cx="446.6" cy="301.4" r="5.7" fill="url(#cr)" opacity="0.16"/><circle cx="159.9" cy="78.5" r="6.1" fill="url(#cr)" opacity="0.23"/><circle cx="564.4" cy="187.1" r="2.9" fill="url(#cr)" opacity="0.18"/><circle cx="525.2" cy="169" r="4.8" fill="url(#cw)" opacity="0.14"/><circle cx="434.1" cy="63.5" r="4.6" fill="url(#cw)" opacity="0.11"/><circle cx="490.1" cy="220.3" r="4.9" fill="url(#cr)" opacity="0.15"/><circle cx="629.6" cy="153.7" r="2.9" fill="url(#cw)" opacity="0.11"/><circle cx="631.6" cy="186.2" r="6.7" fill="url(#cw)" opacity="0.13"/><circle cx="466.1" cy="295.8" r="4.2" fill="url(#cr)" opacity="0.11"/><circle cx="218.3" cy="248" r="3.3" fill="url(#cr)" opacity="0.21"/><circle cx="487.9" cy="130.1" r="6.1" fill="url(#cr)" opacity="0.13"/><circle cx="297.8" cy="290.1" r="3.3" fill="url(#cr)" opacity="0.24"/><circle cx="639" cy="132.7" r="3.5" fill="url(#cr)" opacity="0.14"/><circle cx="336.7" cy="107.8" r="6.7" fill="url(#cw)" opacity="0.24"/><circle cx="172" cy="276" r="6.7" fill="url(#cw)" opacity="0.15"/><circle cx="304.7" cy="185.8" r="3" fill="url(#cr)" opacity="0.23"/><circle cx="517.4" cy="90.5" r="7.3" fill="url(#cr)" opacity="0.22"/><circle cx="624.7" cy="235.5" r="6.7" fill="url(#cw)" opacity="0.11"/><circle cx="497.5" cy="113.3" r="5.1" fill="url(#cr)" opacity="0.13"/><circle cx="349.2" cy="275.2" r="2.9" fill="url(#cw)" opacity="0.18"/><circle cx="585" cy="156.9" r="2.8" fill="url(#cr)" opacity="0.12"/><circle cx="308.2" cy="172.9" r="5.4" fill="url(#cr)" opacity="0.20"/><circle cx="420.9" cy="67.8" r="3.9" fill="url(#cw)" opacity="0.23"/><circle cx="176.5" cy="94.2" r="4.9" fill="url(#cw)" opacity="0.10"/><circle cx="323.7" cy="69.4" r="5.9" fill="url(#cr)" opacity="0.23"/><circle cx="467.9" cy="139.9" r="2.7" fill="url(#cr)" opacity="0.17"/><circle cx="407.4" cy="60.6" r="3.6" fill="url(#cw)" opacity="0.23"/><circle cx="292.1" cy="308.2" r="3.9" fill="url(#cr)" opacity="0.13"/><circle cx="388.9" cy="208.1" r="2.7" fill="url(#cw)" opacity="0.17"/><circle cx="190.9" cy="237.2" r="2.8" fill="url(#cr)" opacity="0.15"/><circle cx="638.7" cy="168" r="6.2" fill="url(#cr)" opacity="0.20"/><circle cx="568.2" cy="72.5" r="6.6" fill="url(#cr)" opacity="0.11"/><circle cx="456.3" cy="156.9" r="5.9" fill="url(#cr)" opacity="0.18"/><circle cx="108.6" cy="176.1" r="6.9" fill="url(#cw)" opacity="0.25"/><circle cx="194.2" cy="298.4" r="4.2" fill="url(#cr)" opacity="0.11"/><circle cx="294.6" cy="246.3" r="4.9" fill="url(#cr)" opacity="0.18"/><circle cx="218" cy="297.3" r="5.8" fill="url(#cr)" opacity="0.23"/><circle cx="193.1" cy="303.2" r="6.8" fill="url(#cr)" opacity="0.18"/><circle cx="109.5" cy="254.5" r="3.4" fill="url(#cw)" opacity="0.19"/><circle cx="83.6" cy="207.3" r="5" fill="url(#cr)" opacity="0.21"/><circle cx="428.6" cy="197.4" r="5.8" fill="url(#cr)" opacity="0.19"/><circle cx="575.3" cy="158.8" r="5.2" fill="url(#cw)" opacity="0.21"/><circle cx="305.4" cy="50.7" r="3.2" fill="url(#cw)" opacity="0.10"/><circle cx="172.4" cy="178.6" r="5.4" fill="url(#cr)" opacity="0.23"/><circle cx="589.4" cy="141.2" r="6.2" fill="url(#cr)" opacity="0.19"/><circle cx="514.1" cy="64.2" r="5.2" fill="url(#cw)" opacity="0.26"/><circle cx="225.6" cy="248" r="2.7" fill="url(#cr)" opacity="0.22"/><circle cx="490.7" cy="189.3" r="7.2" fill="url(#cr)" opacity="0.16"/><circle cx="69.9" cy="190.1" r="4.6" fill="url(#cr)" opacity="0.26"/><circle cx="113.1" cy="78.7" r="6.1" fill="url(#cr)" opacity="0.19"/><circle cx="545.4" cy="196.1" r="3.5" fill="url(#cr)" opacity="0.25"/><circle cx="421.2" cy="81.9" r="4.1" fill="url(#cr)" opacity="0.16"/><circle cx="143.6" cy="205.5" r="5.6" fill="url(#cw)" opacity="0.21"/><circle cx="219" cy="252.5" r="4.4" fill="url(#cr)" opacity="0.13"/><circle cx="219.1" cy="137.1" r="7.4" fill="url(#cr)" opacity="0.17"/><circle cx="293.4" cy="301.3" r="6.1" fill="url(#cw)" opacity="0.18"/><circle cx="263.2" cy="170.7" r="3.9" fill="url(#cw)" opacity="0.19"/><circle cx="344" cy="182.2" r="5.9" fill="url(#cr)" opacity="0.22"/><circle cx="300.6" cy="160" r="6.9" fill="url(#cr)" opacity="0.16"/><circle cx="377.9" cy="113.4" r="5.6" fill="url(#cr)" opacity="0.21"/><circle cx="249.5" cy="159.8" r="2.9" fill="url(#cw)" opacity="0.15"/><circle cx="450.4" cy="315.4" r="3.3" fill="url(#cr)" opacity="0.11"/><circle cx="257.4" cy="175.4" r="2.8" fill="url(#cr)" opacity="0.13"/><circle cx="412.5" cy="282.7" r="7.3" fill="url(#cr)" opacity="0.16"/><circle cx="315.2" cy="175.3" r="4.5" fill="url(#cr)" opacity="0.26"/><circle cx="126.2" cy="234.7" r="7.3" fill="url(#cr)" opacity="0.24"/><circle cx="614.4" cy="245.8" r="4.6" fill="url(#cr)" opacity="0.16"/><circle cx="105.2" cy="261.5" r="5" fill="url(#cr)" opacity="0.11"/><circle cx="280.6" cy="52.2" r="3.4" fill="url(#cw)" opacity="0.24"/><circle cx="523.2" cy="267.5" r="2.9" fill="url(#cr)" opacity="0.17"/><circle cx="341.4" cy="286.6" r="4.4" fill="url(#cw)" opacity="0.20"/><circle cx="559" cy="278.4" r="5.3" fill="url(#cr)" opacity="0.15"/><circle cx="406" cy="58.9" r="5.1" fill="url(#cr)" opacity="0.15"/><circle cx="237.4" cy="276.9" r="3.4" fill="url(#cw)" opacity="0.14"/><circle cx="47.8" cy="150.6" r="6.7" fill="url(#cr)" opacity="0.24"/><circle cx="298.9" cy="287.3" r="5.1" fill="url(#cr)" opacity="0.19"/><circle cx="103.8" cy="183.6" r="7.1" fill="url(#cr)" opacity="0.19"/><circle cx="487.6" cy="297.4" r="5.6" fill="url(#cr)" opacity="0.11"/><circle cx="364.9" cy="236.9" r="3.4" fill="url(#cw)" opacity="0.14"/><circle cx="218.1" cy="251" r="6" fill="url(#cr)" opacity="0.22"/><circle cx="529.3" cy="65.2" r="5.3" fill="url(#cr)" opacity="0.11"/><circle cx="559.7" cy="165" r="4" fill="url(#cr)" opacity="0.15"/><circle cx="509.6" cy="107" r="4.7" fill="url(#cr)" opacity="0.22"/><circle cx="457.6" cy="169.9" r="3.2" fill="url(#cw)" opacity="0.25"/><circle cx="313.5" cy="96.1" r="6" fill="url(#cr)" opacity="0.21"/><circle cx="96.1" cy="193" r="5.9" fill="url(#cw)" opacity="0.20"/><circle cx="579.2" cy="95" r="6.7" fill="url(#cw)" opacity="0.18"/><circle cx="529.8" cy="204.5" r="6.9" fill="url(#cr)" opacity="0.23"/><circle cx="122" cy="101.4" r="2.5" fill="url(#cw)" opacity="0.21"/><circle cx="149.3" cy="94.8" r="4.5" fill="url(#cr)" opacity="0.21"/><circle cx="349.8" cy="48" r="4.2" fill="url(#cr)" opacity="0.14"/><circle cx="469.8" cy="175" r="2.7" fill="url(#cw)" opacity="0.14"/><circle cx="204" cy="100.5" r="7.4" fill="url(#cr)" opacity="0.23"/><circle cx="479.4" cy="126.2" r="7.2" fill="url(#cw)" opacity="0.18"/><circle cx="489.3" cy="99.3" r="6.6" fill="url(#cw)" opacity="0.22"/><circle cx="322.6" cy="240" r="5.8" fill="url(#cw)" opacity="0.19"/><circle cx="239" cy="233.8" r="4.8" fill="url(#cr)" opacity="0.22"/><circle cx="258.3" cy="49.8" r="5.9" fill="url(#cr)" opacity="0.16"/><circle cx="300.4" cy="225.9" r="3.1" fill="url(#cr)" opacity="0.22"/><circle cx="454.2" cy="250.7" r="3.7" fill="url(#cr)" opacity="0.12"/><circle cx="116.1" cy="147.8" r="6.3" fill="url(#cr)" opacity="0.15"/><circle cx="318.4" cy="69.2" r="5.7" fill="url(#cr)" opacity="0.17"/><circle cx="357.6" cy="325.2" r="6.3" fill="url(#cr)" opacity="0.15"/><circle cx="152.3" cy="145.2" r="4.4" fill="url(#cw)" opacity="0.26"/><circle cx="439.7" cy="176.3" r="3.3" fill="url(#cr)" opacity="0.20"/><circle cx="529.9" cy="126" r="6.8" fill="url(#cw)" opacity="0.19"/><circle cx="498.8" cy="193.2" r="4.8" fill="url(#cr)" opacity="0.20"/><circle cx="216.4" cy="105.5" r="2.7" fill="url(#cr)" opacity="0.22"/><circle cx="324.6" cy="270.6" r="4.1" fill="url(#cw)" opacity="0.16"/><circle cx="220.8" cy="192.5" r="4.1" fill="url(#cr)" opacity="0.11"/><circle cx="229.2" cy="140.3" r="3.4" fill="url(#cr)" opacity="0.11"/><circle cx="300" cy="307.1" r="2.6" fill="url(#cw)" opacity="0.23"/><circle cx="353.3" cy="128.4" r="4.1" fill="url(#cr)" opacity="0.26"/><circle cx="248.4" cy="221" r="3.5" fill="url(#cr)" opacity="0.16"/><circle cx="390" cy="45.4" r="2.9" fill="url(#cr)" opacity="0.22"/><circle cx="439.3" cy="87.4" r="6.4" fill="url(#cw)" opacity="0.19"/><circle cx="141.2" cy="210.9" r="7.4" fill="url(#cw)" opacity="0.20"/><circle cx="481.1" cy="82" r="5.7" fill="url(#cw)" opacity="0.17"/><circle cx="357.6" cy="175.9" r="7.1" fill="url(#cr)" opacity="0.21"/><circle cx="437.2" cy="96.4" r="5.8" fill="url(#cr)" opacity="0.20"/><circle cx="138.1" cy="238.7" r="5.2" fill="url(#cw)" opacity="0.22"/><circle cx="400.4" cy="62.5" r="7.1" fill="url(#cw)" opacity="0.19"/><circle cx="423" cy="284.4" r="3" fill="url(#cr)" opacity="0.19"/><circle cx="352.1" cy="245.4" r="5.8" fill="url(#cr)" opacity="0.24"/><circle cx="428.8" cy="207.5" r="3.3" fill="url(#cr)" opacity="0.24"/><circle cx="464" cy="222.2" r="2.8" fill="url(#cr)" opacity="0.21"/><circle cx="541.8" cy="67.4" r="4.2" fill="url(#cw)" opacity="0.12"/><circle cx="238.5" cy="235.2" r="4.6" fill="url(#cr)" opacity="0.15"/><circle cx="225.7" cy="79.1" r="7.3" fill="url(#cr)" opacity="0.12"/><circle cx="393.5" cy="133.1" r="4" fill="url(#cr)" opacity="0.11"/><circle cx="349.3" cy="96" r="7.3" fill="url(#cw)" opacity="0.26"/><circle cx="409.5" cy="291.8" r="5.4" fill="url(#cr)" opacity="0.16"/><circle cx="365.3" cy="210.4" r="6.3" fill="url(#cr)" opacity="0.15"/><circle cx="203.2" cy="220.7" r="3.8" fill="url(#cr)" opacity="0.23"/><circle cx="480" cy="283.2" r="6.9" fill="url(#cr)" opacity="0.19"/><circle cx="220.3" cy="283.7" r="6.3" fill="url(#cr)" opacity="0.18"/><circle cx="606.7" cy="192.4" r="3" fill="url(#cr)" opacity="0.12"/><circle cx="363.5" cy="191" r="4.7" fill="url(#cr)" opacity="0.11"/><circle cx="274.3" cy="162.5" r="4.7" fill="url(#cr)" opacity="0.12"/><circle cx="72.2" cy="138.5" r="7.4" fill="url(#cr)" opacity="0.18"/><circle cx="249.7" cy="172.2" r="6.6" fill="url(#cr)" opacity="0.21"/><circle cx="320.7" cy="211.9" r="4.5" fill="url(#cw)" opacity="0.13"/><circle cx="496.2" cy="84.2" r="3.4" fill="url(#cr)" opacity="0.15"/><circle cx="651.2" cy="167.4" r="3.6" fill="url(#cr)" opacity="0.17"/><circle cx="396.7" cy="297.3" r="6.9" fill="url(#cr)" opacity="0.23"/><circle cx="355.5" cy="71.3" r="6.4" fill="url(#cr)" opacity="0.26"/><circle cx="448.2" cy="309" r="3.7" fill="url(#cr)" opacity="0.19"/><circle cx="401.3" cy="213" r="4.5" fill="url(#cr)" opacity="0.14"/><circle cx="400.1" cy="130" r="4.1" fill="url(#cw)" opacity="0.13"/><circle cx="451.1" cy="107.6" r="4.1" fill="url(#cw)" opacity="0.24"/><circle cx="625.1" cy="147.4" r="6.6" fill="url(#cr)" opacity="0.23"/><circle cx="71.1" cy="221.4" r="4.7" fill="url(#cr)" opacity="0.15"/><circle cx="449.2" cy="139.7" r="4.5" fill="url(#cw)" opacity="0.14"/><circle cx="423.4" cy="320.2" r="3" fill="url(#cr)" opacity="0.21"/><circle cx="500.5" cy="117.8" r="3.8" fill="url(#cr)" opacity="0.15"/><circle cx="563.1" cy="270.2" r="3.9" fill="url(#cw)" opacity="0.16"/><circle cx="462.7" cy="91.8" r="6.2" fill="url(#cr)" opacity="0.23"/><circle cx="146.3" cy="100.3" r="5.3" fill="url(#cw)" opacity="0.22"/><circle cx="439.1" cy="299.8" r="6.2" fill="url(#cr)" opacity="0.24"/><circle cx="208.1" cy="83.4" r="7" fill="url(#cw)" opacity="0.16"/><circle cx="423.8" cy="167" r="3.5" fill="url(#cr)" opacity="0.25"/><circle cx="221.6" cy="304.5" r="4.9" fill="url(#cw)" opacity="0.21"/><circle cx="202" cy="228.8" r="7.3" fill="url(#cr)" opacity="0.23"/><circle cx="185.6" cy="57" r="3.7" fill="url(#cr)" opacity="0.19"/><circle cx="212.3" cy="122.8" r="4.1" fill="url(#cr)" opacity="0.19"/><circle cx="560.6" cy="136.5" r="7.2" fill="url(#cr)" opacity="0.16"/><circle cx="294.5" cy="255.3" r="6.2" fill="url(#cr)" opacity="0.17"/><circle cx="89.5" cy="97.6" r="2.9" fill="url(#cw)" opacity="0.16"/><circle cx="437.6" cy="249.6" r="4.9" fill="url(#cr)" opacity="0.18"/><circle cx="435.4" cy="280.5" r="4.4" fill="url(#cr)" opacity="0.20"/><circle cx="625" cy="206.9" r="7" fill="url(#cw)" opacity="0.20"/><circle cx="229" cy="202.4" r="7.1" fill="url(#cr)" opacity="0.21"/><circle cx="445.1" cy="214.5" r="7.4" fill="url(#cw)" opacity="0.20"/><circle cx="261.6" cy="317.1" r="5.9" fill="url(#cr)" opacity="0.21"/><circle cx="286.1" cy="112.8" r="6.3" fill="url(#cw)" opacity="0.16"/><circle cx="164" cy="63.6" r="7" fill="url(#cw)" opacity="0.15"/><circle cx="443.3" cy="112.1" r="6.5" fill="url(#cr)" opacity="0.21"/><circle cx="332.9" cy="135.5" r="4.7" fill="url(#cw)" opacity="0.21"/><circle cx="181.6" cy="235.2" r="6" fill="url(#cw)" opacity="0.19"/><circle cx="177.8" cy="183.9" r="3.8" fill="url(#cr)" opacity="0.22"/><circle cx="483.1" cy="213.5" r="7" fill="url(#cw)" opacity="0.19"/><circle cx="185.4" cy="50.1" r="5.6" fill="url(#cr)" opacity="0.22"/><circle cx="120.3" cy="235.7" r="6.2" fill="url(#cr)" opacity="0.16"/><circle cx="86.1" cy="204" r="2.6" fill="url(#cr)" opacity="0.16"/><circle cx="427.1" cy="135" r="7.1" fill="url(#cr)" opacity="0.20"/><circle cx="340.9" cy="221.2" r="5.7" fill="url(#cw)" opacity="0.11"/><circle cx="115.3" cy="83.5" r="7.4" fill="url(#cr)" opacity="0.21"/><circle cx="504" cy="180.8" r="4.4" fill="url(#cr)" opacity="0.22"/><circle cx="406.6" cy="231.1" r="6.8" fill="url(#cr)" opacity="0.16"/><circle cx="333.5" cy="301.6" r="6.1" fill="url(#cr)" opacity="0.20"/><circle cx="354.3" cy="85.5" r="5.1" fill="url(#cr)" opacity="0.16"/><circle cx="148.6" cy="211.6" r="5.3" fill="url(#cr)" opacity="0.12"/><circle cx="396.8" cy="153.5" r="7.3" fill="url(#cr)" opacity="0.12"/><circle cx="218.7" cy="172.7" r="4.3" fill="url(#cr)" opacity="0.21"/><circle cx="87.3" cy="167.1" r="6.2" fill="url(#cr)" opacity="0.15"/><circle cx="401.2" cy="235.7" r="5.8" fill="url(#cr)" opacity="0.11"/><circle cx="381.8" cy="42.4" r="4.1" fill="url(#cr)" opacity="0.23"/><circle cx="397.3" cy="302.4" r="3" fill="url(#cr)" opacity="0.26"/><circle cx="576.9" cy="140.9" r="4.5" fill="url(#cr)" opacity="0.20"/><circle cx="269" cy="89" r="4.5" fill="url(#cr)" opacity="0.26"/><circle cx="344.9" cy="80.5" r="4.9" fill="url(#cr)" opacity="0.25"/><circle cx="523.3" cy="126.1" r="3" fill="url(#cr)" opacity="0.16"/><circle cx="328.7" cy="25.4" r="6" fill="url(#cr)" opacity="0.15"/><circle cx="301.6" cy="79.8" r="4.5" fill="url(#cr)" opacity="0.15"/>
</g>
<path d="M216.7 313.5H478.3M147.5 291.3H547.5M98.5 265H596.5M64.8 236H630.2M45 205.2H650M38.5 173.6H656.5M45 142H650M64.8 111.2H630.2M98.5 82.2H596.5M147.5 55.9H547.5M216.7 33.7H478.3M347.5 328L309.5 326.3 287.4 323.7 269.1 320.7 253.1 317.2 238.5 313.5 225.2 309.5 212.9 305.2 201.5 300.8 190.8 296.1 180.9 291.3 171.5 286.3 162.8 281.2 154.7 275.9 147.1 270.5 140 265 133.4 259.4 127.3 253.7 121.7 247.8 116.6 241.9 111.9 236 107.7 229.9 104 223.8 100.7 217.7 97.9 211.5 95.5 205.2 93.5 198.9 92 192.6 90.9 186.3 90.2 179.9 90 173.6 90.2 167.3 90.9 160.9 92 154.6 93.5 148.3 95.5 142 97.9 135.7 100.7 129.5 104 123.4 107.7 117.3 111.9 111.2 116.6 105.3 121.7 99.4 127.3 93.5 133.4 87.8 140 82.2 147.1 76.7 154.7 71.3 162.8 66 171.5 60.9 180.9 55.9 190.8 51.1 201.5 46.4 212.9 42 225.2 37.7 238.5 33.7 253.1 30 269.1 26.5 287.4 23.5 309.5 20.9 347.5 19.2M347.5 328L317.1 326.3 299.4 323.7 284.8 320.7 271.9 317.2 260.3 313.5 249.7 309.5 239.8 305.2 230.7 300.8 222.2 296.1 214.2 291.3 206.7 286.3 199.8 281.2 193.2 275.9 187.1 270.5 181.5 265 176.2 259.4 171.4 253.7 166.9 247.8 162.8 241.9 159.1 236 155.7 229.9 152.7 223.8 150.1 217.7 147.8 211.5 145.9 205.2 144.3 198.9 143.1 192.6 142.2 186.3 141.7 179.9 141.5 173.6 141.7 167.3 142.2 160.9 143.1 154.6 144.3 148.3 145.9 142 147.8 135.7 150.1 129.5 152.7 123.4 155.7 117.3 159.1 111.2 162.8 105.3 166.9 99.4 171.4 93.5 176.2 87.8 181.5 82.2 187.1 76.7 193.2 71.3 199.8 66 206.7 60.9 214.2 55.9 222.2 51.1 230.7 46.4 239.8 42 249.7 37.7 260.3 33.7 271.9 30 284.8 26.5 299.4 23.5 317.1 20.9 347.5 19.2M347.5 328L324.7 326.3 311.5 323.7 300.5 320.7 290.8 317.2 282.1 313.5 274.1 309.5 266.8 305.2 259.9 300.8 253.5 296.1 247.5 291.3 241.9 286.3 236.7 281.2 231.8 275.9 227.2 270.5 223 265 219 259.4 215.4 253.7 212 247.8 209 241.9 206.2 236 203.6 229.9 201.4 223.8 199.4 217.7 197.7 211.5 196.3 205.2 195.1 198.9 194.2 192.6 193.5 186.3 193.1 179.9 193 173.6 193.1 167.3 193.5 160.9 194.2 154.6 195.1 148.3 196.3 142 197.7 135.7 199.4 129.5 201.4 123.4 203.6 117.3 206.2 111.2 209 105.3 212 99.4 215.4 93.5 219 87.8 223 82.2 227.2 76.7 231.8 71.3 236.7 66 241.9 60.9 247.5 55.9 253.5 51.1 259.9 46.4 266.8 42 274.1 37.7 282.1 33.7 290.8 30 300.5 26.5 311.5 23.5 324.7 20.9 347.5 19.2M347.5 328L332.3 326.3 323.5 323.7 316.2 320.7 309.7 317.2 303.9 313.5 298.6 309.5 293.7 305.2 289.1 300.8 284.8 296.1 280.8 291.3 277.1 286.3 273.6 281.2 270.4 275.9 267.3 270.5 264.5 265 261.9 259.4 259.4 253.7 257.2 247.8 255.1 241.9 253.3 236 251.6 229.9 250.1 223.8 248.8 217.7 247.6 211.5 246.7 205.2 245.9 198.9 245.3 192.6 244.8 186.3 244.6 179.9 244.5 173.6 244.6 167.3 244.8 160.9 245.3 154.6 245.9 148.3 246.7 142 247.6 135.7 248.8 129.5 250.1 123.4 251.6 117.3 253.3 111.2 255.1 105.3 257.2 99.4 259.4 93.5 261.9 87.8 264.5 82.2 267.3 76.7 270.4 71.3 273.6 66 277.1 60.9 280.8 55.9 284.8 51.1 289.1 46.4 293.7 42 298.6 37.7 303.9 33.7 309.7 30 316.2 26.5 323.5 23.5 332.3 20.9 347.5 19.2M347.5 328L339.9 326.3 335.5 323.7 331.8 320.7 328.6 317.2 325.7 313.5 323 309.5 320.6 305.2 318.3 300.8 316.2 296.1 314.2 291.3 312.3 286.3 310.6 281.2 308.9 275.9 307.4 270.5 306 265 304.7 259.4 303.5 253.7 302.3 247.8 301.3 241.9 300.4 236 299.5 229.9 298.8 223.8 298.1 217.7 297.6 211.5 297.1 205.2 296.7 198.9 296.4 192.6 296.2 186.3 296 179.9 296 173.6 296 167.3 296.2 160.9 296.4 154.6 296.7 148.3 297.1 142 297.6 135.7 298.1 129.5 298.8 123.4 299.5 117.3 300.4 111.2 301.3 105.3 302.3 99.4 303.5 93.5 304.7 87.8 306 82.2 307.4 76.7 308.9 71.3 310.6 66 312.3 60.9 314.2 55.9 316.2 51.1 318.3 46.4 320.6 42 323 37.7 325.7 33.7 328.6 30 331.8 26.5 335.5 23.5 339.9 20.9 347.5 19.2M347.5 328L347.5 326.3 347.5 323.7 347.5 320.7 347.5 317.2 347.5 313.5 347.5 309.5 347.5 305.2 347.5 300.8 347.5 296.1 347.5 291.3 347.5 286.3 347.5 281.2 347.5 275.9 347.5 270.5 347.5 265 347.5 259.4 347.5 253.7 347.5 247.8 347.5 241.9 347.5 236 347.5 229.9 347.5 223.8 347.5 217.7 347.5 211.5 347.5 205.2 347.5 198.9 347.5 192.6 347.5 186.3 347.5 179.9 347.5 173.6 347.5 167.3 347.5 160.9 347.5 154.6 347.5 148.3 347.5 142 347.5 135.7 347.5 129.5 347.5 123.4 347.5 117.3 347.5 111.2 347.5 105.3 347.5 99.4 347.5 93.5 347.5 87.8 347.5 82.2 347.5 76.7 347.5 71.3 347.5 66 347.5 60.9 347.5 55.9 347.5 51.1 347.5 46.4 347.5 42 347.5 37.7 347.5 33.7 347.5 30 347.5 26.5 347.5 23.5 347.5 20.9 347.5 19.2M347.5 328L355.1 326.3 359.5 323.7 363.2 320.7 366.4 317.2 369.3 313.5 372 309.5 374.4 305.2 376.7 300.8 378.8 296.1 380.8 291.3 382.7 286.3 384.4 281.2 386.1 275.9 387.6 270.5 389 265 390.3 259.4 391.5 253.7 392.7 247.8 393.7 241.9 394.6 236 395.5 229.9 396.2 223.8 396.9 217.7 397.4 211.5 397.9 205.2 398.3 198.9 398.6 192.6 398.8 186.3 399 179.9 399 173.6 399 167.3 398.8 160.9 398.6 154.6 398.3 148.3 397.9 142 397.4 135.7 396.9 129.5 396.2 123.4 395.5 117.3 394.6 111.2 393.7 105.3 392.7 99.4 391.5 93.5 390.3 87.8 389 82.2 387.6 76.7 386.1 71.3 384.4 66 382.7 60.9 380.8 55.9 378.8 51.1 376.7 46.4 374.4 42 372 37.7 369.3 33.7 366.4 30 363.2 26.5 359.5 23.5 355.1 20.9 347.5 19.2M347.5 328L362.7 326.3 371.5 323.7 378.8 320.7 385.3 317.2 391.1 313.5 396.4 309.5 401.3 305.2 405.9 300.8 410.2 296.1 414.2 291.3 417.9 286.3 421.4 281.2 424.6 275.9 427.7 270.5 430.5 265 433.1 259.4 435.6 253.7 437.8 247.8 439.9 241.9 441.7 236 443.4 229.9 444.9 223.8 446.2 217.7 447.4 211.5 448.3 205.2 449.1 198.9 449.7 192.6 450.2 186.3 450.4 179.9 450.5 173.6 450.4 167.3 450.2 160.9 449.7 154.6 449.1 148.3 448.3 142 447.4 135.7 446.2 129.5 444.9 123.4 443.4 117.3 441.7 111.2 439.9 105.3 437.8 99.4 435.6 93.5 433.1 87.8 430.5 82.2 427.7 76.7 424.6 71.3 421.4 66 417.9 60.9 414.2 55.9 410.2 51.1 405.9 46.4 401.3 42 396.4 37.7 391.1 33.7 385.3 30 378.8 26.5 371.5 23.5 362.7 20.9 347.5 19.2M347.5 328L370.3 326.3 383.5 323.7 394.5 320.7 404.2 317.2 412.9 313.5 420.9 309.5 428.2 305.2 435.1 300.8 441.5 296.1 447.5 291.3 453.1 286.3 458.3 281.2 463.2 275.9 467.8 270.5 472 265 476 259.4 479.6 253.7 483 247.8 486 241.9 488.8 236 491.4 229.9 493.6 223.8 495.6 217.7 497.3 211.5 498.7 205.2 499.9 198.9 500.8 192.6 501.5 186.3 501.9 179.9 502 173.6 501.9 167.3 501.5 160.9 500.8 154.6 499.9 148.3 498.7 142 497.3 135.7 495.6 129.5 493.6 123.4 491.4 117.3 488.8 111.2 486 105.3 483 99.4 479.6 93.5 476 87.8 472 82.2 467.8 76.7 463.2 71.3 458.3 66 453.1 60.9 447.5 55.9 441.5 51.1 435.1 46.4 428.2 42 420.9 37.7 412.9 33.7 404.2 30 394.5 26.5 383.5 23.5 370.3 20.9 347.5 19.2M347.5 328L377.9 326.3 395.6 323.7 410.2 320.7 423.1 317.2 434.7 313.5 445.3 309.5 455.2 305.2 464.3 300.8 472.8 296.1 480.8 291.3 488.3 286.3 495.2 281.2 501.8 275.9 507.9 270.5 513.5 265 518.8 259.4 523.6 253.7 528.1 247.8 532.2 241.9 535.9 236 539.3 229.9 542.3 223.8 544.9 217.7 547.2 211.5 549.1 205.2 550.7 198.9 551.9 192.6 552.8 186.3 553.3 179.9 553.5 173.6 553.3 167.3 552.8 160.9 551.9 154.6 550.7 148.3 549.1 142 547.2 135.7 544.9 129.5 542.3 123.4 539.3 117.3 535.9 111.2 532.2 105.3 528.1 99.4 523.6 93.5 518.8 87.8 513.5 82.2 507.9 76.7 501.8 71.3 495.2 66 488.3 60.9 480.8 55.9 472.8 51.1 464.3 46.4 455.2 42 445.3 37.7 434.7 33.7 423.1 30 410.2 26.5 395.6 23.5 377.9 20.9 347.5 19.2M347.5 328L385.5 326.3 407.6 323.7 425.9 320.7 441.9 317.2 456.5 313.5 469.8 309.5 482.1 305.2 493.5 300.8 504.2 296.1 514.1 291.3 523.5 286.3 532.2 281.2 540.3 275.9 547.9 270.5 555 265 561.6 259.4 567.7 253.7 573.3 247.8 578.4 241.9 583.1 236 587.3 229.9 591 223.8 594.3 217.7 597.1 211.5 599.5 205.2 601.5 198.9 603 192.6 604.1 186.3 604.8 179.9 605 173.6 604.8 167.3 604.1 160.9 603 154.6 601.5 148.3 599.5 142 597.1 135.7 594.3 129.5 591 123.4 587.3 117.3 583.1 111.2 578.4 105.3 573.3 99.4 567.7 93.5 561.6 87.8 555 82.2 547.9 76.7 540.3 71.3 532.2 66 523.5 60.9 514.1 55.9 504.2 51.1 493.5 46.4 482.1 42 469.8 37.7 456.5 33.7 441.9 30 425.9 26.5 407.6 23.5 385.5 20.9 347.5 19.2" fill="none" stroke="#1e2a2a" stroke-width="0.9" stroke-dasharray="5 4"/>
</g>
<path d="M38.5 173.6A309 154.4 0 1 0 656.5 173.6A309 154.4 0 1 0 38.5 173.6Z" fill="none" stroke="#111" stroke-width="1.4"/>
<g clip-path="url(#cb)">
<rect x="0" y="440" width="685" height="360" fill="#2b3a7e"/>
<path d="M47.2 462.1l622 0 0 312-99.2 0 0-10-18.3-4-3-2-1-2-.4-6 .7-6 1.7-6 2.9-6 .1-2-1.5-.4-2 .4-12 4.5-14 3.7-6 2.1-6 3.8-2 2.2-1.8 3.7-.1 4 .8 2 3.1 2.7 6 1.9 16 2.2 4.8 1.2 0 10-490.8 0 0-312zM105.2 742.1l-4 2.9-2 2.4-1.4 2.7-.6 4 2 2.3 4 .4 4-1 2.7-1.7 2.9-4 .9-4-.2-2-1.1-2-1.2-.8-2-.2-4 1z" fill="#2c3c84" fill-rule="evenodd"/>
<path d="M47.2 462.1l237.7 0-.2 14-3.9 2-2 2 1.9 2 4.5 .7 4-.5 2-.9 1.8-1.3 1.1-2-.3-16 375.4 0 0 312-94.2 0 0-10-17.8-4.4-4-2.1-1.5-1.5-1-2-.3-6 1.7-6 3.1-4.8 8.7-9.2 1.2-2-.4-2-3.5-1.3-2-.1-6.8 1.4-17.2 9.3-19.9 6.7-5.7 4-2.9 4-1 4 .1 2 1.4 3 2 1.9 2 1.1 4 1.1 17.4 2.9 0 10-485.4 0 0-312zM107.2 739.6l-4 1.9-2 1.5-4.2 5.1-1.6 4-.3 2 .2 2 1.9 1.9 4 .4 6-1.3 4-2.4 2.1-2.6 2.1-6-.2-4.2-2-2.4-2-.5-4 .6z" fill="#2d3f8c" fill-rule="evenodd"/>
<path d="M47.2 462.1l230.5 0 0 12-.4 2-8.1 .8-4 1-2.4 2.2-.3 2 2.6 2 2.1 .4 16 .8 4-.3 4-1 3.2-1.9 1.8-2 1.1-2 .2-2 0-14 371.7 0 0 312-89.5 0 0-10-15.4-4-5.6-2-2.9-2-1.5-2-.7-2-.1-4 1.2-4 2.5-4 1.8-2 6.2-4.9 10.4-5.1 2-2 .4-2-.8-1.9-2-1.5-4-1.4-6-.4-8 .9-6 2.1-17 10.2-16.9 6-4.1 1.9-4 2.9-2.8 3.2-1.2 2.3-.9 3.7 .7 4 1.3 2 2.5 2 4.4 1.5 14.8 2.5 0 10-480.8 0 0-312zM107.2 738l-4 1.9-2.9 2.2-3.1 3.3-1.7 2.7-1.7 4-.8 4 .5 2 1.7 1.3 4 .4 8.4-1.7 3.7-2 3.3-4 2.2-6 .5-4-.3-2-1.1-2-2.7-1.1-6 1z" fill="#2e4193" fill-rule="evenodd"/>
<path d="M47.2 462.1l214.7 0-.2 14-5.1 4-1.6 2-.8 2 1.6 2 1.4 .5 4 .7 6 .3 20-.8 4-1.1 4-2.1 2-1.7 2.2-3.8 .4-16 369.4 0 0 312-84.6 0 0-10-5.4-1.9-15.2-4.1-3.9-2-2.1-2-1-2-.3-2 .7-4 1.8-3.3 2.4-2.7 3.6-2.8 4-1.9 12-3.4 2.7-1.9 1.1-2 0-4-.8-2-1.6-2-3-2-2.4-.9-8-1.1-10 1.1-8 2.7-4.2 2.2-13.8 9-20 7.8-4 2.6-2.7 2.6-2.5 4-1 4 .6 4 1.1 2 2.5 2.3 4 1.6 12.7 2.1 0 10-476.7 0 0-312zM109.2 735.9l-4 1.6-4 2.3-4.5 4.3-2.6 4-1.8 4-1.2 4-.3 2 .4 2.1 2 1 2 .1 8.8-1.2 5.9-2 2.9-2 1.8-2 2.2-4 1.3-4 .8-4 0-4-1.7-2.8-2-.5-6 1.1z" fill="#2f4396" fill-rule="evenodd"/>
<path d="M47.2 462.1l210.3 0-.2 14-8.1 5.2-5.3 2.8-2.7 2-.5 2 4 2 6.5 .3 12-.3 22-1.6 4-.7 4.7-1.7 3.1-2 2-2 2.2-4 .4-2 0-14 367.6 0 0 312-79 0 0-10-5-2.4-14.6-3.6-5.4-2-2.9-2-1.4-2-.5-2 .8-4 1.3-2 2.7-2.6 4-2.1 4-1.2 14-1.6 2-1.1 1-1.4 .6-2-.1-4-1-4-2.2-4-1.9-2-3.3-2-3.1-1-8-1-10 .9-4.6 1.1-5.4 2-6 3.4-9.4 6.6-4.6 2.6-14 5.4-6 2.8-4 2.9-2.2 2.3-2.4 4-.9 4 .5 4 1 2 2 2.2 3.2 1.8 11.2 2 0 10-428.5 0 0-10 18.1-4.8 4-2.3 2.6-2.9 2.8-6 2.2-8 0-6-1.6-2.3-4 .5-10 3.8-4 2.3-4 3.4-4.5 6.3-5.5 12.8-2 1.6-6.8 1.6 0 10-31.2 0 0-312zM127.2 717.9l-.5 2.2 .5 .4 2.1-.4 .9-2-1-.7-2 .5zM601.2 747.9l-.8 2.2 0 2 .8 2.4 2 2.1 2 1 4 .6 4-.7 2-1.4 .5-2-.4-2-1.4-2-2.7-2.2-4-1.4-2-.2-2 .3-2 1.3z" fill="#304599" fill-rule="evenodd"/>
<path d="M47.2 462.1l206.6 0-.2 14-6.4 3.3-11.2 4.7-2.5 2-.9 2 .5 2 2.5 2 3.6 1.1 6 .6 40-3.9 6-1.3 4-1.8 4-3 2-2.6 1.5-3.1 .4-2 .1-14 366 0 0 312-70.4 0 0-10 4.4-1.3 10.7-.7 5.3-1.2 1.4-.8 1.2-2 .1-2-1-4-2.5-4-3.2-3.1-4-2.4-8-3.7-4-3.1-2.5-3.7-5.4-12-3.8-4-3.9-2-2.4-.7-4-.7-6-.3-6 .4-6 1.1-8 2.7-6 3.3-14 9.6-18 7.3-4 2.2-4 3.2-2.9 3.9-1.1 2.3-.8 3.7 .4 4 2.4 3.9 2 1.6 4 1.6 5 .9 0 10-418.8 0 0-10 15.8-4.8 4-2.9 2-2.8 3.9-9.5 3.1-14 1-2 1.7-2 5.3-4 1.6-2 .4-2-.7-2-2.3-1.7-2-.4-2 .2-2.9 1.9-1.4 2-3.3 8-1.8 2-4.6 3-10 4.8-6 4.4-4.6 5.8-5.4 11-2.3 3-3.5 2-7 2 0 10-27.2 0 0-312zM568.8 744.1l4.4-1.5 4-.4 4 .5 4.5 1.4 2.7 2 2.3 4 .5 4-.6 2-1.4 1.1-2 .6-4-.1-10-1.6-5.1-2-2.2-2-.8-2 .1-2 1.2-2 2.4-2z" fill="#31469b" fill-rule="evenodd"/>
<path d="M47.2 462.1l202.9 0-.2 14-16.7 6.5-2.7 1.5-1.3 1.3-1.3 2.7 .3 2 1 1.7 3 2.3 5 1.6 6 .5 8-.5 34-4.6 6-1.3 4.2-1.7 5.1-4 2.7-3.9 .8-2.1 .5-2 0-14 364.7 0 0 312-36 0 0-10-2-.6-2-1.4-4.2-10-3.8-6-4.4-4-9.6-5.6-4-2.9-4-4.9-6.1-10.6-3.9-3.7-6-2.5-10-1.1-12 1.3-10 3.1-6 3.2-14 9.8-6 3-14 5.6-4 2.4-3.4 2.9-1.6 2-2.2 4-.9 4 0 2 1.2 4 1.4 2 3.5 2.6 4 1.4 0 10-362 0 0-10-.1 10-48.7 0 0-10 13.1-4 3.2-2 1.9-2 2.4-4 1.7-4 6.5-18 2-2.7 6-5.4 .9-1.9 .2-2-.7-2-2.4-2.5-4-1.4-4 .8-2 1.3-2 2.6-3.4 7.2-3.2 4-2.8 2-10.6 5.7-5.3 4.3-4.5 6-5.3 10-2.9 3.4-4 2.2-7.4 2.4 0 10-24.6 0 0-312z" fill="#32489e" fill-rule="evenodd"/>
<path d="M47.2 462.1l199.3 0-.3 14-17.2 6-2.8 2-1.4 2-.5 2 .2 2 .8 2 1.7 2 2.2 1.5 6 1.9 8 .8 8-.7 22-3.9 14-1.8 6-1.7 4-1.9 4.8-4.2 3.3-6 .5-2 .1-14 113.8 0 0 12 .5 2 3 .3 3-.3 .6-2 0-12 242.4 0 0 312-24.3 0 0-10-7-2-4.7-2.7-2-2.5-4.8-8.8-2.9-4-4.4-4-9.9-6-4-3-4-4.7-5.1-8.3-2.9-3.5-3.6-2.5-4.4-1.6-10-1.1-12 1-6 1.4-6 2.1-7.7 4.2-14.3 10.1-18 7.5-6.8 4.4-2 2-2.8 4-1.6 4-.2 4 1.1 4 1.4 2 2 2 3.7 2 0 10-356.5 0 0-10-2.3-.4-2.6 .4 0 10-43.7 0 0-10 12.3-4 4-3.4 3.7-6.6 7.5-18 2.8-3.8 4-3.5 2.1-2.7 .6-2 0-2-.7-2-1.5-2-2.5-2-2-.8-4-.4-3.8 1.2-2.4 2-5.4 10-3.5 4-12.9 7.8-4 3.4-3.7 4.8-5.6 10-3 4-3.7 2.5-9.6 3.5 0 10-22.4 0 0-312z" fill="#334aa1" fill-rule="evenodd"/>
<path d="M47.2 462.1l195.5 0-.3 14-13.5 4-3.7 1.7-2.6 2.3-1 2-.4 2 .8 4 1.2 2 4 3.1 6 1.9 10 .9 8-.6 20-4.1 16-2.4 6-1.6 4-1.8 4-3 2-2.3 3.3-6.1 .6-2 0-14 111 0 .3 14 4.8 .8 5.4-.8 .3-2 0-12 240.3 0 0 312-18.3 0 0-10-9.7-3.3-4.7-2.7-3.3-3.9-4.6-8.1-3.4-4.5-4.1-3.5-9.9-6-4-3-4-4.5-5.5-8.5-2.5-2.8-4-2.7-4-1.4-6-1-6-.2-6 .3-8 1.3-6 1.7-6 2.3-6 3.4-14 10.1-6 3-14 5.6-6.4 4.4-4.6 6-1.5 4-.3 4 1.1 4 1.3 2 1.9 2 3 2 0 10-353.1 0 0-10-3.4-.7-3.6 .7 0 10-40.4 0 0-10 10-3.2 4-2.8 3.7-6 8.3-17.7 3-4.3 5-4.8 1.8-3.2 .2-4-2-4-4-3.1-2.2-.9-3.8-.5-4 1-2.4 1.5-1.7 2-5.3 10-2.6 2.9-12 7.6-4.2 3.5-4.7 6-5.8 10-3.3 3.9-4 2.5-9.3 3.6 0 10-20.7 0 0-312z" fill="#344ca3" fill-rule="evenodd"/>
<path d="M47.2 462.1l191.6 0 0 12-.4 2-13.2 3.6-4 2.2-1.8 2.2-.7 2-.2 4 .7 2.5 2 3.2 4 2.9 6 1.9 10 1 10-.7 20-4.4 16-2.6 6-1.5 4.9-2.3 5.1-4.4 2.5-3.6 1.9-4 .7-2 0-14 108.4 0 .3 14 6.2 1.3 4-.4 3.3-.9 .3-14 238.4 0 0 312-13.9 0 0-10-12.1-4.9-4.7-3.1-3.2-4-4.5-8-3.6-4.7-4-3.4-10-5.7-4-2.9-4-4.4-5.9-8.9-2.1-2.3-4-2.7-4-1.3-6-1-6-.2-8 .5-6 .9-7.9 2.1-5.3 2-7.4 4-10.6 8-4.8 3-18 7.6-4 2.3-3.9 3.1-3.3 4-2.1 4-1 4 0 2 1.2 4 1.3 2 4.4 4 0 10-350.3 0 0-10-4.3-1-2 .1-2.5 .9 0 10-37.3 0 0-10 7.8-2.3 3-1.7 2-2 2.6-4 8.4-16.5 4-5.5 4-3.9 2.6-4.1 .8-4-.2-2-2.1-4-1.9-2-3.2-2.2-4-1.2-2-.2-4 .7-4 2.4-2 2.7-3.9 7.8-3.1 4-2.5 2-9.6 6-4.6 4-3.1 4-5.9 10-3.3 4.4-5.3 3.6-9.6 4 0 10-19.1 0 0-312zM349.2 633.8l-2 .7-2 1.9-2.2 3.7-1.1 4 0 2 1.3 2.7 2 .3 2-.9 2-2.3 .8-1.8 1.2-4 0-4-2-2.3zM465.2 597.7l0 1 1.9 3.4 2.1 .8 0-2-1.8-2.8-2.2-.4z" fill="#354ea4" fill-rule="evenodd"/>
<path d="M47.2 462.1l187.2 0 0 12-.4 2-9.4 2-5 2-2.1 2-1 2-.5 2-.1 4 1 4 1.2 2 1.8 2 3.2 2 8.1 2.2 10 .8 6-.2 5.9-.8 20.1-4.9 16-2.8 6-1.8 4-2.1 3-2.4 3-3.4 2.7-4.6 1.6-4 .1-14 106 0 .2 14 3.4 1.2 4 .6 4-.4 5.2-1.4 .3-14 33.2 0 .1 14 1.2 .7 2-.7 0-14 200 0 0 312-10.4 0 0-10-3.6-2.5-10-4-4-2.8-2.4-2.7-5.6-10-4-5.2-4-3.2-10-5.3-4-2.8-4-4.1-6-9.2-2-2.2-4-2.6-4-1.2-6-.9-6-.2-8 .5-8 1.2-8 2.2-6 2.2-8 4.5-14 10.3-6 2.9-12.9 5.1-6.3 4-5.4 6-2.2 4-1 4 .4 4 .8 2 3 4 2.4 2 0 10-347.7 0 0-10-5.1-1.4-2 .1-3.2 1.3 0 10-34.3 0 0-10 7.5-2.4 2-1.4 2-2.1 10-18.1 4-4.9 4-3.1 1.7-2 2.3-5.2 .5-2.8-.2-4-2.1-4-2.2-2.4-4-2.7-2.3-.9-3.7-.6-4 .4-2 .7-2.5 1.5-1.5 1.5-4.3 8.5-2.6 4-3.1 2.9-10 6.4-4 3.5-4 5.1-5.9 10.1-3.2 4-4.9 3.3-10.3 4.7 0 10-17.7 0 0-312zM349.2 627.5l-4 3.2-2 2.6-2 3.3-2.3 5.5-1.3 6 .2 4 1.4 3 2 .9 4-1.1 4-3.2 2-2.9 2-4.7 1.7-8-.1-6-1.6-2.7-2-.5-2 .6zM459.2 587.4l-2 1.5-.4 3.2 1.1 4 3.3 6.3 4 5 4 3.6 4 2.3 2 .6 2-.2 1-1.6-.5-4-2.5-6-4-6.8-2-2.6-4-3.5-4-1.8-2 0z" fill="#3751a6" fill-rule="evenodd"/>
<path d="M47.2 462.1l181.5 0 0 12-.6 2-8.9 1.8-3.5 2.2-1.3 2-1 4-.1 4 .8 4 1.1 2.5 2 2.6 2 1.5 3.1 1.4 8.9 1.8 10 .7 8-.5 6-1.1 18-4.7 18-3.4 4-1.3 4-2 4-3.2 2.1-2.3 2.6-4 2.9-6 0-14 103.7 0 .2 14 4.5 1.7 4 .6 4-.3 7.2-2 .4-14 26.7 0 .1 14 3.6 3.3 4 2.2 2-.2 1.3-1.3 .3-2-.5-2 0-14 196.9 0 0 300.4-6 0-2-.7-2.2-1.7-9.8-3.4-4.5-2.6-3.7-4-5.8-11.4-3.6-4.6-4.4-3.1-10-4.7-4-2.6-4-4-6-9.7-1.6-1.9-2.4-1.7-6-1.8-12-.7-8 .4-8 1.1-8 2-7.7 2.7-8.3 4.5-10 7.7-5.8 3.8-18.2 7.5-6.8 4.5-3.8 4-2.7 4-2.2 6 .4 4 .9 2 3.1 4 2.3 2 0 10-345.4 0 0-10-1.8-.9-4-.8-4 .6-1.9 1.1 0 10-31.1 0 0-10 5-1.6 3.5-2.4 2.8-4 5.7-10.9 4-5.5 4-3 4-1.3 1.8-1.3 .6-2 1.3-10-.5-4-1.2-2.8-4-4.5-4-2.7-4-1.3-4-.2-5.9 1.5-2.7 2-1.5 2-3.7 8-2.2 3.2-2.9 2.8-9.1 6-4.7 4-3.3 4.1-7.2 11.9-2.8 3.4-4 2.9-11.6 5.7 0 10-16.4 0 0-312zM229.2 659.1l-1.2 1-.6 2 .3 2 1.1 2 2.1 2 2.3 1.1 4 .6 2-.4 2.1-1.3 .4-2-.5-2-1.5-2-2.4-2-4.1-1.5-2-.1-2 .6zM351.2 622.1l-4 2.4-4 4.5-3.2 5.1-2.8 5.9-2 6.1-1.5 8 0 4 .4 2 1.1 2 2 .7 2-.2 6-3.2 4-3.4 2-2.5 2.8-5.4 3.3-12 1-6 0-4-1.1-2.8-1.6-1.2-2.4-.4-2 .4zM455.2 581.9l-2 .8-1.2 1.4-.6 2 .1 2 1.1 4 1.7 4 6.3 10 6.6 7.1 6 4.2 6 2.3 2 .2 2-.9 .7-.9 .3-2-1-4-6.3-12-5.7-8.9-4-4.3-4-2.9-4-1.8-4-.3z" fill="#3853a8" fill-rule="evenodd"/>
<path d="M47.2 462.1l171.2 0 0 12-.5 2-2.7 .9-2 1.4-1.1 1.7-1 4-.1 8 1.7 6 1.3 2 2.4 2 4.8 1.9 8 1.2 12 .8 8-.5 6-1.2 18-5 18-3.5 8-3.2 4-3 3.1-3.5 5.7-10 .1-14 101.4 0 .2 14 5.5 2.2 4 .6 6-.6 7.8-2.2 .4-2 0-12 20.9 0 .1 14 6.9 6 3.9 2.2 2 .3 2.6-.5 1.9-2 .2-2-1.5-4 0-14 194.8 0 0 292.4-6 0-6 1.2-4-.6-4-1.7-2-1.3-3.5-4-5.2-12-2.5-4-4.8-3.6-12-4.7-5.6-3.7-3.2-4-4-8-1.4-2-1.8-1.6-2-.9-4-.9-14-.3-10 .7-8 1.2-8 2-8 2.9-8 4.2-11.2 8.7-4.8 3.1-6 2.8-12 4.6-4 2.1-4 3-4.1 4.4-2.8 4-2.5 6 .4 4 1 2 1.5 2 4 4 0 10-50.3 0 0-10 .6-2-1.8-1.2-4 1.1-4.7 2.1 0 10-282.9 0 0-10-2.4-1.3-4-.8-4 .6-2.6 1.5 0 10-27.7 0 0-10 4.3-1.7 2.6-2.3 9.4-16.1 4-4 2-1 8-.9 1.3-2-.8-8 .1-8-.6-2.4-1.8-3.6-3.9-4-4.3-2.8-4-1.4-4-.3-6 1.2-4 2.7-1.8 2.6-2.5 6-2.4 4-3.3 3.3-9.9 6.7-4.1 3.8-3.2 4.2-6.8 11.4-4 4.4-3.3 2.2-8.7 4-3 2 0 10-15 0 0-312zM227.2 655.7l-2 1.2-.8 1.2-.4 2 .1 2 1.6 4 3.5 3.6 5.6 2.4 4.4 .5 4-.7 2.2-1.8 .6-2-.9-4-1.3-2-2.6-2.6-2-1.5-4.2-1.9-3.8-.8-4 .4zM353.2 617.7l-2 .6-3.1 1.8-4.9 5.1-4 6.2-4.1 8.7-3.9 12-2 10 .4 4 .9 2 2.7 2.2 2 .3 2-.5 2-1.1 4-3.3 8-8.1 4-7.1 5.5-20.4 .9-6-.4-2.5-2-2.7-2-1-4-.2zM451.2 578.1l-2 1-2 2.5-.1 4.5 1.3 4 3 6 3.6 6 4.4 6 7.8 8 8 5.2 4 1.8 4 .8 2-.2 2-1.3 1-2.3 0-2-1.1-4-9.9-17.3-6-8.8-4-4.2-6-4-6-1.9-4 .2z" fill="#3955a9" fill-rule="evenodd"/>
<path d="M47.2 462.1l163.1 0-.1 14-1.2 4-.5 10 .8 8 1.8 4 2.4 2 5.7 1.7 22 1.5 6-.3 6-.9 20-5.8 18-3.6 6-2.1 4-2.2 2.7-2.3 3.5-4 5.9-10 .1-14 99.2 0 .2 14 6.4 2.7 4 .6 6-.5 11.6-2.8 .6-2 0-12 12.7 0 .3 14 2.8 1.3 10 8.1 2 .9 4 .6 4-1.4 1.5-1.5 .5-2-.5-2-2.4-4-.1-14 193 0 0 287-8 .2-4 1.9-2 .1-4-1.2-2-1.6-2-2.5-1.8-3.9-2.9-10-1.3-2.5-2-2.4-4-2.4-12-3.4-6-2.9-2.4-2.4-1.3-2-3.4-10-1.2-2-1.7-1.4-2-.7-6-.1-28 2.3-8 1.5-10 2.9-6 2.4-6 3.2-12.8 9.9-5.2 3.2-16 6.3-6 3.3-4 3.2-3.7 4-4.2 6-1.7 4-.1 2 .6 2 1.1 2 5.9 6 0 10-45.8 0 0-10 3-4 .3-2-1.4-.9-2-.2-4 .8-11.9 6.3 0 10-279.1 0 0-10-3-1.6-4-1-4 .7-3.2 1.9 0 10-24.6 0 0-10 3.6-2 1.9-2 8.3-14.3 2-2.4 2-1.6 2-.9 8-.4 2-.8 1.3-1.6 .3-2-1.7-8-.4-8-1.3-4-1.2-2-3.7-4-5.3-3.6-4-1.4-4-.4-6 .9-4.8 2.5-1.7 2-3.3 8-2.7 4-3.5 3.2-8 5.4-4 3.5-4 5.1-7.7 12.8-4.2 4-10.1 5.1-4 2.6-14 0 0-301.7zM223.2 653.6l-2 2.5-.1 4 2.2 6 3.9 4.4 2.6 1.6 3.4 1.4 6 1.2 6-.1 2-.8 1.8-1.7 .6-2-.5-4-2-4-3.9-4.1-4-2.5-6-2.2-6-.7-4 1zM349.2 616l-2.8 2.1-3.2 3.5-6 9.7-4 8.9-6.2 17.9-1.3 6 .1 4 .6 2 2.8 4.1 4 2.3 4 .4 2-.9 2-1.9 12-15.4 2-3.6 2-5.1 6.2-21.9 .9-4 0-4-.8-2-2-2-2.3-1.2-4-.6-4 .7-2 1zM447.2 575.7l-3 2.4-1 2-.3 2 .7 4 1.6 4 4.7 8 8.7 12 8 8 8.6 5.7 8 3.2 4 0 2-1 1.4-1.9 .7-4-1.7-6-12.4-20.4-6-8.4-6-5.7-6-3.4-6-1.5-4 .3-2 .7z" fill="#3c59ac" fill-rule="evenodd"/>
<path d="M47.2 462.1l158.5 0 .3 36 .3 4 .9 2.8 2 1.9 4 1 28 .7 8-.5 6-1.2 18-5.5 20-4.3 4-1.5 4-2.1 3.9-3.3 2.1-2.3 7.5-11.7 .1-14 96.8 0 .2 14 3.4 1.7 6 1.9 4 .3 16-3.1 6-.4 4 .3 4 1.3 2 1.2 6 5.3 4 2.8 2 .9 4 .7 4-.5 2-.8 2.6-1.6 1.6-2-.1-2-5.2-6-.1-14 191.2 0 0 282.3-8 .1-4 1.2-2-.3-2-1-2-2.3-.9-2-3.1-11.5-2.7-4.5-2.5-2-2.8-1.4-14-3.3-4-1.9-2-1.8-1.9-3.6-1.6-8-1.5-4-1-1.3-2-1.2-4-.4-16 3.4-24 3.1-15.5 4.4-10.5 5-12 9.3-6 3.9-6 2.7-10 3.6-6.7 3.5-4.9 4-3.7 4-4.7 6-2.2 4-.3 2 .7 2 3.4 4 4.7 4 0 10-41.9 0 0-10 6.3-6 .2-2-2.9-1.6-2-.4-4 .4-4 1.3-14.3 8.3 0 10-276.1 0 0-10-3.6-2-4-1-4 .6-3.8 2.4 0 10-21.8 0 0-10 1.6-1 2.7-3 5.3-9.6 3.1-4.4 2.9-2.7 2-.9 8-.4 2-.5 2.3-1.5 .8-2 0-2-2-8-.8-8-1.3-4-1.2-2-3.8-4.2-6-4.1-4-1.4-6-.5-6 1.2-2.4 1-2.5 2-1.4 2-2.2 6-2.1 4-3.9 4-8.7 6-4.4 4-3 4-7 12-4.4 4.8-4 2.5-10 5.1-14 0 0-300.4zM223.2 649.9l-2 .3-2 .9-.9 1-.6 2 0 2 .9 4 1.6 4 2.4 4 1.8 2 4.8 3.3 8 2.7 8 1.1 4-.4 2-.9 1.5-1.8 .5-2-.4-4-2.8-6-3.4-4-5.4-3.8-5-2.2-7-1.8-6-.4zM351.2 612.1l-4 2-2.3 2-3.7 4.8-4 6.8-4 8.4-4 10-4 10.4-2 7.1-.1 6.5 2.1 5 2 2.4 4 3.1 6 2.7 2 0 2-1 1.7-2.2 5.1-10 7.8-12 2.4-6 3.7-14 5.1-16-.2-4-1.6-2.8-2-1.7-3.3-1.5-2.7-.5-6 .5zM445.2 573.3l-3.8 2.8-1.2 2-.6 4 .8 4 1.9 4 3.7 6 10.3 14 8.9 9.1 10.3 6.9 5.7 2.7 4 1.2 4-.2 2-1.1 1.7-2.6 .7-4-.4-4-1.5-4-2.5-4.6-12-18.5-6-8.2-6-5.5-6-3.5-4-1.2-4-.5-6 1.2z" fill="#405eaf" fill-rule="evenodd"/>
<path d="M47.2 462.1l155.3 0 .1 14 .9 4 .3 4-.6 10-1 6-2 6-5.1 8-1.6 4 .4 2 1.3 .8 2-.3 2-1.1 8-6.1 6-2.2 10-1.3 20-.2 8-.8 6-1.5 18-5.7 18-3.9 6-2.3 4-2.6 4-3.9 9-12.9 .1-14 94.4 0 .2 14 4.3 2.2 6 2 4 .2 16-2.8 6-.2 4 .6 4.6 2 7.4 6.3 4 2.7 2.1 1 3.9 .8 6-.8 5.2-2 7.3-4 2.2-2-.7-.8-2.6-1.2-5.4-1.1-5.1-2.9-.1-14 189.2 0 0 278.1-8-.1-2-.3-2-1-2.2-2.7-4.9-12-2.9-3.7-4-2.6-14-4.3-4-2.2-2.6-3.2-3.3-10-2.1-3.9-2-1.8-2-.9-4-.3-4 .8-14 4.7-24 3.9-10 2.7-8 2.8-10 5.1-11.1 8.9-4.9 3.2-6 2.8-12 4.3-6 3.4-5.1 4.3-9.4 10-3.3 4-.7 2 .9 2 2.2 2 7.9 6 0 10-38 0 0-10 9.2-6 1.9-2-1-2-4.6-1.5-4-.5-4 .2-6 1.9-16.4 9.9 0 10-273.4 0 0-10-4.2-2.5-4-1-4 .6-4.4 2.9 0 10-19.4 0 0-10 3.4-4 4.4-8 4-5.5 2-1.7 2-.9 8-.5 4-1.2 2.1-2.2 .5-2-.6-4-1.8-6-1.6-10-2.6-4.8-4-4.2-6-4.1-4-1.4-6-.5-6.7 1-3.3 1.4-2 1.5-2.1 3.1-2 6-2.3 4-3.6 3.5-8 5.4-4 3.6-4 5.4-6 10.7-4.7 5.4-3.3 2.2-10 4.8-14 0 0-299zM215.2 646.9l-1.5 1.2-.5 2 1.5 6 4.7 10 3 4 2.2 2 3 2 4.6 2 11 2.8 8 .9 2-.3 2.3-1.4 1.1-2 .3-2-1.1-6-3-6-3.2-4-2.4-2.2-6.2-3.8-7.8-2.8-12-2.5-4-.3-2 .4zM351.2 609.5l-4 1.6-3.5 3-2.5 3.1-4 6.9-5.6 12-8.3 20-1.9 6-.8 4 .2 6 1.4 4 1.3 2 3.7 3.8 4 3.3 6 4.4 2 .9 2 0 2-1.3 .7-1.1 1.3-2.5 4.8-13.5 7.2-12.5 2-5.5 4.2-16 5.8-16 .2-4-.5-2-1.1-2-2.6-2.4-3.2-1.6-2.8-.8-4-.3-4 .5zM449.2 570l-4 .8-4 1.8-2 1.7-2.2 3.8-.4 4 .9 4 4.5 8 13.8 18 5.4 5.7 5.1 4.3 8.9 5.8 8 4 4 1 2 .1 2.5-.9 2-2 1.6-4 .1-6-1-4-3.2-6.4-14.2-21.6-6.2-8-3.6-3.5-3.5-2.5-6.5-3-4-.9-4-.2z" fill="#4463b3" fill-rule="evenodd"/>
<path d="M47.2 462.1l152.6 0 .1 14 1.1 4 .4 4-.2 5.5-.7 4.5-2 6-2.2 4-6.9 10-2.1 6 .4 4 1.2 2 2.3 1.1 2 .2 4-1 2-1 11-9.3 3.5-2 3.5-1.3 10-1.7 16-.1 8-.9 6-1.5 18-6 18-3.9 6.6-2.6 3.4-2.1 4.2-3.9 7.8-11.2 2.5-2.8 .1-14 91.9 0 .2 14 5.3 2.7 6 2 4 .3 16-2.5 8 .3 3.8 1.2 2.2 1.2 8 6.8 4 2.7 4 1.4 4 .4 6-1.1 16-4.8 2-.7 2.4-1.9 .9-2 0-2-.8-2-3-2-1-2 0-12 171.5 0 0 274-8-.2-2-1.7-1.5-2.1-4.8-10-3.2-4-4.5-3-12-4.4-4-2.4-3.4-4.2-3.5-8-2.3-4-2.1-2-2.7-1.4-4-.6-6 1.2-10 4.1-6 2-20 3.7-8 1.9-8 2.5-8 3.2-8 4.6-10 8.3-4 2.7-6 2.9-12 4.2-6 3.1-4.6 3.6-11.4 10.9-6 3.9-2 .8-4 .3-16-1.6-6 .9-4 1.5-18.4 11.3 0 10-270.8 0 0-10-4.8-2.9-4-1-4 .5-2 .9-3 2.5 0 10-17.3 0 0-10 2.3-3 6-10.5 2-2.5 2-1.8 2-.9 8-.7 4-1 2.2-1.6 1.4-2 .3-2-.2-2-2.6-8-1.8-10-3.3-5.8-4.3-4.2-5.7-3.8-4-1.4-6-.7-8 1.2-2.2 .7-3.3 2-1.6 2-2.7 8-2.2 3.5-4 3.7-8 5.4-3.5 3.4-2.9 4-6.5 12-3.1 3.9-2 1.8-4 2.4-8 3.4-14 0 0-36.8 14 0 2.7-2.7 8.4-6 4.9-4.6 4.2-5.4 .9-4-1.1-3.1-2-1.7-2-.4-2 .6-4 4.3-6.7 10.3-3.3 3.9-14 0 0-251.9zM213.2 642.1l-2 .1-2 1.1-1.2 2.8 .2 2 1.5 4 6.7 12 2.5 4 3.6 4 2.7 2 6 2.9 18 5.2 6 .6 2.4-.7 1.6-1.3 1.3-2.7 .3-2-1.2-6-4-8-5.1-6-5.3-3.8-6-2.8-22-6.6-4-.8zM349.2 607.6l-4 2-2 1.7-2.4 2.8-3.6 6.3-15.7 35.7-2.1 6-1.2 6 .4 6 .6 2.2 2.1 3.8 15.9 15.6 2 1.2 2 .4 2-.5 2-2.1 2-4.5 2.5-10.1 2.1-6 7.4-14.7 4.8-19.3 6.4-16 1.1-4-.1-4-.7-2-1.5-2.3-4-2.9-4-1.5-4-.7-4 0-4 .9zM441.2 570.1l-3.1 2-3.2 4-1 4 .3 4 1.4 4 2.3 4 10.7 14 10.7 12 5.9 5.1 6 4.1 8 4.8 6 2.8 4 .9 2-.2 2-.9 2.3-2.6 1.7-5.2 .2-4.8-1.4-6-4.1-8-18.7-27.5-4-4.3-4-3.2-4-2.4-4-1.5-4-.9-4-.2-4 .6-4 1.4zM482.7 462.1l14.1 0 0 12-1.1 2-8.5 1-4.3-1-.2-14zM470 758.1l3.2-.9 4 .4 4 1.4 8.6 5.1 0 10-34 0 0-10 5.4-2.9 8.8-3.1z" fill="#4868b6" fill-rule="evenodd"/>
<path d="M47.2 462.1l150.1 0 .1 14 1.3 4 .4 4-.8 8-3.1 7.6-6 8.9-3.1 5.5-1.5 4-.7 4 .3 4 1 2.3 2 1.8 4 .9 4-.6 5.3-2.4 2.8-2 8.7-8 3.2-2.1 4.6-1.9 7.4-1.5 18-.6 8-1.1 22-7.4 18-4 8-3.2 6-4.9 8.3-11.3 3.9-4 .1-14 89.3 0 .2 14 6.2 3.2 6 2 4 .4 16-2.2 4-.1 4 .6 6 2.9 8 6.8 4 2.6 4 1.4 4 .4 4-.3 12-3 10-1.8 2.2-.9 1.8-1.9 .7-4.1-.7-3.7-1.2-2.3-.1-14 165.3 0 0 270-8-.3-2.4-3.7-3.9-8-3.2-4-4.5-3-10-4.1-4.9-2.9-3.6-4-5.1-10-2.4-3.1-4-2.6-2-.5-4-.3-4 .6-4 1.3-14 6.1-26 5.8-10 3.1-9 3.6-7 4-10 8.3-5.4 3.7-4.6 2.2-12 4.1-6 2.9-4 2.9-12 10.6-6 3.3-6 1.4-12-.5-6 .2-4 .7-4 1.6-20.4 12.6 0 10-268.3 0 0-10-5.3-3.4-4-1.1-2 0-4 1.4-3.7 3.1 0 10-15.4 0 0-10 7.1-11.9 2-2.6 2-1.8 2-1.1 8-.7 4-1 3.8-2.9 1.1-2 .2-2-3-10-2-10-3.6-6-4.5-4.5-6-4-6-1.9-6-.2-8 1.4-3.4 1.2-2.6 2-1.3 2-1.7 6-1.9 4-3.1 3.2-8 5.3-4 3.5-3 4-7 13.4-4 4.8-6 3.6-6 1.9-14 0 0-29.4 14 0 4-4.7 10-7.3 6-6.2 4.2-6.1 .9-4-1.1-4-1.5-2-2.5-2-4-1.2-2 .5-2 1.5-2 2.5-6.8 10.7-3.2 3.8-14 0 0-247.8zM129.2 591.9l-2 .3-2 1.2-.7 .7-.6 2 1 2 2.3 1.3 2 .5 2-.2 2.6-1.6 .8-2-.6-2-.8-.9-2-1.1-2-.2zM207.2 639.3l-2 2.1-1 2.7 0 2 1.1 4 11.9 18 3.4 4 2.4 2 7.9 4 22.3 7.3 4 .4 2-.3 2-.8 2-1.9 1.1-2.7 .2-2-.5-4-1.3-4-3.1-6-2.7-4-5.7-6-4-2.7-6-2.9-16-5.2-10-3.9-4-.9-2 .1-2 .7zM347.2 605.9l-3.8 2.2-2.2 2-4 6.2-18.3 41.8-1.9 6-1.1 6 .4 6 1.5 4 1.4 2.2 9.8 9.8 6.2 7.3 3.6 2.7 2.4 .7 2-.3 2-1.3 2.1-3.1 1.9-5.8 3.3-14.2 8.2-18 4.6-20 6.8-16 1.6-6-.4-4-2.1-3.8-2.6-2.2-3.4-1.7-4-1.3-6-.6-4 .3-4 1.1zM441.2 568.1l-3.8 2-2.4 2-2.7 4-1 4 .2 4 1.4 4 5.2 8 17.1 20 6 5.8 5.5 4.2 12.5 8 8 4 4 .5 2-.5 2-1.4 2-2.8 1.7-5.8 0-6-1.3-6-4-8-19.1-28-3.3-3.9-4-3.6-4-2.7-4-1.8-6-1.5-4-.2-4 .5-4 1.2zM471.1 760.1l4.1-.3 4 .6 4 1.3 4.5 2.4 0 10-29.6 0 0-10 7.1-2.8 5.9-1.2z" fill="#4d72bc" fill-rule="evenodd"/>
<path d="M47.2 462.1l147.8 0 .1 14 1.3 4 .4 4-.6 6-3 7.7-6.6 10.3-3.1 6-1.8 6-.5 3.8 .4 4.2 1.6 3.4 2 1.7 4 1 6-1 6-2.7 4-3 10-9 6-3 8-1.7 16-.6 8-1.2 20-7 20-4.7 8-3.1 4-2.8 2.5-2.3 9.5-12.6 4-3.4 .1-14 86.5 0 .2 14 5.2 2.7 6 2.6 4 .8 6-.2 12-1.6 4 0 4 .8 5.5 2.9 8.5 7.2 4 2.5 4 1.4 4 .4 6-.6 12-2.5 10-.7 2-.5 2-1.3 1-1.9 .4-4-.7-4-1.6-4 0-14 162.9 0 0 266-6 0-2-.5-4.8-9.5-3.2-4-4-2.7-11.7-5.3-5-4-2.8-4-4.2-8-2.3-3-2-1.6-3-1.4-3-.7-4 0-8 1.9-16 7.1-26 6.5-10 3.3-8 3.3-7.8 4.6-9.3 8-4.9 3.3-6 2.7-12 4-4 2-4 2.7-12 10.3-6 3.1-6 1.4-18 .3-4 .9-4 1.5-14 9.1-8.4 4.7 0 10-265.8 0 0-10-3.8-3-2-.9-4-1.3-2 0-4 1.4-4.3 3.8 0 10-13.5 0 0-10 5.6-10 2.2-3 2-1.9 2-1.1 10-1.2 4-1.7 3.2-3.1 .9-2 .1-2-3.3-10-2.2-10-3.4-6-5.3-5.2-6-3.9-6-2-6-.3-10 1.5-4.7 1.9-2.1 2-1 2-1.4 6-2.2 4-2.6 2.4-8.9 5.6-3.1 3-3.1 5-5.6 12-2.9 4-2.4 2.1-4 2.2-4 1.1-16 .1 0-22.6 14 0 4-5.7 10.7-7.2 5.3-5.2 6.8-8.8 1.6-4 .1-2-1.3-4-3.2-4.1-2.5-1.9-3.5-1.8-2-.3-2 .2-2 1.2-2 2.3-4.8 8.4-5.2 7.1-14 0 0-245.1zM123.2 590.1l-2.6 2-1.3 2-.1 2.6 .5 1.4 1.5 2 4 2.3 4 .9 4-.5 2-1 1.8-1.7 1.1-2 .4-2-.2-2-.9-2-1.9-2-2.3-1.2-4-.5-6 1.7zM207.2 635.9l-3.3 2.2-2.1 4-.5 4 1 4 2.5 4 4.4 5.2 7.8 10.8 4.1 4 6.9 4 27.2 10 6 .2 2-.6 2.5-1.6 1.5-2 1.1-4-1-6-2.5-6-3.6-6-3.1-4-3.9-4-5-3.6-6-3-16-5.4-14-5.9-4-.6-2 .3zM347.2 603.6l-4 1.8-2 1.6-2.7 3.1-2.3 4-19 44-2.6 8-1 6 .3 6 1.3 4 1.3 2 8.7 8.4 10 11.9 2.3 1.7 3.7 1.2 2-.2 2-.9 2-2.1 2-4 4.6-20 2.2-6 5.7-12 4.2-20 2.1-6 6.5-14 1.2-6-.7-4-1.8-3.2-2-1.9-4-2.2-4-1.4-6-.9-6 .1-4 1zM443.2 565.7l-5.9 2.4-2.9 2-2 2-2.5 4-1 4 .1 4 1.1 4 2.2 4 6.3 8 12.6 14 5.8 6 6.2 5.2 18 12.1 6 3.3 4 1 2-.2 2-1 2-2 1.4-2.4 1.7-6 .3-6-1.4-7.5-1.8-4.5-2.2-4-18-26.5-4-5.2-4-4.1-4-3-4-2.1-4-1.4-6-1-4 .1-4 .8zM467.8 762.1l5.4-.7 4 .2 4 .8 4.2 1.7 0 10-24.7 0 0-10 7.1-2z" fill="#537cc2" fill-rule="evenodd"/>
<path d="M47.2 462.1l145.6 0 0 14 1.7 6-.3 6-1.1 4-1.8 4-6.1 10-3 6-2.1 6-1.1 6 .4 6 1.7 4 2.1 1.8 4 1 6-.8 8-3.3 4.1-2.7 11-10 6.9-3.5 6-1.4 16-.8 8-1.2 22-7.9 18-4.2 8-3 6-4.4 3.3-3.6 7.5-10 5-4 .2-14 83.6 0 .2 14 6.2 3.3 6 2.5 4 .9 6-.1 12-1.4 6 .5 6 2.7 12 9.6 4 1.9 6 1 6-.5 12-2.1 12 .3 4-.9 1.5-1.7 .9-4-1.2-6-2.3-6-.1-14 161.2 0 0 261.8-6 0-2-.6-3.4-7.2-3.4-4-3.2-2.2-10-4.6-4.9-3.2-3.5-4-5.6-10.3-3.3-3.7-4.7-2.3-4-.6-4 .1-8 1.9-18 8-24 6.6-12 4.1-8 3.4-6 3.6-10 8.7-3.6 2.5-4.4 2.3-12 3.9-6 2.6-4.8 3.2-11.2 9.4-6 3.1-8 1.7-16 .5-4 .9-4 1.5-16 10.4-8.6 4.5 0 10-263.1 0 0-10-2.3-2.1-4-2.5-2-.8-4-.5-4 1.3-2 1.4-3.1 3.2 0 10-11.6 0 0-10 6.7-11.4 2-2 2-1.2 2-.6 8-.6 4-1.7 3.1-2.5 1.4-2 .7-2 0-2-3.4-10-2.4-10-2-4-3.2-4-6.2-5.4-6-3.3-6-1.4-6 0-12 2-4.8 2.1-1.7 2-1.3 8-2.2 3.3-4 2.7-8 3.4-2 1.7-1.5 2.9-5.8 16-2.5 4-2.2 2.3-2.6 1.7-3.4 1.2-2 0-2-.8-14 0 0-14.6 14 0 3-5.8 3-3.2 4-2.3 8-3.2 2-1.3 11.1-16 1.2-4-.4-2-1.7-4-4.2-4.9-6-4.3-4-1.5-2 0-2 .9-2 2-6.4 11.8-3.6 4.9-14 0 0-242.9zM127.2 586.1l-6 2-2.8 2-1.8 2-.9 2-.3 2 .5 2 1.2 2 2 2 4.1 2.3 6 1.4 4-.3 2-.7 3.7-2.7 1.3-2 1.2-4-.7-4-1.5-2.6-2-1.9-2-1-4-.8-4 .3zM205.2 633.8l-2.9 2.3-2.3 4-1.1 6 .7 4 2.2 4 7.4 8 6.2 8 3.8 4 4 2.8 4 2 14.2 5.2 11.8 5.2 4 1.2 4 .4 4-.7 3.7-2.1 1.7-2 1-2 .5-4-.8-4-1.5-4-3.2-6-4.1-6-3.3-4-4.4-4-7.6-4.6-18-6.3-16-7.3-4-.8-4 .7zM345.2 602l-4 2.1-2 1.7-2 2.4-2.2 3.9-9.4 24-10.9 24-2.6 8-1.3 8 .5 6 2 4 10.8 10 9.1 10.9 4 3 4 1.2 4-.8 2-1.6 2.8-4.7 1.2-3.8 2.7-14.2 1.6-6 7.8-18 2.8-16 1.6-6 8.4-18 1.5-6-.2-4-1.6-4-2.6-2.7-4-2.3-6-1.8-6-.8-6 .1-6 1.4zM443.2 564.1l-5.5 2-3.4 2-3.1 2.6-2.6 3.4-1.6 4-.5 6 .9 4 2 4 4.6 6 5.5 6 13.7 14.3 8 7.2 26 17.9 4 1.5 2 0 2-.7 2.5-2.2 2.4-4 1.3-4 .7-6-.3-6-1.4-6-1.6-4-3.4-6-8.2-11.4-10-15.2-4-5.2-4-3.9-6-4-6-2.2-8-.9-6 .8zM464 764.1l9.2-1.4 4 .2 5.2 1.2 0 10-18.4 0 0-10z" fill="#5886c8" fill-rule="evenodd"/>
<path d="M47.2 462.1l143.3 0 0 14 1.7 6-.4 6-2.2 6-6.4 11.5-2.9 6.5-2.5 8-.8 6 .2 6 1.5 4 2.5 2.4 4 1 8-1.3 8-3.2 6-4 10-9.3 4-2.6 4-1.6 6-1.2 14-.8 8-1.2 22-8.1 18-4.3 8-2.9 4-2.5 2.7-2.4 11.3-14 2.4-2 3.3-2 .3-14 80.5 0 .2 14 11.3 5.7 6 1.6 6 0 12-1.2 6 .8 6 3 8 6.8 4 2.8 4 1.8 6 1 4.7-.3 13.3-2 4 .2 12 1.8 2-.2 2-1.2 1.3-2.6 .2-4-1.5-6-3.5-8-.1-14 159.6 0 0 257.3-6 0-2-.7-2.1-4.6-3.4-4-3.2-2-9.3-4.3-5.4-3.7-3.4-4-5.2-10.2-2-2.6-2-1.6-3.3-1.6-2.7-.7-8-.1-8 1.8-20 9-24 7.2-18 6.8-6.8 4-9 8-4.2 3.1-5.9 2.9-10.1 3.1-6 2.5-4 2.5-12 9.8-6 3.2-8 1.8-16 .8-4 .8-4 1.5-16 10.5-10.9 5.5 0 10-260.3 0 0-10-2.8-2.7-4-2.6-4-1.6-2-.2-4 1.4-4 3.4-1.8 2.3 0 10-9.7 0 0-10 5.5-9.6 2-2.2 2-1.2 2-.7 8-.6 4-1.9 4.5-3.8 1.3-2 .5-2-.5-4-3.2-8-1.9-8-1.5-4-2.6-4-4.6-4.8-4-3.2-4-2.5-6-2-8-.4-16 2-4-.1-2-1.2-6.4-7.8-4.6-4-7-4.4-4-.8-2 .5-2 1.6-2 3.3-4.5 9.8-3.5 5.1-14 0 0-241.1zM127.2 583.8l-6.9 2.3-5.1 3.6-1.9 2.4-.8 2-.3 2 .3 2 2.7 4 2.5 2 3.7 2 3.8 1.3 4 .6 6-.8 2.5-1.1 2.5-2 2.6-4 1-4-.6-4.7-2-3.9-2-1.9-2-1.1-4-1-6 .3zM205.2 631.2l-2 1-2 1.7-2.7 4.2-1.7 6 .2 6 1.8 4 1.7 2 6.7 6.2 8.3 9.8 3.7 3.4 6 3.6 16 6.1 10 4.9 6 2.3 6 .6 4-.6 4-1.8 2.9-2.5 1.3-2 .9-4-.6-4-1.6-4-3.2-6-4-6-4.9-6-4.1-4-4.7-3.4-4.9-2.6-19.1-6.6-16-7.7-4-1-4 .4zM345.2 599.9l-4 1.7-3.4 2.5-2.6 3.2-1.5 2.8-8.8 24-13.5 30-3 10-1.3 8 .6 4 3.1 4 10.4 7.9 12 12.9 4 2.5 4 1.1 4-.6 2-1.1 2-2.1 2-3.9 5.1-24.7 2.3-6 4.6-9.4 1.6-4.6 3.4-20 2.3-6 7.1-14 1.4-4 .7-4-.3-4-1.7-4-2.5-2.5-4-2.2-6-1.9-6-.8-8 .1-6 1.1zM447.2 561.9l-6 1.2-6 2.6-4 2.8-3.4 3.6-2.3 4-1.4 6 .5 6 1.7 4 2.9 4 5.4 6 18.2 18 6.4 5.7 17.3 12.3 10.7 8.6 4 2 2 .2 2-.5 2.9-2.3 2.7-4 1.5-4 1.1-6 .1-6-.7-6-1.6-5.7-2-4.4-22-32.7-6-7-4-3.2-6-3.2-7.2-1.8-6.8-.2zM72.9 730.1l2.3 .5 1 1.5 .4 2-1 6-1.7 4-2.7 3.9-2 1.6-2 1-2 .3-2-.7-1.1-2.1-.4-2 .4-4 1.1-4 2-3.6 2-2.1 2-1.3 3.7-1zM469.2 764.1l8.4 0 0 10-8.4 0 0-10z" fill="#5c93d2" fill-rule="evenodd"/>
<path d="M47.2 462.1l141 0 0 14 1.7 6-.6 6-2.2 6-5.9 11.4-2.7 6.6-2.3 8-1.2 8 .1 6 1 4 1.1 1.7 2 1.5 4 .8 4-.4 6-1.5 9.5-4.1 5.9-4 10.6-9.8 6-3.2 6-1.5 16-1.1 6-1.1 22-8.3 20-4.9 8-3.4 6-4.9 11.4-13.8 2.6-2 3.7-2 .2-14 77.5 0 .2 14 14.4 7 6 1 16-.9 6 .9 6 3.4 10.5 8.6 3.5 1.9 4 1.3 6 .4 14-1.8 4 0 6 1.1 10 3.1 2 .1 2-.5 1.6-1.6 .8-2 .4-4-.6-4-1.2-4-5.1-10 0-14 158.1 0 0 252.3-6 0-2-.8-2-3.5-2.1-2-11.9-5.7-4-2.5-4-4-2.3-3.8-3.7-8.4-2-2.6-2-1.6-3.1-1.4-2.9-.7-4-.3-6 .3-10 2.4-18 8.4-28 9.4-16 6.3-6 3.6-12 10.6-6 3-12 3.7-4 1.7-5.6 3.6-10.4 8.5-6 3.3-8 1.9-16 1-4 .8-4 1.5-18 11.7-11.4 5.3 0 10-257.3 0 0-10-5.3-4.8-4-2.5-4-1.7-2 .5-2 1.2-4 3.7-2.8 3.6 0 10-7.4 0 0-10 4.2-7.7 2-2.3 4-2 6 .2 4-1.3 6.2-4.9 1.8-2.2 1.4-3.8-.7-4-3.3-8-2-8-1.5-4-2.6-4-5.3-5.5-4-3.2-4-2.4-6-2.1-6-.5-14 1-6-.5-4-2.5-6.2-6.3-7.8-6-4-2.4-4-1.3-2 .2-2 1.2-1.6 2.3-5 12-3.4 5.3-14 0 0-239.3zM127.2 581.7l-8 2.7-5.6 3.7-2.4 2.7-1.7 3.3-.2 4 .8 2 3.1 3.7 6 3.7 8 2.3 4 .2 4-.6 3.4-1.3 2.6-1.8 3.1-4.2 1.6-6-.5-6-2.2-4.7-2-2-2-1.2-2-.7-4-.5-6 .7zM203.2 629.7l-4 3.4-2.8 5-1.9 8 .5 6 2.3 4 9.9 8.4 6.6 7.6 4.3 4 7 4 14.1 5.4 14 7 6 2 6 .5 5.2-.9 4.8-2 5.5-4 1.2-2 .3-2-.3-2-3.9-8-9.6-14-5.3-6-4.5-4-5.4-3.5-4-2-20-6.8-16-7.9-6-1.3-4 1.1zM345.2 598l-4 1.3-4 2.4-2.4 2.4-1.6 2.4-2 4.7-3.9 12.9-3.8 10-11.4 24-6.9 16.7-4.5 9.3-.5 2 .3 2 1.4 2 2.6 2 8.7 4.7 6 4 10 10.1 3.9 3.2 4.1 2.3 4 1 4-.3 2-.9 2.5-2.1 2.3-4 1.7-6 2.1-14 1.3-6 2.1-6 5.8-12 1.1-4 2-14 1.3-6 2.3-6 8.2-16 1.7-6 .4-4-.7-4-2.1-3.1-4-2.8-4-1.6-6-1.3-6-.6-8 .3-6 1zM441.2 561.7l-6 2.3-4 2.5-4 3.6-2.7 4-2.3 6-.7 6 .7 4 2 4 7.1 8 23.6 22 21.6 16 10.7 10.2 4 2.4 2 .3 2-.4 2-1.1 3.1-3.4 2.2-4 1.8-6 .7-6-.3-8-1.1-6-2-6-3.2-6-10.2-14-11-16.9-4-4.9-4-3.6-6-3.5-8-2.4-8-.3-6 1.2zM68.2 736.1l1-.6 2-.1 .8 .7 .8 2-.1 2-1.5 4.1-2 2.2-2 1-2-.6-.4-.7-.2-4 .6-2.4 2-2.9 1-.7z" fill="#61a1dc" fill-rule="evenodd"/>
<path d="M47.2 462.1l138.6 0 0 14 1.4 4 .1 6-1.7 6-6.4 13.7-2.3 6.3-2.7 10-1.4 10 0 6 1 4 2.1 2 3.3 .8 4-.2 6-1.5 8-2.7 5.2-2.4 6.8-4.3 10.4-9.7 3.6-2.4 3.6-1.6 6.4-1.4 14-1 6-1.1 22-8.6 20-5 8-3.3 4-2.8 2.9-2.8 11.1-13.4 3.7-2.6 4-2 .2-14 74.4 0 .2 14 13.5 6.8 4 1.3 4 .6 14-.7 6 .6 6 2.8 12 9.7 6 2.9 4 .8 4 .1 14-1.5 4 .1 6 1.5 10 4.4 4 .9 2-.4 2.1-1.9 1.3-4 .2-4-.9-6-1.4-4-5.9-10-.1-14 156.7 0 0 246.4-6 0-2-.4-2-2-2-1.1-10-4.1-4.6-2.8-2.1-2-2.8-4-4.5-11.4-2-2.4-2-1.4-4-1.3-4-.5-10 .4-6 1.2-6 1.8-20.9 9.6-31.1 11.3-10 4.1-6 4-6.7 6.6-5.2 4-4.2 2-11.9 3.6-5.4 2.4-4.6 3-10 8.2-6 3.3-8 2.1-17.6 1.4-6.4 2-18 11.7-13.8 6.3 0 10-155.3 0 0-10-.9 0 0 10-98.1 0 0-10-3.9-4-5.2-4-1.7-2 .5-2 7.6-8 1.2-4-.7-4-3.5-8-2.8-10-2.1-4-5.3-6.3-8-6.3-4-2.1-6-1.5-6-.2-12 .4-6-1.2-2-1.3-11-9.5-7-5.2-4-2.2-4-.8-2 .8-2 2.2-4.8 13.2-3.2 5.7-14 0 0-237.7zM127.2 579.7l-6 1.9-4 1.8-4 2.5-2.6 2.2-1.8 2-2.3 4-.5 4 .6 2 2.6 3.6 2.9 2.4 8 4 5.1 1.3 4 .5 4-.1 4-.9 4-1.9 2-1.6 2-2.5 1.4-2.8 1.1-4 .4-4-.3-4-.9-4-2.1-4-1.6-1.7-2-1.2-2-.6-4-.3-8 1.4zM141.2 552.1l-1.5 2-.5 2 .1 2 1.9 3.7 2 1.5 2 .8 4-.4 2.7-1.6 1.8-2 .9-2 .2-2-.6-2-2-2-5-1.6-4 .5-2 1.1zM347.2 595.8l-6 1.5-4 1.8-3.6 3-1.5 2-2.5 6-5.2 18-6 14-15.2 30.1-4 4.8-4 2.3-4 .4-2-.5-4-2.5-4-4.2-13.2-16.4-6.3-6-5.6-4-6.9-3.3-20-6.6-14-7.3-4-1.6-4-.7-4 .7-4 2.8-2 2.5-2.7 5.5-1.7 6-.6 6 .7 4 1.1 2 1.9 2 9.3 6.7 8.9 9.3 5 4 6.1 3 14 5.4 16 8.3 6 1.7 6 .3 5.2-.7 12.8-3.1 4-.1 4 .7 12 3.8 8 3.4 6 4.1 10 9.2 6 4 6 2 4-.2 2-.6 2-1.2 1.9-2 2.2-4 1.5-6 1.8-14 1.8-8 2.2-6 5-10 1.6-4.8 2-15.2 1.3-6 2.4-6 6.6-12 2.8-6 1.8-6 .7-6-1.2-4-1.8-2-3.4-2-5.2-1.9-6-1.1-6-.4-14 1.1zM443.2 559.7l-6 1.9-4.9 2.5-5.3 4-3.3 4-3 6-1.7 6-.3 6 1.4 4 5.3 6 17.8 15.2 11.8 10.8 16.6 12 4.7 4 10.9 12.2 2.9 1.8 3.1 .7 4-1.2 3.8-3.5 2.2-3.7 2.3-6.3 .9-6 0-8-1-8-1.7-6-2.7-6-11.8-16.5-12-18.5-6-6.6-6-4-8-2.8-8-.7-6 .7zM133.7 756.1l1.5-1 2-.2 1.3 1.2-5.2 8 0 10-4.7 0 0-10 2.6-5.1 2.5-2.9z" fill="#65aee5" fill-rule="evenodd"/>
<path d="M47.2 462.1l136 0 .1 14 1.5 4 .1 6-1 4-6.7 16.5-3 9.5-2.3 10-3.5 20 .3 2 .5 .4 4 .5 6-.9 6-1.6 12-4.4 6-2.7 8-5.2 10-9.2 6-3.5 6-1.5 14-1.2 6-1.1 6-2.1 16-6.7 20-5.1 8-3.2 4-2.7 4-3.8 10-12.1 4-3.1 5.7-2.8 .3-14 71 0 .3 14 14.7 7.4 4 1.3 4 .6 14-.3 6 .8 6 3 12 9.8 6 2.7 4 .8 4 .1 12-1.2 6 .2 6 1.9 12 6.1 4 .8 2-.5 1.9-1.5 1.1-2 1-4 0-6-1-6-1.3-4-2.2-4-4.5-6-.1-14 155.1 0 0 240.3-8 0-4-.6-6-1.7-6-3.1-3.2-2.9-2.3-4-3.6-12-1.4-2-3.1-2-4.4-1-4-.3-12 .9-8 1.6-6 1.9-23.9 10.9-36.1 14-6 3.7-8.4 8.3-3.6 2.8-4 2-12 3.7-6 2.6-4 2.6-10 8.2-6 3.5-8 2.2-18 1.6-6 1.9-18 11.7-6 2.8-6.5 2.4-3.5 2 0 10-147.9 0 0-10-4.1-.3-5.6 .3 0 10-94 0 0-10-2.4-2.9-5.3-5.1-1.1-2 .4-2 5.1-6 2.1-4 .3-2-.9-4-3.6-8-3-10-2-4-5-6-7-5.9-4-2.5-6-2.1-6-.6-12 .2-6-1.1-4-2.4-18-14.7-4-2.5-4-1.2-2 .2-2 1.5-.6 1.1-1.4 3.1-3 10.9-3 6.1-14 0 0-236.1zM145.2 547.8l-2 .3-4.1 2-1.9 2.4-1 3.6 .6 6 4 8 .1 2-3.1 2-14.6 4.9-8 3.5-5.2 3.6-5.3 6-1.7 4 0 4 2.3 4 5.2 4 4.7 2.4 6 2.1 6 1.1 6 .1 4-.7 4-1.6 4-3.1 2-2.7 2.1-5.6 .9-8-.7-8-2.6-10 1-2 7.3-5.2 4-4.4 3.7-6.4 1-4-.7-.9-2.3-1.1-7.7-1.8-8-.5zM349.2 593.8l-6 1.1-6 2-4 2.6-2.3 2.6-2.8 6-4.5 18-4.8 12-15.6 29.3-2 2.6-4 3.1-2 .8-4 .1-2-.5-4-2.3-4-3.7-14.1-15.4-4.7-4-6.2-4-7-3-18-5.6-16-8.3-6-2.2-4-.3-4 1.3-2.7 2.1-3.2 4-2.7 6-2.1 8-.7 6 .9 4 1.5 2 2.4 2 10.6 6.7 8 8.1 4 3.2 6 3.2 16 6.2 16 8.7 6 1.8 6 .7 14-1.5 6-.1 8 1.2 8 2 6 2.1 6 3.1 13 10.6 7 4.5 6 2 4 0 2-.5 4-2.6 2-2.7 1.3-2.7 1.5-6 2.5-20 2.5-8 5.9-12 1.4-4 .9-5.2 1-10.8 1.3-6 2.5-6 9.9-18 4.5-12 .8-4-.3-2-1.7-2.1-4-2.2-8-2.7-4-.6-6-.1-16 1.4zM445.2 558l-6 1.5-6.1 2.6-5.9 3.9-4 4.1-3.6 6-3.2 8-1.6 6 .2 4 1.1 2 4.4 4 18.7 14.2 16 13.8 18 13.3 4.4 4.7 5.6 7.8 4 4.2 2 1.2 2.8 .8 3.2-.1 2-.7 4-3 2.9-4.2 2.5-6 1.2-6 .3-8-1.1-10-2-8-2.6-6-3.2-5.1-9.7-12.9-10.3-16.4-6.2-7.6-5.8-4.2-6-2.6-8-1.6-8 .3z" fill="#6abbef" fill-rule="evenodd"/>
<path d="M47.2 462.1l133 0 .1 14 1.2 2 1 4-.5 6-7.5 22-6.1 24-2.3 6-2.9 3.5-4 1.8-15.2 .7-4.8 1.6-2 1.5-2.1 2.9-1.1 4-.2 4 .7 8-.4 2-1.3 2-2.9 2-14.7 6.6-5.5 3.4-6.2 6-3.6 6-.6 4 .4 2 1.5 2.6 3.8 3.4 6.2 3.3 6 2.3 6 1.5 8 .6 6-.6 4-1.3 4-2.4 3.1-3.4 1.9-4 1.1-4 .8-6 .6-12 1.3-6 2.7-4 11.8-14 2.7-2.6 5.6-3.4 24-10 6.4-3.2 6-4.3 9.2-8.5 4.8-2.9 6-1.8 14-1.4 6-1.2 6-2.1 16-7 20-5.1 8-3.1 4-2.6 3.2-2.8 8.8-10.7 4-4 4-2.6 5.8-2.7 .2-14 67.8 0 .2 14 16 8 4 1.3 4 .7 14-.1 6 1 5.7 3.1 10.3 8.7 6 3.3 4 1.1 4 .4 14-1 6 .4 6 2.2 12 6.9 4 1.2 4-.8 2.5-2.4 1.6-4 .4-6-.9-8-1.6-6.3-1.9-3.7-5.4-6-.1-14 153.4 0 0 234.7-6 0-2 .3-2 1-4 .2-4-.9-4-2.1-2-1.7-2.4-3.5-1.2-4-1-8-1.4-4-2-1.9-2-.9-6-1-8 .4-12 1.5-10 2.2-8 3-31.3 14.7-25.8 10-4.9 3.5-6.1 6.5-4.8 4-4 2-11.1 3.3-6 2.5-4 2.6-10 8.3-6 3.5-8 2.4-18 1.7-4 1.1-4 1.8-16 10.6-6 2.9-9.4 3.3-2.6 2 0 10-143.6 0 0-10-6.4-.6-7.3 .6 0 10-91.8 0 0-10-6.7-8-.8-2 .5-2 5.8-8 .6-2-.1-4-4.4-10-3.2-10-2-4-5-6-7.6-6.5-4-2.5-6-2.2-6-.7-12 0-6-1.5-4-2.6-20-16.4-4-2.4-4-.9-2 .8-2 2.8-3.3 14.1-2.7 6.4-14 0 0-234.4zM365.2 589.8l-25.7 4.3-6.3 2.8-3.6 3.2-2.9 6-4 18-5.4 14-8.1 15.1-6 10-2 2.5-4 3.1-4 1-2-.2-4-1.5-4-3-15.1-15-5.1-4-5.8-3.5-6-2.6-20-6.1-18-9.4-6-1.7-4 .3-2.6 1-3.4 2.5-2.8 3.5-2.9 6-3 10-1.3 6 .2 4 1.1 2 2 2 12.7 7 9.6 9 4.4 3.3 5.4 2.7 15.7 6 16.9 9.4 4 1.4 6 1.3 22 0 8 1.2 8 1.8 6 2.1 6 3.3 12.4 9.5 7.6 4.8 6 2.1 4 .2 2-.3 4-2.2 2-2.2 2-3.3 1.1-3.1 .9-4.5 1.3-15.5 1.1-6 2.6-8 5.1-10 1.9-4.9 1-5.1 1.4-14 1.8-6 2.9-6 14.9-26.3 4-4.8 4-3.6 2.4-1.3-1.6-2-4.8-1-18-5.6-6-.6-6 .9zM441.2 557.5l-6 2.2-4 2-4 2.6-4 3.6-4.4 6.2-7.6 14.2-4 5-2 2-1.8 .8 2.7 2 5.1 1.5 8 3.7 10 6.3 12 8.6 14.2 11.9 13.8 9.9 6.1 6.1 7.9 11.8 4 3.5 2 1 4 .8 4-.6 2-.9 4-3.4 2.7-4.2 2.4-6 1.4-8-.1-8-1.3-10-2-8-3.1-7.1-3.2-4.9-9.1-12-12.6-20-3.1-3.8-4-3.6-6-3.4-8-2.4-8-.7-8 1.3z" fill="#70bfeb" fill-rule="evenodd"/>
<path d="M47.2 462.1l129.5 0 .1 14 1.5 2 1.5 4-.2 6-6.4 21.4-5.5 20.6-2.5 6.5-2.7 3.5-3.3 2.3-4 1-12 1.3-4 1.3-3.1 2.1-1.7 2-1.7 4-1.2 12-1.3 4-1.8 2-3.1 2-12.1 6-6.1 4-4.4 4-3.3 4-3.2 6-.5 4 .3 2 1 2 1.7 2 2.8 2 5.7 2.7 8 2.9 6 1.4 8 .8 6-.3 6-1.3 4.5-2.2 3.5-3.2 1.7-2.8 1.5-4 3.1-20 2-6 2.6-4 9.5-12 6.2-6 10.1-6 18.2-8 5.1-2.7 4.7-3.3 9.3-8.5 5.7-3.5 6.3-1.6 12-1.4 6-1.2 6-2.1 16-7.2 22-5.8 8-3.5 6.4-5.2 8.1-10 3.5-3.6 4-2.8 7.9-3.6 .3-14 64.2 0 .2 14 5.4 2.3 12 6.3 4 1.4 4 .7 14 .3 5.6 1 2.4 1 4 2.7 10 8.5 6 3.2 4 1 4 .4 14-.8 6 .6 6 2.5 12 7.4 4 1.3 2 .1 4-1.1 2.8-2.8 1.6-4 .3-6-1-10-1.7-8-2.1-4-4.9-4-.1-14 151.1 0 0 230-8 .4-2.2 1.6-3.8 .9-4-.9-2-1.1-2-2-1.5-2.9-.8-4-.1-8-1.1-4-2.5-2.6-3.3-1.4-6.7-.5-8 .7-18 2.7-10 2.5-10 4.1-28.6 14.5-23.4 8.7-4.8 3.3-7.2 8-4 3.2-4 1.9-12 3.7-4 1.8-4 2.5-10 8.4-6 3.7-8 2.4-16 1.5-6 1.4-6 3-10 6.9-6 3.6-4 1.7-10 3.1-2.1 1.2-1.7 2 0 10-38.9 0 0-10-1.3 0-.2 10-99.5 0 0-10-8.3-.9-8.7 .9 0 10-89.9 0 0-10-5.8-8-.5-2 .5-2 5.3-8 .6-2-.3-4-4.7-10-3.3-10-2-4-5.2-6.3-8-6.9-4-2.5-6-2.2-6-.7-12-.3-6-1.8-4-2.8-22-18.5-4-2.2-2-.6-2 .1-2 1.4-.7 1.3-1.3 4.7-1.7 11.3-2.3 6.6-14 0 0-232.6zM443.2 555.7l-10 3.5-8 4.9-5.7 6-8.8 14-3.5 3.5-4 2.1-4 1-6-.3-6-1.4-10-3.7-4-.4-16 4.4-18 3.2-4.9 1.6-3.6 2-3.5 3.7-2 4.2-4 20.1-2 6-3.5 8-10.5 18.4-4 5.3-4 3-4 1-2-.2-4-1.6-4-2.9-16-14.4-4-2.8-6-3.3-6.6-2.5-17.4-5-6-2.6-14-7.6-4-1.5-4-.6-4 .8-4 2.4-2.2 2.1-2.7 4-2.7 6-5 16-.3 4 .7 2 1.6 2 2.8 2 9.8 4.5 4 2.3 10 9 3.2 2.2 4.8 2.4 16 6 18 10.2 4 1.5 6 1.4 22 1.2 8 1.2 8 1.8 4 1.3 6 2.9 16 11.5 8 4.6 6 1.7 4-.2 2-.7 2-1.2 3.4-3.6 2.9-6 1-6 1.1-16 1-6 2-6 5.9-12 1.6-4 1.2-6 1.4-14 1.8-6 3-6 13.7-22.2 4-4.2 4-2.4 4-1.2 4-.4 8 1.4 8 3.7 12 7.3 6 4.3 12 9.8 16.1 11.9 5.3 6 7.4 12 1.9 2 3.3 2.2 6 1.4 6-1 4.2-2.6 3.8-5.1 2.2-4.9 1.5-6 .6-6-.2-6-1.3-10-1.8-8-2.1-6-3.2-6-11.7-15.5-12-19.5-6-6.7-6-3.8-8-2.8-8-1-8 .9z" fill="#76c2e6" fill-rule="evenodd"/>
<path d="M47.2 462.1l125.1 0 .1 14 2.3 2 1.3 2 1.2 4-.1 4-1.1 6-8.1 30-3.6 10-3.1 4.1-4 2.6-16 3-4 1.8-2 1.5-2 2.3-1.3 2.7-1.1 4-1.6 10-2.1 4-3.9 3.1-12 6.4-6.5 4.5-7.9 8-2.8 4-1.8 4-.6 4 .9 4 1.5 2 3.2 2.5 6 2.7 12 3.6 6 1 6 .3 8-.4 7.9-1.7 4.2-2 3.9-3.6 1.4-2.4 1.5-4 3.1-18 2.8-8 3.9-6 7.6-10 3.6-4 4.5-4 9.8-6 21.5-10 5.5-4 8.8-8 4-2.4 6-1.8 12-1.6 6-1.3 6-2.1 18-8.1 20-5.2 8-3.4 6-4.5 10-12 4-3.6 4-2.5 8.2-3.5 .2-14 60.4 0 .3 14 5.1 2 13.8 7.2 4 1.4 4 .8 12 .4 6 .9 6 2.9 12 10.1 6 3 6 1.2 16-.5 6 .9 6 2.8 12 7.7 3.5 1.2 2.5 .3 4-.6 3.1-1.7 1.7-2 1.1-2 .9-4-.1-8-2.7-22.3-2.1-3.7 0-12 144.1 0 0 226.1-8 .2-4 2.2-2 .2-2.6-.7-2.2-2-.9-2-.8-12-1.2-4-1.6-2-2.7-1.8-4-1.1-6-.2-8 .8-24 4.1-10 2.5-10 4.2-19.9 11.5-8.1 4-22 7.6-4 2.9-6.2 7.5-4.4 4-4 2-11.4 3.5-4 1.8-4 2.5-10 8.5-6 3.8-8 2.6-16 1.5-6 1.4-6 3-10 6.9-6 3.5-4 1.8-12 3.4-2.4 1.8-1.1 2 0 10-28.7 0 0-10-3.8-1-6-.3-4 .2-5.3 1.1 0 10-88.6 0 0-10-10.1-1.2-6 .4-3.9 .8 0 10-88.2 0 0-10-3.9-6-1-2-.3-2 .5-2 5-8 .4-2-.4-4-4.9-10-3.5-10-2-4-5.8-6.9-8-6.9-4-2.5-6-2.2-6-.8-10-.3-6-1.4-6-3.9-24-20.9-4-2-2-.4-2 .4-1.8 1.8-.7 2-1.7 16-1.8 6.6-14 0 0-230.6zM445.2 553.9l-10 3-6 3-4 2.6-5.9 5.6-10.1 14.2-2 1.8-4 2.4-4 1.1-6-.1-6-1.6-10-4.5-4-.5-4 1.4-10 4.5-6 1.6-16 2.9-4 1.3-4 2.2-3.4 3.3-2.1 4-1.1 4-2.4 16-1.8 6-3.3 8-3.9 7.4-6 9.5-4 5-4 3-4 1-2-.2-4-1.6-4-2.8-14-11.8-5.2-3.5-4.8-2.6-8-2.9-18-5-6-2.6-14-7.8-4-1.6-4-.7-4 .6-4 2-3 2.6-3 4-2.8 6-6.4 18-.6 4 .4 2 1.2 2 2.3 2 3.9 2 8 3.2 6 3.4 8.5 7.4 3.5 2.5 6 2.9 16 6 18 10.4 6 2.2 4 .9 26 2.6 8 1.4 6 1.7 8 3.7 16 11.2 8 4.7 6 2 4 0 2-.6 4-2.6 2-2.2 2-3.3 1.4-3.5 1.1-6 .7-16 .8-6 2.5-8 6-12 1.5-4 1.2-6 1.3-14 1.9-6 4.3-8 11.3-17.1 4-4.1 4-2.4 4-1.2 4-.4 4 .3 4 1 10 4.4 12 7.1 16 12.4 11.2 8 4.7 4 3.3 4 8.4 14 2.4 2.3 2.6 1.7 3.4 1.2 4 .7 6-.6 3.4-1.3 2.6-1.9 4-5.6 2-4.7 1.6-5.8 .6-6-.3-6-1.4-10-2.2-10-2.1-6-3-6-12.1-16-12.1-20-5-6-6-4.2-8-3-8-1.4-8 .4z" fill="#7bc4de" fill-rule="evenodd"/>
<path d="M47.2 462.1l119.6 0 .2 14 3.2 2 3 3.4 1 2.6 .4 4-1 8-5.4 22-2.3 8-2.7 6.4-2.6 3.6-3.4 2.5-4 1.5-12 2.5-4 1.6-2.8 1.9-1.8 2-2 4-2.8 12-2.6 5-4 3.4-14 8-7.1 5.6-7.4 8-2.8 4-1.8 4-.9 4 .4 4 1.6 3.1 2 2 6 3.5 10 4.2 4 1 4 .1 16-1.2 10-1.5 6-2 4.8-3.2 1.6-2 1.9-4 3.5-20 3-8 3.7-6 8.8-12 3.6-4 5.1-4.4 8-5 16-7.1 6-3.2 4-2.9 8.2-7.4 5.8-3.5 4-1.2 14-2.3 6-1.5 22-9.9 20-5.3 8-3.2 6.7-5.1 9.3-11 4-3.9 5-3.1 9.5-4 .3-14 56.3 0 0 12 .4 2 6.5 2.5 12 6.4 8 2.9 14 1 6 1.1 6 3.2 10 8.7 6 3.6 4 1.3 4 .6 14-.4 6 .5 6 2.4 14 9.1 6 1.6 4-.4 4-1.6 2.7-2.5 1.9-4 .6-4-.1-4-1.5-14-.1-6 .9-4 1.3-2 2.7-2 .2-14 133.4 0 0 222.5-10 .5-2-.1-1.7-.9-1.3-2-2.2-10-1.7-4-3.1-3.1-2-1.1-4-1.1-6-.3-8 .8-30 5.3-10 2.6-6 2.4-6 3.1-14.1 9.4-7.1 4-8.8 3.5-12 3-4 1.5-4 3.2-4.8 6.8-3.7 4-3.5 2.2-12 4-6 2.9-12 10-6 4-4 1.6-4 1.1-16 1.6-6 1.4-6 2.9-16 10.4-6 2.3-8 1.7-4 1.4-2.7 2.5-.6 2 0 10-23 0 0-10-5.7-2.1-8-.6-8 .7-6.3 2 0 10-81.9 0 0-10-5.8-1.1-6-.4-6 .4-4.9 1.1 0 10-86.7 0 0-10-3.3-6-.8-2-.1-2 .7-2 3.1-4.8 1.5-3.2 .3-2-.6-4-5.2-10.2-3.6-9.8-2.1-4-6.3-7.6-8-6.8-4-2.6-6-2.2-6-.9-10-.4-6-1.6-4-2.6-8.9-7.3-17.1-16.5-4-2.4-2-.6-2-.2-2 .6-2.1 3.1-.5 4-.1 12-1.3 8.1-14 0 0-228.1zM449.2 552.1l-6 .9-6 1.8-6 2.6-6 3.5-6 5.2-10.8 14-3.2 2.6-4 1.8-4 .7-6-.7-4-1.5-10-5.1-4-.5-4 1.5-6 3.8-6 2.8-6 1.8-16 2.9-4 1.3-4 2.3-3.9 4.3-1.7 4-2.9 20-1.8 6-2.5 6-3.2 6.3-6 9.3-4 4.8-4 2.9-4 .9-4-.8-6-3.6-14-10.9-8-4.5-8-3-20-5.4-6-2.7-14-7.9-4-1.6-4-.9-4 .4-4 1.6-4 3.1-3.1 4-2.1 4-4.8 13.5-3.8 8.5-.8 4 .4 2 1 2 3.2 2.8 4 2.1 10 3.8 4 2.1 10 8.2 4 2.7 5.1 2.3 10.9 3.7 5.4 2.3 18.6 10.9 6 2.3 6 1.4 28 3.6 10 2.5 6 2.7 4 2.3 16 11.2 6 3.6 6 2.3 4 .2 2-.4 4-2.3 2-2 2.8-4.3 1.7-4 1.2-6 .3-16 1-8 2.5-8 6.1-12 1.5-4 1.1-6 1-12 .8-4 1.5-4 4.5-8.1 10-14.4 4-4.1 4-2.4 4-1.2 4-.3 8 1.2 10 4.3 12 6.8 29.6 22.2 4.8 6 5.3 10 2.3 3.3 2.8 2.7 3.2 1.9 4 1.4 4 .6 4 .1 4-.6 3.7-1.4 2.3-1.8 3.1-4.2 2.7-6 1.7-6 .7-6-.1-4-1.5-10-3-14-2-6-3-6-12.6-16.6-12-20.4-2.1-3-3.8-4-6.1-3.9-6-2.3-8-1.7-6-.1z" fill="#80c6d5" fill-rule="evenodd"/>
<path d="M47.2 462.1l114.1 0 .1 14 6.6 4 1.9 2 1.3 2.5 .8 3.5 .1 4-1.9 12-5 19.9-2 5.2-2 3.5-2 2.3-4 2.7-16 4.3-4 2.1-2 1.6-3 4.4-4.1 14-2.3 4-4.7 4-13.7 8-7.6 6-9.4 10-2.7 4-1.9 4-1 4 0 4 .4 2 2 3.6 8.1 8.4 5.9 8 4 2.4 4 .6 4-.8 2-1 6.9-5.2 3.6-2 6.4-2 17.1-3.6 4-1.7 3.5-2.7 1.5-2 1.7-4 2.5-18 1.6-6 1.8-4 3.5-6 8.3-12 5.1-6 4.6-4 7.9-4.9 20-9.1 5.7-4 8.3-7.3 4.6-2.7 5.4-1.7 12-2.1 6-1.6 22-10.1 22-6 8-3.6 5.9-4.9 8.4-10 4.1-4 6.6-4 10-4 .3-14 51.9 0 0 12 .4 2 8.4 3 12 6.5 6 2.5 6 1.1 12 1 6 1.9 4 2.7 10 8.7 6 3.5 4 1.2 4 .5 14-.2 6 .6 6 2.7 10 7 4 2.1 4 1.3 4 .3 4-.6 4.1-1.8 2.3-2 2.2-4 .8-4 0-4-1.5-14 0-6 .9-4 1.2-2 2-2 3-2 .2-14 128.8 0 0 219-8 0-2-1-2-2.4-3.6-9.6-2.4-3.5-4-2.8-6-1.4-6-.1-8 .9-34 5.9-10 2.6-5.8 2.4-4.2 2.3-15.7 11.7-7.3 4-7 2.5-14 2.2-3.3 1.3-2.7 2.7-3.9 7.3-4.1 4.9-4 2.4-10 3.5-6 3-12 10.2-6 4-4 1.8-4 1.1-16 1.7-6 1.4-6 2.8-12 8.2-6 3.1-4 1.4-10 1.7-4 1.2-2.2 1.6-1 2 0 12-17.6 0 0-10-1.2-1.2-2-1.1-4-1-12-.9-6 .4-4 .8-7.2 3 0 10-75.3 0 0-10-7.5-1.5-6-.3-6 .4-5.9 1.4 0 10-85.2 0 0-10-2.8-6-.5-2 .1-2 4.5-8 .6-2 0-4-1.4-4-5.4-10-3.9-10-2.6-4-5.3-6-8.2-7-6-3.6-6-1.7-16-1.4-5.2-2.3-12.4-10-6-6-8.4-9.6-6-4.5-4-1.3-2-.2-2 .4-2 1.8-14 0 0-198.6zM443.2 551.6l-10 3.5-10 5.7-5.9 5.3-10.1 12.5-2 1.5-4 2-4 .8-6-.9-4-1.6-10-5.6-4-.5-4 1.5-8 5.7-6 3-6 1.7-16 2.9-4 1.4-2.8 1.6-4.2 4-2.1 4-1.3 6-1.7 16-1.8 6-2.1 5.1-4 7.4-4 5.9-4 4.6-4 2.8-4 .8-4-.7-6-3.4-12-8.7-8-4.5-8.9-3.3-21.1-5.5-6-2.7-16-9-4-1.4-4-.4-4 .7-4 1.9-3 2.4-3.4 4-3.1 6-4.5 12.8-4.5 9.2-.7 4 .4 2 .9 2 1.8 2 2.7 2 17.4 7.1 4 2.6 10.6 8.3 5.4 2.5 16 5.7 20 11.8 6 2.4 6 1.6 30 4.5 8 2.2 10 5 16 11.3 8 4.9 6 2 4-.1 2-.8 3.8-3 2.2-2.7 2-3.3 2-5.3 1-6.7 0-16 .9-8 2.7-8 5.4-10.5 2.1-5.5 1.1-6 1.1-12 1.5-6 4.1-8 8.1-11.6 6-6.6 4-2.5 4-1.2 4-.3 8 1.3 10 4.1 12 6.7 28 20.8 4.4 5.3 7.7 14 3.9 3.8 4 2.1 8 1.9 6 .3 4-.4 4-1.3 2-1.5 3.4-4.9 2.4-6 1.8-6 .8-6-.1-4-1.2-8-4.2-18-2.8-8-3.2-6-12.9-16.6-12.2-21.4-3.3-4-2.3-2-6.2-3.6-10-3.2-8-.8-8 1.1zM47.2 676.1l0-1.3 14 0 0 10.8-14 0 0-9.5z" fill="#84c7cc" fill-rule="evenodd"/>
<path d="M47.2 462.1l109.9 0 .1 14 8.5 6 1.8 2 1.7 3.6 .6 4.4-.1 4-2.2 14-3.7 14-1.6 4-2.5 4-2.5 2.5-4 2.3-14 4-6 3.4-2 2.1-2 3.3-4 12.5-1.9 3.9-1.6 2-4.5 3.6-14.1 8.4-7.4 6-10 10-3 4-2.2 4-1.4 4-.6 6 .8 4 1.9 3.5 10 12.5 4 3.9 4.1 2.1 5.9 .9 4-.3 4-1.1 3.4-1.5 8.6-5.8 4-2.1 6-2 16-3.6 4-1.9 2-1.5 2.4-3.1 1.2-4 1.5-18 .9-4.2 2.2-5.8 4.6-8 7.9-12 5.1-6 4.6-4 7.6-4.6 16-6.9 4.8-2.5 5.2-3.8 7.1-6.2 4.9-2.8 4-1.4 12-2.4 6-1.6 22-10.4 22-6 8-3.5 6-4.7 9.5-11.2 4.4-4 7.3-4 10.5-4 .3-14 46.8 0 0 12 .5 2 8.7 2.7 14 7.5 6 2.5 6 1.2 10 1 6 1.6 5.7 3.5 10.3 9.1 6 3.3 6 1.4 16 0 6 .9 6 2.9 12 8.2 6 2.1 4 .3 4-.5 5-1.7 3-2.2 2.6-3.8 1-4 .2-4-1.6-16 .3-6 1.5-3.9 1.8-2.1 6.2-4 .2-14 123.8 0 0 215.5-8-.2-2.4-3.3-3.4-8-2.2-3.3-4-2.9-6-1.6-6-.3-8 .8-18 3.4-20 2.8-12.1 3.1-4.8 2-5.1 3-12.6 11-5.4 3.5-4 1.8-4 1.3-6 .9-14-1.3-2 .8-1.3 3-1.1 6-1.3 4-2.3 4-2 1.9-3.4 2.1-10.6 4.2-4 2.2-13.5 11.6-6.4 4-8.1 2.4-14 1.4-6 1.4-6 2.7-12 8.2-6 3.1-6 1.7-12 1.5-4.6 1.6-1.6 2 0 2 .7 2 0 10-11.7 0 0-10-.7-2-2.1-1.6-8-1.6-16-.8-8 1.1-10.5 4.9 0 10-68.4 0 0-10-7.1-1.6-8-.5-6 .4-6.8 1.7 0 10-83.8 0 0-10-2.2-6-.3-2 1.1-3.7 3.7-6.3 .5-2-.3-4-1.6-4-5.6-10-4-10-2.6-4-3.3-4-8.8-8.1-4-2.9-4-2.3-6-1.8-12-.9-4-.7-6-3-12.2-10.3-5.5-6-8.3-10.8-2-1.9-4-2.8-10-4.7-14 0 0-189.8zM445.2 549.7l-6 1.7-6 2.4-10 5.4-5.9 4.9-10.1 11.9-2.6 2.1-3.4 1.8-4 .8-6-1-4-1.8-8-5-4-1.3-2-.1-4 1.4-9.3 7.2-6.7 3.4-6 1.6-14 2.3-4 1.2-4 2.1-4 3.5-2 3.1-1.2 2.8-1.1 6-1.1 14-1.5 6-2.3 6-2.8 5.3-4 5.9-4 4.5-4 2.6-4 .9-4-.8-6-3.1-12-8-8-4-8-2.7-16-3.7-6-1.9-6-2.7-16-9.2-6-1.9-4 0-4 1-4 2.1-4.2 3.7-3 4-2 4-5 14-5 10-.6 4 .5 2 2.6 4 4.7 3.2 16 6.3 4 2.3 12 9 6 2.7 10 3.1 6 2.5 6 3.3 10 6.5 6 3.1 6 2.1 8 2 26 4.2 8 2.2 10 5.1 18 12.9 8 5 6 2 4-.8 4-3 2.9-3.7 3.1-5.9 1.3-4.1 .9-6-.3-18 .9-8 1.9-6 6.1-12 2.3-6 1.1-6 1.1-12 1.6-6 4.2-8 6.9-9.6 6-6.5 4-2.5 6-1.5 4 .1 4 .7 12 4.7 12 6.5 22.3 16.1 4.7 4 4.6 6 5.2 10 2.7 4 2.5 2.5 4 2.4 8 2.3 14 1.3 4-.4 2-.9 2.5-3.2 3.1-8 2.3-8 1-6 0-4-1.4-8-5.3-20-1.9-6-2.7-6-4-6-11.1-14-10.8-20-2.9-4-2.8-2.8-6-3.7-10-3.4-8-1.2-8 .7z" fill="#87c8c2" fill-rule="evenodd"/>
<path d="M47.2 462.1l106.7 0 0 14 1.3 1.8 2 1.7 6.3 4.5 1.8 2 1.8 4 .6 4 0 4-1.6 12-3 12-1.9 4.9-2 3.3-2 2.3-4 2.8-14.8 4.7-3.2 1.5-3.3 2.5-3 4-5 14-2.7 4.4-4 3.6-14 8.4-9.7 7.6-8.5 8-3.6 4-2.7 4-2 4-1.5 4.7-.5 5.3 .6 4 3 6 8.1 10 4.1 4 4.7 2.3 8 1.1 6-.4 4.6-1 5.1-2 10.3-6 4-1.9 6-1.7 14-2.8 4.4-1.6 3.6-2.5 2-2.5 1.2-3 .3-4-.5-10 .2-6 .8-4.6 1.9-5.4 5.4-10 7.5-12 5.1-6 4.7-4 7.4-4.3 14-5.7 6-3 4.3-3 7.7-6.5 6-3.4 20-5.2 22.8-10.9 21.2-5.8 8-3.3 6.4-4.9 9.6-11.2 4-3.7 8-4.4 12.9-4.7 .3-14 40.7 0 0 12 .6 2 5.5 1.2 6 2.1 14 7.6 6 2.5 6 1.4 10 1.2 6 1.8 4 2.5 12 10.6 6 3 6 1.3 16 .2 6 1 4 1.9 10 7 4 2.3 4 1.5 6 .7 6-.7 4-1.3 4-2.6 2.5-3.2 1.4-4 .4-4-1.5-16 .3-6 .9-3 2.1-3 10-6 .1-14 117.8 0 0 211.9-6 0-2-.5-5.4-11.4-2.6-2.9-2-1.2-4-1.4-4-.6-10 .2-22.6 3.9-21.4 2.8-10 2.2-6 2-6 3.2-4 3.3-8.1 8.5-3.9 2.9-4 2.2-4 1.3-6 .5-4-.7-4-1.8-3.3-2.4-4-4-1.3-2-1.4-4-.1-6 3.5-16 .2-8-1.3-6-7.9-26-2.3-6-2.1-4-2.7-4-11.4-14-4.7-8-6.9-14-2.3-3.4-2.6-2.6-5.4-3.5-10-3.6-8-1.5-8 .3-6 1.5-6 2.3-12.6 6.5-7.3 6-8.7 10-5.4 3.6-4 .9-4-.5-4-1.6-10-6.1-4-1.2-2-.1-3.4 1-2.6 1.5-8 6.8-6 3.4-6 1.8-16 2.6-4 1.4-4 2.3-4.3 4.2-2.9 6-.9 6-1 14-.9 4.2-2.1 5.8-2 4-3.9 6-4 4.4-4 2.6-4 .8-4-.7-4-1.7-12.1-7.4-7.9-3.8-8-2.8-18-4-6-1.8-6-2.8-16-9.3-6-2.1-4-.3-4.3 .9-5.7 2.8-5.8 5.2-2.8 4-2.6 6-3.1 10-5.7 12-.3 4 .6 2 2.7 4 5.7 4 17.3 6.7 4 2.4 8 6.3 4 2.5 22 8 16 10 6 3.1 8 2.9 10 2.6 26 4.5 8 3 10 6.1 22 16.6 4 2.4 4 1 2-.4 2-1.3 4-4.6 4-6.8 2-5.1 1.2-5.9 .3-4-.7-16 .5-8 2.4-8 6.1-12 2.2-5.7 1.1-6.3 1.2-12 .9-4 1.7-4 7.1-11.1 4-4.9 4-4 4-2.6 4-1.2 4-.3 4 .4 8 2.5 14 6.6 8 5.2 18.4 13.4 5.9 6 2.5 4 5.2 10 3 4 3 2.5 4 2.2 4 1.3 18.4 4 3.6 1.7 2 1.6 1.7 2.7 .7 2 1.8 12-.9 6-1.1 2-2.2 2.5-4 2.6-12 5.8-14 12.4-6 3.8-4 1.5-4 1-16 1.8-6 1.7-5.5 2.9-12.5 8.4-6 2.7-6 1.1-14 .7-12 1.8-16 0-16-1.6-4 .2-2 .7-9.6 6-4.4 2 0 10-61.1 0 0-10-8.9-2-8-.5-8 .8-5.7 1.7 0 10-82.4 0 0-10-1.6-6-.1-2 .6-2 3.8-6 .8-2 .2-4-1.3-4-6.3-11-4.7-11-2.6-4-3.3-4-9.4-8.7-4-3-4-2.2-6-1.9-14-1.4-4-1.3-4-2.4-8.6-7.1-5.9-6-3.1-4-8.4-12.6-4-3.4-8-5-4-4-14 0 0-183z" fill="#89c7b5" fill-rule="evenodd"/>
<path d="M47.2 462.1l103.8 0 0 14 .6 2 1.6 2.1 8.3 5.9 1.7 2 1.9 4 .8 8-1.5 12-3.2 11.7-3.6 6.3-2.4 2.3-2.5 1.7-15.5 5.4-4 2.3-2 1.7-3.3 4.6-4.7 12.4-3.4 5.6-4.7 4-15.9 9.7-7.8 6.3-8.8 8-3.7 4-2.9 4-2 4-2.4 8-.3 6 1.6 6 2.2 4 6.1 8.1 4 4.2 3.1 1.7 2.9 .8 8 .7 8-.4 6.6-1.1 6.1-2 15.3-7.2 6-1.6 18-3 5.6-2.2 3.4-2 2.1-2 .7-2-.1-2-2.7-10-1.1-6-.1-6 1.2-6 2.4-6 7.5-14 3.8-6 5.3-6.2 4.8-3.8 5.2-3 21.2-9 4.8-3.3 8-6.5 4-2.3 5.4-1.9 14.6-3.9 6-2.6 16-8.2 6-2.1 18-4.7 8-3.8 5.7-4.7 8.4-10 5.9-5.1 4-2.3 6-2.5 12.8-4.1 .4-2 0-12 32.4 0 0 12 .9 2 7.5 1.2 6 1.8 6 2.8 10 5.7 6 2.6 4 1.1 12 2 4 1.2 6 3.5 10 9.4 6 3.6 4 1.2 4 .6 14 .1 6 .8 6 2.6 10 7.1 4 2.1 4 1.3 6 .6 6-.6 6-1.7 4-2.3 2.5-2.7 1.7-4 .9-6-1.2-14 .1-4.6 .9-3.4 1.1-1.9 2-1.6 4-1.3 4 .3 2 1 6 4.8 4 1.1 4-1 2.4-1.4 2-2 .9-2-.5-2-.8-.6-3.5-1.4-8.5-1.6-2-1-1.2-1.4 0-14 111.2 0 0 207.7-6 0-2-.7-4-9.5-2-2.3-2-1.3-4-1.5-4-.6-12 .3-24 3.8-22 2.7-14 3.1-6 2.3-4 2.4-3.8 3.6-6.6 8-5.6 4.2-4 1.5-4 .3-2-.3-3.9-1.7-2.6-2-3.3-4-2.9-6-.6-6 2.3-14-.3-8-1.7-6-5-12.7-4.8-15.3-2.5-6-2.3-4-14.4-18-4.4-8-6.4-14-2.9-4-2.2-2-6.1-3.5-10-3.4-8-1.5-8 .5-4 1-8 3.1-8 3.7-6 3.5-5.9 4.6-10.1 10.9-4 2.5-4 1-4-.6-4-1.7-10-6.1-4-1.1-2-.1-4 1.1-2 1.1-10 8.6-6 3.3-6 1.5-14 2.1-4 1.2-4 2.1-4.9 4.2-3.6 6-1.3 6-1 16-1.2 4.9-2 5.1-2.2 4-3.8 5.2-4 3.4-4 1.7-4 .1-4-1.2-14-7.5-10-4.2-8-2.2-16-3.3-6-1.9-6-2.8-16-9.5-6-2.3-4-.4-6 1.1-6 2.8-6.7 5-6.6 6-1.2 4-.4 6-1.2 6-3.5 8-1.3 4 .1 4 .7 2 2.8 4 2.4 2 6.9 3.7 10 3.6 6 2.6 4 2.6 8 6.2 4 2.3 4 1.6 12 3.6 6 2.6 16 10.1 8 4 8 2.8 12 3.2 22 3.7 8 3.1 6 3.4 6 4.3 15.2 12.6 7.7 8 1 2 .4 2-1.5 4-1.7 2-5.6 4-4.9 2 0 10-53.8 0 0-10-8.8-2.1-10-.7-8 .8-6.5 2 0 10-81 0 0-10-.9-4 .1-4 .8-2 4.2-6 .6-2-.3-4-2.6-6-6.1-10-4.4-10-4.2-6-5.7-6-6-5.3-4-3-4-2.4-6-1.8-12-1.2-4-1-4-2-4-2.9-7.3-6.4-5.3-6-3.8-6-5.6-11.6-2-2.4-10-6.8-6-5.5-14 0 0-177.7zM403.7 618.1l3.5-.2 6 .9 6 2 10 4.4 10 6 17.9 12.9 4.5 4 3.3 4 7.7 14 4.6 5 4 2.5 4 1.5 16 4.3 4 2.1 2 1.8 2 2.9 2 5.9 1 6-.3 4-1.9 4-2 2-12.8 7.4-4 3.2-9.8 9.4-6 4-4.2 1.8-4 1-16 1.8-6 1.7-6 3.2-12 8-6 2.6-8 1.2-18-.8-18 2.1-6-.1-6-1.1-4-1.4-2.9-2-.9-2 0-2 1.3-4 4.5-10.3 2.2-7.7 .6-8-1.1-18 .5-6 1-4 2.4-6 6.8-14 1.4-6 1.5-14 1-4 1.7-4 6-9.2 6-7 6-4.5 4.5-1.3z" fill="#8ac6a6" fill-rule="evenodd"/>
<path d="M47.2 462.1l101 0-.3 16 .6 2 1.8 2 8.9 5.6 2 2.2 2 4.1 .8 4.1-.3 10-1.9 10-2.6 7-3.5 5-4.5 3.3-14 5.1-5.9 3.6-4.1 5.3-5 12.7-2.4 4-1.7 2-4.9 3.8-10.6 6.2-8.5 6-13.9 12-5.3 6-3.4 6-2.5 8-1.1 8 .7 12-1.4 1.7-6-.9-14 0 0-172.8zM359 462.1l15.5 0 0 12 3 2 11.7 1 8 1.9 6 2.5 12 6.8 6 2.7 14.5 3.1 5.5 1.8 6 3.9 10 9.6 6 3.4 4 1.1 4 .5 14 .1 6 .9 5.7 2.7 8.3 6.1 4 2.2 6 1.9 6 .5 6-.4 6-1.3 4-1.6 4.5-3.4 2.3-4 1-4 1-16 1.2-4.1 2-1.3 2 .1 6 2.1 4 .8 6-.6 6.4-3 3.6-2.8 2.9-3.2 2-4 .1-2-1.4-2-3.6-1-9.1-1-.7-2 0-12 101.8 0 0 202.3-6 0-2-1.1-1.9-5.2-1.2-2-2.1-2-2.8-1.3-4-.9-6-.3-14 .9-20 3.2-26 3-15.1 3.4-5.3 2-5.6 3.6-2.3 2.4-5.7 8-2.4 2-3.6 1.7-2 .3-4-1.1-4-3.6-2.8-5.3-1.2-6 1.2-14-1-8-1.3-4-6.9-14.6-6-17.4-2.8-6-3.2-4.9-9.6-11.1-4.2-6-4.1-8-4.9-12-3.9-6-3.3-2.7-6-3-10-3.2-6-1.2-6-.2-6 1.1-10 4-10 4.8-8 4.9-4 3.5-8 8.4-2 1.6-4 1.9-2 .3-4-.6-14-7.8-4-1-4 .3-2.6 .9-3.3 2-8.8 8-5.3 3.2-6 1.7-16 2.5-6 2.4-6 4.8-2.5 3.4-1.9 4-1.3 6-.9 16-1.4 5.3-2 4.6-2.6 4.1-3.4 3.9-2 1.5-4 1.6-4 .2-4-1.1-14-6.7-10-3.7-22-4.7-8-2.4-6-2.7-16-9.8-6-2.4-4-.5-6 .6-4 1.2-10 4.6-2 .4-2-.2-2-1.1-2-2.1-2.2-4.6-1.1-6 .1-4 1.5-6 6.4-14 4.4-8 4.6-6 4.3-3.9 8-4.9 20-8 5-3.2 7.4-6 5.6-3.2 20-6.2 16.3-8.6 5.7-2.6 22-6 7.7-3.4 6.3-4.9 10-11.7 6-4.6 5.7-2.8 8.3-3 6-1.8 6.8-1.2 1-2 0-12zM402.8 620.1l4.4-.4 6 .9 6 2 8 3.5 10 5.6 18 12.8 4.2 3.6 3.5 4 8.3 14.5 4.8 5.5 3.2 2.2 4 1.8 14.2 4 4.1 2 2.5 2 2.9 4 1.4 4 .9 6-.5 4-.8 2-2.7 3.1-12 8.2-10.8 10.7-7.2 5.1-4 1.8-4 1-16 1.9-6 1.7-5 2.5-11 7.4-6 3.1-4 1.2-4 .5-6-.2-16-1.9-16 2.1-4 0-4-.7-3.5-1.5-2.2-2-.9-2-.2-2 .6-4 3.3-12 .9-6 0-6-1.4-16 .2-6 .7-4 2.1-6 6.1-12 1.6-4 1.4-6 1.7-14 1-4 1.8-4 4.8-7.4 6-6.9 4-3.4 5.6-2.3zM143.9 636.1l15.3-.7 4 .3 2 .7 1.7 1.7 .6 2-.4 4-1.6 6 0 4 1.3 4 3 4 5.4 4 4 2 12 4.3 6 2.8 14 9.9 6 2.5 10 2.9 6 2.2 6 3.3 14 9.2 8 3.6 18 5.7 22 3.8 6 2.2 6 3.2 11.4 8.4 6.7 6 5.6 6 2.6 4 .8 2 0 4-.8 2-1.4 2-2.3 2-3.5 2-5.8 2 0 10-46.2 0 0-10-9.1-2.2-10-.9-10 .8-7.3 2.3 0 10-79.7 0-.4-16 1.4-3.5 5.3-6.5 .3-2-1.9-6-7.7-12.3-6.8-13.7-3.2-4.3-5.4-5.7-6.6-5.9-6-4.4-4-1.9-4-1.1-12-1.4-4-1-4-2.1-4-3-7.8-7.2-4.7-6-3-6-1.9-8 .2-4 1.2-2 2-1 26-3.2 6.7-1.8 15.3-6.1 8.7-1.9z" fill="#8cc497" fill-rule="evenodd"/>
<path d="M47.2 462.1l98.1 0-.1 14-1.5 4 .8 2 2.4 2 8.1 4 2.8 2 2.9 4 1.6 6 0 8-1.3 8-1.8 6-3.4 6-4.8 4-4.3 2-9.5 3.3-6 3.5-4.3 5.2-5.9 14-3.8 5.3-4 3.2-12.8 7.5-5.7 4-12.4 10-6.5 6-3.2 4-3.3 6-2.1 6-3.6 14-1.1 2-1.3 1.3-14 0 0-167.3zM589.2 462.1l80 0 0 193.6-6 0-2-1-2-3.1-4-1.8-10-.7-16 1.1-22 3.2-22 2.4-18 3.1-11 3.2-4.2 2-2.8 2-6 6.2-2 .3-2-1.8-1.7-4.7-1.8-14-2.1-8-2.8-6-7.6-13.1-8.1-20.9-3.9-6.5-10-11.5-5.6-8-2.9-6-5.1-14-2.2-4-3.9-4-4.3-2.4-12-4-8-1.8-6-.1-6 1.3-20 9.2-9.6 5.8-12.4 11.5-4 2.1-2 .3-4-.7-10-5.7-4-1.8-4-.8-4 .2-2.8 .9-3.2 1.8-10 9.1-5.2 3.1-6.8 1.8-14 1.9-4 1.3-4 2.1-6 5.3-2.5 3.6-1.8 4-1.2 6-1 16-1.1 4-1.7 4-2.5 4-2.2 2.5-2 1.6-4 1.7-2 .3-4-.4-4-1.3-12-5.2-8-2.7-24-5-6-1.6-8-3.5-14-8.8-8-3.7-4-.7-6 .2-14 3.2-2-.4-2-1.1-2-2.2-1.3-2.9-.8-4 .7-6 1.9-6 4.2-10 5.5-10 3.3-4 4.5-4 8-4.5 15.2-5.5 4.4-2 4.4-2.7 8-6.3 5.3-3 18.7-6.2 18-9.6 5-2.2 21-5.7 6-2.3 4-2.3 4-3.3 10-11.6 4-3.5 6-3.4 10-3.8 10-2.7 10-.9 18 .4 6 .6 6 1.3 8 3.2 16 8.9 6 2 12 2.7 4 1.7 4.2 2.7 11.8 11.5 6 3.1 6 1.3 14 .1 6 .7 6 2.4 9.7 6.9 4.3 2.2 8 1.8 8-.1 10.9-1.9 4.9-2 2.2-1.5 2.4-2.5 1.1-2 4.2-14 2.3-3.3 4-1.7 8-1.7 6-2.4 6-3.7 5.8-5.2 4.3-6 1.6-4 .3-16zM402 622.1l5.2-.6 4 .4 6 1.7 8 3.3 12 6.6 17.6 12.6 6.4 6.3 2.6 3.7 6.7 12 4.7 5.2 6 3.6 16 5.2 3.2 2 2.1 2 2.5 4 1.5 6-.2 4-1.7 4-3.9 4-7.5 5.7-12.2 12.3-5.8 4.2-4 1.8-4 1.1-16 2-6 1.6-6 3.1-12 7.9-6 2.6-4 .8-6-.1-14-2.5-6-.5-16 1.5-4-.8-2-1.1-2-2.2-.9-3.4 2.3-20-.2-6-1.7-16 .2-6 .7-4 2.1-6 5.5-10.6 2.2-5.4 1.4-6 1.8-14 2.6-7.2 4-6.3 6-7 4-3.3 4.8-2.2zM138.1 640.1l5.1-.8 6-.1 6 .8 4 1.7 2 2.5 1 7.9 1.2 4 2.4 4 1.8 2 5.5 4 3.9 2 18.2 7.1 16 11 4.8 1.9 11.2 3.1 6 2.4 6 3.3 14 9.2 10 4.5 18 6 20 3.3 4 1.3 6 2.9 6 4 5.1 4 10 10 2.8 4 1.6 4 0 4-.8 2-1.5 2-3.2 2.4-4 1.9-6.3 1.7 0 10-38 0 0-10-11.7-2.7-10-.8-10 .8-4 1-4.1 1.7 0 10-78.3 0-.1-14 .5-2.4 2-3 6.5-4.6 1-2-1.8-4-11.7-17.8-5-10.2-2.6-4-8.4-9.2-6-5.3-6-4.5-4-2-4-1.1-14-2-4-1.6-4-2.7-6.5-5.6-5.2-6-2.4-4-2-6-.2-4 .3-2 .9-2 3.1-2.5 6-1.7 21.4-3.8 19.5-6z" fill="#8fc58c" fill-rule="evenodd"/>
<path d="M47.2 462.1l94.9 0-.1 14-3.2 4-.1 2 1.4 2 1.1 .8 10 4.2 4.9 3 3 4 1.6 6 .1 6-1.1 8-1.9 6-2.6 4.6-2 2.2-4 2.8-14 5.6-4.4 2.8-2.1 2-2.8 4-5.1 12-3.9 6-4.9 4-10.8 6.2-8 5.4-18 14.7-4 4.6-3 5.1-7 18.8-14 0 0-160.8zM595.2 462.1l74 0 0 182.2-8 .1-6 1.2-26 2.2-70 8.6-8 .2-4-1-2-1.3-2-2.2-6.8-12-11.2-16-3-6-5.5-14-3.3-6-12.2-14-4.1-6-3.7-8-4.4-14-1.8-3.8-1.6-2.2-4.4-3.3-4-1.7-14-4.4-6-1.2-6 .1-6 1.6-22.4 10.9-7.6 4.5-12 10.4-4 2.2-2 .3-4-.7-10-5.3-4-1.6-4-.7-4 .2-4 1.2-2.7 1.5-10.8 10-4.5 2.6-6 1.6-14 1.9-4 1.2-4 2-6 4.7-4.4 6-1.7 4-.9 4-1.2 16-1.6 6-2 4-2.2 2.8-2 1.8-4 1.9-2 .4-4-.3-22-7.3-30-6.2-6-2.2-4-2-14-9-6-3-4-1.3-6-.6-14 .8-2-.5-1.9-1.3-2.1-3.5-.5-4.5 .5-4 2.3-8 3-8 3.2-6 2.9-4 6.6-6 8-4.2 18-6.4 4-2.2 12.8-9.2 4.5-2 16.7-5.8 18.6-10.2 7.4-2.7 18-4.7 6-2.5 6-4.3 10-11.5 4-3.7 6-3.6 10-3.9 10-2.7 10-1.1 18 .2 6 .6 6 1.3 6.7 2.6 17.3 9.7 4 1.5 12 3.1 6 2.5 4.2 3.2 9.8 10.3 6 3.8 6 1.5 16 .2 6 .9 4 1.5 10 7.1 5.9 2.7 8.1 1.4 8-.1 8-.9 6-1.3 3.7-1.1 3.7-2 3.1-4 3.7-10 2.6-4 3.2-2.4 10-4.6 6-3.4 5.2-3.6 4.5-4 5-6 5.2-8 .1-14zM401.2 624.1l6-.9 8 1.5 10 3.9 10 5.4 16 11.2 6 5 4.8 5.9 8.3 14 4.9 5 6 3.4 14 4.7 4 2.7 2 2.2 2 4 .7 4-.4 4-.7 2-2.9 4-8.7 7.9-9.3 10.1-4.7 3.9-4 2.4-6 2-16 2-6 1.6-6 3-12 7.9-4 1.9-4 1.2-8 .1-18-3.8-16 .2-4-1.1-2-1.6-.9-1.7-.8-4 .4-18-2.3-22 .9-8 2.2-6 5.1-10 2.5-6 1.4-6 2-14 2.1-6 3.7-6 5.7-6.7 4-3.3 4-2zM131.8 644.1l5.4-1.2 6-.6 6 .6 3.8 1.2 2.2 1.5 1.9 2.5 4.9 10 3.5 4 2.5 2 6.9 4 14.3 5.4 6 2.7 14 9.9 6 2.6 12 3.3 6 2.4 6 3.4 14 9.3 12 5.3 16 5.7 20 3.4 4 1.3 6 3 10 7.3 5.2 5 3.4 4 2.5 4 1.4 4-.2 4-.9 2-3.4 3.4-4 2-4 1.3-6.9 1.3 0 10-27.7 0 0-10-15.4-3.2-10-.6-10 .8-6 1.6-2.9 1.4 0 10-77 0 .1-12 1.1-4 2.7-2.9 2-1 9.3-2.1 1.4-2-1.2-2-5.5-4.5-4-4.4-8.1-11.1-6.3-12-2.6-4-5.1-6-7.9-7.4-6-5-6-3.3-6-1.6-10-1.3-6-2.2-6-4.5-5-4.7-4.6-6-1.7-4-.8-4 .4-4 1-2 2.7-2.5 6-2.3 16.7-3.2 15.9-4z" fill="#92c682" fill-rule="evenodd"/>
<path d="M47.2 462.1l91.3 0-.1 14-2.7 2-1.4 2-.2 2 .7 2 1.9 2 2.5 1.4 10 3.5 5.4 3.1 3 4 1.6 6 .1 6-1.4 8-2.5 6-2.2 3-4 3.3-14 5.8-5.8 3.9-4.2 5.5-5.5 12.5-2.5 4-2 2.2-4 3.1-17.9 10.7-13.1 10-7 6-3.5 4-2.5 4-6 15-14 0 0-155zM599.5 462.1l69.7 0 0 174.5-8 .2-8 4.2-8 2.1-50 6.3-30 2.7-8-.4-6-1.9-4.7-3.7-7.9-10-11.4-13.2-3.8-6.8-4.9-12-3.3-6-3-4-9.3-10-4.3-6-3.8-8-4.1-16-1.5-3.9-1.4-2.1-2.6-2.4-4-2.1-18-5.8-6-1.2-6 .3-6 2.1-28.9 15.1-5.9 4-7.2 6.1-4 2.3-2 .4-4-.7-8.3-4.1-5.7-2.1-4-.6-4 .2-4 1-4 2.2-9.7 9.3-4.3 2.8-6 1.8-14 1.9-4 1.1-4 1.8-4 2.7-4 3.7-3.1 4.2-2.1 4-1.6 6-1.5 16-2 6-3.7 4.9-2 1.4-4 1.3-6-.4-20-5.7-24-4.4-8-2.1-8-3.6-14-9.1-6-3.2-6-1.7-16-1.9-2.5-1.5-1.5-2-.9-4 .2-4 1.7-8 2-6 4.4-8 3.5-4 3.1-2.6 8-4.5 15.3-4.9 4.8-2 3.9-2.3 12-8.5 6-2.7 14-5 20-11.1 6.8-2.4 17.2-4.5 6-2.3 4-2.4 3.4-2.8 8.6-10.1 4-3.9 6.4-4 10.4-4 11.2-3 10-1.1 16 .1 6 .7 6 1.3 8 3.4 16 9.1 16 5.1 5.2 2.4 4.9 4 9.9 11.2 2 1.6 4 2.1 6 1.1 14-.2 6 .6 4.7 1.6 9.3 6.7 6 2.7 8 1.3 12-.2 18-2.1 4-1.1 1.9-1.3 2.1-3.7 2.8-8.3 3.2-5.1 3.3-2.9 14.7-8.8 6.9-5.2 6-6 9.3-12 .1-14zM561.2 539.3l-1 .8-1 1.7-.3 2.3 .6 4 1.7 3.5 2 2.3 2 1.3 2 .5 2-.2 2-1 1.3-2.4 .3-2-.3-2-1.3-2.9-4-4.3-4-1.8-2 .2zM400.6 626.1l2.6-.8 4-.4 6 .9 12 4.4 10 5.5 16 11.3 5.8 5.1 4.2 5.3 7.5 12.7 4.5 5.1 6 4 14 5.1 3 1.8 2.2 2 1.4 2 1.5 4 .1 4-1.3 4-3 4-12.6 14-6.1 6-5.2 3.3-4 1.7-6 1.2-12 1.3-6 1.6-6 3-12 7.8-4 2-4 1-4 .3-4-.3-16-4-16-1.6-3.6-1.3-1.9-2-1-2-.7-4-1-16-2.4-16-.1-6 .9-6 2.2-6 5.1-10 2.5-6 1.4-6 2.1-14 2.3-6 3.9-6 4.3-4.9 4-3.3 3.4-1.8zM131.8 646.1l9.4-1 4 .4 4 1.1 4 2.7 8.1 10.8 4.6 4 7 4 20.3 8.1 6 3.7 8 6 4 2.2 16 4.7 6 2.4 5.2 2.9 15 10 7.8 3.7 14 5.7 10 3 16 2.5 8 3.3 6 3.8 4 3.2 4.9 4.8 3.3 4 2.4 4 1.2 4-.4 4-1 2-1.9 2-3.1 2-5.4 1.9-8 1.5-7.9 .6 0 10-9.7 0 0-10-6.4-.7-16-3-10-.5-6 .3-6 1-4 1.2-3.7 1.7 0 10-75.5 0 .2-12 .6-2 1.3-2 1.1-1 4-1.7 10.6-1.3 2.7-2 0-2-1.6-2-9.7-6.7-4-4-8-10.5-5.8-10.8-2.6-4-5.6-6.5-10-9.3-6-4.7-4-2.1-6-1.5-10-1.5-6-2.4-5.4-4-4.6-4.4-4.1-5.6-1.7-4-.4-4 1.1-4 1.6-2 2.9-2 6.6-2.2 28.6-5.8z" fill="#95c777" fill-rule="evenodd"/>
<path d="M47.2 462.1l87.2 0-.2 14-2.7 2-1.1 2 0 2 .7 2 1.3 2 2.8 2.3 3.7 1.7 10.3 3.4 4 2.5 3 4.1 1.5 6 0 6-1.2 6-1.5 4-2.6 4-5 4-12.2 5.1-6 3.8-4.1 5.1-5.9 12.9-4 5.8-6 4.7-11.9 6.6-6 4-18.2 14-3.9 4-2.8 4-5.2 12-14 0 0-150zM603.4 462.1l65.8 0 0 169-8 0-2 .6-4 1.5-10 4.9-6.7 2-39.9 6-17.4 1.9-12 .5-8-.7-6-2-6-4.5-6.7-7.2-9.3-8.4-4-4.3-4-6.2-8.1-17.1-3-4-10.9-11.7-3.1-4.3-3.8-8-1.6-6-2.5-14-1-3-2-3-2-1.6-4-1.9-14-4.4-8-3.1-4-.6-4 .5-6 2.5-14.2 8.6-19.7 10-10.1 7.3-4 2.2-2 .4-4-.5-8-3.4-6-1.8-6-.6-4 .5-4 1.3-4 2.4-8.2 8.2-2.5 2-3.3 1.8-6 1.5-14 2-6.6 2.7-3.4 2.2-4 3.4-5 6.4-2 4-1.2 4-1.8 14.5-1.3 5.5-2.7 4.7-2 1.8-4 1.8-4 .2-4-.5-17-4-25-4.3-8-2.1-8-3.7-14-9.3-6-3.2-6-1.9-10-2.1-3.7-1.4-2.3-2-1.1-2-.8-4 .2-4 1.1-6 2-6 2.2-4 3-4 3.4-3.2 4-2.7 6-2.8 14-4.2 6-2.4 15.7-10.7 20.3-8.1 18-10.4 8-2.9 17.7-4.6 6.3-2.6 6-4.5 12-13.4 4-2.9 4-2.1 6.2-2.5 9.8-3.1 12-2 12-.4 8 .3 8 1.2 6 2 20 11.4 14 4.8 6 2.8 5.7 5 10.3 13.1 2 1.7 4 1.9 6 .5 14-.9 6 .8 4 1.7 6.9 5.2 3.1 1.8 4 1.3 4 .7 10 .4 22-1 4 .2 4 .9 2.7 1.7 1.3 1.8 3.9 12.2 2.1 4 1.7 2 4.3 2.9 4 .8 2-.2 2.9-1.5 1.5-2 .7-4-.6-4-1.8-4-2.7-3.7-4-3.8-6.2-4.5-1.8-2-.9-2-.4-4 1.3-6 2.2-4 3.8-4 16-10.9 8-6.7 14-16.4 .2-14zM400 628.1l5.2-1.4 4 0 4 .7 12 4.4 10 5.6 14 9.8 6 5.1 4.8 5.8 8.6 14 4.6 4.9 6 3.8 13.4 5.3 2.8 2 1.7 2 1.1 2 .8 4-.6 4-.9 2-14.3 18-6 5.8-4 2.6-6 2.3-16 2.1-6 1.5-6 3-12 7.7-4 2-4 1-4 .3-6-.8-14-4.1-14-2.6-2-.8-2.6-2-1.4-2.2-1.2-3.8-4-26-.7-8 .5-6 1.8-6 6-12 2.4-6 1.4-6 1.9-12 1.9-6 2.2-4 3.8-5 4-3.9 4.8-3.1zM130.5 648.1l8.7-.6 4 .4 4 1.3 4 2.6 7.8 8.3 4.8 4 7.1 4 22.3 9 16 11 5.1 2 10.9 2.8 6 2.1 6 3.2 16 10.7 24 10.8 8 2.4 16 2.5 8 3.3 8.6 6.2 4.1 4 3.2 4 2.9 6 .4 4-.6 2-1.2 2-2.1 2-3.6 2-7.2 2-6.5 .8-8 .4-8-.2-18-2.9-8-.6-8 .1-8 1.1-4.3 1.3-4.1 2 0 10-74.2 0 0-10 .6-2.6 2-2.8 4-1.7 10-.8 4-1.3 1.7-.8 1.5-2-.5-2-4.4-4-10.3-6.5-4-3.7-7.7-9.8-5.5-10-4.2-6-5.5-6-11.1-10.2-4-3.1-4-2.1-4-1.2-12-2-6-2.6-4-2.9-4.2-3.9-3.3-4-2.1-4-.8-4 .7-4 1.7-2.5 4-2.8 8-2.5 23.3-4.2z" fill="#98c86d" fill-rule="evenodd"/>
<path d="M47.2 462.1l82.2 0-.1 14-1.8 2-.5 2 .3 2 1.9 4 2 2.2 4 2.6 12 4.1 4 2.2 2 2 1.7 2.9 1.4 6 0 4-1.1 6-1.6 4-2.9 4-5.5 3.9-12 5.1-4.4 3-1.9 2-2.8 4-5.5 12-4.1 6-5.3 4.2-17.2 9.8-18.9 14-4.3 4-3.1 4-4.5 9.5-14 0 0-145.5zM606.9 462.1l62.3 0 0 164.5-12 .1-6 .9-6 2.1-7.9 4.4-6.1 2.4-6 1.6-21.2 4-13.8 2-11 .9-8 0-6.8-.9-5.2-1.8-4-2.4-11-9.8-11-8.5-4-4.3-3.2-5.2-5.8-12-2.5-4-3.3-4-9.7-10-3-4-2.3-4-1.6-4-1.5-6-1.7-18-1.5-6-1.9-2.6-2-.9-11-2.5-4.4-2-1.9-2 1.3-2.1 4-1.3 4-.4 4 .7 2.7 1.1 2.6 2 2.7 3.1 2 1.3 2 .7 14 .6 26-.7 7 1 3 1.4 2.8 2.6 2.2 4 4.1 10 2.8 4 2.1 2 2 1.3 4 1.6 4 .5 4-.7 2-1.1 1.3-1.6 .7-2 .3-4-1.2-6-1.7-4-2.6-4-10.5-12-1.4-4 .3-4 1.7-4 3.2-4 21.9-16.6 5.4-5.4 8.1-10 4.1-4 .1-14zM362.6 480.1l8.6-.7 10-.1 8 .7 6 1.3 6.6 2.8 17.4 10.3 16 6.2 5.4 3.5 5.2 6 6.5 12 .5 2-.1 2-1.1 2-1.9 2-12.9 10-9.6 5.6-14 6.6-14 8.3-2 .4-4-.3-10-3.3-6-1.1-6-.1-4 .8-4 1.5-2.8 1.6-9.2 9-4 2.7-6 1.8-14 2.1-4 1.3-4 2.1-6.5 5-3.6 4-2.7 4-1.9 4-1.3 4-2.2 14-1.8 5.4-2 2.8-2 1.6-4 1.5-4 .2-4-.5-38-6.4-10-2.5-8-3.7-18-11.7-4-1.8-14-4.7-2-1.3-2-2.4-1.4-4.5 0-4 1-6 1.4-4 2.1-4 2.9-3.7 6-4.9 7.2-3.4 14.2-4 5.2-2 3.6-2 11.8-8.4 6-2.8 14-5.4 19.4-11.4 6.6-2.4 18-4.6 6-2.4 6.6-4.6 9.4-11 6-5.1 6-3.1 7.6-2.8 8.4-2.5 7.4-1.5zM399.4 630.1l5.8-1.7 4 0 4 .7 10 3.4 10 5.3 15 10.3 6.9 6 4.1 5.1 8 12.9 6 6.6 6 3.7 12 5.1 3.1 2.6 1.3 2 1 4-.1 2-1.4 4-11.4 16-6.5 6.7-5.1 3.3-4.9 1.8-16 2.2-6 1.5-6 2.9-12 7.8-4 1.9-4 1-6 0-6-1.3-10-3.3-14-3.7-4.4-2.8-1.6-2.1-1.5-3.9-4.4-22-1.1-8 .4-8 1.9-6 5.9-12 2.4-6 3.6-18 2.1-6 2.3-4 3.2-4 3.2-3.2 4.2-2.8zM127.4 650.1l9.8-.6 4 .5 4 1.2 4 2.3 9.7 8.6 6.1 4 8.6 4 17.6 6.9 5.4 3.1 8.6 6.5 4 2.4 6 2.2 12 3.1 6 2.5 17.1 11.3 6.9 3.8 24 10.7 6 1.4 12 1.6 8 2.9 8.4 5.6 4.1 4 3.2 4 2.7 6 .2 4-.7 2-1.4 2-2.5 2-4 1.9-6 1.4-6 .8-14 0-16-2.4-8-.6-10 .2-8 1.1-5.3 1.6-3.9 2 0 10-72.8 0 0-10 2-3.8 2-1.3 2-.7 10-.9 5.7-1.3 3.9-2 1-2-.7-2-4.9-4-11-6.5-6-5.1-6-7.2-6.6-11.2-4.2-6-7.2-7.6-12-11.1-4-2.7-4-1.6-14-2.7-5.4-2.3-7.4-6-3.3-4-2-4-.6-4 .7-3 2.1-3 2.9-2 9-3 18.2-3z" fill="#9fca68" fill-rule="evenodd"/>
<path d="M47.2 462.1l77.2 0-.3 18 2.4 6 2.7 3.3 3.8 2.7 12.2 4.2 4 2.1 3.5 3.7 1 2 1 4 .1 4-1 6-1.7 4-2.9 3.7-4 2.9-12 5.3-4 2.6-2 1.7-2.9 3.8-6.7 14-4.4 5.9-5.6 4.1-11.3 6-6.4 4-18.7 13.6-6 6.3-4 7.3-14 0 0-141.2zM610.4 462.1l58.8 0 0 160.7-18-.4-10 1.3-6 2.3-8 5.1-6.6 3-11.4 3.2-12 2.5-10 1.3-8 .4-6-.2-6-1-4-1.5-4-2.2-10.8-8.5-11.2-7.2-4-3.1-4.7-5.7-6.4-12-3.8-6-11.1-11.3-3.8-4.7-3.3-6-2.2-8-.6-10 1.1-10 .9-2 1.8-2 2.1-1 4-1 22-1.5 8 .3 4 .7 4 1.7 2.9 2.8 2.4 4 4.7 10.7 2.4 3.3 3.6 3.2 6 2.8 6 1.2 6-.1 2.6-1.1 1.2-2 .2-4-.9-6-1.6-6-4.1-8-9.2-12-1.6-4 .2-4 1.8-4 3.4-4 20.6-16 5.4-5.6 8.6-10.4 4.4-4 .2-14zM371.4 480.1l13.8 0 10.4 2 7.6 3.5 16 9.7 16 6.8 4 3 2.9 3 2.6 4 1.9 4 1.5 6-.1 2-1.5 4-3.1 4-4.1 4-8.1 5.8-6 3.3-14 6.3-12 6.1-2 .4-4-.1-10-2.4-6-.8-6 0-4 .6-4 1.2-4 2-10 9.6-3.2 2-4.8 1.6-14 2.2-4 1.3-4 2-4 2.7-4 3.5-5.4 6.7-2.2 4-1.5 4-3.1 14-1.8 4.8-2 2.7-2 1.5-4 1.4-6 .2-12-1.5-26-3.9-10-2.5-8-3.8-18-11.9-16-6.7-2.8-2.3-1.2-1.8-1.3-4.2-.1-4 .6-4 1.3-4 3.6-6 3.9-3.8 3.1-2.2 6.9-3.1 14-3.7 6-2.3 4-2.3 12-8.4 20-8.4 14-8.8 6-2.9 6.1-2.1 17.9-4.5 6-2.6 6-4.6 10.7-12.3 5.3-3.9 4-2 8-3 10-3.1 6-1.2 8.2-.8zM405.1 630.1l4.1-.1 4 .7 10 3.4 8 4.1 12 8 7.9 5.9 4.1 4.1 4 5.3 8 12.6 4 4.6 6 4.3 12 5.7 3.7 3.4 .9 2 .2 4-2.3 6-9.2 14-3.6 4-3.7 3.2-4 2.3-4 1.5-16 2.3-6 1.4-6 2.9-14 8.7-4 1.5-4 .6-8-1.1-22.5-7.3-4.2-2-3.3-3.2-1.5-2.8-1.4-4-4.4-20-.9-8 1-8 1.4-4 5.9-12 2.4-6 3.8-18 2.2-6 3.5-5.2 4-4.2 4-2.8 5.9-1.8zM122.3 652.1l12.9-.7 4 .4 4 1.1 4 2 9.3 7.2 6.4 4 8.8 4 19.5 7.7 6 3.7 8 6.1 4 2.3 6 2.1 12 3 6 2.6 20 13.2 24 11.7 8 2.8 16 2.4 6 2.4 4 2.5 4 3.2 5.4 6.3 2.7 6-.1 4-.8 2-1.7 2-3.5 2.3-5 1.7-7 1.1-12 .2-18-2.3-8-.4-12 .5-8 1.4-4.4 1.5-3.5 2 0 10-71.3 0 0-10 1.2-2.3 2-1.6 4-1.1 10.8-1 7.2-2 3.3-2 .6-2-1.1-2-2.2-2-16.6-9.8-6-5.1-6-7.2-5.9-9.9-4.3-6-5.8-6.3-14-13.2-4-2.8-4-1.6-12-2.3-6-2.2-5.2-3.6-4.8-5.1-1.9-2.9-1.2-4 .6-4 2.5-3.3 4-2.5 4-1.4 15.1-2.8z" fill="#a7cd64" fill-rule="evenodd"/>
<path d="M47.2 462.1l73.1 0 0 14 1.8 6 3.1 5.9 2 2.3 4 3 4 1.8 9.1 3 3.7 2 3.6 4 1.7 6-.1 4-.9 4-1.1 2.7-2 3.1-2.2 2.2-3 2-10.8 4.8-6 4.1-4 5.1-6 12.9-4 5.6-6 4.6-16.5 8.9-19.5 13.6-6 5.6-4 6-14 0 0-137.2zM613.8 462.1l55.4 0 0 157.3-24-.5-12 .8-6.5 2.4-7.9 6-3.4 2-4.5 2-7.7 2.5-8 1.8-10 1.1-8-.1-6-1-6.1-2.3-15-10-12.9-6.8-6-5.4-10.8-17.8-3.5-4-9.7-9.5-4.6-6.5-2.3-6-1-6 0-8 1-6 1.9-4 2-2 3-1.6 4-1.1 8-1 10-.4 6 .3 6 1.4 3.7 2.4 1.8 2 2.3 4 4.3 10 2.7 4 3.2 3 6 3.4 12 4.2 6 2.9 4 2.9 12 10.8 6 4.2 4 1 2-.8 2-3.6 .3-4-.7-4-1.6-3.6-4.1-4.4-3.9-2.4-10-4.7-4-3.7-2.7-5.2-5.4-14-3.5-6-6.9-10-1.6-4-.1-2 1.1-4 3.1-4.4 3.9-3.6 12.1-9 5.9-5 12.1-14.3 6.5-5.7 .1-14zM361.6 482.1l7.6-1.1 10-.4 8 .4 6.2 1.1 7.8 3.1 16 10 15 6.9 3.3 2 3.7 3.4 2 2.6 2.1 4 1.3 4 .4 4-.8 4-1 2-2.7 4-3.9 4-7.4 5.4-8 4.1-20 8.4-6 1.3-18-2.2-6 0-6.4 1-3.6 1.2-4 2.1-8 7.7-4.2 3-5.8 1.9-14 2.7-6 2.6-8 6-5.8 6.8-4.3 8-3.9 13.7-2 4.7-3.3 3.6-4.7 1.8-8 .3-14-1.4-20-2.9-10-2.6-8-3.9-16-10.8-16-7.6-2-1.6-2-2.7-1-2.6-.5-4 .4-4 1.1-4 3.7-6 2.3-2.3 4-2.9 6-2.8 15.8-4 5.3-2 3.5-2 11.4-8 6-3 14-5.6 4-2.2 10.6-7.2 5.4-2.7 8-2.8 16-3.8 6-2.3 6-4.2 10-11.7 6-4.9 6-3 6-2.3 14.4-4.3zM403.3 632.1l3.9-.5 4 .3 8 2.1 10 4.6 12 7.7 8 5.9 6 5.9 10.6 16 5.4 6.3 6 4.3 10 5.2 2.6 2.2 1.2 2 .6 4-1.9 6-7 12-3.1 4-4.3 4-4.1 2.6-4 1.6-6 1.1-10 1.2-6 1.4-6 2.9-14 8.6-6 1.9-6-.2-8-2.1-18-6.6-4-2.4-2.1-2-1.9-2.9-2-5.1-4-16-1.2-8 .4-8 1.9-6 7.5-16 1.8-6 3-14 2.4-6 2.8-4 3.4-3.6 4-2.8 4.1-1.6zM116.7 654.1l8.5-1 8-.1 6 .9 4 1.3 17.5 10.9 30.5 12.5 16.6 11.5 5.4 2.1 14 3.6 5.4 2.3 20.6 13.5 26 13.2 6 2.1 14 2 6 1.9 6 3.7 6 5.9 3.2 5.7 .7 4-.4 2-1.5 2.5-1.6 1.5-2.4 1.4-4 1.5-6 1.2-12 .3-16-1.9-10-.4-12 .6-8 1.4-5.4 1.9-3.3 2 0 10-69.8 0 0-10 2.5-2.7 4-1.2 8-.7 6-1.1 8-2.2 2.8-2.1 .2-2-1.3-2-2.4-2-17.3-9.7-6-4.4-7.1-7.9-7.5-12-4.8-6-18.6-18.4-4-2.9-4-1.7-12-2.3-4-1.3-5.5-3.4-4.2-4-2.7-4-.8-2-.1-4 1.3-2.8 2-2.1 4-2.2 4-1.4 7.5-1.5z" fill="#aecf5f" fill-rule="evenodd"/>
<path d="M47.2 462.1l69.7 0 0 14 6.3 12.5 3 3.5 3 2.2 4 2 10 3.4 4 2.3 2 2.1 1.2 2 1.2 4-.2 6-2.5 6-4 4-3.4 2-10.3 4.7-4 2.8-2 2-3 4.5-5.5 12-4.4 6-5.1 4-18.8 10-17.2 11.7-5.4 4.3-4.6 5.6-14 0 0-133.6zM617.4 462.1l51.8 0 0 154.3-22-.4-26-1.9-2 .6-1.5 1.4-3.9 6-4.1 4-3.3 2-4.6 2-7.2 2-7.4 .9-6 0-6-.9-6-2.2-13.1-7.8-16.9-7.1-6-4.6-3.3-4.3-5.8-10-2.9-3.9-12-11.6-4.8-6.5-1.9-4-1.4-6-.2-6 .7-6 1.3-4 2.3-3.3 4-2.7 4-1.3 8-1.1 8-.2 6.6 .6 5.4 1.9 2.7 2.1 1.7 2 2.1 4 4.1 10 2.6 4 2.8 2.9 4 2.8 12.4 6.3 6.2 4 11.4 8.7 12 11.1 6 4.7 4 1.6 2-.8 1.7-5.3 .7-10-.7-6-2.1-6-1.6-2.5-3.5-3.5-13.8-8-4.7-4.2-2.6-3.8-7.4-15.9-7.6-12.1-1.3-4-.1-2 1.2-4 2.9-4 4.5-4 15.5-12 3.9-4 9.7-12 3.3-3.1 4-2.9 .2-14zM367.1 482.1l8.1-.7 8-.1 6 .6 6 1.4 6.3 2.8 15.7 10.1 15.6 7.9 2.6 2 3.6 4 2.8 6 .6 4-.3 4-2.7 6-5.3 6-6.9 4.9-8 3.9-16 5.8-8 1.9-22-1-6 .4-6 1.3-6.1 2.8-7.9 7.4-4 2.7-5.6 1.9-12.4 2.6-6 2.7-8 5.8-6 6.6-5 8.3-4.7 14-2 4-2.3 2.8-1.8 1.2-4.2 1.6-8 .5-12-.9-20-2.8-9.3-2.4-8.3-4-16.4-11.2-13.6-6.8-2.5-2-1.7-2-1-2-.9-4 .6-6 1.6-4 1.5-2.3 3.5-3.7 2.7-2 3.8-2 4-1.4 14-3.3 6-2.1 16-10.6 20-8.5 14-9.4 5.2-2.7 6.8-2.4 16-3.7 6-2 6.1-3.9 10.3-12 3.6-3.4 3.8-2.6 6.2-2.9 10-3.7 6-1.9 7.9-1.5zM402.3 634.1l2.9-.7 4-.1 4 .5 6 1.8 10 4.6 12 7.7 8 6 4.4 4.2 3.6 4.6 8.7 13.4 5.3 6 4 3.1 8.7 4.9 3.3 2.8 1.7 3.2 .3 2-1.3 6-2.8 6-3.6 6-3.2 4-3.1 3-4 2.6-4 1.7-6 1.3-12 1.5-4 1.1-6 2.8-14 8.5-6 1.8-6.8-.3-9.2-2.9-16-6.5-3.6-2.6-1.8-2-3.2-6-4.4-16-1.3-8 .3-8 1.9-6 7.6-16 1.8-6 2.6-12 2.2-6 2.5-4 3.4-3.7 4-3 3.1-1.3zM112.4 656.1l6.8-1.1 8-.6 6 .3 6 1.2 6 2.6 9.3 5.6 8.3 4 24.4 9.3 6 3.2 14 10 6 2.3 14 3.6 6 2.7 18 12.2 17 8.7 11 6.3 8 2.6 14 2 6 2.7 5.6 4.4 3.3 4 2 4 .5 2-.6 4-1.3 2-3.5 2.6-4 1.5-6 1-8 .3-18-1.7-8-.1-14 .8-10 1.9-4 1.5-3.4 2.2 0 10-68.2 0 0-10 1.6-1.6 4-1.4 10-1 14-3.1 2.2-.9 1.7-2-.1-2-1.4-2-2.4-2-20-10.8-6-4.4-6-6.5-8-12.3-4.8-6-21.2-21-6-3-12-2.5-4-1.4-4-2.3-4-3.6-2-2.6-1.6-3.6 .1-4 1-2 1.9-2 2.6-1.6 7.2-2.4z" fill="#b6d25a" fill-rule="evenodd"/>
<path d="M47.2 462.1l66.5 0 .1 14 8.1 14 3.3 3.7 4 2.7 12 4.4 4 2.1 3 3.1 1 2 .9 4-.8 6-2.1 3.9-1.9 2.1-4.1 2.8-12 5.9-4 3.3-1.7 2-2.4 4-5.4 12-4.5 5.8-6 4.2-12.3 6-7.7 4.5-17.3 11.5-6.7 6.2-14 0 0-130.2zM621.1 462.1l48.1 0 0 151.4-16 .3-10-.7-10-2.1-6-2.9-2.1-2-2.3-4-1-4-2-14-1.2-4-2-4-3.1-4-2.3-2-14-8.5-5.6-5.5-2.4-3.9-13.5-26.1-.4-4 .5-2 .9-2 2.5-3.2 4-3.7 14.5-11.1 3.9-4 11.4-14 4.2-3.6 3.7-2.4 .2-14zM375.1 482.1l12.1 .2 6 1.2 4 1.3 6.3 3.3 13.7 9.1 12 6.4 3.7 2.5 2.3 2.2 2.7 3.8 2 6 .1 4-.9 4-3.5 6-6.4 5.9-6 3.6-8 3.1-14 4.2-8 1.4-24 0-6 .7-4.8 1.1-5.2 2.4-8 7-4 2.6-5.6 2-10.4 2.6-6 2.6-8 5.7-6 6.3-5.8 8.8-5.4 14-2.1 4-1.7 2-2.7 2-4.3 1.6-8 .7-12-.8-18-2.5-10-2.8-8-4.1-14-9.7-14-7.6-3.1-2.8-1.4-2-.9-2-.6-4 1.1-6 2.3-4 1.7-2 4.9-3.7 6-2.5 14-3.1 6-1.9 5-2.8 11.5-8 5.5-2.7 16-6.4 12.5-8.9 7.5-3.8 7-2.2 15-3.2 6-2.1 6-4.3 8.4-10.4 3.6-3.6 3.2-2.4 4.8-2.7 18-6.7 8-1.7 7.9-.9zM515.1 542.1l8.1-1.1 8 .1 6 1.2 4 2.2 2 1.9 2 3.2 4.9 12.5 4 6 3.1 2.7 11.4 7.3 10.6 8.4 10 7 4 3.6 4.4 5 4.3 6 2.9 6 0 4-.8 2-1.5 2-3.3 2.4-6 2.3-6 .8-6-.4-6-1.8-10-5.5-4-1.7-18-4.7-4-1.8-4-3-4-4.8-8-12.3-3.2-3.5-8.8-7.8-3.7-4.2-2.4-4-1.5-4-.8-4-.1-6 .5-4 1.3-4 2.7-4 2-1.6 5.9-2.4zM401.5 636.1l3.7-1 4-.2 4 .5 6 1.7 10 4.6 12 7.7 6.3 4.7 5.7 5.4 4 5.2 8 12.2 4 4.9 4 3.7 10 6.6 1.9 2 1.2 2 .5 4-1.4 6-2.8 6-2.3 4-5.3 6-3.8 2.7-6 2.3-14 2-6 1.4-6 2.7-14 8.5-6 1.8-6-.2-8-2.4-16-6.8-3.2-2-2.8-2.7-2.2-3.3-1.8-4-4.1-14-1.4-8 .4-8 1.9-6 7.5-16 4.1-16 2.1-6 2.2-4 3.3-3.9 4-3 2.3-1.1zM120.4 656.1l10.8 0 8 1.8 21.3 10.2 24.7 9.2 8 4.2 10 7.5 4 2.5 6 2.2 14 3.6 6 2.7 18 12.3 15.1 7.8 14.9 8.8 6 1.9 12 1.5 5.1 1.8 5.9 4 3.6 4 1.9 4 .4 2-.1 2-.7 2-1.7 2-3.2 2-7.9 2-7.3 .2-16-1.3-8 0-16 1.1-10 1.9-4 1.4-4.2 2.7 0 10-66.4 0 0-10 .6-.6 4-1.6 10-1.1 15.4-2.7 4.1-2 1.1-2-.3-2-1.4-2-2.3-2-20.6-10.7-8-5.6-6-6.6-7.4-11.1-4.8-6-21.8-22.1-6-3-14-3.2-4-1.9-4.6-3.8-1.6-2-1.8-4-.1-2 .5-2 1.3-2 2.3-2 4-1.8 6-1.5 5.2-.7z" fill="#bed556" fill-rule="evenodd"/>
<path d="M47.2 462.1l63.3 0 .2 14 3.3 4 6.9 12 2.3 2.6 4 3 4 1.8 8.1 2.6 4 2 2.4 2 1.4 2 1.2 4 0 2-.7 4-2.4 4.1-5 3.9-11 5.3-5.5 4.7-2.6 4-6.5 14-3 4-2.1 2-6.3 3.9-16.5 8.1-19.2 12-6.3 4.8-14 0 0-126.8zM624.9 462.1l44.3 0 0 148.6-8 .1-8 .7-8-.6-6-1.2-4-1.4-4-2.2-2-1.7-2-2.5-1.8-3.8-3.7-16-1.5-4-2.3-4-4.7-5-14-9.1-6-5.7-4-6.5-9-17.7-1.5-4-.2-4 .6-2 2.6-4 4.3-4 13.4-10 3.9-4 10.9-14 4.4-4 6.1-4 .2-14zM365.7 484.1l9.5-1.2 8-.2 6 .6 6 1.5 6.9 3.3 13.1 8.9 14 8.3 5.2 4.8 3 6 .5 4-.4 4-2.7 6-3.4 4-4.2 3.5-4.3 2.5-5.7 2.3-12 3.3-10 2.1-8 .7-20 .5-10 1.4-6 2.3-9.2 7.4-3.3 2-13.5 4.3-6 2.7-8 5.7-4 3.8-4.6 5.5-3.8 6-6.1 14-3.5 5.6-4 2.9-4 1.4-8 .7-10-.6-16-2.1-10-2.5-8-3.7-14-9.8-14-7.9-4.2-4-1.7-4-.3-2 .3-4 1.6-4 1.4-2 4.9-4.3 6-2.7 16-3.3 6-2.3 17.7-11.4 14.3-5.4 6-2.8 12-8.9 6-3.3 8-2.6 16-3.2 6-2.2 4.8-3.6 9.6-12 5.6-4.8 5.6-3.2 9.6-4 6.8-2.4 6.5-1.6zM514.4 544.1l6.8-1.5 8-.1 6 1.1 4.8 2.5 3.2 4.1 4.9 13.9 3.5 6 14.3 12 9.3 10.6 11.5 7.4 4 4 3.1 6 .4 4-1 2.4-1.6 1.6-2.4 1-2 .3-4-.3-4-1.5-10-5.7-4-.8-10 .6-8-.5-6-1.9-4.8-3.2-3.2-3.6-8.5-12.4-13.5-12.1-3.1-3.9-2.1-4-1.2-4-.4-4 .1-4 .7-4 1.7-4 1.4-2 2.9-2.4 3.2-1.6zM400.9 638.1l4.3-1.4 6-.1 6 1.3 6 2.3 8 4.2 10 6.5 6 4.5 4.9 4.7 3.3 4 11.8 17.2 4 4.2 11 8.6 2.2 4 .3 2-.4 4-2 6-3.3 6-3.8 4.6-4.6 3.4-5 2-16.4 2.5-6 1.8-18 10.4-6 1.8-6-.3-8-2.4-14-6.2-6-4.3-2.6-3.3-2.1-4-3.9-12-2-10 .4-8 1.9-6 7.4-16 4.4-16 2.3-6 4.2-5.9 2.4-2.1 3.3-2zM114.9 658.1l10.3-.8 10 1.3 6 2.1 11.6 5.4 34.4 12.8 6 3.4 10 7.6 4 2.4 4.9 1.8 13.1 3.3 6.7 2.7 17.3 11.8 18.8 10.2 13.2 8.6 6 2 12 1.6 6 2.4 4.3 3.4 2.9 4 1.1 4-.3 2.1-1 1.9-2.2 2-2.8 1.4-4 1-8 .5-14-1-6 .1-20 1.6-10 1.8-6 2.4-3 2.2 0 10-64.3 0 0-10 3.3-1.4 24-3.3 5.6-1.3 2.7-2 .7-2-.4-2-1.3-2-2.3-2-21-10.5-6-3.7-4-3.2-6-6.6-6.8-10-4.8-6-22.4-23.3-6-3-14-3.3-4-2.1-2.8-2.3-2.9-4-.7-2 0-2 .8-2 1.6-2 3.1-2 6.6-2z" fill="#c6d751" fill-rule="evenodd"/>
<path d="M47.2 462.1l60.1 0 .1 14 4 4 8.3 14 1.8 2 3.7 2.9 4 1.8 9.9 3.3 3.5 2 2.6 3 1.1 3 .2 2-.8 4-2.5 4-4 3-12 6.1-4 3.7-3.2 5.2-5.3 12-2.6 4-2.9 2.9-6 3.8-16 7.4-26 15.3-14 0 0-123.4zM628.9 462.1l40.3 0 0 145.8-8 .1-6 1.3-8-.3-8-1.9-6-3.3-3.4-3.7-2.1-4-4.4-16-3-6-5.3-6-14.8-10-5-4.8-4.6-7.2-8.4-18-.7-4 .3-2 1.4-3.1 2-2.5 4-3.5 12.2-8.9 3.8-4 8.8-12 3.5-4 4.7-4 6.5-4 .2-14zM371.1 484.1l8.1-.7 6 .1 6 .9 5.4 1.7 6.6 3.6 14 9.8 10.6 6.6 3.4 3 2.3 3 2.2 6-.4 6-2.7 6-3.6 4-5.6 4-4.4 2-7.8 2.3-20 3.8-30 1.7-6 .9-4 1.1-4.3 2.2-7.6 6-3.3 2-16.8 6.5-4 2.5-4 3.2-4 3.8-5.1 6-5.1 8-6.4 14-3 4-4.4 3-4 1.3-8 .7-10-.6-16-2.4-8-2.1-8-3.8-14-9.9-10.8-6.2-3.2-2.3-3.1-3.7-1.3-4 .2-4 .6-2 2.5-4 5.1-4 6-2.2 14-2.7 6-2 4-2.2 14-9.3 6-2.5 12-4 4-2 11.5-9.1 7.4-4 7.1-2.2 14-2.3 6-1.7 3.2-1.8 2.8-2.5 8.7-11.5 3.3-3.4 4-3 6.8-3.6 11.2-4.6 6-1.9 7.9-1.5zM522.2 544.1l5-.2 6 1 4 1.8 3.4 3.4 2 4 3.1 12 1.6 4 3 4 6.8 6 3.7 4 3.1 6 .8 4-.5 4-2.1 4-2.9 2.6-4 1.9-6 .9-6-1-4-2-4-3.8-9-12.6-12.3-10-4.7-5.6-2-4.4-1-6 .6-6 1.4-4 3-3.9 2-1.4 4-1.7 5-1zM408.9 638.1l4.3 .4 4 1 8 3.2 10 5.8 10.9 7.6 4.5 4 3.4 4 13.2 19 4 4.2 8.2 6.8 1.6 2 1.1 2 .6 4-1.1 6-1.6 4-2.2 4-2.6 3.2-3.2 2.8-2.8 1.7-4 1.5-16 2.5-4 1.1-6 2.7-14 8.3-4 1.4-4 .5-4-.5-4-1-14.5-6.2-6.7-4-3.8-4-2.4-4-1.7-4-3.6-12-1.1-8 .1-4 .9-4 8-18 5.4-18 3.4-7.3 4-4.6 3.2-2.1 4.8-1.7 3.7-.3zM112.4 660.1l4.8-1 6-.4 10 1.3 52 18.7 6.5 3.4 10.5 8 5 3 4 1.5 14 3.5 8 3.6 14.9 10.4 18.1 10 15 10.5 6 2.3 10.4 1.2 6 2 3.6 2.8 2.4 3.2 1 4-.5 2-1.4 2-1.5 1.1-2 1-4 .9-6 .3-16-.7-26 2.8-10 2.2-4 1.6-3.8 2.8 0 10-61.9 0 0-10 3.7-.9 28-3.9 2.9-1.2 1.9-2 .4-2-.4-2-2.8-3.4-3.8-2.6-20.2-9.4-6-3.7-4-3.3-5.2-5.6-7-10-4.8-6-11.7-12-11.3-12.7-6-3-10-2.1-4-1.3-4.8-2.9-3.2-4-.6-2 .2-2 .9-2 1.5-1.5 5.2-2.5z" fill="#cfda4d" fill-rule="evenodd"/>
<path d="M47.2 462.1l56.5 0 .2 14 3.3 2.5 3 3.5 8.2 14 2.8 3 4 2.5 12 3.9 4 2.3 2.1 2.3 1.1 4-.7 4-2.9 4-3.6 2.5-10 5-5 4.5-3 5.2-5.5 12.8-2.5 3.6-2.4 2.4-5.6 3.6-16 6.9-18 9.9-8 3.1-14 0 0-119.5zM632.9 462.1l36.3 0 0 142.9-8 .2-2 1-4 .9-6 0-8-1.8-6-3.3-2-1.9-2.7-4-1.6-4-3.7-12.5-4-7.5-5.9-6-12.1-8.3-6.2-5.7-2.9-4-2.9-5.4-3.9-8.6-2.1-6-.3-4 .5-2 2.6-4 3.2-2.9 8-5.3 4.8-3.8 3.6-4 8.2-12 3.2-4 6.2-5.3 7.6-4.7 .1-14zM365.3 486.1l11.9-1.8 10 .2 8 1.9 8 4.2 22.2 15.5 3.8 3.3 2.1 2.7 1.9 4 .6 4-1.2 6-2.3 4-3.1 3.4-4 2.9-4 1.9-6 1.9-28 5-32 1.8-4.5 1.1-3.5 1.6-10 7.2-4 2.1-12 4.9-4 2.4-4 3.1-6 6.1-6 7.7-4 6.9-5.7 12-2.3 3.4-4 3.3-6 2.1-8 .6-10-.7-14-2.2-8-2.2-8-4-12-8.6-12-7.2-3.1-2.5-1.7-2-1.7-4 .1-4 1.7-4 1.6-2 3.1-2.4 6-2.4 14-2.5 6-1.9 4-2.1 10-6.9 6-3.4 6-2.2 12-3.4 4-1.8 4-3 6.3-6 2.7-2 5-2.6 8-2.5 14-1.8 6-1.7 4.7-3.4 8.4-12 6-6 4.9-3.1 5.9-2.9 9.5-4 6.7-2zM520.4 546.1l4.8-.5 6 .7 4.2 1.8 2.3 2 1.4 2 2.1 5.8 1.9 12.2 1.6 4 2.5 3.3 6.9 6.7 1.5 2 1.8 4 .3 4-.4 2-2.1 3.7-2 1.6-4 1.5-4 .1-2.9-.9-3.1-1.9-2.1-2.1-5.3-8-3.4-4-13.2-9.5-4-4.5-2-4-.9-4-.1-4 1-5 1.5-3 2.5-2.8 4-2.3 3.2-.9zM405.2 640.1l4-.4 6 .8 10 3.7 8 4.5 10 6.6 5.7 4.8 3.7 4 14.6 20.7 9.6 9.3 3 4 1.1 4-.7 6-2.4 6-2.6 3.8-2.2 2.2-3.8 2.7-4 1.6-16 2.6-6 1.8-4 1.9-14 8.3-6 1.7-4 0-3.1-.6-8.9-3.2-12-6.1-5.4-4.7-3.7-6-4.1-12-1.6-8-.1-4 .5-4 1.9-6 7.3-16 4.9-16 2.3-4.9 2.2-3.1 3.8-3.5 6-2.5zM111.3 662.1l3.9-1.2 6-.7 4 .2 6 1 16 5.4 22 6.6 16 5.9 6 3.3 12 9 4 2.2 4 1.5 14 3.5 7.3 3.3 16.7 11.6 18.5 10.4 11.5 9.2 4 2.5 4 1.5 10 1.3 4.8 1.5 2.7 2 1.6 2 .9 2 0 2.1-.8 1.9-1.2 1.1-4 1.8-4 .5-10-.6-6 .2-30 4.3-10 2.5-4 1.9-2.7 2.3 0 10-58.2 0 0-10 30.9-4.1 3.7-1.9 1.3-2 .3-2-.5-2-2.8-3.6-3.5-2.4-20.5-9.2-6-3.5-6-4.7-4.3-4.6-10.4-14-15.1-16-8.2-10.3-2-1.9-2-1.4-4-1.6-12.5-2.8-3.5-1.7-2-1.6-2.1-2.7-.5-2 .3-2 1.4-2 3-2z" fill="#dade4a" fill-rule="evenodd"/>
<path d="M47.2 462.1l52.6 0 .1 14 3.3 2.2 4.2 3.8 2.7 4 4 8 3.1 5 3.1 3 2.9 1.6 10 2.7 4.3 1.7 2.6 2 1.4 2 .5 2-.6 4-1.3 2-2.1 2-11.2 6-4.8 4-2.8 4.5-6 14.5-2 3.1-4 3.8-6 3.4-16.7 6.7-13.3 6.8-6 2-18-.1 0-114.7zM637.2 462.1l32 0 0 139.9-8 .3-2 1.4-4 1.2-6 .1-6-1.3-4-1.9-4.4-3.7-3.5-6-4.6-14-3.2-6-5.6-6-13.7-10-6.1-6-2.7-4-2.9-6-3.1-8-.9-4 .3-4 2.3-4 4.1-3.4 8-5.2 4-3.4 4-5 8-12.9 3.5-4.1 4.7-4 9.6-6 .2-14zM369.7 486.1l7.5-1 6-.1 6 .6 6 1.6 8 4.4 19.7 14.5 4.3 3.7 1.9 2.3 1.2 2 1.2 4-.3 6-1.8 4-1.4 2-2.8 2.8-4 2.7-4 1.6-6 1.6-30 5.2-30 1.2-4.8 .9-4.8 2-10.4 7.3-14 6.4-6 4.1-8 8.9-5.4 7.3-10.6 20.2-4 4.1-6 2.7-6 .8-10-.4-14-2-10-2.8-8-4.1-10-7.3-12-7.4-4-3.4-1.7-2.4-1-4 .8-4 1.9-2.8 4-3.1 6-2 16-2.9 6-2.6 12-8.1 6-3.1 6-1.8 12-2.4 4-1.4 4-2.8 8.2-9 2.9-2 4.3-2 8.6-2 14-1.1 4-1.3 4-3.2 9.3-14.4 2.7-2.9 3.7-3.1 7-4 8.6-4 6.7-2.4 6.5-1.6zM520.3 548.1l4.9-.5 6 1 4 2.6 2 2.8 1.6 6.1 .1 12 .4 4 1.8 4 6.2 6 2.6 4 .4 2-.3 2-1.4 2-1.4 .7-2 .3-2-.4-2-1.2-2-2.3-4.1-7.1-1.9-2-3-2-12-6-3-2.5-2.8-3.5-1.2-2.7-.8-3.3-.1-4 .9-4 2-3.6 2-2 5.1-2.4zM404.1 642.1l5.1-.8 4 .3 4 .9 6 2.3 8 4.2 10 6.4 6 4.6 4 4.1 4 5.1 10 14.9 4 4.8 7.1 7.2 2.2 4 .7 4-1 6-3 6-3.7 4-4.3 2.6-4 1.3-14 2.2-6 1.8-6 3-12 7.1-6 1.7-6-.4-8-2.7-12-6-6-4.8-4-6-4.3-11.8-1.6-8-.1-4 .5-4 1.9-6 7.2-16 4.4-13.7 2-4.7 4.1-5.6 3.9-2.8 2.9-1.2zM117.9 662.1l5.3-.2 6 1.1 12 3.9 16 3.7 10 2.8 10 3.3 8 3.3 6 3.4 10 7.7 5 3 5 1.9 14 3.6 6 2.6 17.2 11.9 17.7 10 5.2 4 11.9 10.6 4 2 10 1.3 4 1.9 1.3 2.2-.2 2-3.1 2.1-4 .3-8-.3-4 .5-12.5 3.4-21.5 3.3-8 1.9-4 1.8-3.6 3 0 10-52.4 0 0-10 12-1.9 12-.8 5.4-1.3 2.7-2 1.1-2 .1-2-.6-2-2.7-3.7-3.1-2.3-20.9-9-8-4.6-5.6-4.4-4.4-4.7-11.8-15.3-13.3-14-6.9-9.5-4-4.6-4-2.3-14-3.2-4.1-2.4-1.9-2.9-.3-1.1 .6-2 2-2 6.4-2z" fill="#e4e146" fill-rule="evenodd"/>
<path d="M47.2 462.1l48.1 0 .1 14 6 4 4.2 4 2.6 4 4.5 10 2.5 4.2 2 2.2 4 2.3 10 1.8 4 1.3 2.8 2.2 1 2 .1 2-.7 2-1.4 2-2.5 2-9.3 4.7-4 3.5-3.2 5.8-5.4 14-2.7 4-2.7 2.6-6 3.5-18 6.4-14 5.9-4 .3-2-.8-2-1.8-14 0 0-14.6 14 0 2-1.7 .9-1.8 .4-2-.6-2-2.7-1.5-14 0 0-84.5zM641.6 462.1l27.6 0 0 136.8-8 .4-2 1.8-2 1-4 .9-6-.4-4-1.3-4-2.3-3-2.9-3-5.3-4.4-12.7-3.2-6-6.4-7.1-14-10.6-4.3-4.3-2.8-4-2.9-6-1.9-6-.7-4 .3-4 .9-2 3.4-3.6 9.8-6.4 4.1-4 2.7-4 6.5-12 4.5-6 6.9-6 9.7-6 .2-14zM375.7 486.1l5.5-.3 6 .3 6 1.3 4 1.6 8 5.1 17.9 14 3.7 4 1.3 2 1.3 4 .1 4-.5 2-1.8 3.9-1.7 2.1-4.3 3.5-6 2.4-30 6-12 1.2-26 .2-4 .7-5.2 2-8.8 6.2-14 6.5-6 4.2-4 4.9-8.4 12.2-9.1 18-2.5 3.7-4 3.5-6 2.4-8 .6-8-.5-12-1.9-10-2.9-6-3.1-12-8.6-11.3-7.2-4-4-.9-2-.3-4 .7-2 1.4-2 2.4-2 6-2.3 14-2.2 4-1.2 6-3 12-8 6-2.6 6-1.4 16-.9 4-1.1 1.8-1.3 1.3-2 3.9-8 4.1-4 3.7-2 5.2-1.4 6-.6 10 .2 4-.7 2-.8 2-1.6 2-2.5 8-14.6 3.4-4 2.6-2.2 5.8-3.8 12.5-6 7.7-2.5 8.5-1.5zM522 550.1l5.2-.1 4 1.6 2.6 2.5 1.4 3.1 .5 2.9 0 4-1.3 6-2.3 4-2.9 1.7-4 0-6-2.3-3.8-3.4-2.1-4-.6-6 1.2-4 1.2-2 2-2 4.9-2zM403.3 644.1l3.9-1 6 .1 4 .9 6 2.2 8 4.2 8 5 6 4.3 4.5 4.3 5.5 6.9 10 14.9 8.9 10.2 2.5 4 .9 4-.7 6-1.6 4-4 4.9-4 2.6-4 1.4-14 2.4-6 1.7-4 1.9-14 8.1-6 1.7-4 0-3.2-.7-8.8-3.3-10-5.4-6-5.3-4-6.7-3.3-9.3-1.6-8-.2-4 .5-4 1.9-6 7.2-16 5.6-16 3.9-5.9 2.5-2.1 3.6-2zM118.1 664.1l3.1-.2 4 .4 12 4.1 20 3 16 4.6 8 2.9 6.7 3.2 17.3 12.3 4.2 1.7 13.8 3.5 6 2.3 6 3.6 12 8.7 16 9.1 6.6 4.8 6 6 6.5 8 .9 2-.1 2-1.8 2-3 2-7.1 2.9-6 1.5-18 2.8-6 1.5-4 1.6-2.7 1.7-1.9 2 0 10-47.6 0 0-10 8.2-1.3 14-.7 6-1.8 2.5-2.2 .7-2 0-2-1.8-4-1.7-2-3.7-2.6-22-9.3-6-3.3-6-4.3-6-6.2-11.2-14.3-13.2-14-3.1-4-6.5-10.5-2-2.2-4-2.1-8-1.2-4-1-2.3-1-2.3-2-.6-2 1-2 5.1-2z" fill="#eee442" fill-rule="evenodd"/>
<path d="M47.2 462.1l42.6 0 .1 14 9 6 4.3 4.3 3.1 5.7 3.7 12 2 4 2.1 2 3.1 1.4 4 .5 9.6 .1 3.5 2 .7 2-.7 2-1.1 1.2-10 5.6-3.2 3.2-2.1 4-4.5 14-1.9 4-2.3 3.2-4 3.5-6 2.9-6 2-18 4.7-4 .8-2-.2-2-.9-.9-2 0-2 2.4-6 1-4-.2-4-2.3-3.7-2-1.3-2-.6-16-.1 0-80.3zM646.1 462.1l23.1 0 0 133.4-6 0-2 .5-2 2.3-2 1.3-2 .8-4 .5-4-.6-4-1.5-3.8-2.7-1.7-2-2.5-4.3-4.4-11.7-3.1-6-3-4-3.5-3.5-13.3-10.5-4.2-4-2.8-4-2-4-2-8 .2-4 1.8-4 2.3-2.2 8.6-5.8 4.1-4 3.3-5.3 5.9-12.7 4.1-6 6.4-6 12.4-8 .1-14zM369.3 488.1l9.9-1.4 10 .6 4 1 4 1.6 6 3.8 17.5 14.4 3.8 4 1.3 2 1.4 4 .1 4-1.4 4-1.3 2-3.4 3.2-6 2.8-16 2.9-18 4.1-12 .9-24-.9-8 .9-4 1.5-10 6.9-14 4.7-2 1.1-2 1.9-1.1 2-4.2 10-6.7 12.2-8 16.3-4 4.4-2 1.3-4 1.5-6 .9-10-.5-12-2-8-2.3-7.6-3.8-12.4-8.9-7.9-5.1-4.1-3.5-1.7-2.5-.5-2 .2-2.4 2-3.1 2-1.4 4-1.6 14-2.2 6-1.9 6-3.3 10-6.6 6-2.7 6-1.2 6 .1 14 2.7 6 .5 4-.2 4-1.2 1.7-1.5 .2-2-3.1-6-.9-4 .3-2 1-2 1.9-2 4.1-2 2.8-.5 6 0 10 1.3 4-.4 2-.9 2-2 2-3.6 5.7-13.9 2.5-4 3.7-4 5.4-4 8.7-4.8 7.4-3.2 6.7-2zM519.8 554.1l3.4-1.1 4 .4 2 1.1 2 2.6 .8 3-.3 4-1.9 4-2.6 2.3-2 .6-4-.6-2-1.2-2.6-3.1-1-4 .2-2 1.4-3.7 2.6-2.3zM402.8 646.1l4.4-1.3 4-.2 4 .6 6 1.8 8 3.9 10 6 6 4.4 4 3.8 4.2 5 11.8 17.7 6.9 8.3 2.6 4 1.2 4-.5 6-1.6 4-3.2 4-3.4 2.4-4 1.6-14 2.4-6 1.8-6 2.9-12 7-6 1.7-6-.5-8-2.7-10-5.3-6-4.7-4.5-6.6-3.9-10-1.6-8-.2-4 .5-4 2-6 6.3-14 5-14 1.9-4 2.5-3.7 2-2 3.6-2.3zM118 668.1l3.2-.7 2 .2 1.7 .5 1.1 2-2.8 .6-4-.5-1.2-2.1zM137.2 672.1l6-1 10 .5 8 1.5 12 3.5 8 2.9 6 2.9 5.6 3.7 8.4 6.6 4 2.4 6 2.2 12 3.1 6 2.3 5.5 3.4 12.5 9.1 14 7.8 7.1 5.1 4.1 4 4.5 6 1.9 4 .3 2-.4 2-1.3 2-2.4 2-4 2-7 2-20.8 3.6-4 1.1-4 1.9-2 1.4-1.6 2 0 10-43.5 0 0-10 7.1-.9 12-.3 6-1.1 3.2-1.7 1.5-2 .5-2-.8-4-2.8-4-3.6-2.7-4-2.1-12-4.3-8-3.5-8-4.7-6-5-4-4.4-8.8-11.3-13.2-14-4.7-6-4.2-8-2.5-6-.3-2 1.7-2z" fill="#f3e040" fill-rule="evenodd"/>
<path d="M47.2 462.1l35.1 0 .1 14 .8 2.3 2 1.9 10 5.1 3 2.7 1.4 2 1.7 4 .3 4-1.7 8 .1 4 1 2 2.2 2.1 2.9 1.9 9.1 4.3 1.6 1.7 .3 2-2.6 14-2.3 8-3 5.5-2 2.2-3.2 2.3-4.8 2.3-8 2.2-8 1.1-4-.1-2-.5-1.7-1-1.1-2-.8-8-.9-4-1.5-2.9-2-2.1-2-1.1-4-.7-16 .1 0-77.3zM67.2 482.8l-1.5 1.3 .9 2 2.6 1.8 2.9 .2 1.1-.4 1.5-1.6-.2-2-1.3-.8-4-.9-2 .4zM650.8 462.1l18.4 0 0 129.7-6 0-2 .6-2 2.9-2 1.7-2 1-4 .6-3.4-.5-2.6-.9-4-2.7-2-2.3-2.3-4.1-4.8-12-2.2-4-3-4-3.7-3.9-14.6-12.1-3.4-3.8-3.2-6.2-1-6 .7-4 1.5-2.6 2-2.1 8-5.9 4.9-5.4 3.1-5.8 5.1-12.2 4.9-7.5 7.4-6.5 12.1-8 .1-14zM374.5 488.1l8.7-.6 8 1.1 6 2.4 7.5 5.1 13.7 12 5 6 1.5 4 .2 2-.7 4-1.2 2.2-4 3.8-4.5 2-15.5 2.9-14 3.8-8 1.4-8 .5-12-.7-15-1.9-7-2-2.2-2-.7-2 .4-8 2.6-10 1.8-4 2.7-4 6.4-6 10.1-6 8.9-3.8 9.3-2.2zM252.6 554.1l6.6-1.7 4-.1 4 .5 22.2 7.3 3.8 2 1.8 2 .8 4-.8 4-8.4 20-3.4 6-2 2.3-4 2.7-6 1.7-8 .1-12-1.6-10-2.6-6-2.6-4-2.5-18.8-13.5-3.7-4-.7-2 .1-2 1.1-2 2-1.4 4-1.5 12-1.8 6-1.8 6-3.1 9.6-6.4 3.8-2zM521.9 560.1l1.3-.8 2 .8 0 2.2-2 1.2-1.7-1.4 .4-2zM402.5 648.1l4.7-1.6 4-.2 4 .5 6 1.8 8 3.9 10 5.9 6 4.4 4 3.9 4.4 5.4 9.6 14.7 8.4 11.3 2.1 4 .7 4-.4 4-1.6 4-3.2 3.8-3.6 2.2-2.4 .9-14 2.7-6 1.7-6 2.9-12 7-6 1.6-6-.5-8-2.8-10-5.4-5-4.1-4.4-6-4-10-1.7-8-.1-4 .5-4 1.9-6 5.4-12 7.2-18 2.2-3.5 2-2.2 3.3-2.3zM140.8 674.1l4.4-1.4 8-.1 8 1.2 12 3.3 8 3.1 6 2.9 4.6 3 9.4 7.4 4 2.3 6 2.2 12 3.1 6 2.4 4.3 2.6 11.7 8.7 16 9.2 5.7 4.1 4 4 4.1 6 1.5 4-.4 4-1.3 2-2.3 2-4 2-7.5 2-17.8 3-8.7 3-2.8 2-1.4 2 0 10-38.6 0 0-10 17.5-.5 7.1-1.5 2.8-2 1.1-2 .2-2-1.1-4-2.7-4-5.4-4-18-6.7-6-2.7-8-4.8-6-5-13.9-16.8-11.4-12-4.6-6-2.9-6-1.2-4 0-4 1.6-2z" fill="#f2d340" fill-rule="evenodd"/>
<path d="M655.7 462.1l13.5 0 0 125.1-6 0-2 .9-2 3.8-2 2.1-2 1.2-4 .9-2-.2-4-1.6-4-3.6-2.7-4.6-5.3-12-2.5-4-5.2-6-13.9-12-3.5-4-2.2-4-.9-6 1-4 1.3-2 1.9-2.1 8-6.4 4.7-5.5 3.1-6 5.7-14 4-6 6.5-6 14.4-10 .1-14zM369.6 490.1l7.6-1.4 8-.1 7.7 1.5 6.3 3.2 8.4 6.8 12 12 1.6 2.5 1.3 3.5-.1 4-1.2 2.7-3.3 3.3-4.7 2.2-16 3.3-14 4.1-8 1.3-8 .3-10-.9-10-1.9-6.4-2.4-2.5-2-1.3-2-.7-2-.5-4 1.1-8 1.5-4 2.2-4 4.6-5.1 6.7-4.9 9.3-5 8.4-3zM47.2 494.1l0-1.7 14 0 6 4.4 11.5 5.3 2.5 1.6 2.4 2.4 5.5 8 2.3 2 3.5 2 12.3 4.9 4 2.7 1.5 2.4 .5 2-.2 8-2 8-1.8 3.5-2 2.5-4 3-6 2.5-8 1.4-6-.4-2-.8-2-1.8-1.6-3.9-2.4-8.9-2-3.6-2-1.8-2-1-4-.7-4 .4-14 0 0-42.4zM253.9 556.1l3.3-.8 4-.3 6 1.1 17.7 8 3 2 1.7 2 .8 2 .1 4-1.6 6-2.7 8-4 8-3 3.3-2 1.4-6 2.1-8 .3-10-1.3-10-2.5-6-2.5-4.6-2.8-15.6-12-4.1-4-.8-2 .5-2 2.4-2 14.2-2.8 4-1.4 6-3 10-6.5 4.7-2.3zM408.1 648.1l3.1-.2 4 .5 4 1.1 6 2.5 14 7.8 6 4.5 4 3.9 6 7.9 8 12.7 6.6 9.3 2.1 4 .9 4-.3 4-1.6 4-1.7 2.1-2.3 1.9-4.3 2-13.4 2.7-6 1.7-6 2.9-12 6.9-6 1.7-6-.6-8-2.8-10-5.6-5.4-4.9-3.9-6-3.7-10-1.3-8 .5-6 1.9-6 5.4-12 5.6-14 2.1-4 2.8-3.6 2-1.7 4-2.1 2.9-.6zM146.2 674.1l5-.6 8 .6 8 1.8 10 3.3 10.5 4.9 13.3 10 4.2 2.5 6 2.1 12 3.1 6 2.6 16.6 11.7 15.4 8.9 6.5 5.1 3.4 4 2.3 4 1.2 4-.6 4-1.3 2-2.4 2-4.3 2-8 2-16.8 2.9-8.9 3.1-2.6 2-1 2 0 10-15 0 0-10 6.3-2 2.1-2 .5-2-.7-4-2-4-2.7-3.2-3.7-2.8-4.3-2-16-5.5-6-2.7-8-4.8-6-5.1-13.3-15.9-11.4-12-4.4-6-2.6-6-.7-4 .3-2 1.1-2 4-2z" fill="#f1c540" fill-rule="evenodd"/>
<path d="M660.8 462.1l8.4 0 0 110.7-6 0-2 5.1-.8 6.2-1.5 4-1.7 2.4-2 1.6-4 1-4-.9-4-3.3-2-2.9-5.6-11.9-4.1-6-5.6-6-11.3-10-3.4-4-1.9-4-.5-4 1.1-4 1.2-2 10.9-10 3.3-4 3.3-6 5.6-14 3.9-6 6.3-6 11.6-8 4.7-4 .1-14zM374.5 490.1l6.7-.7 8 .7 6 2 6.2 4 10.4 10 6.4 8 1.5 4 .1 2-.5 2-1.1 2-3 2.6-4 1.7-14 3.2-14 4.5-8 1.5-8 .3-10-1.1-8-1.9-6-2.9-2.1-1.9-1.3-2-.7-2-.6-4 .3-4 1-4 3.1-6 5.9-6 9-6 9-4 7.7-2zM47.2 500.1l0-1.4 14 0 12.4 9.4 3.7 4 4.4 6 3.5 3.1 4 1.4 12 2.2 4 1.5 2.9 1.8 1.8 2 .9 2 .6 6-.6 4-1.2 4-2.4 4.1-4 3.4-4 1.8-6 1.3-6-.2-4-2-1.8-2.4-4.2-13.8-2-3.3-2-1.6-4-.9-4 .2-4 .9-14 0 0-33.5zM257.1 558.1l6.1 .3 6 2.2 12 6.8 3.1 2.7 1.3 2 .7 4-.4 4-2.9 10-1.8 3.6-2 2.7-2 1.8-3.5 1.9-6.5 1.2-8-.4-10-1.9-8-2.6-4.3-2.3-5.5-4-8.8-8-3.3-4 0-2 2.8-2 11.1-3.5 6-3.1 12-7.5 5.9-1.9zM406.7 650.1l4.5-.5 4 .4 4 1.1 6 2.4 14 7.7 6 4.5 4 4.1 6.2 8.3 14.8 24 1 4-.2 4-1.8 4-1.7 2-3 2-3.3 1.3-14 2.9-4 1.3-18 9.7-6 1.7-6-.6-8-2.9-8-4.4-6-5-4.2-6-3.2-8-1.7-8-.2-4 .5-4 1.9-6 12.3-28 2.6-3.5 2-1.9 2-1.3 3.5-1.3zM145.3 676.1l5.9-1.6 6 .1 8 1.5 10 2.9 6 2.4 6 3.1 12.7 9.6 5.3 3.2 4 1.5 14 3.8 6 2.6 16 11.5 16 9.3 5.1 4.1 3.4 4 2.3 4 1 4-.8 4-1.4 2-2.6 2-4.5 2-8.5 2-16 2.7-10 2.9-2 .1-2-2.6-3.6-7.1-3.4-4-2.6-2-4.4-2.2-16-5.2-8-3.6-8-4.8-6-5.2-12.6-15-11.4-12-4.3-6-1.7-4-.8-4 .1-2 .7-2 2.1-2zM220.2 764.1l3-.9 2 0 .6 .9 0 10-5.6 0 0-10z" fill="#efb740" fill-rule="evenodd"/>
<path d="M659.6 482.1l1.6-1.2 8-.3 0 82.7-6 0-2 1.4-1.4 7.4-.8 8-1 4-1 2-1.8 2.1-2 1.1-2 .3-4-1.3-2.4-2.2-1.6-2.2-5-9.8-4.2-6-5.5-6-10.9-10-3.2-4-1.1-2-.8-4 .8-4 1.9-2.9 11.6-11.1 3-4 2.2-4 6-14 3.8-6 6.3-6 11.5-8zM370.6 492.1l6.6-1.3 8-.2 6 1.1 6 2.8 4.7 3.6 4.1 4 8.2 10 1.9 4 .4 2-.2 2-.8 2-1.9 2-3.9 2-12.5 3.5-14 4.9-8 1.7-8 .3-8-1-6.1-1.4-5.9-2.5-4-3.5-1.1-2-1.1-4 .5-6 2.4-6 3.3-4.3 6.8-5.7 7.2-4.3 9.4-3.7zM47.2 506.1l0-1.6 14 0 6.2 5.6 3.3 4 2.7 6 .2 2-.4 2-2 2.1-10 4.2-14 0 0-24.3zM88.8 528.1l6.4-.7 6 .9 4.2 1.8 1.8 1.6 1.5 2.4 .8 4-.7 6-1.9 4-1.7 2.1-2.5 1.9-5.5 2.2-6 .3-4-1.3-1.6-1.2-1.5-2-1.5-4-.7-4-.1-8 .6-2 1.6-2 4.8-2zM253.7 562.1l5.5-.8 6 1.5 10 5.6 4 3.2 2 2.5 .8 2 .6 4-.9 6-2.5 6.3-2 2.6-2 1.7-4 1.8-6 .8-8-.7-8-1.9-6-2.2-4.5-2.4-4.9-4-3.5-4-1.9-4 .4-2 1.8-2 18.6-11.9 4.5-2.1zM406 652.1l3.2-.7 4 0 4 .7 6 2.1 14 7.2 6 4.1 4 3.6 7 9 14.3 24 1 4 .1 2-1 4-1.4 2.2-2 1.9-3.7 1.9-14.3 3.3-4 1.3-18 9.6-6 1.7-6-.6-6-2-8-4.2-6.6-5.1-4.4-6-3.4-8-1.8-8-.1-4 .5-4 1.9-6 11.5-26 2.4-3.4 2-1.9 4.8-2.7zM149 676.1l4.2-.7 6 .2 8 1.6 9.3 2.9 10.7 5.1 12 9.2 6 3.6 18 5.3 6 2.8 14 10.2 16 9.3 5.7 4.5 3.5 4 2.2 4 .9 4-1 4-1.5 2-2.7 2-5.1 2-28 4.9-4 0-2-1.3-5.4-7.6-4.6-4.3-6-2.9-14-4.3-8-3.2-9.1-5.3-6.9-6-12-14-11.3-12-4.2-6-2-6 .4-4 1.3-2 3.6-2z" fill="#eca840" fill-rule="evenodd"/>
<path d="M661 486.1l8.2-.3 0 67.2-6 0-2 1.9-5.1 25.2-.9 2.2-1.6 1.8-2.4 .8-2-.4-2-1.4-2-2.3-5.3-8.7-3.1-4-17.8-18-2.3-4-.5-4 1-3.2 1.8-2.8 10.5-10 3.4-4 3.4-6 5.5-12 3.4-5.2 6-6 9.8-6.8zM375.8 492.1l7.4-.5 6 .8 4.8 1.7 5.2 3.3 6.6 6.7 4.4 6 2 4 .5 2 0 2-.6 2-1.8 2-3.4 2-21.7 8.1-10 2.5-6 .4-8-.8-8-2.1-4.2-2.1-2.4-2-1.6-2-.9-2-.7-4 .9-6 2.9-5.4 4.2-4.6 8.3-6 8.5-4 7.6-2zM47.2 512.1l0-.9 14 0 3.6 4.9 .9 4-.5 2-1.3 2-2.7 2.1-14 0 0-14.1zM91 532.1l4.2-1.1 6 .6 4 2.4 1.4 2.1 .9 4-.6 4-2.1 4-3.6 2.8-4 1.4-4 .1-4-1.5-2.4-2.8-1.2-4 .3-6 .7-2 1.5-2 2.9-2zM252.9 566.1l4.3-.9 6 1.1 8 4.3 4 3.3 1.8 2.2 1.7 4-.1 6-1.4 4-3.3 4-2.7 1.6-4 1-4 .2-6.2-.8-7.4-2-4.7-2-3.7-2.3-3.8-3.7-1.9-4 .1-2 .8-2 1.7-2 4.9-4 5.9-4 4-2zM405.6 654.1l3.6-.9 4-.1 4 .7 6 2.1 14 6.9 6 4.2 4 3.6 4 4.8 3.2 4.7 12.3 22 1.1 4 .1 2-1.1 4-1.5 2-2.6 2-3.5 1.5-16 4.2-18 9.5-6 1.6-6-.5-6-2.1-8-4.2-6-4.9-2.6-3.1-2.3-4-3.1-8-1.3-8 .5-6 2.7-8 10.1-22.3 4-5 4.4-2.7zM147.7 678.1l5.5-1.8 6 0 8 1.5 8 2.4 6 2.5 6 3.2 12 9.3 4.8 2.9 5.2 2.1 12 3.2 6.5 2.7 5.5 3.6 10 7.6 15.2 8.8 5.2 4 3.5 4 2.1 4 .8 4-1.1 4-1.6 2-3 2-5.4 2-19.7 3.1-8 .3-2.7-1.4-6.7-8-5.4-4-5.2-2.2-16-4.7-10-4.6-6-4-5.1-4.5-12.2-14-13-14-3.3-6-.8-4 .2-2 .8-2 1.9-2z" fill="#ea9940" fill-rule="evenodd"/>
<path d="M659.7 492.1l1.5-1 8-.2 0 53.3-6 0-2 .9-3.5 17-2.5 8.5-2 4.9-2 1.9-2-.1-2-1.3-8.9-9.9-16-16-2.1-4-.2-4 1.2-2.8 2.3-3.2 9.7-9 4.2-5 7.8-15.1 3.2-4.9 4.8-5.1 6.5-4.9zM372.2 494.1l7-1.2 6 0 5.5 1.2 4.5 2.1 2.7 1.9 4.1 4 4.4 6 2.5 6 0 2-.5 2-1.5 2-3.7 2.4-17.1 7.6-8.9 2.8-6 .7-8-.5-6-1.4-6-2.8-2-1.6-2-2.5-1.4-4.7 .8-6 2-4 4.6-5.4 5.9-4.6 7.4-4 5.7-2zM92.6 536.1l2.6-1.2 2-.3 4 .8 2 1.4 1.6 3.3 .1 2-1.4 4-2 2-2.3 1.1-4 .6-2-.6-2-1.2-1.2-1.9-.7-4 1.3-4 2-2zM255.7 570.1l3.5 0 5.6 2 4.4 2.8 3.3 3.2 1.9 4 0 4-1.7 4-2.3 2-5.2 1.6-4 0-4-.7-8-2.9-3.1-2-2-2-1.3-2-.5-2 .3-2 .9-2 1.6-2 4.1-3.3 4-2.1 2.5-.6zM405.2 656.1l4-1.2 4-.1 8 1.9 14 6.4 6 3.8 4 3.2 4 4.3 4 5.7 9 16 2.8 6 1 4 0 2-.8 3-2 2.7-4 2.4-16 4.6-18 9.5-6 1.6-6-.5-6-2.1-6.1-3.2-5.9-4.4-4.6-5.6-3-6-2.2-8-.3-8 2.2-8 9.9-21.9 4-5.3 4-2.8zM150.4 678.1l4.8-1.1 6 .3 8 1.6 8 2.7 9.1 4.5 12.9 9.9 4 2.4 6 2.5 12 3.3 8 3.7 13.6 10.2 14 8 6.4 5 2.6 3 2.1 4 .7 4-1.2 4-1.8 2-3.2 2-6.2 2-13.6 2-9.4 .2-4-1.8-7.8-8.4-4.2-2.8-6-2.3-16-4.6-10-4.6-6-4-6-5.5-10.6-12.2-11.3-12-3-4-1.8-4-.5-4 .3-2 1.2-2 2.9-2z" fill="#e78d40" fill-rule="evenodd"/>
<path d="M379.6 494.1l5.6 .1 4 .9 4 1.6 4.7 3.4 3.5 4 3.3 6 .6 4-.4 2-1.3 2-5.5 4-10.9 5.6-6 2.5-6 1.5-6 .4-8-1.1-6-2.2-4-2.7-2.5-4-.5-4 1-4.5 3.3-5.5 6.4-6 6.3-3.9 6-2.4 8.4-1.7zM659.1 498.1l2.1-1.5 8-.2 0 41.7-6 0-2 .6-2.8 7.4-3.2 15.1-2 4.6-2 2.6-2 .9-2-.3-6-4.1-13.8-12.8-2.8-4-.8-4 1.3-4 1.4-2 10.9-10 3.5-4 10.3-18 3.4-4 4.5-4zM97.1 540.1l2.1 .4 .9 1.6-.5 2-2.4 1-2-1-.1-2 2-2zM253.6 578.1l3.6-1.1 4 .6 2 .9 2.3 1.6 1.5 2 .6 2-.3 2-2.1 2-4 .6-3.2-.6-4-2-1.9-2-.7-2 .4-2 1.8-2zM405.1 658.1l4.1-1.4 4-.1 8 1.8 14 6.2 6 3.7 4 3.3 4 4.4 4.1 6.1 9.2 18 1.6 6-.6 4-1.2 2-2.3 2-2.8 1.4-14 4.3-18 9.5-6 1.6-6-.6-6-2.1-7.3-4.1-4.7-3.8-4-5.1-3.2-7.1-1.9-8 0-6 .8-4 2.2-6 8.1-17.5 4-5.6 3.9-2.9zM154.1 678.1l3.1-.3 6 .4 8 1.9 6 2.1 6 2.8 4 2.4 11.1 8.7 4.9 3.1 6 2.3 12 3.4 6.8 3.2 13.2 10 16 9.3 5.7 4.7 2.8 4 1.5 4-.3 4-1 2-2 2-2.7 1.6-6 1.9-12 1.7-8 0-4-1.4-8-7.9-6-3.8-22-6.5-10-4.7-6-4-5.3-4.9-10.6-12-9.6-10-4.6-6-1.7-4-.4-2 .7-4 1.6-2 4.8-2z" fill="#e48440" fill-rule="evenodd"/>
<path d="M375.3 496.1l5.9-.7 6 .6 4 1.5 4 2.5 3.8 4.1 2.1 4 .8 4-.3 2-.9 2-4.2 4-6.3 4-7 3.5-6 2-6 .8-6-.3-6-1.6-4-2.1-2.5-2.3-1.8-4 0-4 2.6-6 3.7-4.3 6-4.7 5.7-3 6.4-2zM660 504.1l1.2-1 8-.3 0 29.3-8 .3-2.4 3.7-1.7 4-3.9 16-1.8 4-2.2 2.2-2 .5-2-.3-6-3.4-7.7-7-2.7-4-.6-4 1-2.6 2.7-3.4 9.5-8 3.9-4 2.8-4 6.6-12 5.3-6zM405 660.1l2.2-1 4-.8 4 .2 6 1.6 8 3 6 2.9 6 3.8 4 3.3 4 4.6 4 6.2 7.7 16.2 1.1 4 0 4-.7 2-1.6 2-4.5 2.6-14 4.9-16 8.6-6 1.6-4-.2-6-1.6-7.5-3.9-5.2-4-4.7-6-2.7-6-1.9-8 0-6 2.2-8 7.8-17.2 4-5.8 3.8-3zM151.4 680.1l3.8-1.3 6-.1 6 1 8 2.3 10 4.8 12 9.3 6 3.8 6 2.3 12 3.5 5.2 2.4 4.8 3.2 10 7.9 14 7.9 6 4.7 2 2.3 2.2 4 .5 4-.7 2.5-.9 1.5-2.1 2-4.1 2-2.9 .8-10 1.5-6 .2-3.8-.5-4.2-2-8-7.7-4-2.4-4.9-1.9-17.1-4.4-10-4.3-6-3.8-6-5-24.1-26.5-2.2-4-.8-4 .2-2 .9-2 2.2-2z" fill="#e17b40" fill-rule="evenodd"/>
<path d="M373.5 498.1l5.7-1 4 0 5 1 4 2 3 2.6 2.3 3.4 1.1 4-.7 4-3.2 4-5.3 4-6.2 3.4-6 2.3-4 .7-6 0-4-.8-4.2-1.6-2.8-2-1.7-2-.8-2-.2-4 1.4-4 2.7-4 4.3-4 6.4-4 5.2-2zM660.6 514.1l.6-1 2-.4 6 0 0 10.4-10 .5-1.2-1.5 .2-2 2.4-6zM647.2 534.1l2-.5 2 .8 .6 3.7-.6 8-1.6 6-1.2 2-1.2 1.3-2 .7-2-.2-4-2-4-3.8-1.1-2-.5-2 .4-2 1.2-2.2 4-3.7 8-4.1zM405 662.1l2.2-1.1 4-.8 4 .1 4 .8 8 2.7 6 2.6 6 3.4 4 3 4 4.1 3.8 5.2 6 12 2.3 6 .9 4-.4 4-1 2-2.1 2-3.5 1.9-12 4.6-14 7.6-6 2.2-4 .3-6-1.1-7.6-3.5-5.6-4-4.8-5.7-3-6.3-1.9-8 0-6 .8-4 2.1-5.9 6-12.9 4-6 3.8-3.2zM154.1 680.1l3.1-.7 6 .2 6 1.2 8 2.6 8.9 4.7 11.1 8.8 6 3.7 6 2.3 10.9 3.2 7.1 3.4 14 10.9 13.8 7.7 5.1 4 1.7 2 2.3 4 .5 4-.6 2-1.2 2-2.5 2-5.1 2.1-10 1.5-8-.4-4-1.6-8.4-7.6-5.6-3.3-22-5.9-6-2.3-4.9-2.5-6.1-4-5-4.5-23.3-25.5-2.2-4-.6-4 .4-2 1.3-2 3.3-2z" fill="#de7240" fill-rule="evenodd"/>
<path d="M372.8 500.1l4.4-1 4-.3 4 .5 4 1.5 2.1 1.3 3.1 4 .7 2-.1 4-1.8 3.3-2.5 2.7-5.4 4-4.1 2.1-5.3 1.9-4.7 .6-4-.2-4-1-4-2.3-2-2.4-.9-2.7 .5-4 2-4 3.7-4 4.7-3.4 5.6-2.6zM410.6 662.1l6.6 .3 12 3.8 10 5.1 6 4.9 4 5.1 2.9 4.8 5 12 1 4 0 4-.6 2-1.5 2-2.8 2.1-12 5.3-14 7.6-4 1.7-4 .8-6-.6-6-2.2-6-3.5-4-3.5-4.1-5.7-3-8-.8-8 1-6 3.8-10 5.2-10 3.3-4 2.6-2.1 5.4-1.9zM159.1 680.1l4.1 .2 6 1.1 10 3.5 6 3.4 12 9.4 4 2.6 6 2.7 14 4.4 5.4 2.7 12.6 10.2 4 2.6 10 5.2 5.4 4 2.6 3 1.5 3 .5 4-.6 2-1.4 2-2.8 2-5.2 1.8-8 .9-7.8-.7-4.2-2.1-8-7.2-4-2.3-6-2-18-4.3-6-2.3-6-3.2-6-4.3-4-3.7-19.3-20.6-4.5-6-1.3-4 .1-2 .6-2 2.4-2.4 2-.9 3.9-.7z" fill="#db6940" fill-rule="evenodd"/>
<path d="M373.1 502.1l4.1-1 4-.2 4 .8 2 .9 2.1 1.5 1.5 2 .8 2-.3 4-2.1 3.4-2.6 2.6-6.1 4-7.3 2.3-6.2-.3-3.8-1.5-2.6-2.5-.9-2 .2-4 2-4 3.3-3.4 3.6-2.6 4.3-2zM410.1 664.1l3.1-.3 4 .4 8 2.1 10 4.1 6 3.8 4.2 3.9 4.3 6 3.9 8 2.5 8 .2 4-.4 2-.9 2-1.8 2-3.1 2-10.9 5.2-12 6.6-6 2.3-4 .3-6-1.2-6-2.7-4-2.7-4.1-3.8-2.7-4-1.9-4-1.6-6-.4-6 .9-6 2.1-6 3.7-8 2.4-4 3.6-4.4 4-2.7 2.9-.9zM154.6 682.1l4.6-1.2 4 .1 6 1.1 6.5 2 4.5 2 5 2.9 11.4 9.1 4.6 3 6 2.6 12 3.7 5.7 2.7 4.3 3 10 8.6 14 7.6 4 2.9 2 2.1 2.2 3.8 .4 4-.7 2-1.7 2-2.2 1.4-4 1.5-8 1-6-.7-4-1.6-8-7.1-4-2.5-5.6-2-20.4-4.7-10-4.3-4.7-3-5.3-4.3-20.5-21.7-3.3-4-1.9-4-.3-3.2 1-2.8 2.4-2z" fill="#d86040" fill-rule="evenodd"/>
<path d="M375 504.1l6.2-.4 4 1.7 2.1 2.7 .2 2-.4 2-2.8 4-5.8 4-5.3 1.6-4-.2-2-.6-1.4-.8-1.8-2-.6-2 .9-4 1.3-2 3.6-3.2 5.8-2.8zM409.8 666.1l5.4-.4 8 1.6 8 2.7 8 4.2 4.6 3.9 4.6 6 3.1 6 2.6 8 .4 4-.8 4-1.2 2-2.2 2-23.1 12.7-6 2.2-4 .3-6-1.2-4.6-2-5.4-3.6-4-4.2-2-3.1-2-4.7-1.1-4.4-.4-6 .5-4 1.8-6 3.2-7.4 2.7-4.6 3.3-4.2 4-2.9 2.6-.9zM157.4 682.1l3.8-.4 4 .3 6 1.3 6 2.1 8 4.4 10.3 8.3 5.7 3.7 4 1.9 13.6 4.4 4.4 2 5.7 4 10.3 9.1 13.3 6.9 4.7 3.7 2 2.7 1.2 3.6-.1 2-.9 2-1.9 2-4.3 2-6 .9-6-.4-2-.6-3.7-1.9-8.3-7.3-4-2.1-6-1.7-18-3.7-6-2-6.3-3.2-5.7-3.8-4.8-4.2-18.9-20-3.2-4-1.9-4 .1-4 1.3-2 3.6-2z" fill="#d7573e" fill-rule="evenodd"/>
<path d="M374.7 508.1l2.5-.4 2.3 .4 1.9 2-.1 2-1.2 2-2.9 2.3-4 1.1-2-.3-2-1.7-.3-1.4 .6-2 1.7-2.1 3.5-1.9zM409.8 668.1l5.4-.5 8 1.4 9.4 3.1 6.6 3.7 4 3.4 3.9 4.9 3.1 6 2 6 .5 6-1.3 4-1.5 2-5.8 4-14.9 8.4-4 2-4 1.3-4 .3-6-1.3-4-1.7-4.7-3-3.3-3.2-2.1-2.8-2-4-1.8-6-.3-6 .5-4 1.7-5.9 2-4.7 3-5.4 3-3.9 4-3.1 2.6-1zM155.5 684.1l3.7-1.4 4-.2 8 1.4 6 2.2 7.3 4 10.7 8.6 6 3.9 6 2.6 10 3.2 6 2.8 4.1 2.9 9.9 9.5 4 2.4 10 4.7 4.6 3.4 1.6 2 1.5 4-.2 2-1.1 2-2.3 2-4.1 1.4-6 .4-4-.7-4-1.8-8-7.2-4-2.2-4-1.3-22-4.2-6-2-6-3-5.1-3.4-4.9-4.2-20.6-21.8-2.6-4-.7-2-.1-2 .6-2 1.7-2z" fill="#d74e3b" fill-rule="evenodd"/>
<path d="M409.9 670.1l5.3-.7 8 1.2 8 2.5 6 2.9 5.1 4.1 3.4 4 3.2 6 1.8 6 .1 6-1.6 3.9-1.9 2.1-5.8 4-10.3 6-6 3.1-4 1.3-4 .3-4-.6-4-1.5-4.6-2.6-3.4-2.8-2.6-3.2-2.1-4-1.4-4-.8-6 .2-4 .8-4 2.1-6 3.2-6 2.6-3.5 4-3.3 2.7-1.2zM157.9 684.1l3.3-.7 6 .3 10 3.1 6.2 3.3 11.8 9.5 6 3.8 4 1.8 12 4.1 5.7 2.8 5 4 5.3 6 4 3.6 12 5.5 4.6 2.9 1.8 2 1.1 2 .5 2-.3 2-1.3 2-3.6 2-4.8 .6-4-.4-5-2.2-7-6.7-4-2.5-4-1.1-22.6-3.7-7.4-2.4-6-3-6-4.2-4-3.6-18-18.8-3.2-4-1.7-4 .1-2 .8-2 2.7-2z" fill="#d64539" fill-rule="evenodd"/>
<path d="M410.2 672.1l5-.8 6 .6 8 2 6 2.6 5.2 3.6 3.7 4 3.1 5.4 1.6 4.6 .6 4-.5 4-1.7 3.4-2 2.2-6.2 4.4-9.8 5.8-4 2-4 1.3-4 .3-4-.7-4-1.5-4-2.3-5-4.9-2.3-4-1.4-4-.9-6 .3-4 1.3-5.7 1.7-4.3 2.3-4.2 2.9-3.8 3.1-2.6 3-1.4zM156.8 686.1l2.4-1.3 4-.7 6 .8 6 1.8 8 4.1 11.4 9.3 4.6 3.1 4 2 13.8 4.9 4 2 5.2 4 7 9.2 2 2 4 2.1 8.2 2.7 3.8 2 2 1.7 1.6 2.3 .4 1.8-.5 2.2-2 2-3.5 1.1-6-.6-4.4-2.5-5.6-6.3-4-2.7-18-1.9-8-1.3-8-2.2-7.5-3.6-5.9-4-4.5-4-18.9-20-2.5-4-.5-2 .2-2 1.2-2z" fill="#d63b37" fill-rule="evenodd"/>
<path d="M410.6 674.1l4.6-.8 6 .4 8 1.8 6 2.6 4 2.8 4 4.3 2.8 4.9 1.3 4 .2 6-1.6 4-1.5 2-4.8 4-6.2 4-7.4 4-4.8 1.7-4 .3-4-.7-4-1.5-2.9-1.8-3.1-2.6-2.6-3.4-2-4-1.1-4-.4-4 .2-4 2.4-8 2-4 3-4 2.5-2.3 3.4-1.7zM159 686.1l4.2-1 4 .2 4 .8 5.6 2 7 4 9.4 7.9 6 4 6 2.9 9.4 3.2 4.6 2.1 5.3 3.9 3.1 4 1.9 4 .6 2-.1 2-2.8 1.8-4 .6-6 .2-7.4-.6-12.6-2.6-4-1.5-6-3.1-4.1-2.8-4.7-4-19-20-2.5-4-.3-2 .4-2 2-2zM238.4 734.1l2.8-.9 2 .1 3.4 .8 2.6 1.2 2.9 2.8 .5 2-1.1 2-2.3 1-2 .2-4.4-1.2-2.4-2-1.4-2-.8-2 .2-2z" fill="#d53235" fill-rule="evenodd"/>
<path d="M411.2 676.1l4-.8 6 .2 6 1.1 6 2.2 4 2.4 4 3.8 3.2 5.1 1.2 4 0 6-1.9 4-1.7 2-4.9 4-6.3 4-5.6 2.9-4 1.3-4 .3-3.2-.5-2.8-.9-4-2.2-4.8-4.9-2.2-4-1-3.4-.5-4.6 .2-4 2.3-7.5 4-6.3 2.3-2.2 3.7-2zM162.8 686.1l4.4 0 4 .8 8 3.2 5.9 4 8.1 6.9 6 4 6 2.7 10 3.7 5 2.7 2.4 2 3 4 1.2 4-.4 2-2.1 2-3.1 .9-6 .4-6-.4-6-.8-6-1.6-6-2.4-4-2.2-5.4-3.9-4.3-4-15.4-16-3.1-4-.9-2-.2-2 .8-2 2.5-1.6 1.6-.4z" fill="#d52932" fill-rule="evenodd"/>
<path d="M412.1 678.1l5.1-.9 6 .4 6 1.4 4 1.7 4 2.6 2.9 2.8 2.5 4 1.3 4 .1 4-.5 2-2.1 4-1.9 2-5 4-5.3 3.3-4 2-4 1.3-6 .1-4-1.3-2.5-1.4-3.5-3-2-2.7-2.4-6.3-.5-4 .4-4 1-4 1.5-3.6 4-5.4 2-1.6 2.9-1.4zM160.8 688.1l2.4-.9 4-.1 5.2 1 4.8 1.8 6 3.7 8 6.8 6 4.4 4 2.1 13.2 5.2 3.7 2 2.6 2 2.8 4 .6 2-.1 2-.8 1.4-2 1.5-4 1.1-8 0-10.7-2-5.3-1.9-4.2-2.1-5.8-3.9-4-3.6-17.7-18.5-2.2-4 0-2 1.5-2z" fill="#d32030" fill-rule="evenodd"/>
<path d="M413.2 680.1l4-.8 6 .3 4 .7 4.9 1.8 3.3 2 3.8 3.7 2 3.6 .7 2.7 0 4-.5 2-2.2 3.6-2 2.1-8.9 6.3-7.1 2.9-6 0-2.8-.9-3.2-1.8-4.1-4.2-2.5-6-.4-4 .4-4 2-6 2.6-3.9 2-1.9 4-2.2zM165.1 688.1l6.1 .6 6 2.2 5.2 3.2 8.8 7.5 6 4.2 6 3 12.6 5.3 2.7 2 1.8 2 1 2 .3 2-.6 2-2.8 2-3 .7-4 .2-6-.5-9.9-2.4-7.8-4-8.3-6.7-16.4-17.3-2-4 .4-2 2-1.5 1.9-.5z" fill="#ca202d" fill-rule="evenodd"/>
<path d="M414.9 682.1l4.3-.6 4 .1 4 .7 4 1.5 3.7 2.3 2 2 2.3 3.8 .6 2.2 .1 2-.7 3.4-3 4.6-3 2.7-4.8 3.3-3.2 1.7-4 1.3-4 .2-2-.3-4-1.7-4-3.7-2.5-5.5-.4-6 1.7-6 3.2-4.6 2-1.7 3.7-1.7zM163.8 690.1l1.4-.5 4-.2 4 .9 4.4 1.8 5.6 3.8 8 7 4 2.8 6 3.3 12 5.1 3 2 1.8 2 .9 2 0 2-1.6 2-2.1 .9-4 .6-4-.1-8.6-1.4-5.4-2-3.9-2-8.1-6.1-15.4-15.9-2.8-4-.4-2 1.2-2z" fill="#c0202a" fill-rule="evenodd"/>
<path d="M417.5 684.1l3.7-.3 4 .4 5.7 1.9 4.3 3.5 1.5 2.5 .6 2-.2 4-1.9 3.8-1.9 2.2-4.1 3.2-4 2.3-6 1.6-4-.6-4.5-2.5-2.9-4-1.1-4 .4-6 2.1-4.6 4-3.8 4.3-1.6zM165 692.1l2.2-1.2 4 .1 3.9 1.1 3.8 2 12.3 10.2 4 2.8 15.1 7 3.2 2 1.9 2 .6 2-.6 2-4.2 1.9-8-.1-7.2-1.8-6.8-3.4-8-6.2-12.1-12.4-3.2-4-1-2 .1-2z" fill="#b42027" fill-rule="evenodd"/>
<path d="M415 688.1l4.2-1.4 4-.2 4 .8 4 2.2 2.3 2.6 .9 4-1.2 4-1.5 2-4.9 4-5.6 2.3-4 0-4-1.9-2-2.1-1.2-2.3-.7-4 .8-4 .9-2 1.5-2 2.5-2zM167.5 694.1l1.7-1.4 2-.1 6 2.1 4 2.6 12 10 17 8.8 1.9 2 .3 2-2.7 2-6.5 .3-6-1.3-6.7-3-5.6-4-7.7-7.4-7.9-8.6-1.3-2-.5-2z" fill="#a21e24" fill-rule="evenodd"/>
<path d="M419.7 690.1l3.5-.2 4 1.2 2 1.6 .9 1.4 .4 2-1.3 3.8-2 2.2-4 2.4-4 .5-2-.4-2-1.3-1.9-3.2-.3-2 .3-2 1.9-3.4 2-1.6 2.5-1zM171.8 696.1l1.4-.5 2 .3 4 2.1 8 7 6 4.3 12.9 6.8 1.6 2-.5 .8-2 1.3-5.1-.1-6.2-2-3.5-2-5.3-4-8.1-8-4.8-6-.4-2z" fill="#8f1c21" fill-rule="evenodd"/>
<path d="M261.9 462.1l-.2 14-5.1 4-1.6 2-.8 2 1.6 2 5.4 1.2 16 0M299.8 466.1l0-4M109.2 735.9l-8 3.9-4.5 4.3-2.6 4-1.8 4-1.2 4 .1 4.1 2 1 2 .1 8.8-1.2 5.9-2 2.9-2 1.8-2 2.2-4 1.3-4 .8-4 0-4-1.7-2.8-2-.5-6 1.1M584.6 774.1l0-10-21.4-6.3-3.1-1.7-2.1-2-1.3-4 .5-3.4 1.1-2.6 4.9-5.4 6-3.3 11.7-3.3 3-2 1.1-2 0-4-2.4-4-3-2-4.4-1.4-6-.6-6 .4-7.5 1.6-8.5 3.9-14 9.1-20 7.8M517.2 763.1l6.7 1 0 10M210.3 462.1l-.1 14-1.2 4-.5 10 .8 8 1.8 4 4.1 2.7 5.9 1.3 16.1 1.1 10-.2M279.2 499l10-1.9 6-1.7 6-3 4-3.6 3.6-4.7 4.5-8 .1-14M412.6 462.1l.2 14 8.4 3.1 6 0M454.1 470.1l.3 6 2.8 1.3 10 8.1 4 1.4 4-.3 3.5-2.5 .5-2-.5-2-2.4-4-.1-14M447.2 575.7l-3 2.4-1 2 0 4.6M461.2 613l8 7.1 10 5.6 4 1.3 4 0 2-1 1.4-1.9 .7-4-2.1-6.9-12-19.5-6-8.4-6-5.7-6-3.4-6-1.5-6 1M333.2 640.1l-6.2 18-1.3 6 .1 4 1.4 3.7 2 2.4 4 2.3 4 .4 2-.9 2-1.9 10-12.7 4-6.3 2-5.1 6.2-21.9 1.1-6-.2-2-1.1-2.4-2-1.8-4-1.5M221.1 660.1l1.2 4 2.9 4.5 4 3.2 6 2.3 6 .8 5.5-.8 2.3-2 .6-4M669.2 749.1l-8 .2-2 1.3-4 .7-3.9-1.2-2.1-1.6-3-4.4-3.7-12-2.4-4-4.9-3.3-12-3.4-6.5-3.3-3.2-4-3.4-10-1.2-2-1.7-1.4-2-.7-4-.2-20 1.3-10 1.1-10 2M531.2 720l-9.6 6.1-16.4 6.4-4 2.4-4 3.2M495.1 772.1l0 2M115.4 774.1l0-10 3.6-2 1.9-2 8.3-14.3 2-2.4 4-2.5M140.6 712.1l-5.4-4.5-6-2.5-6-.3-6 1.5-2.8 1.8-1.7 2-3.3 8-2.7 4-3.5 3.2-8 5.4-4 3.5-4 5.1-7.7 12.8-4.2 4-10.1 5.1-4 2.6-14 0M154.2 774.1l0-10-3-1.6-4-1-4 .7-3.2 1.9 0 10M449.3 774.1l0-10 3-4 .3-2-1.4-.9-2-.2-4 .8-11.9 6.3 0 10M183.2 462.1l.1 14 1.5 4 .1 6-1.7 6-6.5 16-3.5 11.8-4.8 26.2 .3 2 .5 .4 4 .5 8-1.4 10-3.2 10-4 8-4.6 12-10.8 6-3.5 6-1.5 14-1.2 8-1.7 20-8.2 24-6.4 6-3.1 4.1-3.3M327.2 477.8l3.7-1.7 .3-14M402.2 462.1l.3 14 12.7 6.5 6 2.2 4 .6 14-.3 6 .8 6 3 10 8.4 6 3.4 6 1.5 10-.4M509.2 507.4l6 2.6 2 .1 2-.5 1.9-1.5 1.1-2 1-4 0-6.1-1.5-7.9-1.8-4-5.7-8-.1-14M138.5 566.1l2.3 4 .1 2-3.1 2-14.6 4.9-7.2 3.1-6 4-3.9 4-2.5 4-.9 4 1.1 4 3.7 4 3.7 2.4 6 2.8 10 2.4 6 .1 4-.7 6.2-3 3.8-4.4 1.6-3.6 .9-4 .5-6-.4-6-2.9-12 1-2 1.3-.8M445.2 558l-6 1.5-6.1 2.6-5.9 3.9-4 4.1-3.6 6-3.2 8-1.6 6 .2 4 1.1 2 4.4 4 18.7 14.2 16 13.8 16.5 12M489.2 659.3l4 .9 4-.9 4-3 2.9-4.2 2.5-6 1.2-6 .3-8-.7-8-1.8-8-3.2-8-3.2-5.1-9.7-12.9-12.9-20M451.2 557.6l-6 .4M349.2 593.8l-6 1.1-6 2-4 2.6-2.3 2.6-2.8 6-3.2 14-3.5 10-4.2 9.4-6.7 12.6M293.2 674.1l-4-.6-4-2.3-4-3.7-14.1-15.4-4.7-4-6.2-4-7-3-18-5.6-20-10-4-.8-4 .5M189.8 650.1l.2 4 2.2 4 13 8.7 8 8.1 3.9 3.2 6.1 3.2 16 6.2 14 7.8M281.2 697.2l10 .4 8 1.6 8 2.4 8 3.9 10.6 8.6M352.3 718.1l2.2-4 1.1-4 2.1-18 1.9-8 2.3-6 5-10 1.4-4 1.9-16 1.3-6 2.5-6 8-14 3.2-7.2M375.2 593.1l-10-.7-16 1.4M669.2 702.4l-8 0-4-.6-6-1.7-6-3.1-4.5-4.9-1.7-4-2.9-10-2.9-3.2-6-1.8-12 .1M589.2 680.8l-15.9 7.3-38.1 15-4.4 3-8 8-3.6 2.8-4 2-12 3.7-6 2.6-4 2.6-10 8.2-6 3.5-8 2.2-18 1.6M428.5 756.1l-17.3 8 0 10M159.6 774.1l0-10-7.7-8-1.1-2 .4-2 6.4-8 .8-2 0-4-4.2-10-3-10-3.5-6-8.5-8.4-8-4.9-8-1.8-16 0-6-1.9M81.2 679l-6-3.3-4-.2-2 1.5-1.6 3.1-3.4 12-3 6.1-14 0M263.3 774.1l0-10-4.1-.3-5.6 .3 0 10M145.3 462.1l-.1 14-1.5 4 .8 2 2.4 2 10.3 5.5 3.5 4.5 1.3 4 .5 4-.2 6-1.1 7M157.2 526.1l-3.4 4-2.8 2-13.8 5.3-6 3.5-4.3 5.2-5.9 14-3.8 5.3-4 3.2-12.8 7.5-5.7 4-12.4 10-6.5 6-3.2 4-3.3 6-2.1 6-2.5 10M55.2 629.4l-8 0M402 622.1l5.2-.6 8 1.5 10 3.9 10 5.3 18 12.7 6 5.2 4.6 6 6.7 12 4.7 5.2 6 3.6 16 5.2 5.3 4M506.5 696.1l-.8 6-2.7 4-9.8 7.7-10 10.3-6 5-4 2.2-6 1.9-16 2-6 1.6-6 3.1-14 9-4 1.5-4 .8M405.2 750.3l-12-2.1-16 1.4-4-.3-4-1.6-1.6-1.6-1-2-.3-4 2.3-18-1.9-22 .5-8 2.5-8 7.7-16 1.4-6 1.2-10M383.2 640.9l4-6.3 6-7 4-3.3 4.8-2.2M669.2 655.7l-6 0-2-1-2-3.1-2-1.2-4-.9-10-.3-14 1-22 3.2-24 2.7-16 2.8-8 2.1-7.2 3.1-2.8 2-6 6.2-2 .3-2.4-2.5M536.5 658.1l-1.1-8-1.8-6-2.8-6-7.6-13.1-9.1-22.9-4-6-8.9-10-4.4-6-4.1-8-5.5-15-2-3.4-4-3.8M469.2 544.9l-12-3-4-.2-6 .8-12 5-16 8.1-6.1 4.5-9.9 9.5-4 2.1-2 .3-4-.7-14-7.5-4-.8-4 .2-6 2.7-10 9.1-5.2 3.1-6.8 1.8-14 1.9-6.1 2.3M314 592.1l-2.3 4-1.3 4-1.4 18-2.1 8-2.1 4-3.6 4.5-4 2.6-4 1-6-1-14-5.9-8-2.7-24-5-8-2.3-6.6-3.2-15.4-9.6-6-2.5-8-.7-10 2.1M176.1 606.1l-2.2-4-.7-3.1 .1-4.9 1-4 3.8-10 4.7-10 4.1-6 3.8-4 4.5-3.3 6-3.2 19.6-7.5 16.4-11.4 20-6.8 16-8.6M285.2 514.5l18-4.8 7.5-3.6 4.9-4 10.4-12 7.2-5.1 14-5.5 12-2.6 20-.1 14 1.6 10 3.7 16 8.9 6 2 12 2.7 6 2.8M451.2 505.9l6 5.7 6 3.1 6 1.3 16 .2 6 1.1 4 1.9 12 8.2 8 2.5 10 .1 10-1.7 5.8-2.2 2.8-2 1.8-2M549.6 510.1l1.6-4.8 2-2.5 4-1.7 8-1.7 6-2.4 7.5-4.9 5.9-6 2.7-4 1.6-4 .3-16M164.8 774.1l-.1-14 .5-2.4 2-3 6.5-4.6 1-2-1.8-4-9.7-14.5M157.3 718.1l-2.3-4-4.7-6-13.1-12.2-4-2.8-4-2-10-1.9M107.2 686.4l-4-2.7-6.5-5.6-6.5-8-2-4-1.1-4-.2-4 1.2-4 2.2-2 2.9-1.3 25.4-4.7 20.6-6.2 6-.7 6 .2 4.3 .7 3.7 1.6 2 2.4 1.5 10 3.1 6 4.2 4 3.1 2 12.1 5.1M196.8 676.1l14.3 10 22.1 7.5 6 3.3 12 8.1 8 4 20 7 22 3.9 10 4.2 11.1 8 10 10 2.8 4 1.6 4 0 4-.8 2M327.2 762.4l-6.3 1.7 0 10M282.9 774.1l0-10-11.7-2.7-10-.8-10 .8-8.1 2.7 0 10M107.3 462.1l.1 14 4 4 7.8 13.3 2.3 2.7 3.7 2.9 13.9 5.1 3.5 2 3.1 4 .6 2 0 4-1.6 4-3.5 3.7-14 7.4-4 3.7-3.2 5.2-5.3 12-2.6 4-2.9 2.9-6 3.8-14 6.4-6 3.3M67.2 581.9l-6 3.6-14 0M371.1 484.1l10.1-.7 8 .6 6 1.6 6 2.8 16 11.1 10.6 6.6 3.4 3 2.3 3 1.8 4 .5 4-.5 4-2.7 6-3.6 4-5.6 4-6.2 2.6-10 2.6-16 2.9-30 1.7-6 .9-4.6 1.3M336 560.1l-14.8 5.5-6 3.5-4 3.2-6 6-5.9 7.8-10.1 20.2-4.1 3.8-3.9 1.8-4 .8-10 .3-16-1.8-10-2-8-2.9-6-3.5-12-8.5-13.7-8.2-3.4-4-.9-2.2-.5-3.8M209.2 562.4l16-3.2 6-2 18-11.5 18-6.5 4-2 11.5-9.1 7.4-4 7.1-2.2 16-2.8 6-2.2 4-3.3 8-10.7 4-4.2 4-3 6.8-3.6M365.2 485.2l5.9-1.1M522.2 544.1l7.1 0 6.9 2 2.8 2 1.6 2 2.6 6M550.3 574.1l8.8 8 3 4 2.3 6 .2 4-1.2 4-1.3 2-2.9 2.6-6 2.4-6 .3-6-1.7-4-2.8-11-14.8-13-10.7-2.9-3.3-2.4-4-1.2-4-.5-6 .6-4 1.4-4 3-3.9 2-1.4 4-1.7 5-1M669.2 607.9l-8 .1-6 1.3-8-.3-8-1.9-6-3.3-3.4-3.7-2.1-4-4.4-16-4.1-7.6-6-5.8-12-7.9-4-3.3-4.3-5.4-5.7-10.9M582.5 520.1l4.7-5.5 11.8-8.5 4.2-3.7 14.3-18.3 4.7-4 6.5-4 .2-14M408.9 638.1l8.3 1.4 8 3.2 10 5.8 10.9 7.6 7.9 8 13.2 19 13.8 13 1.1 2 .6 4-.5 4-2.2 6-2.2 4-2.6 3.2-3.2 2.8-3.4 2M449.2 727.8l-8 2.7-16 9.4-4 1.4-4 .5-6-.9-6-2.1-12-5.5-6-3.9-4-4.7-3.1-6.6-3.6-12-1.1-8 .5-6 1.1-4 7.4-16M390.5 652.1l2.7-5.3 4.2-4.7 5.8-3.2 5.7-.8M173.5 774.1l0-10 3.7-.9 28-3.9 2.9-1.2 1.1-1.1 .8-.9 .4-2-.4-2-1.3-2-3.5-2.9-24-11.7M167.2 723l-11-14.9-23-24.7-6-3-14-3.4-4-2.2-2.7-2.7-1.9-4 .2-2 2.4-3.5 6-2.7 8-1.2M141.2 662.8l8.1 3.3 25.9 8.7 10 3.9 6.5 3.4 10.5 8 5 3 4 1.5 14 3.5 5.1 2 4.9 2.8 14 9.9 17 9.3 7 4.8M291.2 735.4l8 1 4 1.5 3.2 2.2 2.8 3.3 1.2 2.7-.3 4-1.4 2-3.2 2-4.3 1-6 .3-16-.7-26 2.8-10 2.2-4 1.6-3.8 2.8 0 10M379.2 492.9l6 0 6 1.4 4 1.9 4.9 3.9 5 6 3.2 6 .6 4-.5 2-1.5 2-2.9 2-13.2 6-11.6 4.3-10 1.2-6-.5-6-1.4-4-1.6-4-2.8-2.4-3.2-1-4 .3-4 1.4-4 2.5-4 5.2-5.1M99.2 534.7l2 .7 2 1.4 1.6 3.3M669.2 544.2l-6 0-2 .9-4 19-4 11.4-2 1.9-2-.1-2-1.3-8.9-9.9-9.1-8.8M627.8 532.1l6.4-6 3.2-4 8.3-16 5.5-7.3 4-3.5 6-4.2 8-.2M255.7 570.1l3.5 0M270.4 592.1l-5.2 1.6-8-.7-8-2.9-5.1-4-1.8-4 1.2-4 1.6-2 4.1-3.3 4-2.1 2.5-.6M405.2 656.1l6-1.3 6 .7 10 3.7 10 5.1 6 4.1 5.7 5.7 4.3 6 4.7 8M462.9 714.1l-3.7 2.1-16 4.6-16 8.6-6 2.2-4 .4-4-.6-6-2.1-6.1-3.2M385.8 704.1l-.9-6 .2-4 2.2-8 9.9-21.9 4-5.3 4-2.8M150.4 678.1l4.8-1.1 4 .1 12 2.4 11.6 4.6 9 6M215.2 702.5l8 2.4 6 3 14 10.5 16 9.3 3 2.4 3.6 4 2.7 6-.2 4-.9 2-1.8 2-3.2 2-7.2 2.2-14 1.9-8 .1-4-1.8-4-4.5M201.2 736.3l-12-4.4-10-6.1-6-5.5-10.6-12.2-11.3-12-4.1-6-1.1-4 .2-4 .9-1.6 3.2-2.4M410.6 674.1l4.6-.8 6 .4 6 1.2 6 2.2M447.5 700.1l-1.6 4-3.6 4-8.9 6-8.2 4.4-6 1.6-4-.2-4-1.2-4.9-2.6-4.3-4-2.8-4.5-1.7-5.5-.3-6.7 1.7-7.3 2.8-6 3.5-4.6 2-1.7 3.4-1.7M165.2 685.1l6 1 8 3.2 4.6 2.8 9.4 7.9 6 4 6 2.9 10 3.4 6 3.2 5 4.6 2.5 4 1.4 4-.1 2-.8 .8-4 1.4-8 .4-10-1M181.2 718.6l-10.5-10.5M238.4 734.1l2.8-.9 2 .1 3.4 .8 2.6 1.2 2.9 2.8 .5 2-1.1 2-4.3 1.2-4.4-1.2-3.8-4-.8-2 .2-2" fill="none" stroke="#1a1a1a" stroke-width="0.8"/>
<path d="M227.6 758.2H489.4M158.3 736H558.7M109.2 709.8H607.8M75.6 680.7H641.4M55.8 650H661.2M49.2 618.4H667.8M55.8 586.8H661.2M75.6 556.1H641.4M109.2 527H607.8M158.3 500.8H558.7M227.6 478.6H489.4M358.5 772.7L320.5 771 298.4 768.4 280.1 765.4 264 761.9 249.4 758.2 236.1 754.2 223.8 750 212.4 745.5 201.7 740.9 191.7 736 182.4 731.1 173.6 725.9 165.5 720.7 157.9 715.3 150.8 709.8 144.2 704.1 138.1 698.4 132.5 692.6 127.4 686.7 122.7 680.7 118.5 674.7 114.8 668.6 111.5 662.4 108.6 656.2 106.2 650 104.2 643.7 102.7 637.4 101.6 631.1 101 624.7 100.8 618.4 101 612.1 101.6 605.7 102.7 599.4 104.2 593.1 106.2 586.8 108.6 580.6 111.5 574.4 114.8 568.2 118.5 562.1 122.7 556.1 127.4 550.1 132.5 544.2 138.1 538.4 144.2 532.7 150.8 527 157.9 521.5 165.5 516.1 173.6 510.9 182.4 505.7 191.7 500.8 201.7 495.9 212.4 491.3 223.8 486.8 236.1 482.6 249.4 478.6 264 474.9 280.1 471.4 298.4 468.4 320.5 465.8 358.5 464.1M358.5 772.7L328.1 771 310.4 768.4 295.7 765.4 282.9 761.9 271.2 758.2 260.6 754.2 250.7 750 241.6 745.5 233 740.9 225.1 736 217.6 731.1 210.6 725.9 204.1 720.7 198 715.3 192.3 709.8 187.1 704.1 182.2 698.4 177.7 692.6 173.6 686.7 169.9 680.7 166.5 674.7 163.5 668.6 160.9 662.4 158.6 656.2 156.7 650 155.1 643.7 153.9 637.4 153 631.1 152.5 624.7 152.3 618.4 152.5 612.1 153 605.7 153.9 599.4 155.1 593.1 156.7 586.8 158.6 580.6 160.9 574.4 163.5 568.2 166.5 562.1 169.9 556.1 173.6 550.1 177.7 544.2 182.2 538.4 187.1 532.7 192.3 527 198 521.5 204.1 516.1 210.6 510.9 217.6 505.7 225.1 500.8 233 495.9 241.6 491.3 250.7 486.8 260.6 482.6 271.2 478.6 282.9 474.9 295.7 471.4 310.4 468.4 328.1 465.8 358.5 464.1M358.5 772.7L335.7 771 322.4 768.4 311.4 765.4 301.8 761.9 293.1 758.2 285.1 754.2 277.7 750 270.8 745.5 264.4 740.9 258.4 736 252.8 731.1 247.6 725.9 242.7 720.7 238.1 715.3 233.9 709.8 229.9 704.1 226.3 698.4 222.9 692.6 219.8 686.7 217 680.7 214.5 674.7 212.3 668.6 210.3 662.4 208.6 656.2 207.1 650 205.9 643.7 205 637.4 204.4 631.1 204 624.7 203.8 618.4 204 612.1 204.4 605.7 205 599.4 205.9 593.1 207.1 586.8 208.6 580.6 210.3 574.4 212.3 568.2 214.5 562.1 217 556.1 219.8 550.1 222.9 544.2 226.3 538.4 229.9 532.7 233.9 527 238.1 521.5 242.7 516.1 247.6 510.9 252.8 505.7 258.4 500.8 264.4 495.9 270.8 491.3 277.7 486.8 285.1 482.6 293.1 478.6 301.8 474.9 311.4 471.4 322.4 468.4 335.7 465.8 358.5 464.1M358.5 772.7L343.3 771 334.4 768.4 327.1 765.4 320.7 761.9 314.9 758.2 309.5 754.2 304.6 750 300 745.5 295.8 740.9 291.8 736 288 731.1 284.6 725.9 281.3 720.7 278.2 715.3 275.4 709.8 272.8 704.1 270.3 698.4 268.1 692.6 266.1 686.7 264.2 680.7 262.5 674.7 261 668.6 259.7 662.4 258.5 656.2 257.6 650 256.8 643.7 256.2 637.4 255.7 631.1 255.5 624.7 255.4 618.4 255.5 612.1 255.7 605.7 256.2 599.4 256.8 593.1 257.6 586.8 258.5 580.6 259.7 574.4 261 568.2 262.5 562.1 264.2 556.1 266.1 550.1 268.1 544.2 270.3 538.4 272.8 532.7 275.4 527 278.2 521.5 281.3 516.1 284.6 510.9 288 505.7 291.8 500.8 295.8 495.9 300 491.3 304.6 486.8 309.5 482.6 314.9 478.6 320.7 474.9 327.1 471.4 334.4 468.4 343.3 465.8 358.5 464.1M358.5 772.7L350.9 771 346.5 768.4 342.8 765.4 339.6 761.9 336.7 758.2 334 754.2 331.6 750 329.3 745.5 327.1 740.9 325.1 736 323.3 731.1 321.5 725.9 319.9 720.7 318.4 715.3 317 709.8 315.6 704.1 314.4 698.4 313.3 692.6 312.3 686.7 311.3 680.7 310.5 674.7 309.8 668.6 309.1 662.4 308.5 656.2 308 650 307.6 643.7 307.3 637.4 307.1 631.1 307 624.7 306.9 618.4 307 612.1 307.1 605.7 307.3 599.4 307.6 593.1 308 586.8 308.5 580.6 309.1 574.4 309.8 568.2 310.5 562.1 311.3 556.1 312.3 550.1 313.3 544.2 314.4 538.4 315.6 532.7 317 527 318.4 521.5 319.9 516.1 321.5 510.9 323.3 505.7 325.1 500.8 327.1 495.9 329.3 491.3 331.6 486.8 334 482.6 336.7 478.6 339.6 474.9 342.8 471.4 346.5 468.4 350.9 465.8 358.5 464.1M358.5 772.7L358.5 771 358.5 768.4 358.5 765.4 358.5 761.9 358.5 758.2 358.5 754.2 358.5 750 358.5 745.5 358.5 740.9 358.5 736 358.5 731.1 358.5 725.9 358.5 720.7 358.5 715.3 358.5 709.8 358.5 704.1 358.5 698.4 358.5 692.6 358.5 686.7 358.5 680.7 358.5 674.7 358.5 668.6 358.5 662.4 358.5 656.2 358.5 650 358.5 643.7 358.5 637.4 358.5 631.1 358.5 624.7 358.5 618.4 358.5 612.1 358.5 605.7 358.5 599.4 358.5 593.1 358.5 586.8 358.5 580.6 358.5 574.4 358.5 568.2 358.5 562.1 358.5 556.1 358.5 550.1 358.5 544.2 358.5 538.4 358.5 532.7 358.5 527 358.5 521.5 358.5 516.1 358.5 510.9 358.5 505.7 358.5 500.8 358.5 495.9 358.5 491.3 358.5 486.8 358.5 482.6 358.5 478.6 358.5 474.9 358.5 471.4 358.5 468.4 358.5 465.8 358.5 464.1M358.5 772.7L366.1 771 370.5 768.4 374.2 765.4 377.4 761.9 380.3 758.2 383 754.2 385.4 750 387.7 745.5 389.9 740.9 391.9 736 393.7 731.1 395.5 725.9 397.1 720.7 398.6 715.3 400 709.8 401.4 704.1 402.6 698.4 403.7 692.6 404.7 686.7 405.7 680.7 406.5 674.7 407.2 668.6 407.9 662.4 408.5 656.2 409 650 409.4 643.7 409.7 637.4 409.9 631.1 410 624.7 410.1 618.4 410 612.1 409.9 605.7 409.7 599.4 409.4 593.1 409 586.8 408.5 580.6 407.9 574.4 407.2 568.2 406.5 562.1 405.7 556.1 404.7 550.1 403.7 544.2 402.6 538.4 401.4 532.7 400 527 398.6 521.5 397.1 516.1 395.5 510.9 393.7 505.7 391.9 500.8 389.9 495.9 387.7 491.3 385.4 486.8 383 482.6 380.3 478.6 377.4 474.9 374.2 471.4 370.5 468.4 366.1 465.8 358.5 464.1M358.5 772.7L373.7 771 382.6 768.4 389.9 765.4 396.3 761.9 402.1 758.2 407.5 754.2 412.4 750 417 745.5 421.2 740.9 425.2 736 429 731.1 432.4 725.9 435.7 720.7 438.8 715.3 441.6 709.8 444.2 704.1 446.7 698.4 448.9 692.6 450.9 686.7 452.8 680.7 454.5 674.7 456 668.6 457.3 662.4 458.5 656.2 459.4 650 460.2 643.7 460.8 637.4 461.3 631.1 461.5 624.7 461.6 618.4 461.5 612.1 461.3 605.7 460.8 599.4 460.2 593.1 459.4 586.8 458.5 580.6 457.3 574.4 456 568.2 454.5 562.1 452.8 556.1 450.9 550.1 448.9 544.2 446.7 538.4 444.2 532.7 441.6 527 438.8 521.5 435.7 516.1 432.4 510.9 429 505.7 425.2 500.8 421.2 495.9 417 491.3 412.4 486.8 407.5 482.6 402.1 478.6 396.3 474.9 389.9 471.4 382.6 468.4 373.7 465.8 358.5 464.1M358.5 772.7L381.3 771 394.6 768.4 405.6 765.4 415.2 761.9 423.9 758.2 431.9 754.2 439.3 750 446.2 745.5 452.6 740.9 458.6 736 464.2 731.1 469.4 725.9 474.3 720.7 478.9 715.3 483.1 709.8 487.1 704.1 490.7 698.4 494.1 692.6 497.2 686.7 500 680.7 502.5 674.7 504.7 668.6 506.7 662.4 508.4 656.2 509.9 650 511.1 643.7 512 637.4 512.6 631.1 513 624.7 513.1 618.4 513 612.1 512.6 605.7 512 599.4 511.1 593.1 509.9 586.8 508.4 580.6 506.7 574.4 504.7 568.2 502.5 562.1 500 556.1 497.2 550.1 494.1 544.2 490.7 538.4 487.1 532.7 483.1 527 478.9 521.5 474.3 516.1 469.4 510.9 464.2 505.7 458.6 500.8 452.6 495.9 446.2 491.3 439.3 486.8 431.9 482.6 423.9 478.6 415.2 474.9 405.6 471.4 394.6 468.4 381.3 465.8 358.5 464.1M358.5 772.7L388.9 771 406.6 768.4 421.3 765.4 434.1 761.9 445.8 758.2 456.4 754.2 466.3 750 475.4 745.5 484 740.9 491.9 736 499.4 731.1 506.4 725.9 512.9 720.7 519 715.3 524.7 709.8 529.9 704.1 534.8 698.4 539.3 692.6 543.4 686.7 547.1 680.7 550.5 674.7 553.5 668.6 556.1 662.4 558.4 656.2 560.3 650 561.9 643.7 563.1 637.4 564 631.1 564.5 624.7 564.7 618.4 564.5 612.1 564 605.7 563.1 599.4 561.9 593.1 560.3 586.8 558.4 580.6 556.1 574.4 553.5 568.2 550.5 562.1 547.1 556.1 543.4 550.1 539.3 544.2 534.8 538.4 529.9 532.7 524.7 527 519 521.5 512.9 516.1 506.4 510.9 499.4 505.7 491.9 500.8 484 495.9 475.4 491.3 466.3 486.8 456.4 482.6 445.8 478.6 434.1 474.9 421.3 471.4 406.6 468.4 388.9 465.8 358.5 464.1M358.5 772.7L396.5 771 418.6 768.4 436.9 765.4 453 761.9 467.6 758.2 480.9 754.2 493.2 750 504.6 745.5 515.3 740.9 525.3 736 534.6 731.1 543.4 725.9 551.5 720.7 559.1 715.3 566.2 709.8 572.8 704.1 578.9 698.4 584.5 692.6 589.6 686.7 594.3 680.7 598.5 674.7 602.2 668.6 605.5 662.4 608.4 656.2 610.8 650 612.8 643.7 614.3 637.4 615.4 631.1 616 624.7 616.2 618.4 616 612.1 615.4 605.7 614.3 599.4 612.8 593.1 610.8 586.8 608.4 580.6 605.5 574.4 602.2 568.2 598.5 562.1 594.3 556.1 589.6 550.1 584.5 544.2 578.9 538.4 572.8 532.7 566.2 527 559.1 521.5 551.5 516.1 543.4 510.9 534.6 505.7 525.3 500.8 515.3 495.9 504.6 491.3 493.2 486.8 480.9 482.6 467.6 478.6 453 474.9 436.9 471.4 418.6 468.4 396.5 465.8 358.5 464.1" fill="none" stroke="#222" stroke-width="0.8" stroke-dasharray="5 3"/>
<text transform="translate(90.7 545) rotate(-52)" y="4.6" font-size="13" text-anchor="middle" fill="#1a1a1a">100</text>
<text transform="translate(75.2 577.4) rotate(-30.8)" y="4.6" font-size="13" text-anchor="middle" fill="#1a1a1a">50</text>
<text transform="translate(159.9 520.1) rotate(-72)" y="4.6" font-size="13" text-anchor="middle" fill="#1a1a1a">0</text>
<text transform="translate(139.2 550) rotate(-35.4)" y="4.6" font-size="13" text-anchor="middle" fill="#1a1a1a">−50</text>
<text transform="translate(159.5 562.1) rotate(-55)" y="4.6" font-size="13" text-anchor="middle" fill="#1a1a1a">−50</text>
<text transform="translate(201.2 567) rotate(-42.5)" y="4.6" font-size="13" text-anchor="middle" fill="#1a1a1a">50</text>
<text transform="translate(295.2 483.6) rotate(-37.7)" y="4.6" font-size="13" text-anchor="middle" fill="#1a1a1a">−150</text>
<text transform="translate(263.2 503.2) rotate(-17.3)" y="4.6" font-size="13" text-anchor="middle" fill="#1a1a1a">−100</text>
<text transform="translate(317.5 486.1) rotate(-50.5)" y="4.6" font-size="13" text-anchor="middle" fill="#1a1a1a">−50</text>
<text transform="translate(279.2 516.5) rotate(-21.7)" y="4.6" font-size="13" text-anchor="middle" fill="#1a1a1a">0</text>
<text transform="translate(355.2 488.2) rotate(-20.9)" y="4.6" font-size="13" text-anchor="middle" fill="#1a1a1a">50</text>
<text transform="translate(366.5 496.1) rotate(-22.9)" y="4.6" font-size="13" text-anchor="middle" fill="#1a1a1a">100</text>
<text transform="translate(343.2 555) rotate(-38.3)" y="4.6" font-size="13" text-anchor="middle" fill="#1a1a1a">50</text>
<text transform="translate(271.2 576.7) rotate(47.1)" y="4.6" font-size="13" text-anchor="middle" fill="#1a1a1a">100</text>
<text transform="translate(441.4 474.1) rotate(-75.2)" y="4.6" font-size="13" text-anchor="middle" fill="#1a1a1a">−100</text>
<text transform="translate(447.6 502.1) rotate(44.8)" y="4.6" font-size="13" text-anchor="middle" fill="#1a1a1a">0</text>
<text transform="translate(497.2 501.7) rotate(12.2)" y="4.6" font-size="13" text-anchor="middle" fill="#1a1a1a">−50</text>
<text transform="translate(548.1 516.1) rotate(-73.6)" y="4.6" font-size="13" text-anchor="middle" fill="#1a1a1a">0</text>
<text transform="translate(475.2 546.9) rotate(21.5)" y="4.6" font-size="13" text-anchor="middle" fill="#1a1a1a">0</text>
<text transform="translate(465.2 560.9) rotate(25.3)" y="4.6" font-size="13" text-anchor="middle" fill="#1a1a1a">−50</text>
<text transform="translate(545.7 566.1) rotate(71.8)" y="4.6" font-size="13" text-anchor="middle" fill="#1a1a1a">50</text>
<text transform="translate(583.2 530.8) rotate(68.5)" y="4.6" font-size="13" text-anchor="middle" fill="#1a1a1a">50</text>
<text transform="translate(620.2 546.1) rotate(81.2)" y="4.6" font-size="13" text-anchor="middle" fill="#1a1a1a">100</text>
<text transform="translate(61.2 629.4) rotate(-21.2)" y="4.6" font-size="13" text-anchor="middle" fill="#1a1a1a">0</text>
<text transform="translate(181.2 608.7) rotate(5.5)" y="4.6" font-size="13" text-anchor="middle" fill="#1a1a1a">0</text>
<text transform="translate(193.4 636.1) rotate(-67.3)" y="4.6" font-size="13" text-anchor="middle" fill="#1a1a1a">−50</text>
<text transform="translate(131.2 659.5) rotate(10.2)" y="4.6" font-size="13" text-anchor="middle" fill="#1a1a1a">50</text>
<text transform="translate(191.2 673.4) rotate(22.5)" y="4.6" font-size="13" text-anchor="middle" fill="#1a1a1a">0</text>
<text transform="translate(91.2 686.9) rotate(39.6)" y="4.6" font-size="13" text-anchor="middle" fill="#1a1a1a">−50</text>
<text transform="translate(113.2 688.5) rotate(10.4)" y="4.6" font-size="13" text-anchor="middle" fill="#1a1a1a">0</text>
<text transform="translate(161.2 698.2) rotate(47.3)" y="4.6" font-size="13" text-anchor="middle" fill="#1a1a1a">150</text>
<text transform="translate(203.2 698.4) rotate(27.6)" y="4.6" font-size="13" text-anchor="middle" fill="#1a1a1a">100</text>
<text transform="translate(341.4 624.1) rotate(-55.1)" y="4.6" font-size="13" text-anchor="middle" fill="#1a1a1a">−100</text>
<text transform="translate(237.2 654.6) rotate(22.7)" y="4.6" font-size="13" text-anchor="middle" fill="#1a1a1a">−100</text>
<text transform="translate(304 666.1) rotate(-57.1)" y="4.6" font-size="13" text-anchor="middle" fill="#1a1a1a">−50</text>
<text transform="translate(267.2 698.7) rotate(.9)" y="4.6" font-size="13" text-anchor="middle" fill="#1a1a1a">−50</text>
<text transform="translate(317.5 588.1) rotate(-41.3)" y="4.6" font-size="13" text-anchor="middle" fill="#1a1a1a">0</text>
<text transform="translate(381.2 645.8) rotate(-72.3)" y="4.6" font-size="13" text-anchor="middle" fill="#1a1a1a">0</text>
<text transform="translate(451.2 600.1) rotate(56.8)" y="4.6" font-size="13" text-anchor="middle" fill="#1a1a1a">−100</text>
<text transform="translate(480.6 650.1) rotate(54.6)" y="4.6" font-size="13" text-anchor="middle" fill="#1a1a1a">−50</text>
<text transform="translate(537.2 664.5) rotate(78)" y="4.6" font-size="13" text-anchor="middle" fill="#1a1a1a">0</text>
<text transform="translate(505.2 690.7) rotate(70.3)" y="4.6" font-size="13" text-anchor="middle" fill="#1a1a1a">0</text>
<text transform="translate(443.9 686.1) rotate(56.9)" y="4.6" font-size="13" text-anchor="middle" fill="#1a1a1a">150</text>
<text transform="translate(464.2 700.1) rotate(66.5)" y="4.6" font-size="13" text-anchor="middle" fill="#1a1a1a">100</text>
<text transform="translate(388.9 600.1) rotate(54.2)" y="4.6" font-size="13" text-anchor="middle" fill="#1a1a1a">−50</text>
<text transform="translate(387.6 662.1) rotate(-75)" y="4.6" font-size="13" text-anchor="middle" fill="#1a1a1a">50</text>
<text transform="translate(601.2 675.8) rotate(-15.6)" y="4.6" font-size="13" text-anchor="middle" fill="#1a1a1a">−50</text>
<text transform="translate(145.1 728.1) rotate(84.4)" y="4.6" font-size="13" text-anchor="middle" fill="#1a1a1a">−100</text>
<text transform="translate(160 724.1) rotate(63.2)" y="4.6" font-size="13" text-anchor="middle" fill="#1a1a1a">0</text>
<text transform="translate(173.2 729.7) rotate(43.4)" y="4.6" font-size="13" text-anchor="middle" fill="#1a1a1a">50</text>
<text transform="translate(193.4 726.1) rotate(22)" y="4.6" font-size="13" text-anchor="middle" fill="#1a1a1a">150</text>
<text transform="translate(213.2 739.7) rotate(19.3)" y="4.6" font-size="13" text-anchor="middle" fill="#1a1a1a">100</text>
<text transform="translate(337.2 721.5) rotate(21.1)" y="4.6" font-size="13" text-anchor="middle" fill="#1a1a1a">−50</text>
<text transform="translate(281.2 732.6) rotate(28.4)" y="4.6" font-size="13" text-anchor="middle" fill="#1a1a1a">50</text>
<text transform="translate(390.6 716.1) rotate(57.8)" y="4.6" font-size="13" text-anchor="middle" fill="#1a1a1a">100</text>
<text transform="translate(411.2 751.1) rotate(4.3)" y="4.6" font-size="13" text-anchor="middle" fill="#1a1a1a">0</text>
<text transform="translate(331.9 760.1) rotate(-35.1)" y="4.6" font-size="13" text-anchor="middle" fill="#1a1a1a">0</text>
<text transform="translate(459.2 726.5) rotate(-7.9)" y="4.6" font-size="13" text-anchor="middle" fill="#1a1a1a">50</text>
<text transform="translate(544.9 710.1) rotate(-27.1)" y="4.6" font-size="13" text-anchor="middle" fill="#1a1a1a">−100</text>
<text transform="translate(439.2 748.8) rotate(-33.9)" y="4.6" font-size="13" text-anchor="middle" fill="#1a1a1a">−50</text>
<text transform="translate(488.1 756.1) rotate(75.5)" y="4.6" font-size="13" text-anchor="middle" fill="#1a1a1a">−100</text>
<text transform="translate(503.1 754.1) rotate(80.3)" y="4.6" font-size="13" text-anchor="middle" fill="#1a1a1a">−150</text>
</g>
<path d="M49.2 618.4A309.3 154.3 0 1 0 667.8 618.4A309.3 154.3 0 1 0 49.2 618.4Z" fill="none" stroke="#111" stroke-width="1.4"/>
<text x="15.6" y="13.4" font-size="21.5" text-anchor="start" font-weight="bold" fill="#111">a</text>
<text x="15.6" y="467.6" font-size="22" text-anchor="start" font-weight="bold" fill="#111">b</text>
<text x="174.5" y="36.7" font-size="19" fill="#231f20">75<tspan font-family="DejaVu Sans">°</tspan></text>
<text x="107.7" y="60.6" font-size="19" fill="#231f20">60<tspan font-family="DejaVu Sans">°</tspan></text>
<text x="60.2" y="85.4" font-size="19" fill="#231f20">45<tspan font-family="DejaVu Sans">°</tspan></text>
<text x="24.6" y="118.2" font-size="19" fill="#231f20">30<tspan font-family="DejaVu Sans">°</tspan></text>
<text x="7.9" y="149.5" font-size="19" fill="#231f20">15<tspan font-family="DejaVu Sans">°</tspan></text>
<text x="5.2" y="181.2" font-size="19" fill="#231f20">0<tspan font-family="DejaVu Sans">°</tspan></text>
<text x="-1.8" y="213.8" font-size="19" fill="#231f20">−15<tspan font-family="DejaVu Sans">°</tspan></text>
<text x="19.1" y="243.9" font-size="19" fill="#231f20">−30<tspan font-family="DejaVu Sans">°</tspan></text>
<text x="45.4" y="273.3" font-size="19" fill="#231f20">−45<tspan font-family="DejaVu Sans">°</tspan></text>
<text x="89.2" y="299.2" font-size="19" fill="#231f20">−60<tspan font-family="DejaVu Sans">°</tspan></text>
<text x="162.5" y="323.8" font-size="19" fill="#231f20">−75<tspan font-family="DejaVu Sans">°</tspan></text>
<text x="332.9" y="13.7" font-size="19" fill="#231f20">90<tspan font-family="DejaVu Sans">°</tspan></text>
<text x="320.8" y="347.2" font-size="19" fill="#231f20">−90<tspan font-family="DejaVu Sans">°</tspan></text>
<text x="179.1" y="482.4" font-size="19" fill="#231f20">75<tspan font-family="DejaVu Sans">°</tspan></text>
<text x="117.2" y="508.6" font-size="19" fill="#231f20">60<tspan font-family="DejaVu Sans">°</tspan></text>
<text x="67.8" y="532.8" font-size="19" fill="#231f20">45<tspan font-family="DejaVu Sans">°</tspan></text>
<text x="39.3" y="561.4" font-size="19" fill="#231f20">30<tspan font-family="DejaVu Sans">°</tspan></text>
<text x="20.7" y="595.1" font-size="19" fill="#231f20">15<tspan font-family="DejaVu Sans">°</tspan></text>
<text x="17.6" y="626.4" font-size="19" fill="#231f20">0<tspan font-family="DejaVu Sans">°</tspan></text>
<text x="10.2" y="658.7" font-size="19" fill="#231f20">−15<tspan font-family="DejaVu Sans">°</tspan></text>
<text x="30.1" y="689.6" font-size="19" fill="#231f20">−30<tspan font-family="DejaVu Sans">°</tspan></text>
<text x="60.9" y="718.5" font-size="19" fill="#231f20">−45<tspan font-family="DejaVu Sans">°</tspan></text>
<text x="101.9" y="747.8" font-size="19" fill="#231f20">−60<tspan font-family="DejaVu Sans">°</tspan></text>
<text x="171.4" y="769" font-size="19" fill="#231f20">−75<tspan font-family="DejaVu Sans">°</tspan></text>
<text x="344" y="460.1" font-size="19" fill="#231f20">90<tspan font-family="DejaVu Sans">°</tspan></text>
<text x="335" y="791.9" font-size="19" fill="#231f20">−90<tspan font-family="DejaVu Sans">°</tspan></text>
<text x="93.5" y="180.1" font-size="13.6" text-anchor="middle" fill="#1a1a1a" stroke="#1a1a1a" stroke-width="0.3">30<tspan font-family="DejaVu Sans">°</tspan></text>
<text x="145" y="180.1" font-size="13.6" text-anchor="middle" fill="#1a1a1a" stroke="#1a1a1a" stroke-width="0.3">60<tspan font-family="DejaVu Sans">°</tspan></text>
<text x="196.5" y="180.1" font-size="13.6" text-anchor="middle" fill="#1a1a1a" stroke="#1a1a1a" stroke-width="0.3">90<tspan font-family="DejaVu Sans">°</tspan></text>
<text x="248" y="180.1" font-size="13.6" text-anchor="middle" fill="#1a1a1a" stroke="#1a1a1a" stroke-width="0.3">120<tspan font-family="DejaVu Sans">°</tspan></text>
<text x="299.5" y="180.1" font-size="13.6" text-anchor="middle" fill="#1a1a1a" stroke="#1a1a1a" stroke-width="0.3">150<tspan font-family="DejaVu Sans">°</tspan></text>
<text x="351" y="180.1" font-size="13.6" text-anchor="middle" fill="#1a1a1a" stroke="#1a1a1a" stroke-width="0.3">180<tspan font-family="DejaVu Sans">°</tspan></text>
<text x="402.5" y="180.1" font-size="13.6" text-anchor="middle" fill="#1a1a1a" stroke="#1a1a1a" stroke-width="0.3">210<tspan font-family="DejaVu Sans">°</tspan></text>
<text x="454" y="180.1" font-size="13.6" text-anchor="middle" fill="#1a1a1a" stroke="#1a1a1a" stroke-width="0.3">240<tspan font-family="DejaVu Sans">°</tspan></text>
<text x="505.5" y="180.1" font-size="13.6" text-anchor="middle" fill="#1a1a1a" stroke="#1a1a1a" stroke-width="0.3">270<tspan font-family="DejaVu Sans">°</tspan></text>
<text x="557" y="180.1" font-size="13.6" text-anchor="middle" fill="#1a1a1a" stroke="#1a1a1a" stroke-width="0.3">300<tspan font-family="DejaVu Sans">°</tspan></text>
<text x="608.5" y="180.1" font-size="13.6" text-anchor="middle" fill="#1a1a1a" stroke="#1a1a1a" stroke-width="0.3">330<tspan font-family="DejaVu Sans">°</tspan></text>
<text x="660" y="180.1" font-size="13.6" text-anchor="middle" fill="#1a1a1a" stroke="#1a1a1a" stroke-width="0.3">360<tspan font-family="DejaVu Sans">°</tspan></text>
<text x="104.2" y="624.9" font-size="13.6" text-anchor="middle" fill="#1a1a1a" stroke="#1a1a1a" stroke-width="0.3">30<tspan font-family="DejaVu Sans">°</tspan></text>
<text x="155.8" y="624.9" font-size="13.6" text-anchor="middle" fill="#1a1a1a" stroke="#1a1a1a" stroke-width="0.3">60<tspan font-family="DejaVu Sans">°</tspan></text>
<text x="207.3" y="624.9" font-size="13.6" text-anchor="middle" fill="#1a1a1a" stroke="#1a1a1a" stroke-width="0.3">90<tspan font-family="DejaVu Sans">°</tspan></text>
<text x="258.9" y="624.9" font-size="13.6" text-anchor="middle" fill="#1a1a1a" stroke="#1a1a1a" stroke-width="0.3">120<tspan font-family="DejaVu Sans">°</tspan></text>
<text x="310.4" y="624.9" font-size="13.6" text-anchor="middle" fill="#1a1a1a" stroke="#1a1a1a" stroke-width="0.3">150<tspan font-family="DejaVu Sans">°</tspan></text>
<text x="362" y="624.9" font-size="13.6" text-anchor="middle" fill="#1a1a1a" stroke="#1a1a1a" stroke-width="0.3">180<tspan font-family="DejaVu Sans">°</tspan></text>
<text x="413.6" y="624.9" font-size="13.6" text-anchor="middle" fill="#1a1a1a" stroke="#1a1a1a" stroke-width="0.3">210<tspan font-family="DejaVu Sans">°</tspan></text>
<text x="465.1" y="624.9" font-size="13.6" text-anchor="middle" fill="#1a1a1a" stroke="#1a1a1a" stroke-width="0.3">240<tspan font-family="DejaVu Sans">°</tspan></text>
<text x="516.6" y="624.9" font-size="13.6" text-anchor="middle" fill="#1a1a1a" stroke="#1a1a1a" stroke-width="0.3">270<tspan font-family="DejaVu Sans">°</tspan></text>
<text x="568.2" y="624.9" font-size="13.6" text-anchor="middle" fill="#1a1a1a" stroke="#1a1a1a" stroke-width="0.3">300<tspan font-family="DejaVu Sans">°</tspan></text>
<text x="619.8" y="624.9" font-size="13.6" text-anchor="middle" fill="#1a1a1a" stroke="#1a1a1a" stroke-width="0.3">330<tspan font-family="DejaVu Sans">°</tspan></text>
<text x="671.3" y="624.9" font-size="13.6" text-anchor="middle" fill="#1a1a1a" stroke="#1a1a1a" stroke-width="0.3">360<tspan font-family="DejaVu Sans">°</tspan></text>
<linearGradient id="ga" x1="0" y1="0" x2="1" y2="0">
<stop offset="0.0000" stop-color="#2b3a7e"/>
<stop offset="0.0250" stop-color="#2d3f8c"/>
<stop offset="0.0500" stop-color="#2f4395"/>
<stop offset="0.0750" stop-color="#30469b"/>
<stop offset="0.1000" stop-color="#3249a0"/>
<stop offset="0.1250" stop-color="#344da3"/>
<stop offset="0.1500" stop-color="#3751a6"/>
<stop offset="0.1750" stop-color="#3955a9"/>
<stop offset="0.2000" stop-color="#3f5daf"/>
<stop offset="0.2250" stop-color="#4766b5"/>
<stop offset="0.2500" stop-color="#5077bf"/>
<stop offset="0.2750" stop-color="#5a8bcc"/>
<stop offset="0.3000" stop-color="#62a3dd"/>
<stop offset="0.3250" stop-color="#6abbef"/>
<stop offset="0.3500" stop-color="#75c2e7"/>
<stop offset="0.3750" stop-color="#7fc6d8"/>
<stop offset="0.4000" stop-color="#86c7c7"/>
<stop offset="0.4250" stop-color="#8ac6af"/>
<stop offset="0.4500" stop-color="#8cc494"/>
<stop offset="0.4750" stop-color="#92c681"/>
<stop offset="0.5000" stop-color="#97c86f"/>
<stop offset="0.5250" stop-color="#a4cc65"/>
<stop offset="0.5500" stop-color="#b2d15d"/>
<stop offset="0.5750" stop-color="#c1d654"/>
<stop offset="0.6000" stop-color="#d1db4d"/>
<stop offset="0.6250" stop-color="#e4e146"/>
<stop offset="0.6500" stop-color="#f4e240"/>
<stop offset="0.6750" stop-color="#f1ca40"/>
<stop offset="0.7000" stop-color="#edb040"/>
<stop offset="0.7250" stop-color="#e99440"/>
<stop offset="0.7500" stop-color="#e38240"/>
<stop offset="0.7750" stop-color="#de7240"/>
<stop offset="0.8000" stop-color="#d96240"/>
<stop offset="0.8250" stop-color="#d7513c"/>
<stop offset="0.8500" stop-color="#d64038"/>
<stop offset="0.8750" stop-color="#d52f34"/>
<stop offset="0.9000" stop-color="#d2202f"/>
<stop offset="0.9250" stop-color="#c0202a"/>
<stop offset="0.9500" stop-color="#a51e24"/>
<stop offset="0.9750" stop-color="#821b1e"/>
<stop offset="1.0000" stop-color="#601818"/>
</linearGradient>
<rect x="37.9" y="351.9" width="619.2" height="17.2" fill="url(#ga)"/>
<path d="M59.4 369.1v-6M145.3 369.1v-6M231.1 369.1v-6M317 369.1v-6M402.9 369.1v-6M488.7 369.1v-6M574.6 369.1v-6" stroke="#223" stroke-width="0.7"/>
<text x="60.4" y="389" font-size="19" text-anchor="middle" font-weight="normal" fill="#231f20">–6</text>
<text x="146.3" y="389" font-size="19" text-anchor="middle" font-weight="normal" fill="#231f20">–4</text>
<text x="232.1" y="389" font-size="19" text-anchor="middle" font-weight="normal" fill="#231f20">–2</text>
<text x="318" y="389" font-size="19" text-anchor="middle" font-weight="normal" fill="#231f20">0</text>
<text x="403.9" y="389" font-size="19" text-anchor="middle" font-weight="normal" fill="#231f20">2</text>
<text x="489.7" y="389" font-size="19" text-anchor="middle" font-weight="normal" fill="#231f20">4</text>
<text x="575.6" y="389" font-size="19" text-anchor="middle" font-weight="normal" fill="#231f20">6</text>
<text x="297.7" y="412.6" font-size="19" text-anchor="start" font-weight="normal" fill="#231f20">Height (km)</text>
<linearGradient id="gb" x1="0" y1="0" x2="1" y2="0">
<stop offset="0.0000" stop-color="#2b3a7e"/>
<stop offset="0.0250" stop-color="#2d3f8c"/>
<stop offset="0.0500" stop-color="#2f4395"/>
<stop offset="0.0750" stop-color="#30469b"/>
<stop offset="0.1000" stop-color="#3249a0"/>
<stop offset="0.1250" stop-color="#344da3"/>
<stop offset="0.1500" stop-color="#3751a6"/>
<stop offset="0.1750" stop-color="#3955a9"/>
<stop offset="0.2000" stop-color="#3f5daf"/>
<stop offset="0.2250" stop-color="#4766b5"/>
<stop offset="0.2500" stop-color="#5077bf"/>
<stop offset="0.2750" stop-color="#5a8bcc"/>
<stop offset="0.3000" stop-color="#62a3dd"/>
<stop offset="0.3250" stop-color="#6abbef"/>
<stop offset="0.3500" stop-color="#75c2e7"/>
<stop offset="0.3750" stop-color="#7fc6d8"/>
<stop offset="0.4000" stop-color="#86c7c7"/>
<stop offset="0.4250" stop-color="#8ac6af"/>
<stop offset="0.4500" stop-color="#8cc494"/>
<stop offset="0.4750" stop-color="#92c681"/>
<stop offset="0.5000" stop-color="#97c86f"/>
<stop offset="0.5250" stop-color="#a4cc65"/>
<stop offset="0.5500" stop-color="#b2d15d"/>
<stop offset="0.5750" stop-color="#c1d654"/>
<stop offset="0.6000" stop-color="#d1db4d"/>
<stop offset="0.6250" stop-color="#e4e146"/>
<stop offset="0.6500" stop-color="#f4e240"/>
<stop offset="0.6750" stop-color="#f1ca40"/>
<stop offset="0.7000" stop-color="#edb040"/>
<stop offset="0.7250" stop-color="#e99440"/>
<stop offset="0.7500" stop-color="#e38240"/>
<stop offset="0.7750" stop-color="#de7240"/>
<stop offset="0.8000" stop-color="#d96240"/>
<stop offset="0.8250" stop-color="#d7513c"/>
<stop offset="0.8500" stop-color="#d64038"/>
<stop offset="0.8750" stop-color="#d52f34"/>
<stop offset="0.9000" stop-color="#d2202f"/>
<stop offset="0.9250" stop-color="#c0202a"/>
<stop offset="0.9500" stop-color="#a51e24"/>
<stop offset="0.9750" stop-color="#821b1e"/>
<stop offset="1.0000" stop-color="#601818"/>
</linearGradient>
<rect x="49.4" y="796.7" width="619.4" height="17" fill="url(#gb)"/>
<path d="M77.6 813.7v-6M162.1 813.7v-6M246.6 813.7v-6M331 813.7v-6M415.4 813.7v-6M499.9 813.7v-6M584.4 813.7v-6" stroke="#223" stroke-width="0.7"/>
<text x="78.6" y="832.7" font-size="19" text-anchor="middle" font-weight="normal" fill="#231f20">–150</text>
<text x="163.1" y="832.7" font-size="19" text-anchor="middle" font-weight="normal" fill="#231f20">–100</text>
<text x="247.6" y="832.7" font-size="19" text-anchor="middle" font-weight="normal" fill="#231f20">–50</text>
<text x="332" y="832.7" font-size="19" text-anchor="middle" font-weight="normal" fill="#231f20">0</text>
<text x="416.4" y="832.7" font-size="19" text-anchor="middle" font-weight="normal" fill="#231f20">50</text>
<text x="500.9" y="832.7" font-size="19" text-anchor="middle" font-weight="normal" fill="#231f20">100</text>
<text x="585.4" y="832.7" font-size="19" text-anchor="middle" font-weight="normal" fill="#231f20">150</text>
<text x="242.2" y="858.5" font-size="19" text-anchor="start" font-weight="normal" fill="#231f20">Bouguer anomaly (mGal)</text>
</svg></body></html>
